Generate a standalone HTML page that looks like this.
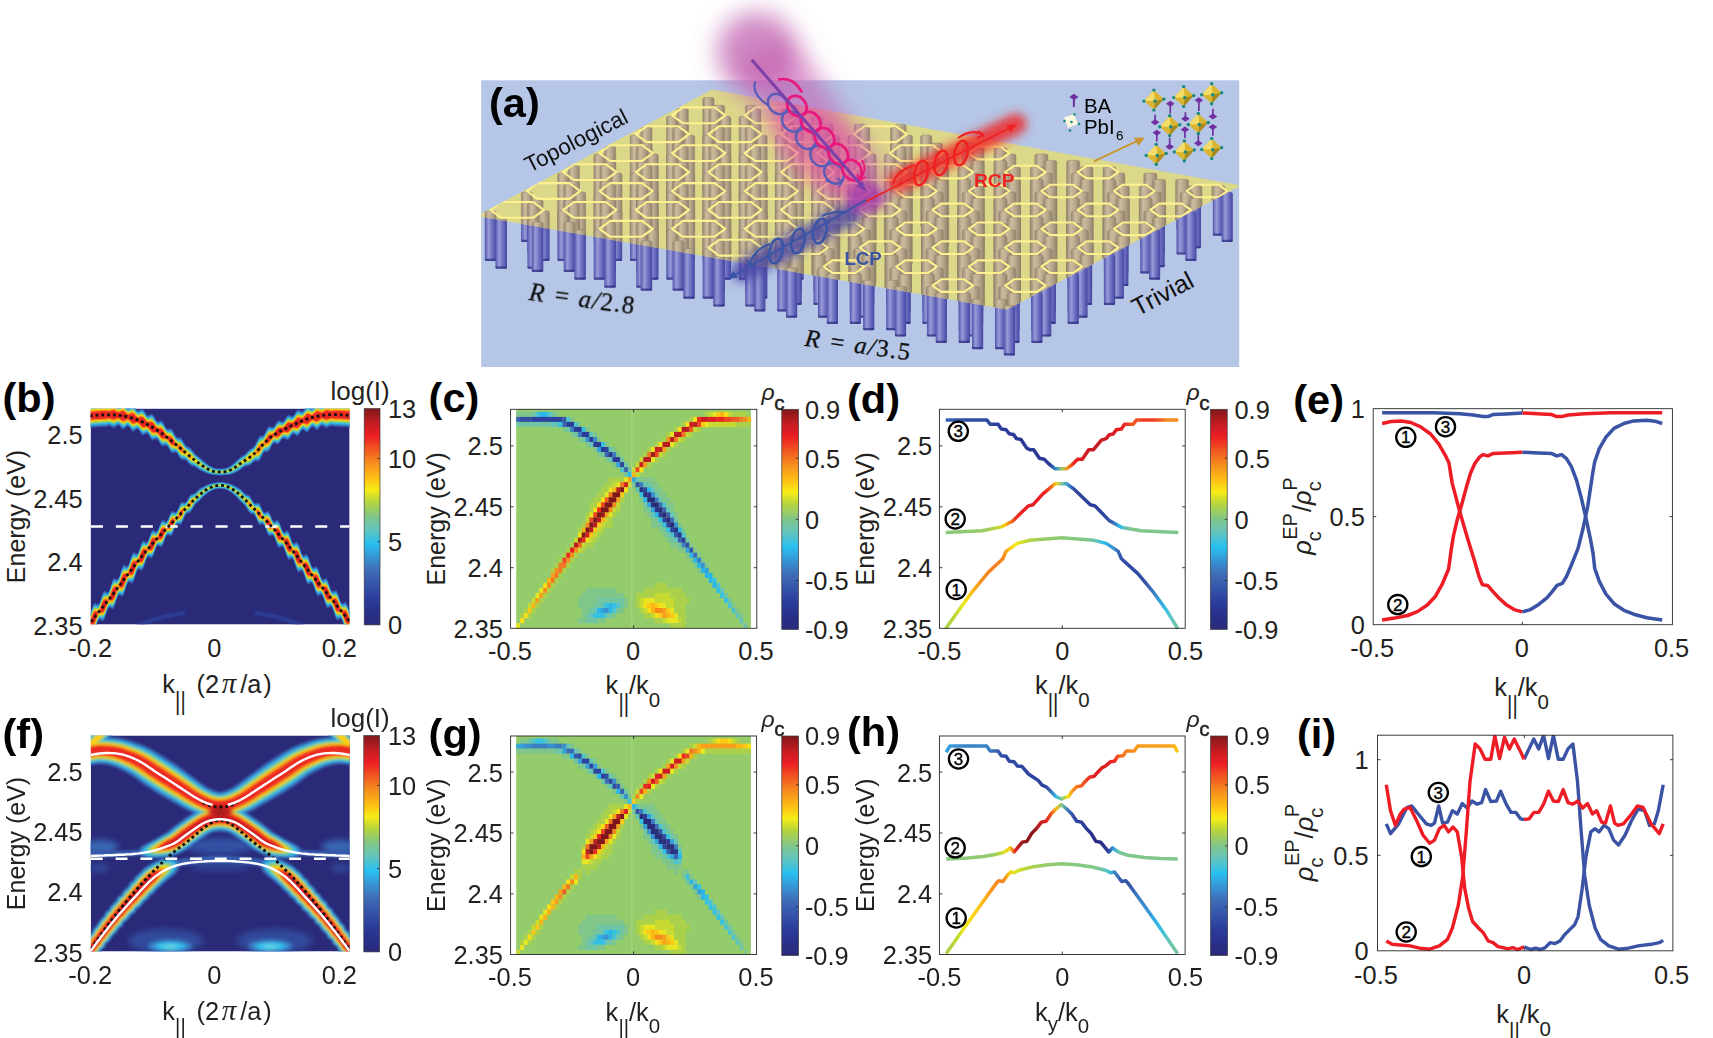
<!DOCTYPE html><html><head><meta charset="utf-8"><title>Figure</title><style>html,body{margin:0;padding:0;background:#fff}svg{display:block}text{font-family:'Liberation Sans', Arial, sans-serif}</style></head><body>
<svg width="1713" height="1038" viewBox="0 0 1713 1038">
<defs>
<linearGradient id="jetg" x1="0" y1="0" x2="0" y2="1"><stop offset="0.000" stop-color="#80181a"/><stop offset="0.060" stop-color="#be1c22"/><stop offset="0.125" stop-color="#ec1e24"/><stop offset="0.180" stop-color="#f05022"/><stop offset="0.250" stop-color="#f68c1e"/><stop offset="0.320" stop-color="#fcbe14"/><stop offset="0.375" stop-color="#f8ec16"/><stop offset="0.430" stop-color="#b6d43c"/><stop offset="0.500" stop-color="#80c68a"/><stop offset="0.560" stop-color="#62c4be"/><stop offset="0.625" stop-color="#28c0f0"/><stop offset="0.670" stop-color="#34a0dc"/><stop offset="0.750" stop-color="#3e6cb6"/><stop offset="0.875" stop-color="#2c3e9c"/><stop offset="0.940" stop-color="#28308a"/><stop offset="1.000" stop-color="#2a2a7a"/></linearGradient>
<filter id="blur05" x="-50%" y="-50%" width="200%" height="200%"><feGaussianBlur stdDeviation="0.45"/></filter>
<filter id="blur07" x="-50%" y="-50%" width="200%" height="200%"><feGaussianBlur stdDeviation="0.75"/></filter>
<filter id="blur1" x="-50%" y="-50%" width="200%" height="200%"><feGaussianBlur stdDeviation="1"/></filter>
<filter id="blur2" x="-50%" y="-50%" width="200%" height="200%"><feGaussianBlur stdDeviation="2"/></filter>
<filter id="blur3" x="-50%" y="-50%" width="200%" height="200%"><feGaussianBlur stdDeviation="3"/></filter>
<filter id="blur5" x="-50%" y="-50%" width="200%" height="200%"><feGaussianBlur stdDeviation="5"/></filter>
<filter id="blur8" x="-50%" y="-50%" width="200%" height="200%"><feGaussianBlur stdDeviation="8"/></filter>
<filter id="blur12" x="-50%" y="-50%" width="200%" height="200%"><feGaussianBlur stdDeviation="12"/></filter>
</defs>
<rect width="1713" height="1038" fill="#fff"/>
<defs>
<linearGradient id="pilg" x1="0" y1="0" x2="1" y2="0"><stop offset="0" stop-color="#5254ac"/><stop offset="0.32" stop-color="#989bd8"/><stop offset="0.62" stop-color="#7073c2"/><stop offset="1" stop-color="#4547a2"/></linearGradient>
<linearGradient id="pilt" x1="0" y1="0" x2="1" y2="0"><stop offset="0" stop-color="#918271"/><stop offset="0.32" stop-color="#cbbba0"/><stop offset="0.62" stop-color="#b6a68e"/><stop offset="1" stop-color="#8b7c6b"/></linearGradient>
<clipPath id="clipa"><rect x="481.2" y="80.3" width="758.0" height="286.7"/></clipPath>
<clipPath id="clipplane"><path d="M477.0 216.0 L712.0 89.5 L1241.0 185.5 L1007.0 309.6Z"/></clipPath>
<clipPath id="belowback"><path d="M472.0 218.7 L712.0 89.5 L1246.0 186.4 L1246.0 400 L472.0 400Z"/></clipPath>
</defs>
<rect x="481.2" y="80.3" width="758.0" height="286.7" fill="#b5c6e6"/>
<g clip-path="url(#clipa)">
<g clip-path="url(#belowback)"><rect x="702.6" y="97.4" width="11.6" height="50.0" rx="2" fill="url(#pilg)"/><rect x="702.6" y="145.2" width="11.6" height="2.2" rx="1" fill="#2e2f84" opacity="0.75"/><rect x="745.2" y="105.3" width="11.6" height="50.0" rx="2" fill="url(#pilg)"/><rect x="745.2" y="153.1" width="11.6" height="2.2" rx="1" fill="#2e2f84" opacity="0.75"/><rect x="713.2" y="105.3" width="11.6" height="50.0" rx="2" fill="url(#pilg)"/><rect x="713.2" y="153.1" width="11.6" height="2.2" rx="1" fill="#2e2f84" opacity="0.75"/><rect x="785.8" y="105.3" width="11.6" height="50.0" rx="2" fill="url(#pilg)"/><rect x="785.8" y="153.1" width="11.6" height="2.2" rx="1" fill="#2e2f84" opacity="0.75"/><rect x="676.9" y="108.4" width="11.6" height="50.0" rx="2" fill="url(#pilg)"/><rect x="676.9" y="156.2" width="11.6" height="2.2" rx="1" fill="#2e2f84" opacity="0.75"/><rect x="708.9" y="108.4" width="11.6" height="50.0" rx="2" fill="url(#pilg)"/><rect x="708.9" y="156.2" width="11.6" height="2.2" rx="1" fill="#2e2f84" opacity="0.75"/><rect x="749.5" y="108.4" width="11.6" height="50.0" rx="2" fill="url(#pilg)"/><rect x="749.5" y="156.2" width="11.6" height="2.2" rx="1" fill="#2e2f84" opacity="0.75"/><rect x="781.5" y="108.4" width="11.6" height="50.0" rx="2" fill="url(#pilg)"/><rect x="781.5" y="156.2" width="11.6" height="2.2" rx="1" fill="#2e2f84" opacity="0.75"/><rect x="666.3" y="116.3" width="11.6" height="50.0" rx="2" fill="url(#pilg)"/><rect x="666.3" y="164.1" width="11.6" height="2.2" rx="1" fill="#2e2f84" opacity="0.75"/><rect x="719.5" y="116.3" width="11.6" height="50.0" rx="2" fill="url(#pilg)"/><rect x="719.5" y="164.1" width="11.6" height="2.2" rx="1" fill="#2e2f84" opacity="0.75"/><rect x="738.9" y="116.3" width="11.6" height="50.0" rx="2" fill="url(#pilg)"/><rect x="738.9" y="164.1" width="11.6" height="2.2" rx="1" fill="#2e2f84" opacity="0.75"/><rect x="792.1" y="116.3" width="11.6" height="50.0" rx="2" fill="url(#pilg)"/><rect x="792.1" y="164.1" width="11.6" height="2.2" rx="1" fill="#2e2f84" opacity="0.75"/><rect x="811.5" y="116.3" width="11.6" height="50.0" rx="2" fill="url(#pilg)"/><rect x="811.5" y="164.1" width="11.6" height="2.2" rx="1" fill="#2e2f84" opacity="0.75"/><rect x="708.9" y="124.2" width="11.6" height="50.0" rx="2" fill="url(#pilg)"/><rect x="708.9" y="172.0" width="11.6" height="2.2" rx="1" fill="#2e2f84" opacity="0.75"/><rect x="676.9" y="124.2" width="11.6" height="50.0" rx="2" fill="url(#pilg)"/><rect x="676.9" y="172.0" width="11.6" height="2.2" rx="1" fill="#2e2f84" opacity="0.75"/><rect x="781.5" y="124.2" width="11.6" height="50.0" rx="2" fill="url(#pilg)"/><rect x="781.5" y="172.0" width="11.6" height="2.2" rx="1" fill="#2e2f84" opacity="0.75"/><rect x="749.5" y="124.2" width="11.6" height="50.0" rx="2" fill="url(#pilg)"/><rect x="749.5" y="172.0" width="11.6" height="2.2" rx="1" fill="#2e2f84" opacity="0.75"/><rect x="854.1" y="124.2" width="11.6" height="50.0" rx="2" fill="url(#pilg)"/><rect x="854.1" y="172.0" width="11.6" height="2.2" rx="1" fill="#2e2f84" opacity="0.75"/><rect x="822.1" y="124.2" width="11.6" height="50.0" rx="2" fill="url(#pilg)"/><rect x="822.1" y="172.0" width="11.6" height="2.2" rx="1" fill="#2e2f84" opacity="0.75"/><rect x="894.7" y="124.2" width="11.6" height="50.0" rx="2" fill="url(#pilg)"/><rect x="894.7" y="172.0" width="11.6" height="2.2" rx="1" fill="#2e2f84" opacity="0.75"/><rect x="640.6" y="127.3" width="11.6" height="50.0" rx="2" fill="url(#pilg)"/><rect x="640.6" y="175.1" width="11.6" height="2.2" rx="1" fill="#2e2f84" opacity="0.75"/><rect x="672.6" y="127.3" width="11.6" height="50.0" rx="2" fill="url(#pilg)"/><rect x="672.6" y="175.1" width="11.6" height="2.2" rx="1" fill="#2e2f84" opacity="0.75"/><rect x="713.2" y="127.3" width="11.6" height="50.0" rx="2" fill="url(#pilg)"/><rect x="713.2" y="175.1" width="11.6" height="2.2" rx="1" fill="#2e2f84" opacity="0.75"/><rect x="745.2" y="127.3" width="11.6" height="50.0" rx="2" fill="url(#pilg)"/><rect x="745.2" y="175.1" width="11.6" height="2.2" rx="1" fill="#2e2f84" opacity="0.75"/><rect x="785.8" y="127.3" width="11.6" height="50.0" rx="2" fill="url(#pilg)"/><rect x="785.8" y="175.1" width="11.6" height="2.2" rx="1" fill="#2e2f84" opacity="0.75"/><rect x="817.8" y="127.3" width="11.6" height="50.0" rx="2" fill="url(#pilg)"/><rect x="817.8" y="175.1" width="11.6" height="2.2" rx="1" fill="#2e2f84" opacity="0.75"/><rect x="858.4" y="127.3" width="11.6" height="50.0" rx="2" fill="url(#pilg)"/><rect x="858.4" y="175.1" width="11.6" height="2.2" rx="1" fill="#2e2f84" opacity="0.75"/><rect x="890.4" y="127.3" width="11.6" height="50.0" rx="2" fill="url(#pilg)"/><rect x="890.4" y="175.1" width="11.6" height="2.2" rx="1" fill="#2e2f84" opacity="0.75"/><rect x="630.0" y="135.2" width="11.6" height="50.0" rx="2" fill="url(#pilg)"/><rect x="630.0" y="183.0" width="11.6" height="2.2" rx="1" fill="#2e2f84" opacity="0.75"/><rect x="683.2" y="135.2" width="11.6" height="50.0" rx="2" fill="url(#pilg)"/><rect x="683.2" y="183.0" width="11.6" height="2.2" rx="1" fill="#2e2f84" opacity="0.75"/><rect x="702.6" y="135.2" width="11.6" height="50.0" rx="2" fill="url(#pilg)"/><rect x="702.6" y="183.0" width="11.6" height="2.2" rx="1" fill="#2e2f84" opacity="0.75"/><rect x="755.8" y="135.2" width="11.6" height="50.0" rx="2" fill="url(#pilg)"/><rect x="755.8" y="183.0" width="11.6" height="2.2" rx="1" fill="#2e2f84" opacity="0.75"/><rect x="775.2" y="135.2" width="11.6" height="50.0" rx="2" fill="url(#pilg)"/><rect x="775.2" y="183.0" width="11.6" height="2.2" rx="1" fill="#2e2f84" opacity="0.75"/><rect x="828.4" y="135.2" width="11.6" height="50.0" rx="2" fill="url(#pilg)"/><rect x="828.4" y="183.0" width="11.6" height="2.2" rx="1" fill="#2e2f84" opacity="0.75"/><rect x="847.8" y="135.2" width="11.6" height="50.0" rx="2" fill="url(#pilg)"/><rect x="847.8" y="183.0" width="11.6" height="2.2" rx="1" fill="#2e2f84" opacity="0.75"/><rect x="901.0" y="135.2" width="11.6" height="50.0" rx="2" fill="url(#pilg)"/><rect x="901.0" y="183.0" width="11.6" height="2.2" rx="1" fill="#2e2f84" opacity="0.75"/><rect x="920.4" y="135.2" width="11.6" height="50.0" rx="2" fill="url(#pilg)"/><rect x="920.4" y="183.0" width="11.6" height="2.2" rx="1" fill="#2e2f84" opacity="0.75"/><rect x="672.6" y="143.1" width="11.6" height="50.0" rx="2" fill="url(#pilg)"/><rect x="672.6" y="190.9" width="11.6" height="2.2" rx="1" fill="#2e2f84" opacity="0.75"/><rect x="640.6" y="143.1" width="11.6" height="50.0" rx="2" fill="url(#pilg)"/><rect x="640.6" y="190.9" width="11.6" height="2.2" rx="1" fill="#2e2f84" opacity="0.75"/><rect x="745.2" y="143.1" width="11.6" height="50.0" rx="2" fill="url(#pilg)"/><rect x="745.2" y="190.9" width="11.6" height="2.2" rx="1" fill="#2e2f84" opacity="0.75"/><rect x="713.2" y="143.1" width="11.6" height="50.0" rx="2" fill="url(#pilg)"/><rect x="713.2" y="190.9" width="11.6" height="2.2" rx="1" fill="#2e2f84" opacity="0.75"/><rect x="817.8" y="143.1" width="11.6" height="50.0" rx="2" fill="url(#pilg)"/><rect x="817.8" y="190.9" width="11.6" height="2.2" rx="1" fill="#2e2f84" opacity="0.75"/><rect x="785.8" y="143.1" width="11.6" height="50.0" rx="2" fill="url(#pilg)"/><rect x="785.8" y="190.9" width="11.6" height="2.2" rx="1" fill="#2e2f84" opacity="0.75"/><rect x="890.4" y="143.1" width="11.6" height="50.0" rx="2" fill="url(#pilg)"/><rect x="890.4" y="190.9" width="11.6" height="2.2" rx="1" fill="#2e2f84" opacity="0.75"/><rect x="858.4" y="143.1" width="11.6" height="50.0" rx="2" fill="url(#pilg)"/><rect x="858.4" y="190.9" width="11.6" height="2.2" rx="1" fill="#2e2f84" opacity="0.75"/><rect x="963.0" y="143.1" width="11.6" height="50.0" rx="2" fill="url(#pilg)"/><rect x="963.0" y="190.9" width="11.6" height="2.2" rx="1" fill="#2e2f84" opacity="0.75"/><rect x="931.0" y="143.1" width="11.6" height="50.0" rx="2" fill="url(#pilg)"/><rect x="931.0" y="190.9" width="11.6" height="2.2" rx="1" fill="#2e2f84" opacity="0.75"/><rect x="604.3" y="146.2" width="11.6" height="50.0" rx="2" fill="url(#pilg)"/><rect x="604.3" y="194.0" width="11.6" height="2.2" rx="1" fill="#2e2f84" opacity="0.75"/><rect x="636.3" y="146.2" width="11.6" height="50.0" rx="2" fill="url(#pilg)"/><rect x="636.3" y="194.0" width="11.6" height="2.2" rx="1" fill="#2e2f84" opacity="0.75"/><rect x="676.9" y="146.2" width="11.6" height="50.0" rx="2" fill="url(#pilg)"/><rect x="676.9" y="194.0" width="11.6" height="2.2" rx="1" fill="#2e2f84" opacity="0.75"/><rect x="708.9" y="146.2" width="11.6" height="50.0" rx="2" fill="url(#pilg)"/><rect x="708.9" y="194.0" width="11.6" height="2.2" rx="1" fill="#2e2f84" opacity="0.75"/><rect x="749.5" y="146.2" width="11.6" height="50.0" rx="2" fill="url(#pilg)"/><rect x="749.5" y="194.0" width="11.6" height="2.2" rx="1" fill="#2e2f84" opacity="0.75"/><rect x="781.5" y="146.2" width="11.6" height="50.0" rx="2" fill="url(#pilg)"/><rect x="781.5" y="194.0" width="11.6" height="2.2" rx="1" fill="#2e2f84" opacity="0.75"/><rect x="822.1" y="146.2" width="11.6" height="50.0" rx="2" fill="url(#pilg)"/><rect x="822.1" y="194.0" width="11.6" height="2.2" rx="1" fill="#2e2f84" opacity="0.75"/><rect x="854.1" y="146.2" width="11.6" height="50.0" rx="2" fill="url(#pilg)"/><rect x="854.1" y="194.0" width="11.6" height="2.2" rx="1" fill="#2e2f84" opacity="0.75"/><rect x="894.7" y="146.2" width="11.6" height="50.0" rx="2" fill="url(#pilg)"/><rect x="894.7" y="194.0" width="11.6" height="2.2" rx="1" fill="#2e2f84" opacity="0.75"/><rect x="926.7" y="146.2" width="11.6" height="50.0" rx="2" fill="url(#pilg)"/><rect x="926.7" y="194.0" width="11.6" height="2.2" rx="1" fill="#2e2f84" opacity="0.75"/><rect x="972.0" y="147.8" width="11.2" height="50.0" rx="2" fill="url(#pilg)"/><rect x="972.0" y="195.6" width="11.2" height="2.2" rx="1" fill="#2e2f84" opacity="0.75"/><rect x="995.0" y="147.8" width="11.2" height="50.0" rx="2" fill="url(#pilg)"/><rect x="995.0" y="195.6" width="11.2" height="2.2" rx="1" fill="#2e2f84" opacity="0.75"/><rect x="593.7" y="154.1" width="11.6" height="50.0" rx="2" fill="url(#pilg)"/><rect x="593.7" y="201.9" width="11.6" height="2.2" rx="1" fill="#2e2f84" opacity="0.75"/><rect x="646.9" y="154.1" width="11.6" height="50.0" rx="2" fill="url(#pilg)"/><rect x="646.9" y="201.9" width="11.6" height="2.2" rx="1" fill="#2e2f84" opacity="0.75"/><rect x="666.3" y="154.1" width="11.6" height="50.0" rx="2" fill="url(#pilg)"/><rect x="666.3" y="201.9" width="11.6" height="2.2" rx="1" fill="#2e2f84" opacity="0.75"/><rect x="719.5" y="154.1" width="11.6" height="50.0" rx="2" fill="url(#pilg)"/><rect x="719.5" y="201.9" width="11.6" height="2.2" rx="1" fill="#2e2f84" opacity="0.75"/><rect x="738.9" y="154.1" width="11.6" height="50.0" rx="2" fill="url(#pilg)"/><rect x="738.9" y="201.9" width="11.6" height="2.2" rx="1" fill="#2e2f84" opacity="0.75"/><rect x="792.1" y="154.1" width="11.6" height="50.0" rx="2" fill="url(#pilg)"/><rect x="792.1" y="201.9" width="11.6" height="2.2" rx="1" fill="#2e2f84" opacity="0.75"/><rect x="811.5" y="154.1" width="11.6" height="50.0" rx="2" fill="url(#pilg)"/><rect x="811.5" y="201.9" width="11.6" height="2.2" rx="1" fill="#2e2f84" opacity="0.75"/><rect x="864.7" y="154.1" width="11.6" height="50.0" rx="2" fill="url(#pilg)"/><rect x="864.7" y="201.9" width="11.6" height="2.2" rx="1" fill="#2e2f84" opacity="0.75"/><rect x="884.1" y="154.1" width="11.6" height="50.0" rx="2" fill="url(#pilg)"/><rect x="884.1" y="201.9" width="11.6" height="2.2" rx="1" fill="#2e2f84" opacity="0.75"/><rect x="937.3" y="154.1" width="11.6" height="50.0" rx="2" fill="url(#pilg)"/><rect x="937.3" y="201.9" width="11.6" height="2.2" rx="1" fill="#2e2f84" opacity="0.75"/><rect x="963.2" y="154.1" width="11.2" height="50.0" rx="2" fill="url(#pilg)"/><rect x="963.2" y="201.9" width="11.2" height="2.2" rx="1" fill="#2e2f84" opacity="0.75"/><rect x="1003.8" y="154.1" width="11.2" height="50.0" rx="2" fill="url(#pilg)"/><rect x="1003.8" y="201.9" width="11.2" height="2.2" rx="1" fill="#2e2f84" opacity="0.75"/><rect x="1035.8" y="154.1" width="11.2" height="50.0" rx="2" fill="url(#pilg)"/><rect x="1035.8" y="201.9" width="11.2" height="2.2" rx="1" fill="#2e2f84" opacity="0.75"/><rect x="995.0" y="160.4" width="11.2" height="50.0" rx="2" fill="url(#pilg)"/><rect x="995.0" y="208.2" width="11.2" height="2.2" rx="1" fill="#2e2f84" opacity="0.75"/><rect x="972.0" y="160.4" width="11.2" height="50.0" rx="2" fill="url(#pilg)"/><rect x="972.0" y="208.2" width="11.2" height="2.2" rx="1" fill="#2e2f84" opacity="0.75"/><rect x="1067.6" y="160.4" width="11.2" height="50.0" rx="2" fill="url(#pilg)"/><rect x="1067.6" y="208.2" width="11.2" height="2.2" rx="1" fill="#2e2f84" opacity="0.75"/><rect x="1044.6" y="160.4" width="11.2" height="50.0" rx="2" fill="url(#pilg)"/><rect x="1044.6" y="208.2" width="11.2" height="2.2" rx="1" fill="#2e2f84" opacity="0.75"/><rect x="636.3" y="162.0" width="11.6" height="50.0" rx="2" fill="url(#pilg)"/><rect x="636.3" y="209.8" width="11.6" height="2.2" rx="1" fill="#2e2f84" opacity="0.75"/><rect x="604.3" y="162.0" width="11.6" height="50.0" rx="2" fill="url(#pilg)"/><rect x="604.3" y="209.8" width="11.6" height="2.2" rx="1" fill="#2e2f84" opacity="0.75"/><rect x="708.9" y="162.0" width="11.6" height="50.0" rx="2" fill="url(#pilg)"/><rect x="708.9" y="209.8" width="11.6" height="2.2" rx="1" fill="#2e2f84" opacity="0.75"/><rect x="676.9" y="162.0" width="11.6" height="50.0" rx="2" fill="url(#pilg)"/><rect x="676.9" y="209.8" width="11.6" height="2.2" rx="1" fill="#2e2f84" opacity="0.75"/><rect x="781.5" y="162.0" width="11.6" height="50.0" rx="2" fill="url(#pilg)"/><rect x="781.5" y="209.8" width="11.6" height="2.2" rx="1" fill="#2e2f84" opacity="0.75"/><rect x="749.5" y="162.0" width="11.6" height="50.0" rx="2" fill="url(#pilg)"/><rect x="749.5" y="209.8" width="11.6" height="2.2" rx="1" fill="#2e2f84" opacity="0.75"/><rect x="854.1" y="162.0" width="11.6" height="50.0" rx="2" fill="url(#pilg)"/><rect x="854.1" y="209.8" width="11.6" height="2.2" rx="1" fill="#2e2f84" opacity="0.75"/><rect x="822.1" y="162.0" width="11.6" height="50.0" rx="2" fill="url(#pilg)"/><rect x="822.1" y="209.8" width="11.6" height="2.2" rx="1" fill="#2e2f84" opacity="0.75"/><rect x="926.7" y="162.0" width="11.6" height="50.0" rx="2" fill="url(#pilg)"/><rect x="926.7" y="209.8" width="11.6" height="2.2" rx="1" fill="#2e2f84" opacity="0.75"/><rect x="894.7" y="162.0" width="11.6" height="50.0" rx="2" fill="url(#pilg)"/><rect x="894.7" y="209.8" width="11.6" height="2.2" rx="1" fill="#2e2f84" opacity="0.75"/><rect x="568.0" y="165.2" width="11.6" height="50.0" rx="2" fill="url(#pilg)"/><rect x="568.0" y="213.0" width="11.6" height="2.2" rx="1" fill="#2e2f84" opacity="0.75"/><rect x="600.0" y="165.2" width="11.6" height="50.0" rx="2" fill="url(#pilg)"/><rect x="600.0" y="213.0" width="11.6" height="2.2" rx="1" fill="#2e2f84" opacity="0.75"/><rect x="640.6" y="165.2" width="11.6" height="50.0" rx="2" fill="url(#pilg)"/><rect x="640.6" y="213.0" width="11.6" height="2.2" rx="1" fill="#2e2f84" opacity="0.75"/><rect x="672.6" y="165.2" width="11.6" height="50.0" rx="2" fill="url(#pilg)"/><rect x="672.6" y="213.0" width="11.6" height="2.2" rx="1" fill="#2e2f84" opacity="0.75"/><rect x="713.2" y="165.2" width="11.6" height="50.0" rx="2" fill="url(#pilg)"/><rect x="713.2" y="213.0" width="11.6" height="2.2" rx="1" fill="#2e2f84" opacity="0.75"/><rect x="745.2" y="165.2" width="11.6" height="50.0" rx="2" fill="url(#pilg)"/><rect x="745.2" y="213.0" width="11.6" height="2.2" rx="1" fill="#2e2f84" opacity="0.75"/><rect x="785.8" y="165.2" width="11.6" height="50.0" rx="2" fill="url(#pilg)"/><rect x="785.8" y="213.0" width="11.6" height="2.2" rx="1" fill="#2e2f84" opacity="0.75"/><rect x="817.8" y="165.2" width="11.6" height="50.0" rx="2" fill="url(#pilg)"/><rect x="817.8" y="213.0" width="11.6" height="2.2" rx="1" fill="#2e2f84" opacity="0.75"/><rect x="858.4" y="165.2" width="11.6" height="50.0" rx="2" fill="url(#pilg)"/><rect x="858.4" y="213.0" width="11.6" height="2.2" rx="1" fill="#2e2f84" opacity="0.75"/><rect x="890.4" y="165.2" width="11.6" height="50.0" rx="2" fill="url(#pilg)"/><rect x="890.4" y="213.0" width="11.6" height="2.2" rx="1" fill="#2e2f84" opacity="0.75"/><rect x="935.7" y="166.8" width="11.2" height="50.0" rx="2" fill="url(#pilg)"/><rect x="935.7" y="214.6" width="11.2" height="2.2" rx="1" fill="#2e2f84" opacity="0.75"/><rect x="958.7" y="166.8" width="11.2" height="50.0" rx="2" fill="url(#pilg)"/><rect x="958.7" y="214.6" width="11.2" height="2.2" rx="1" fill="#2e2f84" opacity="0.75"/><rect x="1008.3" y="166.8" width="11.2" height="50.0" rx="2" fill="url(#pilg)"/><rect x="1008.3" y="214.6" width="11.2" height="2.2" rx="1" fill="#2e2f84" opacity="0.75"/><rect x="1031.3" y="166.8" width="11.2" height="50.0" rx="2" fill="url(#pilg)"/><rect x="1031.3" y="214.6" width="11.2" height="2.2" rx="1" fill="#2e2f84" opacity="0.75"/><rect x="1080.9" y="166.8" width="11.2" height="50.0" rx="2" fill="url(#pilg)"/><rect x="1080.9" y="214.6" width="11.2" height="2.2" rx="1" fill="#2e2f84" opacity="0.75"/><rect x="1103.9" y="166.8" width="11.2" height="50.0" rx="2" fill="url(#pilg)"/><rect x="1103.9" y="214.6" width="11.2" height="2.2" rx="1" fill="#2e2f84" opacity="0.75"/><rect x="557.4" y="173.1" width="11.6" height="50.0" rx="2" fill="url(#pilg)"/><rect x="557.4" y="220.9" width="11.6" height="2.2" rx="1" fill="#2e2f84" opacity="0.75"/><rect x="610.6" y="173.1" width="11.6" height="50.0" rx="2" fill="url(#pilg)"/><rect x="610.6" y="220.9" width="11.6" height="2.2" rx="1" fill="#2e2f84" opacity="0.75"/><rect x="630.0" y="173.1" width="11.6" height="50.0" rx="2" fill="url(#pilg)"/><rect x="630.0" y="220.9" width="11.6" height="2.2" rx="1" fill="#2e2f84" opacity="0.75"/><rect x="683.2" y="173.1" width="11.6" height="50.0" rx="2" fill="url(#pilg)"/><rect x="683.2" y="220.9" width="11.6" height="2.2" rx="1" fill="#2e2f84" opacity="0.75"/><rect x="702.6" y="173.1" width="11.6" height="50.0" rx="2" fill="url(#pilg)"/><rect x="702.6" y="220.9" width="11.6" height="2.2" rx="1" fill="#2e2f84" opacity="0.75"/><rect x="755.8" y="173.1" width="11.6" height="50.0" rx="2" fill="url(#pilg)"/><rect x="755.8" y="220.9" width="11.6" height="2.2" rx="1" fill="#2e2f84" opacity="0.75"/><rect x="775.2" y="173.1" width="11.6" height="50.0" rx="2" fill="url(#pilg)"/><rect x="775.2" y="220.9" width="11.6" height="2.2" rx="1" fill="#2e2f84" opacity="0.75"/><rect x="828.4" y="173.1" width="11.6" height="50.0" rx="2" fill="url(#pilg)"/><rect x="828.4" y="220.9" width="11.6" height="2.2" rx="1" fill="#2e2f84" opacity="0.75"/><rect x="847.8" y="173.1" width="11.6" height="50.0" rx="2" fill="url(#pilg)"/><rect x="847.8" y="220.9" width="11.6" height="2.2" rx="1" fill="#2e2f84" opacity="0.75"/><rect x="901.0" y="173.1" width="11.6" height="50.0" rx="2" fill="url(#pilg)"/><rect x="901.0" y="220.9" width="11.6" height="2.2" rx="1" fill="#2e2f84" opacity="0.75"/><rect x="926.9" y="173.1" width="11.2" height="50.0" rx="2" fill="url(#pilg)"/><rect x="926.9" y="220.9" width="11.2" height="2.2" rx="1" fill="#2e2f84" opacity="0.75"/><rect x="967.5" y="173.1" width="11.2" height="50.0" rx="2" fill="url(#pilg)"/><rect x="967.5" y="220.9" width="11.2" height="2.2" rx="1" fill="#2e2f84" opacity="0.75"/><rect x="999.5" y="173.1" width="11.2" height="50.0" rx="2" fill="url(#pilg)"/><rect x="999.5" y="220.9" width="11.2" height="2.2" rx="1" fill="#2e2f84" opacity="0.75"/><rect x="1040.1" y="173.1" width="11.2" height="50.0" rx="2" fill="url(#pilg)"/><rect x="1040.1" y="220.9" width="11.2" height="2.2" rx="1" fill="#2e2f84" opacity="0.75"/><rect x="1072.1" y="173.1" width="11.2" height="50.0" rx="2" fill="url(#pilg)"/><rect x="1072.1" y="220.9" width="11.2" height="2.2" rx="1" fill="#2e2f84" opacity="0.75"/><rect x="1112.7" y="173.1" width="11.2" height="50.0" rx="2" fill="url(#pilg)"/><rect x="1112.7" y="220.9" width="11.2" height="2.2" rx="1" fill="#2e2f84" opacity="0.75"/><rect x="1144.7" y="173.1" width="11.2" height="50.0" rx="2" fill="url(#pilg)"/><rect x="1144.7" y="220.9" width="11.2" height="2.2" rx="1" fill="#2e2f84" opacity="0.75"/><rect x="958.7" y="179.4" width="11.2" height="50.0" rx="2" fill="url(#pilg)"/><rect x="958.7" y="227.2" width="11.2" height="2.2" rx="1" fill="#2e2f84" opacity="0.75"/><rect x="935.7" y="179.4" width="11.2" height="50.0" rx="2" fill="url(#pilg)"/><rect x="935.7" y="227.2" width="11.2" height="2.2" rx="1" fill="#2e2f84" opacity="0.75"/><rect x="1031.3" y="179.4" width="11.2" height="50.0" rx="2" fill="url(#pilg)"/><rect x="1031.3" y="227.2" width="11.2" height="2.2" rx="1" fill="#2e2f84" opacity="0.75"/><rect x="1008.3" y="179.4" width="11.2" height="50.0" rx="2" fill="url(#pilg)"/><rect x="1008.3" y="227.2" width="11.2" height="2.2" rx="1" fill="#2e2f84" opacity="0.75"/><rect x="1103.9" y="179.4" width="11.2" height="50.0" rx="2" fill="url(#pilg)"/><rect x="1103.9" y="227.2" width="11.2" height="2.2" rx="1" fill="#2e2f84" opacity="0.75"/><rect x="1080.9" y="179.4" width="11.2" height="50.0" rx="2" fill="url(#pilg)"/><rect x="1080.9" y="227.2" width="11.2" height="2.2" rx="1" fill="#2e2f84" opacity="0.75"/><rect x="1176.5" y="179.4" width="11.2" height="50.0" rx="2" fill="url(#pilg)"/><rect x="1176.5" y="227.2" width="11.2" height="2.2" rx="1" fill="#2e2f84" opacity="0.75"/><rect x="1153.5" y="179.4" width="11.2" height="50.0" rx="2" fill="url(#pilg)"/><rect x="1153.5" y="227.2" width="11.2" height="2.2" rx="1" fill="#2e2f84" opacity="0.75"/><rect x="600.0" y="181.0" width="11.6" height="50.0" rx="2" fill="url(#pilg)"/><rect x="600.0" y="228.8" width="11.6" height="2.2" rx="1" fill="#2e2f84" opacity="0.75"/><rect x="568.0" y="181.0" width="11.6" height="50.0" rx="2" fill="url(#pilg)"/><rect x="568.0" y="228.8" width="11.6" height="2.2" rx="1" fill="#2e2f84" opacity="0.75"/><rect x="672.6" y="181.0" width="11.6" height="50.0" rx="2" fill="url(#pilg)"/><rect x="672.6" y="228.8" width="11.6" height="2.2" rx="1" fill="#2e2f84" opacity="0.75"/><rect x="640.6" y="181.0" width="11.6" height="50.0" rx="2" fill="url(#pilg)"/><rect x="640.6" y="228.8" width="11.6" height="2.2" rx="1" fill="#2e2f84" opacity="0.75"/><rect x="745.2" y="181.0" width="11.6" height="50.0" rx="2" fill="url(#pilg)"/><rect x="745.2" y="228.8" width="11.6" height="2.2" rx="1" fill="#2e2f84" opacity="0.75"/><rect x="713.2" y="181.0" width="11.6" height="50.0" rx="2" fill="url(#pilg)"/><rect x="713.2" y="228.8" width="11.6" height="2.2" rx="1" fill="#2e2f84" opacity="0.75"/><rect x="817.8" y="181.0" width="11.6" height="50.0" rx="2" fill="url(#pilg)"/><rect x="817.8" y="228.8" width="11.6" height="2.2" rx="1" fill="#2e2f84" opacity="0.75"/><rect x="785.8" y="181.0" width="11.6" height="50.0" rx="2" fill="url(#pilg)"/><rect x="785.8" y="228.8" width="11.6" height="2.2" rx="1" fill="#2e2f84" opacity="0.75"/><rect x="890.4" y="181.0" width="11.6" height="50.0" rx="2" fill="url(#pilg)"/><rect x="890.4" y="228.8" width="11.6" height="2.2" rx="1" fill="#2e2f84" opacity="0.75"/><rect x="858.4" y="181.0" width="11.6" height="50.0" rx="2" fill="url(#pilg)"/><rect x="858.4" y="228.8" width="11.6" height="2.2" rx="1" fill="#2e2f84" opacity="0.75"/><rect x="563.7" y="184.1" width="11.6" height="50.0" rx="2" fill="url(#pilg)"/><rect x="563.7" y="231.9" width="11.6" height="2.2" rx="1" fill="#2e2f84" opacity="0.75"/><rect x="604.3" y="184.1" width="11.6" height="50.0" rx="2" fill="url(#pilg)"/><rect x="604.3" y="231.9" width="11.6" height="2.2" rx="1" fill="#2e2f84" opacity="0.75"/><rect x="636.3" y="184.1" width="11.6" height="50.0" rx="2" fill="url(#pilg)"/><rect x="636.3" y="231.9" width="11.6" height="2.2" rx="1" fill="#2e2f84" opacity="0.75"/><rect x="676.9" y="184.1" width="11.6" height="50.0" rx="2" fill="url(#pilg)"/><rect x="676.9" y="231.9" width="11.6" height="2.2" rx="1" fill="#2e2f84" opacity="0.75"/><rect x="708.9" y="184.1" width="11.6" height="50.0" rx="2" fill="url(#pilg)"/><rect x="708.9" y="231.9" width="11.6" height="2.2" rx="1" fill="#2e2f84" opacity="0.75"/><rect x="749.5" y="184.1" width="11.6" height="50.0" rx="2" fill="url(#pilg)"/><rect x="749.5" y="231.9" width="11.6" height="2.2" rx="1" fill="#2e2f84" opacity="0.75"/><rect x="781.5" y="184.1" width="11.6" height="50.0" rx="2" fill="url(#pilg)"/><rect x="781.5" y="231.9" width="11.6" height="2.2" rx="1" fill="#2e2f84" opacity="0.75"/><rect x="822.1" y="184.1" width="11.6" height="50.0" rx="2" fill="url(#pilg)"/><rect x="822.1" y="231.9" width="11.6" height="2.2" rx="1" fill="#2e2f84" opacity="0.75"/><rect x="854.1" y="184.1" width="11.6" height="50.0" rx="2" fill="url(#pilg)"/><rect x="854.1" y="231.9" width="11.6" height="2.2" rx="1" fill="#2e2f84" opacity="0.75"/><rect x="899.4" y="185.7" width="11.2" height="50.0" rx="2" fill="url(#pilg)"/><rect x="899.4" y="233.5" width="11.2" height="2.2" rx="1" fill="#2e2f84" opacity="0.75"/><rect x="922.4" y="185.7" width="11.2" height="50.0" rx="2" fill="url(#pilg)"/><rect x="922.4" y="233.5" width="11.2" height="2.2" rx="1" fill="#2e2f84" opacity="0.75"/><rect x="972.0" y="185.7" width="11.2" height="50.0" rx="2" fill="url(#pilg)"/><rect x="972.0" y="233.5" width="11.2" height="2.2" rx="1" fill="#2e2f84" opacity="0.75"/><rect x="995.0" y="185.7" width="11.2" height="50.0" rx="2" fill="url(#pilg)"/><rect x="995.0" y="233.5" width="11.2" height="2.2" rx="1" fill="#2e2f84" opacity="0.75"/><rect x="1044.6" y="185.7" width="11.2" height="50.0" rx="2" fill="url(#pilg)"/><rect x="1044.6" y="233.5" width="11.2" height="2.2" rx="1" fill="#2e2f84" opacity="0.75"/><rect x="1067.6" y="185.7" width="11.2" height="50.0" rx="2" fill="url(#pilg)"/><rect x="1067.6" y="233.5" width="11.2" height="2.2" rx="1" fill="#2e2f84" opacity="0.75"/><rect x="1117.2" y="185.7" width="11.2" height="50.0" rx="2" fill="url(#pilg)"/><rect x="1117.2" y="233.5" width="11.2" height="2.2" rx="1" fill="#2e2f84" opacity="0.75"/><rect x="1140.2" y="185.7" width="11.2" height="50.0" rx="2" fill="url(#pilg)"/><rect x="1140.2" y="233.5" width="11.2" height="2.2" rx="1" fill="#2e2f84" opacity="0.75"/><rect x="1189.8" y="185.7" width="11.2" height="50.0" rx="2" fill="url(#pilg)"/><rect x="1189.8" y="233.5" width="11.2" height="2.2" rx="1" fill="#2e2f84" opacity="0.75"/><rect x="1212.8" y="185.7" width="11.2" height="50.0" rx="2" fill="url(#pilg)"/><rect x="1212.8" y="233.5" width="11.2" height="2.2" rx="1" fill="#2e2f84" opacity="0.75"/><rect x="521.1" y="192.0" width="11.6" height="50.0" rx="2" fill="url(#pilg)"/><rect x="521.1" y="239.8" width="11.6" height="2.2" rx="1" fill="#2e2f84" opacity="0.75"/><rect x="574.3" y="192.0" width="11.6" height="50.0" rx="2" fill="url(#pilg)"/><rect x="574.3" y="239.8" width="11.6" height="2.2" rx="1" fill="#2e2f84" opacity="0.75"/><rect x="593.7" y="192.0" width="11.6" height="50.0" rx="2" fill="url(#pilg)"/><rect x="593.7" y="239.8" width="11.6" height="2.2" rx="1" fill="#2e2f84" opacity="0.75"/><rect x="646.9" y="192.0" width="11.6" height="50.0" rx="2" fill="url(#pilg)"/><rect x="646.9" y="239.8" width="11.6" height="2.2" rx="1" fill="#2e2f84" opacity="0.75"/><rect x="666.3" y="192.0" width="11.6" height="50.0" rx="2" fill="url(#pilg)"/><rect x="666.3" y="239.8" width="11.6" height="2.2" rx="1" fill="#2e2f84" opacity="0.75"/><rect x="719.5" y="192.0" width="11.6" height="50.0" rx="2" fill="url(#pilg)"/><rect x="719.5" y="239.8" width="11.6" height="2.2" rx="1" fill="#2e2f84" opacity="0.75"/><rect x="738.9" y="192.0" width="11.6" height="50.0" rx="2" fill="url(#pilg)"/><rect x="738.9" y="239.8" width="11.6" height="2.2" rx="1" fill="#2e2f84" opacity="0.75"/><rect x="792.1" y="192.0" width="11.6" height="50.0" rx="2" fill="url(#pilg)"/><rect x="792.1" y="239.8" width="11.6" height="2.2" rx="1" fill="#2e2f84" opacity="0.75"/><rect x="811.5" y="192.0" width="11.6" height="50.0" rx="2" fill="url(#pilg)"/><rect x="811.5" y="239.8" width="11.6" height="2.2" rx="1" fill="#2e2f84" opacity="0.75"/><rect x="864.7" y="192.0" width="11.6" height="50.0" rx="2" fill="url(#pilg)"/><rect x="864.7" y="239.8" width="11.6" height="2.2" rx="1" fill="#2e2f84" opacity="0.75"/><rect x="890.6" y="192.0" width="11.2" height="50.0" rx="2" fill="url(#pilg)"/><rect x="890.6" y="239.8" width="11.2" height="2.2" rx="1" fill="#2e2f84" opacity="0.75"/><rect x="931.2" y="192.0" width="11.2" height="50.0" rx="2" fill="url(#pilg)"/><rect x="931.2" y="239.8" width="11.2" height="2.2" rx="1" fill="#2e2f84" opacity="0.75"/><rect x="963.2" y="192.0" width="11.2" height="50.0" rx="2" fill="url(#pilg)"/><rect x="963.2" y="239.8" width="11.2" height="2.2" rx="1" fill="#2e2f84" opacity="0.75"/><rect x="1003.8" y="192.0" width="11.2" height="50.0" rx="2" fill="url(#pilg)"/><rect x="1003.8" y="239.8" width="11.2" height="2.2" rx="1" fill="#2e2f84" opacity="0.75"/><rect x="1035.8" y="192.0" width="11.2" height="50.0" rx="2" fill="url(#pilg)"/><rect x="1035.8" y="239.8" width="11.2" height="2.2" rx="1" fill="#2e2f84" opacity="0.75"/><rect x="1076.4" y="192.0" width="11.2" height="50.0" rx="2" fill="url(#pilg)"/><rect x="1076.4" y="239.8" width="11.2" height="2.2" rx="1" fill="#2e2f84" opacity="0.75"/><rect x="1108.4" y="192.0" width="11.2" height="50.0" rx="2" fill="url(#pilg)"/><rect x="1108.4" y="239.8" width="11.2" height="2.2" rx="1" fill="#2e2f84" opacity="0.75"/><rect x="1149.0" y="192.0" width="11.2" height="50.0" rx="2" fill="url(#pilg)"/><rect x="1149.0" y="239.8" width="11.2" height="2.2" rx="1" fill="#2e2f84" opacity="0.75"/><rect x="1181.0" y="192.0" width="11.2" height="50.0" rx="2" fill="url(#pilg)"/><rect x="1181.0" y="239.8" width="11.2" height="2.2" rx="1" fill="#2e2f84" opacity="0.75"/><rect x="1221.6" y="192.0" width="11.2" height="50.0" rx="2" fill="url(#pilg)"/><rect x="1221.6" y="239.8" width="11.2" height="2.2" rx="1" fill="#2e2f84" opacity="0.75"/><rect x="922.4" y="198.3" width="11.2" height="50.0" rx="2" fill="url(#pilg)"/><rect x="922.4" y="246.1" width="11.2" height="2.2" rx="1" fill="#2e2f84" opacity="0.75"/><rect x="899.4" y="198.3" width="11.2" height="50.0" rx="2" fill="url(#pilg)"/><rect x="899.4" y="246.1" width="11.2" height="2.2" rx="1" fill="#2e2f84" opacity="0.75"/><rect x="995.0" y="198.3" width="11.2" height="50.0" rx="2" fill="url(#pilg)"/><rect x="995.0" y="246.1" width="11.2" height="2.2" rx="1" fill="#2e2f84" opacity="0.75"/><rect x="972.0" y="198.3" width="11.2" height="50.0" rx="2" fill="url(#pilg)"/><rect x="972.0" y="246.1" width="11.2" height="2.2" rx="1" fill="#2e2f84" opacity="0.75"/><rect x="1067.6" y="198.3" width="11.2" height="50.0" rx="2" fill="url(#pilg)"/><rect x="1067.6" y="246.1" width="11.2" height="2.2" rx="1" fill="#2e2f84" opacity="0.75"/><rect x="1044.6" y="198.3" width="11.2" height="50.0" rx="2" fill="url(#pilg)"/><rect x="1044.6" y="246.1" width="11.2" height="2.2" rx="1" fill="#2e2f84" opacity="0.75"/><rect x="1140.2" y="198.3" width="11.2" height="50.0" rx="2" fill="url(#pilg)"/><rect x="1140.2" y="246.1" width="11.2" height="2.2" rx="1" fill="#2e2f84" opacity="0.75"/><rect x="1117.2" y="198.3" width="11.2" height="50.0" rx="2" fill="url(#pilg)"/><rect x="1117.2" y="246.1" width="11.2" height="2.2" rx="1" fill="#2e2f84" opacity="0.75"/><rect x="1189.8" y="198.3" width="11.2" height="50.0" rx="2" fill="url(#pilg)"/><rect x="1189.8" y="246.1" width="11.2" height="2.2" rx="1" fill="#2e2f84" opacity="0.75"/><rect x="563.7" y="199.9" width="11.6" height="50.0" rx="2" fill="url(#pilg)"/><rect x="563.7" y="247.7" width="11.6" height="2.2" rx="1" fill="#2e2f84" opacity="0.75"/><rect x="531.7" y="199.9" width="11.6" height="50.0" rx="2" fill="url(#pilg)"/><rect x="531.7" y="247.7" width="11.6" height="2.2" rx="1" fill="#2e2f84" opacity="0.75"/><rect x="636.3" y="199.9" width="11.6" height="50.0" rx="2" fill="url(#pilg)"/><rect x="636.3" y="247.7" width="11.6" height="2.2" rx="1" fill="#2e2f84" opacity="0.75"/><rect x="604.3" y="199.9" width="11.6" height="50.0" rx="2" fill="url(#pilg)"/><rect x="604.3" y="247.7" width="11.6" height="2.2" rx="1" fill="#2e2f84" opacity="0.75"/><rect x="708.9" y="199.9" width="11.6" height="50.0" rx="2" fill="url(#pilg)"/><rect x="708.9" y="247.7" width="11.6" height="2.2" rx="1" fill="#2e2f84" opacity="0.75"/><rect x="676.9" y="199.9" width="11.6" height="50.0" rx="2" fill="url(#pilg)"/><rect x="676.9" y="247.7" width="11.6" height="2.2" rx="1" fill="#2e2f84" opacity="0.75"/><rect x="781.5" y="199.9" width="11.6" height="50.0" rx="2" fill="url(#pilg)"/><rect x="781.5" y="247.7" width="11.6" height="2.2" rx="1" fill="#2e2f84" opacity="0.75"/><rect x="749.5" y="199.9" width="11.6" height="50.0" rx="2" fill="url(#pilg)"/><rect x="749.5" y="247.7" width="11.6" height="2.2" rx="1" fill="#2e2f84" opacity="0.75"/><rect x="854.1" y="199.9" width="11.6" height="50.0" rx="2" fill="url(#pilg)"/><rect x="854.1" y="247.7" width="11.6" height="2.2" rx="1" fill="#2e2f84" opacity="0.75"/><rect x="822.1" y="199.9" width="11.6" height="50.0" rx="2" fill="url(#pilg)"/><rect x="822.1" y="247.7" width="11.6" height="2.2" rx="1" fill="#2e2f84" opacity="0.75"/><rect x="527.4" y="203.0" width="11.6" height="50.0" rx="2" fill="url(#pilg)"/><rect x="527.4" y="250.8" width="11.6" height="2.2" rx="1" fill="#2e2f84" opacity="0.75"/><rect x="568.0" y="203.0" width="11.6" height="50.0" rx="2" fill="url(#pilg)"/><rect x="568.0" y="250.8" width="11.6" height="2.2" rx="1" fill="#2e2f84" opacity="0.75"/><rect x="600.0" y="203.0" width="11.6" height="50.0" rx="2" fill="url(#pilg)"/><rect x="600.0" y="250.8" width="11.6" height="2.2" rx="1" fill="#2e2f84" opacity="0.75"/><rect x="640.6" y="203.0" width="11.6" height="50.0" rx="2" fill="url(#pilg)"/><rect x="640.6" y="250.8" width="11.6" height="2.2" rx="1" fill="#2e2f84" opacity="0.75"/><rect x="672.6" y="203.0" width="11.6" height="50.0" rx="2" fill="url(#pilg)"/><rect x="672.6" y="250.8" width="11.6" height="2.2" rx="1" fill="#2e2f84" opacity="0.75"/><rect x="713.2" y="203.0" width="11.6" height="50.0" rx="2" fill="url(#pilg)"/><rect x="713.2" y="250.8" width="11.6" height="2.2" rx="1" fill="#2e2f84" opacity="0.75"/><rect x="745.2" y="203.0" width="11.6" height="50.0" rx="2" fill="url(#pilg)"/><rect x="745.2" y="250.8" width="11.6" height="2.2" rx="1" fill="#2e2f84" opacity="0.75"/><rect x="785.8" y="203.0" width="11.6" height="50.0" rx="2" fill="url(#pilg)"/><rect x="785.8" y="250.8" width="11.6" height="2.2" rx="1" fill="#2e2f84" opacity="0.75"/><rect x="817.8" y="203.0" width="11.6" height="50.0" rx="2" fill="url(#pilg)"/><rect x="817.8" y="250.8" width="11.6" height="2.2" rx="1" fill="#2e2f84" opacity="0.75"/><rect x="863.1" y="204.6" width="11.2" height="50.0" rx="2" fill="url(#pilg)"/><rect x="863.1" y="252.4" width="11.2" height="2.2" rx="1" fill="#2e2f84" opacity="0.75"/><rect x="886.1" y="204.6" width="11.2" height="50.0" rx="2" fill="url(#pilg)"/><rect x="886.1" y="252.4" width="11.2" height="2.2" rx="1" fill="#2e2f84" opacity="0.75"/><rect x="935.7" y="204.6" width="11.2" height="50.0" rx="2" fill="url(#pilg)"/><rect x="935.7" y="252.4" width="11.2" height="2.2" rx="1" fill="#2e2f84" opacity="0.75"/><rect x="958.7" y="204.6" width="11.2" height="50.0" rx="2" fill="url(#pilg)"/><rect x="958.7" y="252.4" width="11.2" height="2.2" rx="1" fill="#2e2f84" opacity="0.75"/><rect x="1008.3" y="204.6" width="11.2" height="50.0" rx="2" fill="url(#pilg)"/><rect x="1008.3" y="252.4" width="11.2" height="2.2" rx="1" fill="#2e2f84" opacity="0.75"/><rect x="1031.3" y="204.6" width="11.2" height="50.0" rx="2" fill="url(#pilg)"/><rect x="1031.3" y="252.4" width="11.2" height="2.2" rx="1" fill="#2e2f84" opacity="0.75"/><rect x="1080.9" y="204.6" width="11.2" height="50.0" rx="2" fill="url(#pilg)"/><rect x="1080.9" y="252.4" width="11.2" height="2.2" rx="1" fill="#2e2f84" opacity="0.75"/><rect x="1103.9" y="204.6" width="11.2" height="50.0" rx="2" fill="url(#pilg)"/><rect x="1103.9" y="252.4" width="11.2" height="2.2" rx="1" fill="#2e2f84" opacity="0.75"/><rect x="1153.5" y="204.6" width="11.2" height="50.0" rx="2" fill="url(#pilg)"/><rect x="1153.5" y="252.4" width="11.2" height="2.2" rx="1" fill="#2e2f84" opacity="0.75"/><rect x="1176.5" y="204.6" width="11.2" height="50.0" rx="2" fill="url(#pilg)"/><rect x="1176.5" y="252.4" width="11.2" height="2.2" rx="1" fill="#2e2f84" opacity="0.75"/><rect x="484.8" y="210.9" width="11.6" height="50.0" rx="2" fill="url(#pilg)"/><rect x="484.8" y="258.7" width="11.6" height="2.2" rx="1" fill="#2e2f84" opacity="0.75"/><rect x="538.0" y="210.9" width="11.6" height="50.0" rx="2" fill="url(#pilg)"/><rect x="538.0" y="258.7" width="11.6" height="2.2" rx="1" fill="#2e2f84" opacity="0.75"/><rect x="557.4" y="210.9" width="11.6" height="50.0" rx="2" fill="url(#pilg)"/><rect x="557.4" y="258.7" width="11.6" height="2.2" rx="1" fill="#2e2f84" opacity="0.75"/><rect x="610.6" y="210.9" width="11.6" height="50.0" rx="2" fill="url(#pilg)"/><rect x="610.6" y="258.7" width="11.6" height="2.2" rx="1" fill="#2e2f84" opacity="0.75"/><rect x="630.0" y="210.9" width="11.6" height="50.0" rx="2" fill="url(#pilg)"/><rect x="630.0" y="258.7" width="11.6" height="2.2" rx="1" fill="#2e2f84" opacity="0.75"/><rect x="683.2" y="210.9" width="11.6" height="50.0" rx="2" fill="url(#pilg)"/><rect x="683.2" y="258.7" width="11.6" height="2.2" rx="1" fill="#2e2f84" opacity="0.75"/><rect x="702.6" y="210.9" width="11.6" height="50.0" rx="2" fill="url(#pilg)"/><rect x="702.6" y="258.7" width="11.6" height="2.2" rx="1" fill="#2e2f84" opacity="0.75"/><rect x="755.8" y="210.9" width="11.6" height="50.0" rx="2" fill="url(#pilg)"/><rect x="755.8" y="258.7" width="11.6" height="2.2" rx="1" fill="#2e2f84" opacity="0.75"/><rect x="775.2" y="210.9" width="11.6" height="50.0" rx="2" fill="url(#pilg)"/><rect x="775.2" y="258.7" width="11.6" height="2.2" rx="1" fill="#2e2f84" opacity="0.75"/><rect x="828.4" y="210.9" width="11.6" height="50.0" rx="2" fill="url(#pilg)"/><rect x="828.4" y="258.7" width="11.6" height="2.2" rx="1" fill="#2e2f84" opacity="0.75"/><rect x="854.3" y="210.9" width="11.2" height="50.0" rx="2" fill="url(#pilg)"/><rect x="854.3" y="258.7" width="11.2" height="2.2" rx="1" fill="#2e2f84" opacity="0.75"/><rect x="894.9" y="210.9" width="11.2" height="50.0" rx="2" fill="url(#pilg)"/><rect x="894.9" y="258.7" width="11.2" height="2.2" rx="1" fill="#2e2f84" opacity="0.75"/><rect x="926.9" y="210.9" width="11.2" height="50.0" rx="2" fill="url(#pilg)"/><rect x="926.9" y="258.7" width="11.2" height="2.2" rx="1" fill="#2e2f84" opacity="0.75"/><rect x="967.5" y="210.9" width="11.2" height="50.0" rx="2" fill="url(#pilg)"/><rect x="967.5" y="258.7" width="11.2" height="2.2" rx="1" fill="#2e2f84" opacity="0.75"/><rect x="999.5" y="210.9" width="11.2" height="50.0" rx="2" fill="url(#pilg)"/><rect x="999.5" y="258.7" width="11.2" height="2.2" rx="1" fill="#2e2f84" opacity="0.75"/><rect x="1040.1" y="210.9" width="11.2" height="50.0" rx="2" fill="url(#pilg)"/><rect x="1040.1" y="258.7" width="11.2" height="2.2" rx="1" fill="#2e2f84" opacity="0.75"/><rect x="1072.1" y="210.9" width="11.2" height="50.0" rx="2" fill="url(#pilg)"/><rect x="1072.1" y="258.7" width="11.2" height="2.2" rx="1" fill="#2e2f84" opacity="0.75"/><rect x="1112.7" y="210.9" width="11.2" height="50.0" rx="2" fill="url(#pilg)"/><rect x="1112.7" y="258.7" width="11.2" height="2.2" rx="1" fill="#2e2f84" opacity="0.75"/><rect x="1144.7" y="210.9" width="11.2" height="50.0" rx="2" fill="url(#pilg)"/><rect x="1144.7" y="258.7" width="11.2" height="2.2" rx="1" fill="#2e2f84" opacity="0.75"/><rect x="1185.3" y="210.9" width="11.2" height="50.0" rx="2" fill="url(#pilg)"/><rect x="1185.3" y="258.7" width="11.2" height="2.2" rx="1" fill="#2e2f84" opacity="0.75"/><rect x="886.1" y="217.2" width="11.2" height="50.0" rx="2" fill="url(#pilg)"/><rect x="886.1" y="265.0" width="11.2" height="2.2" rx="1" fill="#2e2f84" opacity="0.75"/><rect x="863.1" y="217.2" width="11.2" height="50.0" rx="2" fill="url(#pilg)"/><rect x="863.1" y="265.0" width="11.2" height="2.2" rx="1" fill="#2e2f84" opacity="0.75"/><rect x="958.7" y="217.2" width="11.2" height="50.0" rx="2" fill="url(#pilg)"/><rect x="958.7" y="265.0" width="11.2" height="2.2" rx="1" fill="#2e2f84" opacity="0.75"/><rect x="935.7" y="217.2" width="11.2" height="50.0" rx="2" fill="url(#pilg)"/><rect x="935.7" y="265.0" width="11.2" height="2.2" rx="1" fill="#2e2f84" opacity="0.75"/><rect x="1031.3" y="217.2" width="11.2" height="50.0" rx="2" fill="url(#pilg)"/><rect x="1031.3" y="265.0" width="11.2" height="2.2" rx="1" fill="#2e2f84" opacity="0.75"/><rect x="1008.3" y="217.2" width="11.2" height="50.0" rx="2" fill="url(#pilg)"/><rect x="1008.3" y="265.0" width="11.2" height="2.2" rx="1" fill="#2e2f84" opacity="0.75"/><rect x="1103.9" y="217.2" width="11.2" height="50.0" rx="2" fill="url(#pilg)"/><rect x="1103.9" y="265.0" width="11.2" height="2.2" rx="1" fill="#2e2f84" opacity="0.75"/><rect x="1080.9" y="217.2" width="11.2" height="50.0" rx="2" fill="url(#pilg)"/><rect x="1080.9" y="265.0" width="11.2" height="2.2" rx="1" fill="#2e2f84" opacity="0.75"/><rect x="1153.5" y="217.2" width="11.2" height="50.0" rx="2" fill="url(#pilg)"/><rect x="1153.5" y="265.0" width="11.2" height="2.2" rx="1" fill="#2e2f84" opacity="0.75"/><rect x="527.4" y="218.8" width="11.6" height="50.0" rx="2" fill="url(#pilg)"/><rect x="527.4" y="266.6" width="11.6" height="2.2" rx="1" fill="#2e2f84" opacity="0.75"/><rect x="495.4" y="218.8" width="11.6" height="50.0" rx="2" fill="url(#pilg)"/><rect x="495.4" y="266.6" width="11.6" height="2.2" rx="1" fill="#2e2f84" opacity="0.75"/><rect x="600.0" y="218.8" width="11.6" height="50.0" rx="2" fill="url(#pilg)"/><rect x="600.0" y="266.6" width="11.6" height="2.2" rx="1" fill="#2e2f84" opacity="0.75"/><rect x="568.0" y="218.8" width="11.6" height="50.0" rx="2" fill="url(#pilg)"/><rect x="568.0" y="266.6" width="11.6" height="2.2" rx="1" fill="#2e2f84" opacity="0.75"/><rect x="672.6" y="218.8" width="11.6" height="50.0" rx="2" fill="url(#pilg)"/><rect x="672.6" y="266.6" width="11.6" height="2.2" rx="1" fill="#2e2f84" opacity="0.75"/><rect x="640.6" y="218.8" width="11.6" height="50.0" rx="2" fill="url(#pilg)"/><rect x="640.6" y="266.6" width="11.6" height="2.2" rx="1" fill="#2e2f84" opacity="0.75"/><rect x="745.2" y="218.8" width="11.6" height="50.0" rx="2" fill="url(#pilg)"/><rect x="745.2" y="266.6" width="11.6" height="2.2" rx="1" fill="#2e2f84" opacity="0.75"/><rect x="713.2" y="218.8" width="11.6" height="50.0" rx="2" fill="url(#pilg)"/><rect x="713.2" y="266.6" width="11.6" height="2.2" rx="1" fill="#2e2f84" opacity="0.75"/><rect x="817.8" y="218.8" width="11.6" height="50.0" rx="2" fill="url(#pilg)"/><rect x="817.8" y="266.6" width="11.6" height="2.2" rx="1" fill="#2e2f84" opacity="0.75"/><rect x="785.8" y="218.8" width="11.6" height="50.0" rx="2" fill="url(#pilg)"/><rect x="785.8" y="266.6" width="11.6" height="2.2" rx="1" fill="#2e2f84" opacity="0.75"/><rect x="531.7" y="221.9" width="11.6" height="50.0" rx="2" fill="url(#pilg)"/><rect x="531.7" y="269.7" width="11.6" height="2.2" rx="1" fill="#2e2f84" opacity="0.75"/><rect x="563.7" y="221.9" width="11.6" height="50.0" rx="2" fill="url(#pilg)"/><rect x="563.7" y="269.7" width="11.6" height="2.2" rx="1" fill="#2e2f84" opacity="0.75"/><rect x="604.3" y="221.9" width="11.6" height="50.0" rx="2" fill="url(#pilg)"/><rect x="604.3" y="269.7" width="11.6" height="2.2" rx="1" fill="#2e2f84" opacity="0.75"/><rect x="636.3" y="221.9" width="11.6" height="50.0" rx="2" fill="url(#pilg)"/><rect x="636.3" y="269.7" width="11.6" height="2.2" rx="1" fill="#2e2f84" opacity="0.75"/><rect x="676.9" y="221.9" width="11.6" height="50.0" rx="2" fill="url(#pilg)"/><rect x="676.9" y="269.7" width="11.6" height="2.2" rx="1" fill="#2e2f84" opacity="0.75"/><rect x="708.9" y="221.9" width="11.6" height="50.0" rx="2" fill="url(#pilg)"/><rect x="708.9" y="269.7" width="11.6" height="2.2" rx="1" fill="#2e2f84" opacity="0.75"/><rect x="749.5" y="221.9" width="11.6" height="50.0" rx="2" fill="url(#pilg)"/><rect x="749.5" y="269.7" width="11.6" height="2.2" rx="1" fill="#2e2f84" opacity="0.75"/><rect x="781.5" y="221.9" width="11.6" height="50.0" rx="2" fill="url(#pilg)"/><rect x="781.5" y="269.7" width="11.6" height="2.2" rx="1" fill="#2e2f84" opacity="0.75"/><rect x="826.8" y="223.5" width="11.2" height="50.0" rx="2" fill="url(#pilg)"/><rect x="826.8" y="271.3" width="11.2" height="2.2" rx="1" fill="#2e2f84" opacity="0.75"/><rect x="849.8" y="223.5" width="11.2" height="50.0" rx="2" fill="url(#pilg)"/><rect x="849.8" y="271.3" width="11.2" height="2.2" rx="1" fill="#2e2f84" opacity="0.75"/><rect x="899.4" y="223.5" width="11.2" height="50.0" rx="2" fill="url(#pilg)"/><rect x="899.4" y="271.3" width="11.2" height="2.2" rx="1" fill="#2e2f84" opacity="0.75"/><rect x="922.4" y="223.5" width="11.2" height="50.0" rx="2" fill="url(#pilg)"/><rect x="922.4" y="271.3" width="11.2" height="2.2" rx="1" fill="#2e2f84" opacity="0.75"/><rect x="972.0" y="223.5" width="11.2" height="50.0" rx="2" fill="url(#pilg)"/><rect x="972.0" y="271.3" width="11.2" height="2.2" rx="1" fill="#2e2f84" opacity="0.75"/><rect x="995.0" y="223.5" width="11.2" height="50.0" rx="2" fill="url(#pilg)"/><rect x="995.0" y="271.3" width="11.2" height="2.2" rx="1" fill="#2e2f84" opacity="0.75"/><rect x="1044.6" y="223.5" width="11.2" height="50.0" rx="2" fill="url(#pilg)"/><rect x="1044.6" y="271.3" width="11.2" height="2.2" rx="1" fill="#2e2f84" opacity="0.75"/><rect x="1067.6" y="223.5" width="11.2" height="50.0" rx="2" fill="url(#pilg)"/><rect x="1067.6" y="271.3" width="11.2" height="2.2" rx="1" fill="#2e2f84" opacity="0.75"/><rect x="1117.2" y="223.5" width="11.2" height="50.0" rx="2" fill="url(#pilg)"/><rect x="1117.2" y="271.3" width="11.2" height="2.2" rx="1" fill="#2e2f84" opacity="0.75"/><rect x="1140.2" y="223.5" width="11.2" height="50.0" rx="2" fill="url(#pilg)"/><rect x="1140.2" y="271.3" width="11.2" height="2.2" rx="1" fill="#2e2f84" opacity="0.75"/><rect x="574.3" y="229.8" width="11.6" height="50.0" rx="2" fill="url(#pilg)"/><rect x="574.3" y="277.6" width="11.6" height="2.2" rx="1" fill="#2e2f84" opacity="0.75"/><rect x="593.7" y="229.8" width="11.6" height="50.0" rx="2" fill="url(#pilg)"/><rect x="593.7" y="277.6" width="11.6" height="2.2" rx="1" fill="#2e2f84" opacity="0.75"/><rect x="646.9" y="229.8" width="11.6" height="50.0" rx="2" fill="url(#pilg)"/><rect x="646.9" y="277.6" width="11.6" height="2.2" rx="1" fill="#2e2f84" opacity="0.75"/><rect x="666.3" y="229.8" width="11.6" height="50.0" rx="2" fill="url(#pilg)"/><rect x="666.3" y="277.6" width="11.6" height="2.2" rx="1" fill="#2e2f84" opacity="0.75"/><rect x="719.5" y="229.8" width="11.6" height="50.0" rx="2" fill="url(#pilg)"/><rect x="719.5" y="277.6" width="11.6" height="2.2" rx="1" fill="#2e2f84" opacity="0.75"/><rect x="738.9" y="229.8" width="11.6" height="50.0" rx="2" fill="url(#pilg)"/><rect x="738.9" y="277.6" width="11.6" height="2.2" rx="1" fill="#2e2f84" opacity="0.75"/><rect x="792.1" y="229.8" width="11.6" height="50.0" rx="2" fill="url(#pilg)"/><rect x="792.1" y="277.6" width="11.6" height="2.2" rx="1" fill="#2e2f84" opacity="0.75"/><rect x="818.0" y="229.8" width="11.2" height="50.0" rx="2" fill="url(#pilg)"/><rect x="818.0" y="277.6" width="11.2" height="2.2" rx="1" fill="#2e2f84" opacity="0.75"/><rect x="858.6" y="229.8" width="11.2" height="50.0" rx="2" fill="url(#pilg)"/><rect x="858.6" y="277.6" width="11.2" height="2.2" rx="1" fill="#2e2f84" opacity="0.75"/><rect x="890.6" y="229.8" width="11.2" height="50.0" rx="2" fill="url(#pilg)"/><rect x="890.6" y="277.6" width="11.2" height="2.2" rx="1" fill="#2e2f84" opacity="0.75"/><rect x="931.2" y="229.8" width="11.2" height="50.0" rx="2" fill="url(#pilg)"/><rect x="931.2" y="277.6" width="11.2" height="2.2" rx="1" fill="#2e2f84" opacity="0.75"/><rect x="963.2" y="229.8" width="11.2" height="50.0" rx="2" fill="url(#pilg)"/><rect x="963.2" y="277.6" width="11.2" height="2.2" rx="1" fill="#2e2f84" opacity="0.75"/><rect x="1003.8" y="229.8" width="11.2" height="50.0" rx="2" fill="url(#pilg)"/><rect x="1003.8" y="277.6" width="11.2" height="2.2" rx="1" fill="#2e2f84" opacity="0.75"/><rect x="1035.8" y="229.8" width="11.2" height="50.0" rx="2" fill="url(#pilg)"/><rect x="1035.8" y="277.6" width="11.2" height="2.2" rx="1" fill="#2e2f84" opacity="0.75"/><rect x="1076.4" y="229.8" width="11.2" height="50.0" rx="2" fill="url(#pilg)"/><rect x="1076.4" y="277.6" width="11.2" height="2.2" rx="1" fill="#2e2f84" opacity="0.75"/><rect x="1108.4" y="229.8" width="11.2" height="50.0" rx="2" fill="url(#pilg)"/><rect x="1108.4" y="277.6" width="11.2" height="2.2" rx="1" fill="#2e2f84" opacity="0.75"/><rect x="1149.0" y="229.8" width="11.2" height="50.0" rx="2" fill="url(#pilg)"/><rect x="1149.0" y="277.6" width="11.2" height="2.2" rx="1" fill="#2e2f84" opacity="0.75"/><rect x="849.8" y="236.1" width="11.2" height="50.0" rx="2" fill="url(#pilg)"/><rect x="849.8" y="283.9" width="11.2" height="2.2" rx="1" fill="#2e2f84" opacity="0.75"/><rect x="826.8" y="236.1" width="11.2" height="50.0" rx="2" fill="url(#pilg)"/><rect x="826.8" y="283.9" width="11.2" height="2.2" rx="1" fill="#2e2f84" opacity="0.75"/><rect x="922.4" y="236.1" width="11.2" height="50.0" rx="2" fill="url(#pilg)"/><rect x="922.4" y="283.9" width="11.2" height="2.2" rx="1" fill="#2e2f84" opacity="0.75"/><rect x="899.4" y="236.1" width="11.2" height="50.0" rx="2" fill="url(#pilg)"/><rect x="899.4" y="283.9" width="11.2" height="2.2" rx="1" fill="#2e2f84" opacity="0.75"/><rect x="995.0" y="236.1" width="11.2" height="50.0" rx="2" fill="url(#pilg)"/><rect x="995.0" y="283.9" width="11.2" height="2.2" rx="1" fill="#2e2f84" opacity="0.75"/><rect x="972.0" y="236.1" width="11.2" height="50.0" rx="2" fill="url(#pilg)"/><rect x="972.0" y="283.9" width="11.2" height="2.2" rx="1" fill="#2e2f84" opacity="0.75"/><rect x="1067.6" y="236.1" width="11.2" height="50.0" rx="2" fill="url(#pilg)"/><rect x="1067.6" y="283.9" width="11.2" height="2.2" rx="1" fill="#2e2f84" opacity="0.75"/><rect x="1044.6" y="236.1" width="11.2" height="50.0" rx="2" fill="url(#pilg)"/><rect x="1044.6" y="283.9" width="11.2" height="2.2" rx="1" fill="#2e2f84" opacity="0.75"/><rect x="1117.2" y="236.1" width="11.2" height="50.0" rx="2" fill="url(#pilg)"/><rect x="1117.2" y="283.9" width="11.2" height="2.2" rx="1" fill="#2e2f84" opacity="0.75"/><rect x="636.3" y="237.7" width="11.6" height="50.0" rx="2" fill="url(#pilg)"/><rect x="636.3" y="285.5" width="11.6" height="2.2" rx="1" fill="#2e2f84" opacity="0.75"/><rect x="604.3" y="237.7" width="11.6" height="50.0" rx="2" fill="url(#pilg)"/><rect x="604.3" y="285.5" width="11.6" height="2.2" rx="1" fill="#2e2f84" opacity="0.75"/><rect x="708.9" y="237.7" width="11.6" height="50.0" rx="2" fill="url(#pilg)"/><rect x="708.9" y="285.5" width="11.6" height="2.2" rx="1" fill="#2e2f84" opacity="0.75"/><rect x="676.9" y="237.7" width="11.6" height="50.0" rx="2" fill="url(#pilg)"/><rect x="676.9" y="285.5" width="11.6" height="2.2" rx="1" fill="#2e2f84" opacity="0.75"/><rect x="781.5" y="237.7" width="11.6" height="50.0" rx="2" fill="url(#pilg)"/><rect x="781.5" y="285.5" width="11.6" height="2.2" rx="1" fill="#2e2f84" opacity="0.75"/><rect x="749.5" y="237.7" width="11.6" height="50.0" rx="2" fill="url(#pilg)"/><rect x="749.5" y="285.5" width="11.6" height="2.2" rx="1" fill="#2e2f84" opacity="0.75"/><rect x="640.6" y="240.8" width="11.6" height="50.0" rx="2" fill="url(#pilg)"/><rect x="640.6" y="288.6" width="11.6" height="2.2" rx="1" fill="#2e2f84" opacity="0.75"/><rect x="672.6" y="240.8" width="11.6" height="50.0" rx="2" fill="url(#pilg)"/><rect x="672.6" y="288.6" width="11.6" height="2.2" rx="1" fill="#2e2f84" opacity="0.75"/><rect x="713.2" y="240.8" width="11.6" height="50.0" rx="2" fill="url(#pilg)"/><rect x="713.2" y="288.6" width="11.6" height="2.2" rx="1" fill="#2e2f84" opacity="0.75"/><rect x="745.2" y="240.8" width="11.6" height="50.0" rx="2" fill="url(#pilg)"/><rect x="745.2" y="288.6" width="11.6" height="2.2" rx="1" fill="#2e2f84" opacity="0.75"/><rect x="790.5" y="242.4" width="11.2" height="50.0" rx="2" fill="url(#pilg)"/><rect x="790.5" y="290.2" width="11.2" height="2.2" rx="1" fill="#2e2f84" opacity="0.75"/><rect x="813.5" y="242.4" width="11.2" height="50.0" rx="2" fill="url(#pilg)"/><rect x="813.5" y="290.2" width="11.2" height="2.2" rx="1" fill="#2e2f84" opacity="0.75"/><rect x="863.1" y="242.4" width="11.2" height="50.0" rx="2" fill="url(#pilg)"/><rect x="863.1" y="290.2" width="11.2" height="2.2" rx="1" fill="#2e2f84" opacity="0.75"/><rect x="886.1" y="242.4" width="11.2" height="50.0" rx="2" fill="url(#pilg)"/><rect x="886.1" y="290.2" width="11.2" height="2.2" rx="1" fill="#2e2f84" opacity="0.75"/><rect x="935.7" y="242.4" width="11.2" height="50.0" rx="2" fill="url(#pilg)"/><rect x="935.7" y="290.2" width="11.2" height="2.2" rx="1" fill="#2e2f84" opacity="0.75"/><rect x="958.7" y="242.4" width="11.2" height="50.0" rx="2" fill="url(#pilg)"/><rect x="958.7" y="290.2" width="11.2" height="2.2" rx="1" fill="#2e2f84" opacity="0.75"/><rect x="1008.3" y="242.4" width="11.2" height="50.0" rx="2" fill="url(#pilg)"/><rect x="1008.3" y="290.2" width="11.2" height="2.2" rx="1" fill="#2e2f84" opacity="0.75"/><rect x="1031.3" y="242.4" width="11.2" height="50.0" rx="2" fill="url(#pilg)"/><rect x="1031.3" y="290.2" width="11.2" height="2.2" rx="1" fill="#2e2f84" opacity="0.75"/><rect x="1080.9" y="242.4" width="11.2" height="50.0" rx="2" fill="url(#pilg)"/><rect x="1080.9" y="290.2" width="11.2" height="2.2" rx="1" fill="#2e2f84" opacity="0.75"/><rect x="1103.9" y="242.4" width="11.2" height="50.0" rx="2" fill="url(#pilg)"/><rect x="1103.9" y="290.2" width="11.2" height="2.2" rx="1" fill="#2e2f84" opacity="0.75"/><rect x="683.2" y="248.7" width="11.6" height="50.0" rx="2" fill="url(#pilg)"/><rect x="683.2" y="296.5" width="11.6" height="2.2" rx="1" fill="#2e2f84" opacity="0.75"/><rect x="702.6" y="248.7" width="11.6" height="50.0" rx="2" fill="url(#pilg)"/><rect x="702.6" y="296.5" width="11.6" height="2.2" rx="1" fill="#2e2f84" opacity="0.75"/><rect x="755.8" y="248.7" width="11.6" height="50.0" rx="2" fill="url(#pilg)"/><rect x="755.8" y="296.5" width="11.6" height="2.2" rx="1" fill="#2e2f84" opacity="0.75"/><rect x="781.7" y="248.7" width="11.2" height="50.0" rx="2" fill="url(#pilg)"/><rect x="781.7" y="296.5" width="11.2" height="2.2" rx="1" fill="#2e2f84" opacity="0.75"/><rect x="822.3" y="248.7" width="11.2" height="50.0" rx="2" fill="url(#pilg)"/><rect x="822.3" y="296.5" width="11.2" height="2.2" rx="1" fill="#2e2f84" opacity="0.75"/><rect x="854.3" y="248.7" width="11.2" height="50.0" rx="2" fill="url(#pilg)"/><rect x="854.3" y="296.5" width="11.2" height="2.2" rx="1" fill="#2e2f84" opacity="0.75"/><rect x="894.9" y="248.7" width="11.2" height="50.0" rx="2" fill="url(#pilg)"/><rect x="894.9" y="296.5" width="11.2" height="2.2" rx="1" fill="#2e2f84" opacity="0.75"/><rect x="926.9" y="248.7" width="11.2" height="50.0" rx="2" fill="url(#pilg)"/><rect x="926.9" y="296.5" width="11.2" height="2.2" rx="1" fill="#2e2f84" opacity="0.75"/><rect x="967.5" y="248.7" width="11.2" height="50.0" rx="2" fill="url(#pilg)"/><rect x="967.5" y="296.5" width="11.2" height="2.2" rx="1" fill="#2e2f84" opacity="0.75"/><rect x="999.5" y="248.7" width="11.2" height="50.0" rx="2" fill="url(#pilg)"/><rect x="999.5" y="296.5" width="11.2" height="2.2" rx="1" fill="#2e2f84" opacity="0.75"/><rect x="1040.1" y="248.7" width="11.2" height="50.0" rx="2" fill="url(#pilg)"/><rect x="1040.1" y="296.5" width="11.2" height="2.2" rx="1" fill="#2e2f84" opacity="0.75"/><rect x="1072.1" y="248.7" width="11.2" height="50.0" rx="2" fill="url(#pilg)"/><rect x="1072.1" y="296.5" width="11.2" height="2.2" rx="1" fill="#2e2f84" opacity="0.75"/><rect x="1112.7" y="248.7" width="11.2" height="50.0" rx="2" fill="url(#pilg)"/><rect x="1112.7" y="296.5" width="11.2" height="2.2" rx="1" fill="#2e2f84" opacity="0.75"/><rect x="813.5" y="255.0" width="11.2" height="50.0" rx="2" fill="url(#pilg)"/><rect x="813.5" y="302.8" width="11.2" height="2.2" rx="1" fill="#2e2f84" opacity="0.75"/><rect x="790.5" y="255.0" width="11.2" height="50.0" rx="2" fill="url(#pilg)"/><rect x="790.5" y="302.8" width="11.2" height="2.2" rx="1" fill="#2e2f84" opacity="0.75"/><rect x="886.1" y="255.0" width="11.2" height="50.0" rx="2" fill="url(#pilg)"/><rect x="886.1" y="302.8" width="11.2" height="2.2" rx="1" fill="#2e2f84" opacity="0.75"/><rect x="863.1" y="255.0" width="11.2" height="50.0" rx="2" fill="url(#pilg)"/><rect x="863.1" y="302.8" width="11.2" height="2.2" rx="1" fill="#2e2f84" opacity="0.75"/><rect x="958.7" y="255.0" width="11.2" height="50.0" rx="2" fill="url(#pilg)"/><rect x="958.7" y="302.8" width="11.2" height="2.2" rx="1" fill="#2e2f84" opacity="0.75"/><rect x="935.7" y="255.0" width="11.2" height="50.0" rx="2" fill="url(#pilg)"/><rect x="935.7" y="302.8" width="11.2" height="2.2" rx="1" fill="#2e2f84" opacity="0.75"/><rect x="1031.3" y="255.0" width="11.2" height="50.0" rx="2" fill="url(#pilg)"/><rect x="1031.3" y="302.8" width="11.2" height="2.2" rx="1" fill="#2e2f84" opacity="0.75"/><rect x="1008.3" y="255.0" width="11.2" height="50.0" rx="2" fill="url(#pilg)"/><rect x="1008.3" y="302.8" width="11.2" height="2.2" rx="1" fill="#2e2f84" opacity="0.75"/><rect x="1103.9" y="255.0" width="11.2" height="50.0" rx="2" fill="url(#pilg)"/><rect x="1103.9" y="302.8" width="11.2" height="2.2" rx="1" fill="#2e2f84" opacity="0.75"/><rect x="1080.9" y="255.0" width="11.2" height="50.0" rx="2" fill="url(#pilg)"/><rect x="1080.9" y="302.8" width="11.2" height="2.2" rx="1" fill="#2e2f84" opacity="0.75"/><rect x="745.2" y="256.6" width="11.6" height="50.0" rx="2" fill="url(#pilg)"/><rect x="745.2" y="304.4" width="11.6" height="2.2" rx="1" fill="#2e2f84" opacity="0.75"/><rect x="713.2" y="256.6" width="11.6" height="50.0" rx="2" fill="url(#pilg)"/><rect x="713.2" y="304.4" width="11.6" height="2.2" rx="1" fill="#2e2f84" opacity="0.75"/><rect x="754.2" y="261.4" width="11.2" height="50.0" rx="2" fill="url(#pilg)"/><rect x="754.2" y="309.2" width="11.2" height="2.2" rx="1" fill="#2e2f84" opacity="0.75"/><rect x="777.2" y="261.4" width="11.2" height="50.0" rx="2" fill="url(#pilg)"/><rect x="777.2" y="309.2" width="11.2" height="2.2" rx="1" fill="#2e2f84" opacity="0.75"/><rect x="826.8" y="261.4" width="11.2" height="50.0" rx="2" fill="url(#pilg)"/><rect x="826.8" y="309.2" width="11.2" height="2.2" rx="1" fill="#2e2f84" opacity="0.75"/><rect x="849.8" y="261.4" width="11.2" height="50.0" rx="2" fill="url(#pilg)"/><rect x="849.8" y="309.2" width="11.2" height="2.2" rx="1" fill="#2e2f84" opacity="0.75"/><rect x="899.4" y="261.4" width="11.2" height="50.0" rx="2" fill="url(#pilg)"/><rect x="899.4" y="309.2" width="11.2" height="2.2" rx="1" fill="#2e2f84" opacity="0.75"/><rect x="922.4" y="261.4" width="11.2" height="50.0" rx="2" fill="url(#pilg)"/><rect x="922.4" y="309.2" width="11.2" height="2.2" rx="1" fill="#2e2f84" opacity="0.75"/><rect x="972.0" y="261.4" width="11.2" height="50.0" rx="2" fill="url(#pilg)"/><rect x="972.0" y="309.2" width="11.2" height="2.2" rx="1" fill="#2e2f84" opacity="0.75"/><rect x="995.0" y="261.4" width="11.2" height="50.0" rx="2" fill="url(#pilg)"/><rect x="995.0" y="309.2" width="11.2" height="2.2" rx="1" fill="#2e2f84" opacity="0.75"/><rect x="1044.6" y="261.4" width="11.2" height="50.0" rx="2" fill="url(#pilg)"/><rect x="1044.6" y="309.2" width="11.2" height="2.2" rx="1" fill="#2e2f84" opacity="0.75"/><rect x="1067.6" y="261.4" width="11.2" height="50.0" rx="2" fill="url(#pilg)"/><rect x="1067.6" y="309.2" width="11.2" height="2.2" rx="1" fill="#2e2f84" opacity="0.75"/><rect x="786.0" y="267.7" width="11.2" height="50.0" rx="2" fill="url(#pilg)"/><rect x="786.0" y="315.5" width="11.2" height="2.2" rx="1" fill="#2e2f84" opacity="0.75"/><rect x="818.0" y="267.7" width="11.2" height="50.0" rx="2" fill="url(#pilg)"/><rect x="818.0" y="315.5" width="11.2" height="2.2" rx="1" fill="#2e2f84" opacity="0.75"/><rect x="858.6" y="267.7" width="11.2" height="50.0" rx="2" fill="url(#pilg)"/><rect x="858.6" y="315.5" width="11.2" height="2.2" rx="1" fill="#2e2f84" opacity="0.75"/><rect x="890.6" y="267.7" width="11.2" height="50.0" rx="2" fill="url(#pilg)"/><rect x="890.6" y="315.5" width="11.2" height="2.2" rx="1" fill="#2e2f84" opacity="0.75"/><rect x="931.2" y="267.7" width="11.2" height="50.0" rx="2" fill="url(#pilg)"/><rect x="931.2" y="315.5" width="11.2" height="2.2" rx="1" fill="#2e2f84" opacity="0.75"/><rect x="963.2" y="267.7" width="11.2" height="50.0" rx="2" fill="url(#pilg)"/><rect x="963.2" y="315.5" width="11.2" height="2.2" rx="1" fill="#2e2f84" opacity="0.75"/><rect x="1003.8" y="267.7" width="11.2" height="50.0" rx="2" fill="url(#pilg)"/><rect x="1003.8" y="315.5" width="11.2" height="2.2" rx="1" fill="#2e2f84" opacity="0.75"/><rect x="1035.8" y="267.7" width="11.2" height="50.0" rx="2" fill="url(#pilg)"/><rect x="1035.8" y="315.5" width="11.2" height="2.2" rx="1" fill="#2e2f84" opacity="0.75"/><rect x="1076.4" y="267.7" width="11.2" height="50.0" rx="2" fill="url(#pilg)"/><rect x="1076.4" y="315.5" width="11.2" height="2.2" rx="1" fill="#2e2f84" opacity="0.75"/><rect x="849.8" y="274.0" width="11.2" height="50.0" rx="2" fill="url(#pilg)"/><rect x="849.8" y="321.8" width="11.2" height="2.2" rx="1" fill="#2e2f84" opacity="0.75"/><rect x="826.8" y="274.0" width="11.2" height="50.0" rx="2" fill="url(#pilg)"/><rect x="826.8" y="321.8" width="11.2" height="2.2" rx="1" fill="#2e2f84" opacity="0.75"/><rect x="922.4" y="274.0" width="11.2" height="50.0" rx="2" fill="url(#pilg)"/><rect x="922.4" y="321.8" width="11.2" height="2.2" rx="1" fill="#2e2f84" opacity="0.75"/><rect x="899.4" y="274.0" width="11.2" height="50.0" rx="2" fill="url(#pilg)"/><rect x="899.4" y="321.8" width="11.2" height="2.2" rx="1" fill="#2e2f84" opacity="0.75"/><rect x="995.0" y="274.0" width="11.2" height="50.0" rx="2" fill="url(#pilg)"/><rect x="995.0" y="321.8" width="11.2" height="2.2" rx="1" fill="#2e2f84" opacity="0.75"/><rect x="972.0" y="274.0" width="11.2" height="50.0" rx="2" fill="url(#pilg)"/><rect x="972.0" y="321.8" width="11.2" height="2.2" rx="1" fill="#2e2f84" opacity="0.75"/><rect x="1067.6" y="274.0" width="11.2" height="50.0" rx="2" fill="url(#pilg)"/><rect x="1067.6" y="321.8" width="11.2" height="2.2" rx="1" fill="#2e2f84" opacity="0.75"/><rect x="1044.6" y="274.0" width="11.2" height="50.0" rx="2" fill="url(#pilg)"/><rect x="1044.6" y="321.8" width="11.2" height="2.2" rx="1" fill="#2e2f84" opacity="0.75"/><rect x="863.1" y="280.3" width="11.2" height="50.0" rx="2" fill="url(#pilg)"/><rect x="863.1" y="328.1" width="11.2" height="2.2" rx="1" fill="#2e2f84" opacity="0.75"/><rect x="886.1" y="280.3" width="11.2" height="50.0" rx="2" fill="url(#pilg)"/><rect x="886.1" y="328.1" width="11.2" height="2.2" rx="1" fill="#2e2f84" opacity="0.75"/><rect x="935.7" y="280.3" width="11.2" height="50.0" rx="2" fill="url(#pilg)"/><rect x="935.7" y="328.1" width="11.2" height="2.2" rx="1" fill="#2e2f84" opacity="0.75"/><rect x="958.7" y="280.3" width="11.2" height="50.0" rx="2" fill="url(#pilg)"/><rect x="958.7" y="328.1" width="11.2" height="2.2" rx="1" fill="#2e2f84" opacity="0.75"/><rect x="1008.3" y="280.3" width="11.2" height="50.0" rx="2" fill="url(#pilg)"/><rect x="1008.3" y="328.1" width="11.2" height="2.2" rx="1" fill="#2e2f84" opacity="0.75"/><rect x="1031.3" y="280.3" width="11.2" height="50.0" rx="2" fill="url(#pilg)"/><rect x="1031.3" y="328.1" width="11.2" height="2.2" rx="1" fill="#2e2f84" opacity="0.75"/><rect x="894.9" y="286.6" width="11.2" height="50.0" rx="2" fill="url(#pilg)"/><rect x="894.9" y="334.4" width="11.2" height="2.2" rx="1" fill="#2e2f84" opacity="0.75"/><rect x="926.9" y="286.6" width="11.2" height="50.0" rx="2" fill="url(#pilg)"/><rect x="926.9" y="334.4" width="11.2" height="2.2" rx="1" fill="#2e2f84" opacity="0.75"/><rect x="967.5" y="286.6" width="11.2" height="50.0" rx="2" fill="url(#pilg)"/><rect x="967.5" y="334.4" width="11.2" height="2.2" rx="1" fill="#2e2f84" opacity="0.75"/><rect x="999.5" y="286.6" width="11.2" height="50.0" rx="2" fill="url(#pilg)"/><rect x="999.5" y="334.4" width="11.2" height="2.2" rx="1" fill="#2e2f84" opacity="0.75"/><rect x="1040.1" y="286.6" width="11.2" height="50.0" rx="2" fill="url(#pilg)"/><rect x="1040.1" y="334.4" width="11.2" height="2.2" rx="1" fill="#2e2f84" opacity="0.75"/><rect x="958.7" y="292.9" width="11.2" height="50.0" rx="2" fill="url(#pilg)"/><rect x="958.7" y="340.7" width="11.2" height="2.2" rx="1" fill="#2e2f84" opacity="0.75"/><rect x="935.7" y="292.9" width="11.2" height="50.0" rx="2" fill="url(#pilg)"/><rect x="935.7" y="340.7" width="11.2" height="2.2" rx="1" fill="#2e2f84" opacity="0.75"/><rect x="1031.3" y="292.9" width="11.2" height="50.0" rx="2" fill="url(#pilg)"/><rect x="1031.3" y="340.7" width="11.2" height="2.2" rx="1" fill="#2e2f84" opacity="0.75"/><rect x="1008.3" y="292.9" width="11.2" height="50.0" rx="2" fill="url(#pilg)"/><rect x="1008.3" y="340.7" width="11.2" height="2.2" rx="1" fill="#2e2f84" opacity="0.75"/><rect x="972.0" y="299.2" width="11.2" height="50.0" rx="2" fill="url(#pilg)"/><rect x="972.0" y="347.0" width="11.2" height="2.2" rx="1" fill="#2e2f84" opacity="0.75"/><rect x="995.0" y="299.2" width="11.2" height="50.0" rx="2" fill="url(#pilg)"/><rect x="995.0" y="347.0" width="11.2" height="2.2" rx="1" fill="#2e2f84" opacity="0.75"/><rect x="1003.8" y="305.5" width="11.2" height="50.0" rx="2" fill="url(#pilg)"/><rect x="1003.8" y="353.3" width="11.2" height="2.2" rx="1" fill="#2e2f84" opacity="0.75"/></g>
<path d="M477.0 216.0 L712.0 89.5 L1241.0 185.5 L1007.0 309.6Z" fill="#dcd88a"/>
<g clip-path="url(#clipplane)" opacity="0.92"><rect x="702.8" y="97.4" width="11.2" height="92.0" rx="2" fill="url(#pilt)" stroke="#8a7a66" stroke-width="0.5"/><rect x="745.4" y="105.3" width="11.2" height="92.0" rx="2" fill="url(#pilt)" stroke="#8a7a66" stroke-width="0.5"/><rect x="713.4" y="105.3" width="11.2" height="92.0" rx="2" fill="url(#pilt)" stroke="#8a7a66" stroke-width="0.5"/><rect x="786.0" y="105.3" width="11.2" height="92.0" rx="2" fill="url(#pilt)" stroke="#8a7a66" stroke-width="0.5"/><rect x="677.1" y="108.4" width="11.2" height="92.0" rx="2" fill="url(#pilt)" stroke="#8a7a66" stroke-width="0.5"/><rect x="709.1" y="108.4" width="11.2" height="92.0" rx="2" fill="url(#pilt)" stroke="#8a7a66" stroke-width="0.5"/><rect x="749.7" y="108.4" width="11.2" height="92.0" rx="2" fill="url(#pilt)" stroke="#8a7a66" stroke-width="0.5"/><rect x="781.7" y="108.4" width="11.2" height="92.0" rx="2" fill="url(#pilt)" stroke="#8a7a66" stroke-width="0.5"/><rect x="666.5" y="116.3" width="11.2" height="92.0" rx="2" fill="url(#pilt)" stroke="#8a7a66" stroke-width="0.5"/><rect x="719.7" y="116.3" width="11.2" height="92.0" rx="2" fill="url(#pilt)" stroke="#8a7a66" stroke-width="0.5"/><rect x="739.1" y="116.3" width="11.2" height="92.0" rx="2" fill="url(#pilt)" stroke="#8a7a66" stroke-width="0.5"/><rect x="792.3" y="116.3" width="11.2" height="92.0" rx="2" fill="url(#pilt)" stroke="#8a7a66" stroke-width="0.5"/><rect x="811.7" y="116.3" width="11.2" height="92.0" rx="2" fill="url(#pilt)" stroke="#8a7a66" stroke-width="0.5"/><rect x="709.1" y="124.2" width="11.2" height="92.0" rx="2" fill="url(#pilt)" stroke="#8a7a66" stroke-width="0.5"/><rect x="677.1" y="124.2" width="11.2" height="92.0" rx="2" fill="url(#pilt)" stroke="#8a7a66" stroke-width="0.5"/><rect x="781.7" y="124.2" width="11.2" height="92.0" rx="2" fill="url(#pilt)" stroke="#8a7a66" stroke-width="0.5"/><rect x="749.7" y="124.2" width="11.2" height="92.0" rx="2" fill="url(#pilt)" stroke="#8a7a66" stroke-width="0.5"/><rect x="854.3" y="124.2" width="11.2" height="92.0" rx="2" fill="url(#pilt)" stroke="#8a7a66" stroke-width="0.5"/><rect x="822.3" y="124.2" width="11.2" height="92.0" rx="2" fill="url(#pilt)" stroke="#8a7a66" stroke-width="0.5"/><rect x="894.9" y="124.2" width="11.2" height="92.0" rx="2" fill="url(#pilt)" stroke="#8a7a66" stroke-width="0.5"/><rect x="640.8" y="127.3" width="11.2" height="92.0" rx="2" fill="url(#pilt)" stroke="#8a7a66" stroke-width="0.5"/><rect x="672.8" y="127.3" width="11.2" height="92.0" rx="2" fill="url(#pilt)" stroke="#8a7a66" stroke-width="0.5"/><rect x="713.4" y="127.3" width="11.2" height="92.0" rx="2" fill="url(#pilt)" stroke="#8a7a66" stroke-width="0.5"/><rect x="745.4" y="127.3" width="11.2" height="92.0" rx="2" fill="url(#pilt)" stroke="#8a7a66" stroke-width="0.5"/><rect x="786.0" y="127.3" width="11.2" height="92.0" rx="2" fill="url(#pilt)" stroke="#8a7a66" stroke-width="0.5"/><rect x="818.0" y="127.3" width="11.2" height="92.0" rx="2" fill="url(#pilt)" stroke="#8a7a66" stroke-width="0.5"/><rect x="858.6" y="127.3" width="11.2" height="92.0" rx="2" fill="url(#pilt)" stroke="#8a7a66" stroke-width="0.5"/><rect x="890.6" y="127.3" width="11.2" height="92.0" rx="2" fill="url(#pilt)" stroke="#8a7a66" stroke-width="0.5"/><rect x="630.2" y="135.2" width="11.2" height="92.0" rx="2" fill="url(#pilt)" stroke="#8a7a66" stroke-width="0.5"/><rect x="683.4" y="135.2" width="11.2" height="92.0" rx="2" fill="url(#pilt)" stroke="#8a7a66" stroke-width="0.5"/><rect x="702.8" y="135.2" width="11.2" height="92.0" rx="2" fill="url(#pilt)" stroke="#8a7a66" stroke-width="0.5"/><rect x="756.0" y="135.2" width="11.2" height="92.0" rx="2" fill="url(#pilt)" stroke="#8a7a66" stroke-width="0.5"/><rect x="775.4" y="135.2" width="11.2" height="92.0" rx="2" fill="url(#pilt)" stroke="#8a7a66" stroke-width="0.5"/><rect x="828.6" y="135.2" width="11.2" height="92.0" rx="2" fill="url(#pilt)" stroke="#8a7a66" stroke-width="0.5"/><rect x="848.0" y="135.2" width="11.2" height="92.0" rx="2" fill="url(#pilt)" stroke="#8a7a66" stroke-width="0.5"/><rect x="901.2" y="135.2" width="11.2" height="92.0" rx="2" fill="url(#pilt)" stroke="#8a7a66" stroke-width="0.5"/><rect x="920.6" y="135.2" width="11.2" height="92.0" rx="2" fill="url(#pilt)" stroke="#8a7a66" stroke-width="0.5"/><rect x="672.8" y="143.1" width="11.2" height="92.0" rx="2" fill="url(#pilt)" stroke="#8a7a66" stroke-width="0.5"/><rect x="640.8" y="143.1" width="11.2" height="92.0" rx="2" fill="url(#pilt)" stroke="#8a7a66" stroke-width="0.5"/><rect x="745.4" y="143.1" width="11.2" height="92.0" rx="2" fill="url(#pilt)" stroke="#8a7a66" stroke-width="0.5"/><rect x="713.4" y="143.1" width="11.2" height="92.0" rx="2" fill="url(#pilt)" stroke="#8a7a66" stroke-width="0.5"/><rect x="818.0" y="143.1" width="11.2" height="92.0" rx="2" fill="url(#pilt)" stroke="#8a7a66" stroke-width="0.5"/><rect x="786.0" y="143.1" width="11.2" height="92.0" rx="2" fill="url(#pilt)" stroke="#8a7a66" stroke-width="0.5"/><rect x="890.6" y="143.1" width="11.2" height="92.0" rx="2" fill="url(#pilt)" stroke="#8a7a66" stroke-width="0.5"/><rect x="858.6" y="143.1" width="11.2" height="92.0" rx="2" fill="url(#pilt)" stroke="#8a7a66" stroke-width="0.5"/><rect x="963.2" y="143.1" width="11.2" height="92.0" rx="2" fill="url(#pilt)" stroke="#8a7a66" stroke-width="0.5"/><rect x="931.2" y="143.1" width="11.2" height="92.0" rx="2" fill="url(#pilt)" stroke="#8a7a66" stroke-width="0.5"/><rect x="604.5" y="146.2" width="11.2" height="92.0" rx="2" fill="url(#pilt)" stroke="#8a7a66" stroke-width="0.5"/><rect x="636.5" y="146.2" width="11.2" height="92.0" rx="2" fill="url(#pilt)" stroke="#8a7a66" stroke-width="0.5"/><rect x="677.1" y="146.2" width="11.2" height="92.0" rx="2" fill="url(#pilt)" stroke="#8a7a66" stroke-width="0.5"/><rect x="709.1" y="146.2" width="11.2" height="92.0" rx="2" fill="url(#pilt)" stroke="#8a7a66" stroke-width="0.5"/><rect x="749.7" y="146.2" width="11.2" height="92.0" rx="2" fill="url(#pilt)" stroke="#8a7a66" stroke-width="0.5"/><rect x="781.7" y="146.2" width="11.2" height="92.0" rx="2" fill="url(#pilt)" stroke="#8a7a66" stroke-width="0.5"/><rect x="822.3" y="146.2" width="11.2" height="92.0" rx="2" fill="url(#pilt)" stroke="#8a7a66" stroke-width="0.5"/><rect x="854.3" y="146.2" width="11.2" height="92.0" rx="2" fill="url(#pilt)" stroke="#8a7a66" stroke-width="0.5"/><rect x="894.9" y="146.2" width="11.2" height="92.0" rx="2" fill="url(#pilt)" stroke="#8a7a66" stroke-width="0.5"/><rect x="926.9" y="146.2" width="11.2" height="92.0" rx="2" fill="url(#pilt)" stroke="#8a7a66" stroke-width="0.5"/><rect x="971.1" y="147.8" width="13.0" height="92.0" rx="2" fill="url(#pilt)" stroke="#8a7a66" stroke-width="0.5"/><rect x="994.1" y="147.8" width="13.0" height="92.0" rx="2" fill="url(#pilt)" stroke="#8a7a66" stroke-width="0.5"/><rect x="593.9" y="154.1" width="11.2" height="92.0" rx="2" fill="url(#pilt)" stroke="#8a7a66" stroke-width="0.5"/><rect x="647.1" y="154.1" width="11.2" height="92.0" rx="2" fill="url(#pilt)" stroke="#8a7a66" stroke-width="0.5"/><rect x="666.5" y="154.1" width="11.2" height="92.0" rx="2" fill="url(#pilt)" stroke="#8a7a66" stroke-width="0.5"/><rect x="719.7" y="154.1" width="11.2" height="92.0" rx="2" fill="url(#pilt)" stroke="#8a7a66" stroke-width="0.5"/><rect x="739.1" y="154.1" width="11.2" height="92.0" rx="2" fill="url(#pilt)" stroke="#8a7a66" stroke-width="0.5"/><rect x="792.3" y="154.1" width="11.2" height="92.0" rx="2" fill="url(#pilt)" stroke="#8a7a66" stroke-width="0.5"/><rect x="811.7" y="154.1" width="11.2" height="92.0" rx="2" fill="url(#pilt)" stroke="#8a7a66" stroke-width="0.5"/><rect x="864.9" y="154.1" width="11.2" height="92.0" rx="2" fill="url(#pilt)" stroke="#8a7a66" stroke-width="0.5"/><rect x="884.3" y="154.1" width="11.2" height="92.0" rx="2" fill="url(#pilt)" stroke="#8a7a66" stroke-width="0.5"/><rect x="937.5" y="154.1" width="11.2" height="92.0" rx="2" fill="url(#pilt)" stroke="#8a7a66" stroke-width="0.5"/><rect x="962.3" y="154.1" width="13.0" height="92.0" rx="2" fill="url(#pilt)" stroke="#8a7a66" stroke-width="0.5"/><rect x="1002.9" y="154.1" width="13.0" height="92.0" rx="2" fill="url(#pilt)" stroke="#8a7a66" stroke-width="0.5"/><rect x="1034.9" y="154.1" width="13.0" height="92.0" rx="2" fill="url(#pilt)" stroke="#8a7a66" stroke-width="0.5"/><rect x="994.1" y="160.4" width="13.0" height="92.0" rx="2" fill="url(#pilt)" stroke="#8a7a66" stroke-width="0.5"/><rect x="971.1" y="160.4" width="13.0" height="92.0" rx="2" fill="url(#pilt)" stroke="#8a7a66" stroke-width="0.5"/><rect x="1066.7" y="160.4" width="13.0" height="92.0" rx="2" fill="url(#pilt)" stroke="#8a7a66" stroke-width="0.5"/><rect x="1043.7" y="160.4" width="13.0" height="92.0" rx="2" fill="url(#pilt)" stroke="#8a7a66" stroke-width="0.5"/><rect x="636.5" y="162.0" width="11.2" height="92.0" rx="2" fill="url(#pilt)" stroke="#8a7a66" stroke-width="0.5"/><rect x="604.5" y="162.0" width="11.2" height="92.0" rx="2" fill="url(#pilt)" stroke="#8a7a66" stroke-width="0.5"/><rect x="709.1" y="162.0" width="11.2" height="92.0" rx="2" fill="url(#pilt)" stroke="#8a7a66" stroke-width="0.5"/><rect x="677.1" y="162.0" width="11.2" height="92.0" rx="2" fill="url(#pilt)" stroke="#8a7a66" stroke-width="0.5"/><rect x="781.7" y="162.0" width="11.2" height="92.0" rx="2" fill="url(#pilt)" stroke="#8a7a66" stroke-width="0.5"/><rect x="749.7" y="162.0" width="11.2" height="92.0" rx="2" fill="url(#pilt)" stroke="#8a7a66" stroke-width="0.5"/><rect x="854.3" y="162.0" width="11.2" height="92.0" rx="2" fill="url(#pilt)" stroke="#8a7a66" stroke-width="0.5"/><rect x="822.3" y="162.0" width="11.2" height="92.0" rx="2" fill="url(#pilt)" stroke="#8a7a66" stroke-width="0.5"/><rect x="926.9" y="162.0" width="11.2" height="92.0" rx="2" fill="url(#pilt)" stroke="#8a7a66" stroke-width="0.5"/><rect x="894.9" y="162.0" width="11.2" height="92.0" rx="2" fill="url(#pilt)" stroke="#8a7a66" stroke-width="0.5"/><rect x="568.2" y="165.2" width="11.2" height="92.0" rx="2" fill="url(#pilt)" stroke="#8a7a66" stroke-width="0.5"/><rect x="600.2" y="165.2" width="11.2" height="92.0" rx="2" fill="url(#pilt)" stroke="#8a7a66" stroke-width="0.5"/><rect x="640.8" y="165.2" width="11.2" height="92.0" rx="2" fill="url(#pilt)" stroke="#8a7a66" stroke-width="0.5"/><rect x="672.8" y="165.2" width="11.2" height="92.0" rx="2" fill="url(#pilt)" stroke="#8a7a66" stroke-width="0.5"/><rect x="713.4" y="165.2" width="11.2" height="92.0" rx="2" fill="url(#pilt)" stroke="#8a7a66" stroke-width="0.5"/><rect x="745.4" y="165.2" width="11.2" height="92.0" rx="2" fill="url(#pilt)" stroke="#8a7a66" stroke-width="0.5"/><rect x="786.0" y="165.2" width="11.2" height="92.0" rx="2" fill="url(#pilt)" stroke="#8a7a66" stroke-width="0.5"/><rect x="818.0" y="165.2" width="11.2" height="92.0" rx="2" fill="url(#pilt)" stroke="#8a7a66" stroke-width="0.5"/><rect x="858.6" y="165.2" width="11.2" height="92.0" rx="2" fill="url(#pilt)" stroke="#8a7a66" stroke-width="0.5"/><rect x="890.6" y="165.2" width="11.2" height="92.0" rx="2" fill="url(#pilt)" stroke="#8a7a66" stroke-width="0.5"/><rect x="934.8" y="166.8" width="13.0" height="92.0" rx="2" fill="url(#pilt)" stroke="#8a7a66" stroke-width="0.5"/><rect x="957.8" y="166.8" width="13.0" height="92.0" rx="2" fill="url(#pilt)" stroke="#8a7a66" stroke-width="0.5"/><rect x="1007.4" y="166.8" width="13.0" height="92.0" rx="2" fill="url(#pilt)" stroke="#8a7a66" stroke-width="0.5"/><rect x="1030.4" y="166.8" width="13.0" height="92.0" rx="2" fill="url(#pilt)" stroke="#8a7a66" stroke-width="0.5"/><rect x="1080.0" y="166.8" width="13.0" height="92.0" rx="2" fill="url(#pilt)" stroke="#8a7a66" stroke-width="0.5"/><rect x="1103.0" y="166.8" width="13.0" height="92.0" rx="2" fill="url(#pilt)" stroke="#8a7a66" stroke-width="0.5"/><rect x="557.6" y="173.1" width="11.2" height="92.0" rx="2" fill="url(#pilt)" stroke="#8a7a66" stroke-width="0.5"/><rect x="610.8" y="173.1" width="11.2" height="92.0" rx="2" fill="url(#pilt)" stroke="#8a7a66" stroke-width="0.5"/><rect x="630.2" y="173.1" width="11.2" height="92.0" rx="2" fill="url(#pilt)" stroke="#8a7a66" stroke-width="0.5"/><rect x="683.4" y="173.1" width="11.2" height="92.0" rx="2" fill="url(#pilt)" stroke="#8a7a66" stroke-width="0.5"/><rect x="702.8" y="173.1" width="11.2" height="92.0" rx="2" fill="url(#pilt)" stroke="#8a7a66" stroke-width="0.5"/><rect x="756.0" y="173.1" width="11.2" height="92.0" rx="2" fill="url(#pilt)" stroke="#8a7a66" stroke-width="0.5"/><rect x="775.4" y="173.1" width="11.2" height="92.0" rx="2" fill="url(#pilt)" stroke="#8a7a66" stroke-width="0.5"/><rect x="828.6" y="173.1" width="11.2" height="92.0" rx="2" fill="url(#pilt)" stroke="#8a7a66" stroke-width="0.5"/><rect x="848.0" y="173.1" width="11.2" height="92.0" rx="2" fill="url(#pilt)" stroke="#8a7a66" stroke-width="0.5"/><rect x="901.2" y="173.1" width="11.2" height="92.0" rx="2" fill="url(#pilt)" stroke="#8a7a66" stroke-width="0.5"/><rect x="926.0" y="173.1" width="13.0" height="92.0" rx="2" fill="url(#pilt)" stroke="#8a7a66" stroke-width="0.5"/><rect x="966.6" y="173.1" width="13.0" height="92.0" rx="2" fill="url(#pilt)" stroke="#8a7a66" stroke-width="0.5"/><rect x="998.6" y="173.1" width="13.0" height="92.0" rx="2" fill="url(#pilt)" stroke="#8a7a66" stroke-width="0.5"/><rect x="1039.2" y="173.1" width="13.0" height="92.0" rx="2" fill="url(#pilt)" stroke="#8a7a66" stroke-width="0.5"/><rect x="1071.2" y="173.1" width="13.0" height="92.0" rx="2" fill="url(#pilt)" stroke="#8a7a66" stroke-width="0.5"/><rect x="1111.8" y="173.1" width="13.0" height="92.0" rx="2" fill="url(#pilt)" stroke="#8a7a66" stroke-width="0.5"/><rect x="1143.8" y="173.1" width="13.0" height="92.0" rx="2" fill="url(#pilt)" stroke="#8a7a66" stroke-width="0.5"/><rect x="957.8" y="179.4" width="13.0" height="92.0" rx="2" fill="url(#pilt)" stroke="#8a7a66" stroke-width="0.5"/><rect x="934.8" y="179.4" width="13.0" height="92.0" rx="2" fill="url(#pilt)" stroke="#8a7a66" stroke-width="0.5"/><rect x="1030.4" y="179.4" width="13.0" height="92.0" rx="2" fill="url(#pilt)" stroke="#8a7a66" stroke-width="0.5"/><rect x="1007.4" y="179.4" width="13.0" height="92.0" rx="2" fill="url(#pilt)" stroke="#8a7a66" stroke-width="0.5"/><rect x="1103.0" y="179.4" width="13.0" height="92.0" rx="2" fill="url(#pilt)" stroke="#8a7a66" stroke-width="0.5"/><rect x="1080.0" y="179.4" width="13.0" height="92.0" rx="2" fill="url(#pilt)" stroke="#8a7a66" stroke-width="0.5"/><rect x="1175.6" y="179.4" width="13.0" height="92.0" rx="2" fill="url(#pilt)" stroke="#8a7a66" stroke-width="0.5"/><rect x="1152.6" y="179.4" width="13.0" height="92.0" rx="2" fill="url(#pilt)" stroke="#8a7a66" stroke-width="0.5"/><rect x="600.2" y="181.0" width="11.2" height="92.0" rx="2" fill="url(#pilt)" stroke="#8a7a66" stroke-width="0.5"/><rect x="568.2" y="181.0" width="11.2" height="92.0" rx="2" fill="url(#pilt)" stroke="#8a7a66" stroke-width="0.5"/><rect x="672.8" y="181.0" width="11.2" height="92.0" rx="2" fill="url(#pilt)" stroke="#8a7a66" stroke-width="0.5"/><rect x="640.8" y="181.0" width="11.2" height="92.0" rx="2" fill="url(#pilt)" stroke="#8a7a66" stroke-width="0.5"/><rect x="745.4" y="181.0" width="11.2" height="92.0" rx="2" fill="url(#pilt)" stroke="#8a7a66" stroke-width="0.5"/><rect x="713.4" y="181.0" width="11.2" height="92.0" rx="2" fill="url(#pilt)" stroke="#8a7a66" stroke-width="0.5"/><rect x="818.0" y="181.0" width="11.2" height="92.0" rx="2" fill="url(#pilt)" stroke="#8a7a66" stroke-width="0.5"/><rect x="786.0" y="181.0" width="11.2" height="92.0" rx="2" fill="url(#pilt)" stroke="#8a7a66" stroke-width="0.5"/><rect x="890.6" y="181.0" width="11.2" height="92.0" rx="2" fill="url(#pilt)" stroke="#8a7a66" stroke-width="0.5"/><rect x="858.6" y="181.0" width="11.2" height="92.0" rx="2" fill="url(#pilt)" stroke="#8a7a66" stroke-width="0.5"/><rect x="563.9" y="184.1" width="11.2" height="92.0" rx="2" fill="url(#pilt)" stroke="#8a7a66" stroke-width="0.5"/><rect x="604.5" y="184.1" width="11.2" height="92.0" rx="2" fill="url(#pilt)" stroke="#8a7a66" stroke-width="0.5"/><rect x="636.5" y="184.1" width="11.2" height="92.0" rx="2" fill="url(#pilt)" stroke="#8a7a66" stroke-width="0.5"/><rect x="677.1" y="184.1" width="11.2" height="92.0" rx="2" fill="url(#pilt)" stroke="#8a7a66" stroke-width="0.5"/><rect x="709.1" y="184.1" width="11.2" height="92.0" rx="2" fill="url(#pilt)" stroke="#8a7a66" stroke-width="0.5"/><rect x="749.7" y="184.1" width="11.2" height="92.0" rx="2" fill="url(#pilt)" stroke="#8a7a66" stroke-width="0.5"/><rect x="781.7" y="184.1" width="11.2" height="92.0" rx="2" fill="url(#pilt)" stroke="#8a7a66" stroke-width="0.5"/><rect x="822.3" y="184.1" width="11.2" height="92.0" rx="2" fill="url(#pilt)" stroke="#8a7a66" stroke-width="0.5"/><rect x="854.3" y="184.1" width="11.2" height="92.0" rx="2" fill="url(#pilt)" stroke="#8a7a66" stroke-width="0.5"/><rect x="898.5" y="185.7" width="13.0" height="92.0" rx="2" fill="url(#pilt)" stroke="#8a7a66" stroke-width="0.5"/><rect x="921.5" y="185.7" width="13.0" height="92.0" rx="2" fill="url(#pilt)" stroke="#8a7a66" stroke-width="0.5"/><rect x="971.1" y="185.7" width="13.0" height="92.0" rx="2" fill="url(#pilt)" stroke="#8a7a66" stroke-width="0.5"/><rect x="994.1" y="185.7" width="13.0" height="92.0" rx="2" fill="url(#pilt)" stroke="#8a7a66" stroke-width="0.5"/><rect x="1043.7" y="185.7" width="13.0" height="92.0" rx="2" fill="url(#pilt)" stroke="#8a7a66" stroke-width="0.5"/><rect x="1066.7" y="185.7" width="13.0" height="92.0" rx="2" fill="url(#pilt)" stroke="#8a7a66" stroke-width="0.5"/><rect x="1116.3" y="185.7" width="13.0" height="92.0" rx="2" fill="url(#pilt)" stroke="#8a7a66" stroke-width="0.5"/><rect x="1139.3" y="185.7" width="13.0" height="92.0" rx="2" fill="url(#pilt)" stroke="#8a7a66" stroke-width="0.5"/><rect x="1188.9" y="185.7" width="13.0" height="92.0" rx="2" fill="url(#pilt)" stroke="#8a7a66" stroke-width="0.5"/><rect x="1211.9" y="185.7" width="13.0" height="92.0" rx="2" fill="url(#pilt)" stroke="#8a7a66" stroke-width="0.5"/><rect x="521.3" y="192.0" width="11.2" height="92.0" rx="2" fill="url(#pilt)" stroke="#8a7a66" stroke-width="0.5"/><rect x="574.5" y="192.0" width="11.2" height="92.0" rx="2" fill="url(#pilt)" stroke="#8a7a66" stroke-width="0.5"/><rect x="593.9" y="192.0" width="11.2" height="92.0" rx="2" fill="url(#pilt)" stroke="#8a7a66" stroke-width="0.5"/><rect x="647.1" y="192.0" width="11.2" height="92.0" rx="2" fill="url(#pilt)" stroke="#8a7a66" stroke-width="0.5"/><rect x="666.5" y="192.0" width="11.2" height="92.0" rx="2" fill="url(#pilt)" stroke="#8a7a66" stroke-width="0.5"/><rect x="719.7" y="192.0" width="11.2" height="92.0" rx="2" fill="url(#pilt)" stroke="#8a7a66" stroke-width="0.5"/><rect x="739.1" y="192.0" width="11.2" height="92.0" rx="2" fill="url(#pilt)" stroke="#8a7a66" stroke-width="0.5"/><rect x="792.3" y="192.0" width="11.2" height="92.0" rx="2" fill="url(#pilt)" stroke="#8a7a66" stroke-width="0.5"/><rect x="811.7" y="192.0" width="11.2" height="92.0" rx="2" fill="url(#pilt)" stroke="#8a7a66" stroke-width="0.5"/><rect x="864.9" y="192.0" width="11.2" height="92.0" rx="2" fill="url(#pilt)" stroke="#8a7a66" stroke-width="0.5"/><rect x="889.7" y="192.0" width="13.0" height="92.0" rx="2" fill="url(#pilt)" stroke="#8a7a66" stroke-width="0.5"/><rect x="930.3" y="192.0" width="13.0" height="92.0" rx="2" fill="url(#pilt)" stroke="#8a7a66" stroke-width="0.5"/><rect x="962.3" y="192.0" width="13.0" height="92.0" rx="2" fill="url(#pilt)" stroke="#8a7a66" stroke-width="0.5"/><rect x="1002.9" y="192.0" width="13.0" height="92.0" rx="2" fill="url(#pilt)" stroke="#8a7a66" stroke-width="0.5"/><rect x="1034.9" y="192.0" width="13.0" height="92.0" rx="2" fill="url(#pilt)" stroke="#8a7a66" stroke-width="0.5"/><rect x="1075.5" y="192.0" width="13.0" height="92.0" rx="2" fill="url(#pilt)" stroke="#8a7a66" stroke-width="0.5"/><rect x="1107.5" y="192.0" width="13.0" height="92.0" rx="2" fill="url(#pilt)" stroke="#8a7a66" stroke-width="0.5"/><rect x="1148.1" y="192.0" width="13.0" height="92.0" rx="2" fill="url(#pilt)" stroke="#8a7a66" stroke-width="0.5"/><rect x="1180.1" y="192.0" width="13.0" height="92.0" rx="2" fill="url(#pilt)" stroke="#8a7a66" stroke-width="0.5"/><rect x="1220.7" y="192.0" width="13.0" height="92.0" rx="2" fill="url(#pilt)" stroke="#8a7a66" stroke-width="0.5"/><rect x="921.5" y="198.3" width="13.0" height="92.0" rx="2" fill="url(#pilt)" stroke="#8a7a66" stroke-width="0.5"/><rect x="898.5" y="198.3" width="13.0" height="92.0" rx="2" fill="url(#pilt)" stroke="#8a7a66" stroke-width="0.5"/><rect x="994.1" y="198.3" width="13.0" height="92.0" rx="2" fill="url(#pilt)" stroke="#8a7a66" stroke-width="0.5"/><rect x="971.1" y="198.3" width="13.0" height="92.0" rx="2" fill="url(#pilt)" stroke="#8a7a66" stroke-width="0.5"/><rect x="1066.7" y="198.3" width="13.0" height="92.0" rx="2" fill="url(#pilt)" stroke="#8a7a66" stroke-width="0.5"/><rect x="1043.7" y="198.3" width="13.0" height="92.0" rx="2" fill="url(#pilt)" stroke="#8a7a66" stroke-width="0.5"/><rect x="1139.3" y="198.3" width="13.0" height="92.0" rx="2" fill="url(#pilt)" stroke="#8a7a66" stroke-width="0.5"/><rect x="1116.3" y="198.3" width="13.0" height="92.0" rx="2" fill="url(#pilt)" stroke="#8a7a66" stroke-width="0.5"/><rect x="1188.9" y="198.3" width="13.0" height="92.0" rx="2" fill="url(#pilt)" stroke="#8a7a66" stroke-width="0.5"/><rect x="563.9" y="199.9" width="11.2" height="92.0" rx="2" fill="url(#pilt)" stroke="#8a7a66" stroke-width="0.5"/><rect x="531.9" y="199.9" width="11.2" height="92.0" rx="2" fill="url(#pilt)" stroke="#8a7a66" stroke-width="0.5"/><rect x="636.5" y="199.9" width="11.2" height="92.0" rx="2" fill="url(#pilt)" stroke="#8a7a66" stroke-width="0.5"/><rect x="604.5" y="199.9" width="11.2" height="92.0" rx="2" fill="url(#pilt)" stroke="#8a7a66" stroke-width="0.5"/><rect x="709.1" y="199.9" width="11.2" height="92.0" rx="2" fill="url(#pilt)" stroke="#8a7a66" stroke-width="0.5"/><rect x="677.1" y="199.9" width="11.2" height="92.0" rx="2" fill="url(#pilt)" stroke="#8a7a66" stroke-width="0.5"/><rect x="781.7" y="199.9" width="11.2" height="92.0" rx="2" fill="url(#pilt)" stroke="#8a7a66" stroke-width="0.5"/><rect x="749.7" y="199.9" width="11.2" height="92.0" rx="2" fill="url(#pilt)" stroke="#8a7a66" stroke-width="0.5"/><rect x="854.3" y="199.9" width="11.2" height="92.0" rx="2" fill="url(#pilt)" stroke="#8a7a66" stroke-width="0.5"/><rect x="822.3" y="199.9" width="11.2" height="92.0" rx="2" fill="url(#pilt)" stroke="#8a7a66" stroke-width="0.5"/><rect x="527.6" y="203.0" width="11.2" height="92.0" rx="2" fill="url(#pilt)" stroke="#8a7a66" stroke-width="0.5"/><rect x="568.2" y="203.0" width="11.2" height="92.0" rx="2" fill="url(#pilt)" stroke="#8a7a66" stroke-width="0.5"/><rect x="600.2" y="203.0" width="11.2" height="92.0" rx="2" fill="url(#pilt)" stroke="#8a7a66" stroke-width="0.5"/><rect x="640.8" y="203.0" width="11.2" height="92.0" rx="2" fill="url(#pilt)" stroke="#8a7a66" stroke-width="0.5"/><rect x="672.8" y="203.0" width="11.2" height="92.0" rx="2" fill="url(#pilt)" stroke="#8a7a66" stroke-width="0.5"/><rect x="713.4" y="203.0" width="11.2" height="92.0" rx="2" fill="url(#pilt)" stroke="#8a7a66" stroke-width="0.5"/><rect x="745.4" y="203.0" width="11.2" height="92.0" rx="2" fill="url(#pilt)" stroke="#8a7a66" stroke-width="0.5"/><rect x="786.0" y="203.0" width="11.2" height="92.0" rx="2" fill="url(#pilt)" stroke="#8a7a66" stroke-width="0.5"/><rect x="818.0" y="203.0" width="11.2" height="92.0" rx="2" fill="url(#pilt)" stroke="#8a7a66" stroke-width="0.5"/><rect x="862.2" y="204.6" width="13.0" height="92.0" rx="2" fill="url(#pilt)" stroke="#8a7a66" stroke-width="0.5"/><rect x="885.2" y="204.6" width="13.0" height="92.0" rx="2" fill="url(#pilt)" stroke="#8a7a66" stroke-width="0.5"/><rect x="934.8" y="204.6" width="13.0" height="92.0" rx="2" fill="url(#pilt)" stroke="#8a7a66" stroke-width="0.5"/><rect x="957.8" y="204.6" width="13.0" height="92.0" rx="2" fill="url(#pilt)" stroke="#8a7a66" stroke-width="0.5"/><rect x="1007.4" y="204.6" width="13.0" height="92.0" rx="2" fill="url(#pilt)" stroke="#8a7a66" stroke-width="0.5"/><rect x="1030.4" y="204.6" width="13.0" height="92.0" rx="2" fill="url(#pilt)" stroke="#8a7a66" stroke-width="0.5"/><rect x="1080.0" y="204.6" width="13.0" height="92.0" rx="2" fill="url(#pilt)" stroke="#8a7a66" stroke-width="0.5"/><rect x="1103.0" y="204.6" width="13.0" height="92.0" rx="2" fill="url(#pilt)" stroke="#8a7a66" stroke-width="0.5"/><rect x="1152.6" y="204.6" width="13.0" height="92.0" rx="2" fill="url(#pilt)" stroke="#8a7a66" stroke-width="0.5"/><rect x="1175.6" y="204.6" width="13.0" height="92.0" rx="2" fill="url(#pilt)" stroke="#8a7a66" stroke-width="0.5"/><rect x="485.0" y="210.9" width="11.2" height="92.0" rx="2" fill="url(#pilt)" stroke="#8a7a66" stroke-width="0.5"/><rect x="538.2" y="210.9" width="11.2" height="92.0" rx="2" fill="url(#pilt)" stroke="#8a7a66" stroke-width="0.5"/><rect x="557.6" y="210.9" width="11.2" height="92.0" rx="2" fill="url(#pilt)" stroke="#8a7a66" stroke-width="0.5"/><rect x="610.8" y="210.9" width="11.2" height="92.0" rx="2" fill="url(#pilt)" stroke="#8a7a66" stroke-width="0.5"/><rect x="630.2" y="210.9" width="11.2" height="92.0" rx="2" fill="url(#pilt)" stroke="#8a7a66" stroke-width="0.5"/><rect x="683.4" y="210.9" width="11.2" height="92.0" rx="2" fill="url(#pilt)" stroke="#8a7a66" stroke-width="0.5"/><rect x="702.8" y="210.9" width="11.2" height="92.0" rx="2" fill="url(#pilt)" stroke="#8a7a66" stroke-width="0.5"/><rect x="756.0" y="210.9" width="11.2" height="92.0" rx="2" fill="url(#pilt)" stroke="#8a7a66" stroke-width="0.5"/><rect x="775.4" y="210.9" width="11.2" height="92.0" rx="2" fill="url(#pilt)" stroke="#8a7a66" stroke-width="0.5"/><rect x="828.6" y="210.9" width="11.2" height="92.0" rx="2" fill="url(#pilt)" stroke="#8a7a66" stroke-width="0.5"/><rect x="853.4" y="210.9" width="13.0" height="92.0" rx="2" fill="url(#pilt)" stroke="#8a7a66" stroke-width="0.5"/><rect x="894.0" y="210.9" width="13.0" height="92.0" rx="2" fill="url(#pilt)" stroke="#8a7a66" stroke-width="0.5"/><rect x="926.0" y="210.9" width="13.0" height="92.0" rx="2" fill="url(#pilt)" stroke="#8a7a66" stroke-width="0.5"/><rect x="966.6" y="210.9" width="13.0" height="92.0" rx="2" fill="url(#pilt)" stroke="#8a7a66" stroke-width="0.5"/><rect x="998.6" y="210.9" width="13.0" height="92.0" rx="2" fill="url(#pilt)" stroke="#8a7a66" stroke-width="0.5"/><rect x="1039.2" y="210.9" width="13.0" height="92.0" rx="2" fill="url(#pilt)" stroke="#8a7a66" stroke-width="0.5"/><rect x="1071.2" y="210.9" width="13.0" height="92.0" rx="2" fill="url(#pilt)" stroke="#8a7a66" stroke-width="0.5"/><rect x="1111.8" y="210.9" width="13.0" height="92.0" rx="2" fill="url(#pilt)" stroke="#8a7a66" stroke-width="0.5"/><rect x="1143.8" y="210.9" width="13.0" height="92.0" rx="2" fill="url(#pilt)" stroke="#8a7a66" stroke-width="0.5"/><rect x="1184.4" y="210.9" width="13.0" height="92.0" rx="2" fill="url(#pilt)" stroke="#8a7a66" stroke-width="0.5"/><rect x="885.2" y="217.2" width="13.0" height="92.0" rx="2" fill="url(#pilt)" stroke="#8a7a66" stroke-width="0.5"/><rect x="862.2" y="217.2" width="13.0" height="92.0" rx="2" fill="url(#pilt)" stroke="#8a7a66" stroke-width="0.5"/><rect x="957.8" y="217.2" width="13.0" height="92.0" rx="2" fill="url(#pilt)" stroke="#8a7a66" stroke-width="0.5"/><rect x="934.8" y="217.2" width="13.0" height="92.0" rx="2" fill="url(#pilt)" stroke="#8a7a66" stroke-width="0.5"/><rect x="1030.4" y="217.2" width="13.0" height="92.0" rx="2" fill="url(#pilt)" stroke="#8a7a66" stroke-width="0.5"/><rect x="1007.4" y="217.2" width="13.0" height="92.0" rx="2" fill="url(#pilt)" stroke="#8a7a66" stroke-width="0.5"/><rect x="1103.0" y="217.2" width="13.0" height="92.0" rx="2" fill="url(#pilt)" stroke="#8a7a66" stroke-width="0.5"/><rect x="1080.0" y="217.2" width="13.0" height="92.0" rx="2" fill="url(#pilt)" stroke="#8a7a66" stroke-width="0.5"/><rect x="1152.6" y="217.2" width="13.0" height="92.0" rx="2" fill="url(#pilt)" stroke="#8a7a66" stroke-width="0.5"/><rect x="527.6" y="218.8" width="11.2" height="92.0" rx="2" fill="url(#pilt)" stroke="#8a7a66" stroke-width="0.5"/><rect x="495.6" y="218.8" width="11.2" height="92.0" rx="2" fill="url(#pilt)" stroke="#8a7a66" stroke-width="0.5"/><rect x="600.2" y="218.8" width="11.2" height="92.0" rx="2" fill="url(#pilt)" stroke="#8a7a66" stroke-width="0.5"/><rect x="568.2" y="218.8" width="11.2" height="92.0" rx="2" fill="url(#pilt)" stroke="#8a7a66" stroke-width="0.5"/><rect x="672.8" y="218.8" width="11.2" height="92.0" rx="2" fill="url(#pilt)" stroke="#8a7a66" stroke-width="0.5"/><rect x="640.8" y="218.8" width="11.2" height="92.0" rx="2" fill="url(#pilt)" stroke="#8a7a66" stroke-width="0.5"/><rect x="745.4" y="218.8" width="11.2" height="92.0" rx="2" fill="url(#pilt)" stroke="#8a7a66" stroke-width="0.5"/><rect x="713.4" y="218.8" width="11.2" height="92.0" rx="2" fill="url(#pilt)" stroke="#8a7a66" stroke-width="0.5"/><rect x="818.0" y="218.8" width="11.2" height="92.0" rx="2" fill="url(#pilt)" stroke="#8a7a66" stroke-width="0.5"/><rect x="786.0" y="218.8" width="11.2" height="92.0" rx="2" fill="url(#pilt)" stroke="#8a7a66" stroke-width="0.5"/><rect x="531.9" y="221.9" width="11.2" height="92.0" rx="2" fill="url(#pilt)" stroke="#8a7a66" stroke-width="0.5"/><rect x="563.9" y="221.9" width="11.2" height="92.0" rx="2" fill="url(#pilt)" stroke="#8a7a66" stroke-width="0.5"/><rect x="604.5" y="221.9" width="11.2" height="92.0" rx="2" fill="url(#pilt)" stroke="#8a7a66" stroke-width="0.5"/><rect x="636.5" y="221.9" width="11.2" height="92.0" rx="2" fill="url(#pilt)" stroke="#8a7a66" stroke-width="0.5"/><rect x="677.1" y="221.9" width="11.2" height="92.0" rx="2" fill="url(#pilt)" stroke="#8a7a66" stroke-width="0.5"/><rect x="709.1" y="221.9" width="11.2" height="92.0" rx="2" fill="url(#pilt)" stroke="#8a7a66" stroke-width="0.5"/><rect x="749.7" y="221.9" width="11.2" height="92.0" rx="2" fill="url(#pilt)" stroke="#8a7a66" stroke-width="0.5"/><rect x="781.7" y="221.9" width="11.2" height="92.0" rx="2" fill="url(#pilt)" stroke="#8a7a66" stroke-width="0.5"/><rect x="825.9" y="223.5" width="13.0" height="92.0" rx="2" fill="url(#pilt)" stroke="#8a7a66" stroke-width="0.5"/><rect x="848.9" y="223.5" width="13.0" height="92.0" rx="2" fill="url(#pilt)" stroke="#8a7a66" stroke-width="0.5"/><rect x="898.5" y="223.5" width="13.0" height="92.0" rx="2" fill="url(#pilt)" stroke="#8a7a66" stroke-width="0.5"/><rect x="921.5" y="223.5" width="13.0" height="92.0" rx="2" fill="url(#pilt)" stroke="#8a7a66" stroke-width="0.5"/><rect x="971.1" y="223.5" width="13.0" height="92.0" rx="2" fill="url(#pilt)" stroke="#8a7a66" stroke-width="0.5"/><rect x="994.1" y="223.5" width="13.0" height="92.0" rx="2" fill="url(#pilt)" stroke="#8a7a66" stroke-width="0.5"/><rect x="1043.7" y="223.5" width="13.0" height="92.0" rx="2" fill="url(#pilt)" stroke="#8a7a66" stroke-width="0.5"/><rect x="1066.7" y="223.5" width="13.0" height="92.0" rx="2" fill="url(#pilt)" stroke="#8a7a66" stroke-width="0.5"/><rect x="1116.3" y="223.5" width="13.0" height="92.0" rx="2" fill="url(#pilt)" stroke="#8a7a66" stroke-width="0.5"/><rect x="1139.3" y="223.5" width="13.0" height="92.0" rx="2" fill="url(#pilt)" stroke="#8a7a66" stroke-width="0.5"/><rect x="574.5" y="229.8" width="11.2" height="92.0" rx="2" fill="url(#pilt)" stroke="#8a7a66" stroke-width="0.5"/><rect x="593.9" y="229.8" width="11.2" height="92.0" rx="2" fill="url(#pilt)" stroke="#8a7a66" stroke-width="0.5"/><rect x="647.1" y="229.8" width="11.2" height="92.0" rx="2" fill="url(#pilt)" stroke="#8a7a66" stroke-width="0.5"/><rect x="666.5" y="229.8" width="11.2" height="92.0" rx="2" fill="url(#pilt)" stroke="#8a7a66" stroke-width="0.5"/><rect x="719.7" y="229.8" width="11.2" height="92.0" rx="2" fill="url(#pilt)" stroke="#8a7a66" stroke-width="0.5"/><rect x="739.1" y="229.8" width="11.2" height="92.0" rx="2" fill="url(#pilt)" stroke="#8a7a66" stroke-width="0.5"/><rect x="792.3" y="229.8" width="11.2" height="92.0" rx="2" fill="url(#pilt)" stroke="#8a7a66" stroke-width="0.5"/><rect x="817.1" y="229.8" width="13.0" height="92.0" rx="2" fill="url(#pilt)" stroke="#8a7a66" stroke-width="0.5"/><rect x="857.7" y="229.8" width="13.0" height="92.0" rx="2" fill="url(#pilt)" stroke="#8a7a66" stroke-width="0.5"/><rect x="889.7" y="229.8" width="13.0" height="92.0" rx="2" fill="url(#pilt)" stroke="#8a7a66" stroke-width="0.5"/><rect x="930.3" y="229.8" width="13.0" height="92.0" rx="2" fill="url(#pilt)" stroke="#8a7a66" stroke-width="0.5"/><rect x="962.3" y="229.8" width="13.0" height="92.0" rx="2" fill="url(#pilt)" stroke="#8a7a66" stroke-width="0.5"/><rect x="1002.9" y="229.8" width="13.0" height="92.0" rx="2" fill="url(#pilt)" stroke="#8a7a66" stroke-width="0.5"/><rect x="1034.9" y="229.8" width="13.0" height="92.0" rx="2" fill="url(#pilt)" stroke="#8a7a66" stroke-width="0.5"/><rect x="1075.5" y="229.8" width="13.0" height="92.0" rx="2" fill="url(#pilt)" stroke="#8a7a66" stroke-width="0.5"/><rect x="1107.5" y="229.8" width="13.0" height="92.0" rx="2" fill="url(#pilt)" stroke="#8a7a66" stroke-width="0.5"/><rect x="1148.1" y="229.8" width="13.0" height="92.0" rx="2" fill="url(#pilt)" stroke="#8a7a66" stroke-width="0.5"/><rect x="848.9" y="236.1" width="13.0" height="92.0" rx="2" fill="url(#pilt)" stroke="#8a7a66" stroke-width="0.5"/><rect x="825.9" y="236.1" width="13.0" height="92.0" rx="2" fill="url(#pilt)" stroke="#8a7a66" stroke-width="0.5"/><rect x="921.5" y="236.1" width="13.0" height="92.0" rx="2" fill="url(#pilt)" stroke="#8a7a66" stroke-width="0.5"/><rect x="898.5" y="236.1" width="13.0" height="92.0" rx="2" fill="url(#pilt)" stroke="#8a7a66" stroke-width="0.5"/><rect x="994.1" y="236.1" width="13.0" height="92.0" rx="2" fill="url(#pilt)" stroke="#8a7a66" stroke-width="0.5"/><rect x="971.1" y="236.1" width="13.0" height="92.0" rx="2" fill="url(#pilt)" stroke="#8a7a66" stroke-width="0.5"/><rect x="1066.7" y="236.1" width="13.0" height="92.0" rx="2" fill="url(#pilt)" stroke="#8a7a66" stroke-width="0.5"/><rect x="1043.7" y="236.1" width="13.0" height="92.0" rx="2" fill="url(#pilt)" stroke="#8a7a66" stroke-width="0.5"/><rect x="1116.3" y="236.1" width="13.0" height="92.0" rx="2" fill="url(#pilt)" stroke="#8a7a66" stroke-width="0.5"/><rect x="636.5" y="237.7" width="11.2" height="92.0" rx="2" fill="url(#pilt)" stroke="#8a7a66" stroke-width="0.5"/><rect x="604.5" y="237.7" width="11.2" height="92.0" rx="2" fill="url(#pilt)" stroke="#8a7a66" stroke-width="0.5"/><rect x="709.1" y="237.7" width="11.2" height="92.0" rx="2" fill="url(#pilt)" stroke="#8a7a66" stroke-width="0.5"/><rect x="677.1" y="237.7" width="11.2" height="92.0" rx="2" fill="url(#pilt)" stroke="#8a7a66" stroke-width="0.5"/><rect x="781.7" y="237.7" width="11.2" height="92.0" rx="2" fill="url(#pilt)" stroke="#8a7a66" stroke-width="0.5"/><rect x="749.7" y="237.7" width="11.2" height="92.0" rx="2" fill="url(#pilt)" stroke="#8a7a66" stroke-width="0.5"/><rect x="640.8" y="240.8" width="11.2" height="92.0" rx="2" fill="url(#pilt)" stroke="#8a7a66" stroke-width="0.5"/><rect x="672.8" y="240.8" width="11.2" height="92.0" rx="2" fill="url(#pilt)" stroke="#8a7a66" stroke-width="0.5"/><rect x="713.4" y="240.8" width="11.2" height="92.0" rx="2" fill="url(#pilt)" stroke="#8a7a66" stroke-width="0.5"/><rect x="745.4" y="240.8" width="11.2" height="92.0" rx="2" fill="url(#pilt)" stroke="#8a7a66" stroke-width="0.5"/><rect x="789.6" y="242.4" width="13.0" height="92.0" rx="2" fill="url(#pilt)" stroke="#8a7a66" stroke-width="0.5"/><rect x="812.6" y="242.4" width="13.0" height="92.0" rx="2" fill="url(#pilt)" stroke="#8a7a66" stroke-width="0.5"/><rect x="862.2" y="242.4" width="13.0" height="92.0" rx="2" fill="url(#pilt)" stroke="#8a7a66" stroke-width="0.5"/><rect x="885.2" y="242.4" width="13.0" height="92.0" rx="2" fill="url(#pilt)" stroke="#8a7a66" stroke-width="0.5"/><rect x="934.8" y="242.4" width="13.0" height="92.0" rx="2" fill="url(#pilt)" stroke="#8a7a66" stroke-width="0.5"/><rect x="957.8" y="242.4" width="13.0" height="92.0" rx="2" fill="url(#pilt)" stroke="#8a7a66" stroke-width="0.5"/><rect x="1007.4" y="242.4" width="13.0" height="92.0" rx="2" fill="url(#pilt)" stroke="#8a7a66" stroke-width="0.5"/><rect x="1030.4" y="242.4" width="13.0" height="92.0" rx="2" fill="url(#pilt)" stroke="#8a7a66" stroke-width="0.5"/><rect x="1080.0" y="242.4" width="13.0" height="92.0" rx="2" fill="url(#pilt)" stroke="#8a7a66" stroke-width="0.5"/><rect x="1103.0" y="242.4" width="13.0" height="92.0" rx="2" fill="url(#pilt)" stroke="#8a7a66" stroke-width="0.5"/><rect x="683.4" y="248.7" width="11.2" height="92.0" rx="2" fill="url(#pilt)" stroke="#8a7a66" stroke-width="0.5"/><rect x="702.8" y="248.7" width="11.2" height="92.0" rx="2" fill="url(#pilt)" stroke="#8a7a66" stroke-width="0.5"/><rect x="756.0" y="248.7" width="11.2" height="92.0" rx="2" fill="url(#pilt)" stroke="#8a7a66" stroke-width="0.5"/><rect x="780.8" y="248.7" width="13.0" height="92.0" rx="2" fill="url(#pilt)" stroke="#8a7a66" stroke-width="0.5"/><rect x="821.4" y="248.7" width="13.0" height="92.0" rx="2" fill="url(#pilt)" stroke="#8a7a66" stroke-width="0.5"/><rect x="853.4" y="248.7" width="13.0" height="92.0" rx="2" fill="url(#pilt)" stroke="#8a7a66" stroke-width="0.5"/><rect x="894.0" y="248.7" width="13.0" height="92.0" rx="2" fill="url(#pilt)" stroke="#8a7a66" stroke-width="0.5"/><rect x="926.0" y="248.7" width="13.0" height="92.0" rx="2" fill="url(#pilt)" stroke="#8a7a66" stroke-width="0.5"/><rect x="966.6" y="248.7" width="13.0" height="92.0" rx="2" fill="url(#pilt)" stroke="#8a7a66" stroke-width="0.5"/><rect x="998.6" y="248.7" width="13.0" height="92.0" rx="2" fill="url(#pilt)" stroke="#8a7a66" stroke-width="0.5"/><rect x="1039.2" y="248.7" width="13.0" height="92.0" rx="2" fill="url(#pilt)" stroke="#8a7a66" stroke-width="0.5"/><rect x="1071.2" y="248.7" width="13.0" height="92.0" rx="2" fill="url(#pilt)" stroke="#8a7a66" stroke-width="0.5"/><rect x="1111.8" y="248.7" width="13.0" height="92.0" rx="2" fill="url(#pilt)" stroke="#8a7a66" stroke-width="0.5"/><rect x="812.6" y="255.0" width="13.0" height="92.0" rx="2" fill="url(#pilt)" stroke="#8a7a66" stroke-width="0.5"/><rect x="789.6" y="255.0" width="13.0" height="92.0" rx="2" fill="url(#pilt)" stroke="#8a7a66" stroke-width="0.5"/><rect x="885.2" y="255.0" width="13.0" height="92.0" rx="2" fill="url(#pilt)" stroke="#8a7a66" stroke-width="0.5"/><rect x="862.2" y="255.0" width="13.0" height="92.0" rx="2" fill="url(#pilt)" stroke="#8a7a66" stroke-width="0.5"/><rect x="957.8" y="255.0" width="13.0" height="92.0" rx="2" fill="url(#pilt)" stroke="#8a7a66" stroke-width="0.5"/><rect x="934.8" y="255.0" width="13.0" height="92.0" rx="2" fill="url(#pilt)" stroke="#8a7a66" stroke-width="0.5"/><rect x="1030.4" y="255.0" width="13.0" height="92.0" rx="2" fill="url(#pilt)" stroke="#8a7a66" stroke-width="0.5"/><rect x="1007.4" y="255.0" width="13.0" height="92.0" rx="2" fill="url(#pilt)" stroke="#8a7a66" stroke-width="0.5"/><rect x="1103.0" y="255.0" width="13.0" height="92.0" rx="2" fill="url(#pilt)" stroke="#8a7a66" stroke-width="0.5"/><rect x="1080.0" y="255.0" width="13.0" height="92.0" rx="2" fill="url(#pilt)" stroke="#8a7a66" stroke-width="0.5"/><rect x="745.4" y="256.6" width="11.2" height="92.0" rx="2" fill="url(#pilt)" stroke="#8a7a66" stroke-width="0.5"/><rect x="713.4" y="256.6" width="11.2" height="92.0" rx="2" fill="url(#pilt)" stroke="#8a7a66" stroke-width="0.5"/><rect x="753.3" y="261.4" width="13.0" height="92.0" rx="2" fill="url(#pilt)" stroke="#8a7a66" stroke-width="0.5"/><rect x="776.3" y="261.4" width="13.0" height="92.0" rx="2" fill="url(#pilt)" stroke="#8a7a66" stroke-width="0.5"/><rect x="825.9" y="261.4" width="13.0" height="92.0" rx="2" fill="url(#pilt)" stroke="#8a7a66" stroke-width="0.5"/><rect x="848.9" y="261.4" width="13.0" height="92.0" rx="2" fill="url(#pilt)" stroke="#8a7a66" stroke-width="0.5"/><rect x="898.5" y="261.4" width="13.0" height="92.0" rx="2" fill="url(#pilt)" stroke="#8a7a66" stroke-width="0.5"/><rect x="921.5" y="261.4" width="13.0" height="92.0" rx="2" fill="url(#pilt)" stroke="#8a7a66" stroke-width="0.5"/><rect x="971.1" y="261.4" width="13.0" height="92.0" rx="2" fill="url(#pilt)" stroke="#8a7a66" stroke-width="0.5"/><rect x="994.1" y="261.4" width="13.0" height="92.0" rx="2" fill="url(#pilt)" stroke="#8a7a66" stroke-width="0.5"/><rect x="1043.7" y="261.4" width="13.0" height="92.0" rx="2" fill="url(#pilt)" stroke="#8a7a66" stroke-width="0.5"/><rect x="1066.7" y="261.4" width="13.0" height="92.0" rx="2" fill="url(#pilt)" stroke="#8a7a66" stroke-width="0.5"/><rect x="785.1" y="267.7" width="13.0" height="92.0" rx="2" fill="url(#pilt)" stroke="#8a7a66" stroke-width="0.5"/><rect x="817.1" y="267.7" width="13.0" height="92.0" rx="2" fill="url(#pilt)" stroke="#8a7a66" stroke-width="0.5"/><rect x="857.7" y="267.7" width="13.0" height="92.0" rx="2" fill="url(#pilt)" stroke="#8a7a66" stroke-width="0.5"/><rect x="889.7" y="267.7" width="13.0" height="92.0" rx="2" fill="url(#pilt)" stroke="#8a7a66" stroke-width="0.5"/><rect x="930.3" y="267.7" width="13.0" height="92.0" rx="2" fill="url(#pilt)" stroke="#8a7a66" stroke-width="0.5"/><rect x="962.3" y="267.7" width="13.0" height="92.0" rx="2" fill="url(#pilt)" stroke="#8a7a66" stroke-width="0.5"/><rect x="1002.9" y="267.7" width="13.0" height="92.0" rx="2" fill="url(#pilt)" stroke="#8a7a66" stroke-width="0.5"/><rect x="1034.9" y="267.7" width="13.0" height="92.0" rx="2" fill="url(#pilt)" stroke="#8a7a66" stroke-width="0.5"/><rect x="1075.5" y="267.7" width="13.0" height="92.0" rx="2" fill="url(#pilt)" stroke="#8a7a66" stroke-width="0.5"/><rect x="848.9" y="274.0" width="13.0" height="92.0" rx="2" fill="url(#pilt)" stroke="#8a7a66" stroke-width="0.5"/><rect x="825.9" y="274.0" width="13.0" height="92.0" rx="2" fill="url(#pilt)" stroke="#8a7a66" stroke-width="0.5"/><rect x="921.5" y="274.0" width="13.0" height="92.0" rx="2" fill="url(#pilt)" stroke="#8a7a66" stroke-width="0.5"/><rect x="898.5" y="274.0" width="13.0" height="92.0" rx="2" fill="url(#pilt)" stroke="#8a7a66" stroke-width="0.5"/><rect x="994.1" y="274.0" width="13.0" height="92.0" rx="2" fill="url(#pilt)" stroke="#8a7a66" stroke-width="0.5"/><rect x="971.1" y="274.0" width="13.0" height="92.0" rx="2" fill="url(#pilt)" stroke="#8a7a66" stroke-width="0.5"/><rect x="1066.7" y="274.0" width="13.0" height="92.0" rx="2" fill="url(#pilt)" stroke="#8a7a66" stroke-width="0.5"/><rect x="1043.7" y="274.0" width="13.0" height="92.0" rx="2" fill="url(#pilt)" stroke="#8a7a66" stroke-width="0.5"/><rect x="862.2" y="280.3" width="13.0" height="92.0" rx="2" fill="url(#pilt)" stroke="#8a7a66" stroke-width="0.5"/><rect x="885.2" y="280.3" width="13.0" height="92.0" rx="2" fill="url(#pilt)" stroke="#8a7a66" stroke-width="0.5"/><rect x="934.8" y="280.3" width="13.0" height="92.0" rx="2" fill="url(#pilt)" stroke="#8a7a66" stroke-width="0.5"/><rect x="957.8" y="280.3" width="13.0" height="92.0" rx="2" fill="url(#pilt)" stroke="#8a7a66" stroke-width="0.5"/><rect x="1007.4" y="280.3" width="13.0" height="92.0" rx="2" fill="url(#pilt)" stroke="#8a7a66" stroke-width="0.5"/><rect x="1030.4" y="280.3" width="13.0" height="92.0" rx="2" fill="url(#pilt)" stroke="#8a7a66" stroke-width="0.5"/><rect x="894.0" y="286.6" width="13.0" height="92.0" rx="2" fill="url(#pilt)" stroke="#8a7a66" stroke-width="0.5"/><rect x="926.0" y="286.6" width="13.0" height="92.0" rx="2" fill="url(#pilt)" stroke="#8a7a66" stroke-width="0.5"/><rect x="966.6" y="286.6" width="13.0" height="92.0" rx="2" fill="url(#pilt)" stroke="#8a7a66" stroke-width="0.5"/><rect x="998.6" y="286.6" width="13.0" height="92.0" rx="2" fill="url(#pilt)" stroke="#8a7a66" stroke-width="0.5"/><rect x="1039.2" y="286.6" width="13.0" height="92.0" rx="2" fill="url(#pilt)" stroke="#8a7a66" stroke-width="0.5"/><rect x="957.8" y="292.9" width="13.0" height="92.0" rx="2" fill="url(#pilt)" stroke="#8a7a66" stroke-width="0.5"/><rect x="934.8" y="292.9" width="13.0" height="92.0" rx="2" fill="url(#pilt)" stroke="#8a7a66" stroke-width="0.5"/><rect x="1030.4" y="292.9" width="13.0" height="92.0" rx="2" fill="url(#pilt)" stroke="#8a7a66" stroke-width="0.5"/><rect x="1007.4" y="292.9" width="13.0" height="92.0" rx="2" fill="url(#pilt)" stroke="#8a7a66" stroke-width="0.5"/><rect x="971.1" y="299.2" width="13.0" height="92.0" rx="2" fill="url(#pilt)" stroke="#8a7a66" stroke-width="0.5"/><rect x="994.1" y="299.2" width="13.0" height="92.0" rx="2" fill="url(#pilt)" stroke="#8a7a66" stroke-width="0.5"/><rect x="1002.9" y="305.5" width="13.0" height="92.0" rx="2" fill="url(#pilt)" stroke="#8a7a66" stroke-width="0.5"/></g>
<path d="M672.1 115.3 L682.7 107.4 L714.7 107.4 L725.3 115.3 L714.7 123.2 L682.7 123.2Z M744.7 115.3 L755.3 107.4 L787.3 107.4 L797.9 115.3 L787.3 123.2 L755.3 123.2Z M635.8 134.2 L646.4 126.3 L678.4 126.3 L689.0 134.2 L678.4 142.1 L646.4 142.1Z M708.4 134.2 L719.0 126.3 L751.0 126.3 L761.6 134.2 L751.0 142.1 L719.0 142.1Z M781.0 134.2 L791.6 126.3 L823.6 126.3 L834.2 134.2 L823.6 142.1 L791.6 142.1Z M853.6 134.2 L864.2 126.3 L896.2 126.3 L906.8 134.2 L896.2 142.1 L864.2 142.1Z M599.5 153.1 L610.1 145.2 L642.1 145.2 L652.7 153.1 L642.1 161.0 L610.1 161.0Z M672.1 153.1 L682.7 145.2 L714.7 145.2 L725.3 153.1 L714.7 161.0 L682.7 161.0Z M744.7 153.1 L755.3 145.2 L787.3 145.2 L797.9 153.1 L787.3 161.0 L755.3 161.0Z M817.3 153.1 L827.9 145.2 L859.9 145.2 L870.5 153.1 L859.9 161.0 L827.9 161.0Z M889.9 153.1 L900.5 145.2 L932.5 145.2 L943.1 153.1 L932.5 161.0 L900.5 161.0Z M968.8 153.1 L977.6 146.8 L1000.6 146.8 L1009.4 153.1 L1000.6 159.4 L977.6 159.4Z M563.2 172.1 L573.8 164.2 L605.8 164.2 L616.4 172.1 L605.8 180.0 L573.8 180.0Z M635.8 172.1 L646.4 164.2 L678.4 164.2 L689.0 172.1 L678.4 180.0 L646.4 180.0Z M708.4 172.1 L719.0 164.2 L751.0 164.2 L761.6 172.1 L751.0 180.0 L719.0 180.0Z M781.0 172.1 L791.6 164.2 L823.6 164.2 L834.2 172.1 L823.6 180.0 L791.6 180.0Z M853.6 172.1 L864.2 164.2 L896.2 164.2 L906.8 172.1 L896.2 180.0 L864.2 180.0Z M932.5 172.1 L941.3 165.8 L964.3 165.8 L973.1 172.1 L964.3 178.4 L941.3 178.4Z M1005.1 172.1 L1013.9 165.8 L1036.9 165.8 L1045.7 172.1 L1036.9 178.4 L1013.9 178.4Z M1077.7 172.1 L1086.5 165.8 L1109.5 165.8 L1118.3 172.1 L1109.5 178.4 L1086.5 178.4Z M526.9 191.0 L537.5 183.1 L569.5 183.1 L580.1 191.0 L569.5 198.9 L537.5 198.9Z M599.5 191.0 L610.1 183.1 L642.1 183.1 L652.7 191.0 L642.1 198.9 L610.1 198.9Z M672.1 191.0 L682.7 183.1 L714.7 183.1 L725.3 191.0 L714.7 198.9 L682.7 198.9Z M744.7 191.0 L755.3 183.1 L787.3 183.1 L797.9 191.0 L787.3 198.9 L755.3 198.9Z M817.3 191.0 L827.9 183.1 L859.9 183.1 L870.5 191.0 L859.9 198.9 L827.9 198.9Z M896.2 191.0 L905.0 184.7 L928.0 184.7 L936.8 191.0 L928.0 197.3 L905.0 197.3Z M968.8 191.0 L977.6 184.7 L1000.6 184.7 L1009.4 191.0 L1000.6 197.3 L977.6 197.3Z M1041.4 191.0 L1050.2 184.7 L1073.2 184.7 L1082.0 191.0 L1073.2 197.3 L1050.2 197.3Z M1114.0 191.0 L1122.8 184.7 L1145.8 184.7 L1154.6 191.0 L1145.8 197.3 L1122.8 197.3Z M1186.6 191.0 L1195.4 184.7 L1218.4 184.7 L1227.2 191.0 L1218.4 197.3 L1195.4 197.3Z M490.6 209.9 L501.2 202.0 L533.2 202.0 L543.8 209.9 L533.2 217.8 L501.2 217.8Z M563.2 209.9 L573.8 202.0 L605.8 202.0 L616.4 209.9 L605.8 217.8 L573.8 217.8Z M635.8 209.9 L646.4 202.0 L678.4 202.0 L689.0 209.9 L678.4 217.8 L646.4 217.8Z M708.4 209.9 L719.0 202.0 L751.0 202.0 L761.6 209.9 L751.0 217.8 L719.0 217.8Z M781.0 209.9 L791.6 202.0 L823.6 202.0 L834.2 209.9 L823.6 217.8 L791.6 217.8Z M859.9 209.9 L868.7 203.6 L891.7 203.6 L900.5 209.9 L891.7 216.2 L868.7 216.2Z M932.5 209.9 L941.3 203.6 L964.3 203.6 L973.1 209.9 L964.3 216.2 L941.3 216.2Z M1005.1 209.9 L1013.9 203.6 L1036.9 203.6 L1045.7 209.9 L1036.9 216.2 L1013.9 216.2Z M1077.7 209.9 L1086.5 203.6 L1109.5 203.6 L1118.3 209.9 L1109.5 216.2 L1086.5 216.2Z M1150.3 209.9 L1159.1 203.6 L1182.1 203.6 L1190.9 209.9 L1182.1 216.2 L1159.1 216.2Z M599.5 228.8 L610.1 220.9 L642.1 220.9 L652.7 228.8 L642.1 236.7 L610.1 236.7Z M672.1 228.8 L682.7 220.9 L714.7 220.9 L725.3 228.8 L714.7 236.7 L682.7 236.7Z M744.7 228.8 L755.3 220.9 L787.3 220.9 L797.9 228.8 L787.3 236.7 L755.3 236.7Z M823.6 228.8 L832.4 222.5 L855.4 222.5 L864.2 228.8 L855.4 235.1 L832.4 235.1Z M896.2 228.8 L905.0 222.5 L928.0 222.5 L936.8 228.8 L928.0 235.1 L905.0 235.1Z M968.8 228.8 L977.6 222.5 L1000.6 222.5 L1009.4 228.8 L1000.6 235.1 L977.6 235.1Z M1041.4 228.8 L1050.2 222.5 L1073.2 222.5 L1082.0 228.8 L1073.2 235.1 L1050.2 235.1Z M1114.0 228.8 L1122.8 222.5 L1145.8 222.5 L1154.6 228.8 L1145.8 235.1 L1122.8 235.1Z M708.4 247.7 L719.0 239.8 L751.0 239.8 L761.6 247.7 L751.0 255.6 L719.0 255.6Z M787.3 247.7 L796.1 241.4 L819.1 241.4 L827.9 247.7 L819.1 254.0 L796.1 254.0Z M859.9 247.7 L868.7 241.4 L891.7 241.4 L900.5 247.7 L891.7 254.0 L868.7 254.0Z M932.5 247.7 L941.3 241.4 L964.3 241.4 L973.1 247.7 L964.3 254.0 L941.3 254.0Z M1005.1 247.7 L1013.9 241.4 L1036.9 241.4 L1045.7 247.7 L1036.9 254.0 L1013.9 254.0Z M1077.7 247.7 L1086.5 241.4 L1109.5 241.4 L1118.3 247.7 L1109.5 254.0 L1086.5 254.0Z M823.6 266.7 L832.4 260.4 L855.4 260.4 L864.2 266.7 L855.4 273.0 L832.4 273.0Z M896.2 266.7 L905.0 260.4 L928.0 260.4 L936.8 266.7 L928.0 273.0 L905.0 273.0Z M968.8 266.7 L977.6 260.4 L1000.6 260.4 L1009.4 266.7 L1000.6 273.0 L977.6 273.0Z M1041.4 266.7 L1050.2 260.4 L1073.2 260.4 L1082.0 266.7 L1073.2 273.0 L1050.2 273.0Z M932.5 285.6 L941.3 279.3 L964.3 279.3 L973.1 285.6 L964.3 291.9 L941.3 291.9Z M1005.1 285.6 L1013.9 279.3 L1036.9 279.3 L1045.7 285.6 L1036.9 291.9 L1013.9 291.9Z" fill="none" stroke="#fdf18f" stroke-width="2.1" stroke-linejoin="round" clip-path="url(#clipplane)"/>
</g>
<g filter="url(#blur12)">
<circle cx="757" cy="52" r="40" fill="#c266b2" opacity="0.78"/>
<path d="M728 74 L790 34 L886 176 Q874 212 846 202 Z" fill="#c65cb0" opacity="0.6"/>
</g>
<g filter="url(#blur8)" clip-path="url(#clipplane)">
<ellipse cx="818" cy="146" rx="34" ry="62" transform="rotate(-40 818 146)" fill="#ee4a9a" opacity="0.42"/>
</g>
<g filter="url(#blur5)">
<path d="M898 182 L1016 124" stroke="#ee2c2c" stroke-width="21" stroke-linecap="round" opacity="0.85" fill="none"/>
<path d="M742 271 L850 214" stroke="#4a44a6" stroke-width="22" stroke-linecap="round" opacity="0.8" fill="none"/>
<ellipse cx="866" cy="198" rx="20" ry="15" fill="#a63aae" opacity="0.8"/>
</g>
<ellipse cx="777.8" cy="104.0" rx="9.0" ry="11.0" transform="rotate(-41 777.8 104.0)" fill="none" stroke="#5a5cb8" stroke-width="2.4"/><ellipse cx="791.8" cy="121.4" rx="9.0" ry="11.0" transform="rotate(-41 791.8 121.4)" fill="none" stroke="#5a5cb8" stroke-width="2.4"/><ellipse cx="805.9" cy="138.8" rx="9.0" ry="11.0" transform="rotate(-41 805.9 138.8)" fill="none" stroke="#5a5cb8" stroke-width="2.4"/><ellipse cx="820.0" cy="156.1" rx="9.0" ry="11.0" transform="rotate(-41 820.0 156.1)" fill="none" stroke="#5a5cb8" stroke-width="2.4"/><ellipse cx="834.0" cy="173.5" rx="9.0" ry="11.0" transform="rotate(-41 834.0 173.5)" fill="none" stroke="#5a5cb8" stroke-width="2.4"/>
<path d="M755.5 81.5 q-5 12 13 24" stroke="#5a5cb8" stroke-width="2.2" fill="none"/>
<ellipse cx="796.9" cy="106.0" rx="9.0" ry="11.0" transform="rotate(-41 796.9 106.0)" fill="none" stroke="#e8187c" stroke-width="2.8"/><ellipse cx="810.7" cy="122.0" rx="9.0" ry="11.0" transform="rotate(-41 810.7 122.0)" fill="none" stroke="#e8187c" stroke-width="2.8"/><ellipse cx="824.5" cy="138.0" rx="9.0" ry="11.0" transform="rotate(-41 824.5 138.0)" fill="none" stroke="#e8187c" stroke-width="2.8"/><ellipse cx="838.2" cy="154.0" rx="9.0" ry="11.0" transform="rotate(-41 838.2 154.0)" fill="none" stroke="#e8187c" stroke-width="2.8"/><ellipse cx="852.0" cy="170.0" rx="9.0" ry="11.0" transform="rotate(-41 852.0 170.0)" fill="none" stroke="#e8187c" stroke-width="2.8"/>
<path d="M778 79.5 q16 -3 24 13" stroke="#e8187c" stroke-width="2.6" fill="none"/>
<path d="M862 160 q6 10 -2 20 l-3 -6 m3 6 l6 -3" stroke="#e8187c" stroke-width="1.8" fill="none"/>
<path d="M826 180 q8 6 16 2 l-5 -4 m5 4 l-3 5" stroke="#5a5cb8" stroke-width="1.8" fill="none"/>
<ellipse cx="921.0" cy="173.0" rx="6.5" ry="12.5" transform="rotate(12 921.0 173.0)" fill="none" stroke="#ee2222" stroke-width="2.6"/><ellipse cx="941.0" cy="163.0" rx="6.5" ry="12.5" transform="rotate(12 941.0 163.0)" fill="none" stroke="#ee2222" stroke-width="2.6"/><ellipse cx="961.0" cy="153.0" rx="6.5" ry="12.5" transform="rotate(12 961.0 153.0)" fill="none" stroke="#ee2222" stroke-width="2.6"/>
<path d="M893 185 q2 -14 22 -20" stroke="#ee2222" stroke-width="2" fill="none"/>
<path d="M958 138 q14 -10 26 -3 l-6 -4 m6 4 l-7 3" stroke="#ee2222" stroke-width="2" fill="none"/>
<ellipse cx="776.0" cy="251.0" rx="6.5" ry="12.5" transform="rotate(12 776.0 251.0)" fill="none" stroke="#3b55a6" stroke-width="2.6"/><ellipse cx="798.0" cy="241.0" rx="6.5" ry="12.5" transform="rotate(12 798.0 241.0)" fill="none" stroke="#3b55a6" stroke-width="2.6"/><ellipse cx="820.0" cy="231.0" rx="6.5" ry="12.5" transform="rotate(12 820.0 231.0)" fill="none" stroke="#3b55a6" stroke-width="2.6"/>
<path d="M822 216 q14 -6 24 -3" stroke="#3b55a6" stroke-width="2" fill="none"/>
<path d="M770 244 q-18 6 -20 22 l-3 -6 m3 6 l6 -3" stroke="#3b55a6" stroke-width="2" fill="none"/>
<path d="M751.7 59.8 L862 186" stroke="#7e40a8" stroke-width="3" fill="none"/>
<path d="M866.5 191 l-10.5 -4.5 l6.5 -5.8z" fill="#7e40a8"/>
<path d="M866 201.5 L1011 127.2" stroke="#ee2222" stroke-width="1.7" fill="none"/>
<path d="M1017 124 l-10.5 1.2 l4 7.4z" fill="#ee2222"/>
<path d="M866 200 L733 276" stroke="#3b55a6" stroke-width="1.7" fill="none"/>
<path d="M727.5 279.2 l10.3 -1.6 l-4.2 -7.2z" fill="#3b55a6"/>
<text x="489" y="116.5" font-size="41.5" text-anchor="start" font-weight="bold" fill="#000">(a)</text>
<text transform="translate(529.4 173.0) rotate(-27)" font-size="22.5" fill="#111">Topological</text>
<text transform="translate(1137.6 316.6) rotate(-27.8)" font-size="25" fill="#111">Trivial</text>
<text transform="translate(528.3 299.8) rotate(7.8)" font-size="24.6" fill="#111" stroke="#111" stroke-width="0.3" style="font-family:'Liberation Serif',serif;letter-spacing:1.5px" font-style="italic">R = a/<tspan font-style="normal">2.8</tspan></text>
<text transform="translate(804.1 345.8) rotate(7.8)" font-size="24.6" fill="#111" stroke="#111" stroke-width="0.3" style="font-family:'Liberation Serif',serif;letter-spacing:1.5px" font-style="italic">R = a/<tspan font-style="normal">3.5</tspan></text>
<text x="974" y="187.4" font-size="19.2" text-anchor="start" font-weight="bold" fill="#ee2222">RCP</text>
<text x="844.5" y="264.6" font-size="18.6" text-anchor="start" font-weight="bold" fill="#3b55a6">LCP</text>
<text x="1084" y="112.9" font-size="20.4" text-anchor="start" font-weight="normal" fill="#000">BA</text>
<text x="1084.0" y="134.0" font-size="20.4" fill="#000">PbI<tspan dy="6.4" dx="1.5" font-size="13.5">6</tspan></text>
<path d="M1073.9 107 V97" stroke="#7030a0" stroke-width="2"/><path d="M1073.9 93.8 l4.6 3.2 l-4.6 3.2 l-4.6 -3.2z" fill="#7030a0"/>
<path d="M1064 117.5 l10 -3.5 l4 10 l-10 4z" fill="#fbf8e0"/>
<circle cx="1064.5" cy="121" r="1.3" fill="#1a8a82"/>
<circle cx="1074.5" cy="114.5" r="1.3" fill="#1a8a82"/>
<circle cx="1079" cy="124" r="1.3" fill="#1a8a82"/>
<circle cx="1070" cy="130.5" r="1.3" fill="#1a8a82"/>
<circle cx="1071.5" cy="122" r="1.3" fill="#1a8a82"/>
<path d="M1093.8 161.4 L1138 140.6" stroke="#c8982e" stroke-width="1.9" fill="none"/><path d="M1144.8 137.4 l-10.8 0.4 l4.4 8.2z" fill="#c8982e"/>
<path d="M1170.3 101.5 V113.5" stroke="#7030a0" stroke-width="1.7"/>
<path d="M1170.3 100.7 l4.3 3 l-4.3 3 l-4.3 -3z" fill="#7030a0"/>
<path d="M1198.9 98.0 V111.0" stroke="#7030a0" stroke-width="1.7"/>
<path d="M1198.9 97.2 l4.3 3 l-4.3 3 l-4.3 -3z" fill="#7030a0"/>
<path d="M1155.1 114.5 V124.5" stroke="#7030a0" stroke-width="1.7"/>
<path d="M1155.1 119.3 l4.3 3 l-4.3 3 l-4.3 -3z" fill="#7030a0"/>
<path d="M1185.4 112.2 V121.0" stroke="#7030a0" stroke-width="1.7"/>
<path d="M1185.4 115.8 l4.3 3 l-4.3 3 l-4.3 -3z" fill="#7030a0"/>
<path d="M1212.9 108.8 V118.6" stroke="#7030a0" stroke-width="1.7"/>
<path d="M1212.9 113.39999999999999 l4.3 3 l-4.3 3 l-4.3 -3z" fill="#7030a0"/>
<path d="M1156.8 130.5 V141.6" stroke="#7030a0" stroke-width="1.7"/>
<path d="M1156.8 129.7 l4.3 3 l-4.3 3 l-4.3 -3z" fill="#7030a0"/>
<path d="M1184.9 127.2 V138.0" stroke="#7030a0" stroke-width="1.7"/>
<path d="M1184.9 126.4 l4.3 3 l-4.3 3 l-4.3 -3z" fill="#7030a0"/>
<path d="M1212.9 124.8 V135.7" stroke="#7030a0" stroke-width="1.7"/>
<path d="M1212.9 124.0 l4.3 3 l-4.3 3 l-4.3 -3z" fill="#7030a0"/>
<path d="M1169.7 138.0 V149.0" stroke="#7030a0" stroke-width="1.7"/>
<path d="M1169.7 143.8 l4.3 3 l-4.3 3 l-4.3 -3z" fill="#7030a0"/>
<path d="M1198.3 134.5 V145.5" stroke="#7030a0" stroke-width="1.7"/>
<path d="M1198.3 140.3 l4.3 3 l-4.3 3 l-4.3 -3z" fill="#7030a0"/>
<path d="M1143.9 101.1 L1153.9 90.1 L1163.9 99.1 L1153.9 110.1Z" fill="#d9b632"/>
<path d="M1143.9 101.1 L1153.9 90.1 L1154.9 101.1Z" fill="#f3dc6a"/>
<path d="M1154.9 101.1 L1163.9 99.1 L1153.9 110.1Z" fill="#a88a22"/>
<circle cx="1143.9" cy="101.1" r="1.7" fill="#17897f"/>
<circle cx="1153.9" cy="90.1" r="1.7" fill="#17897f"/>
<circle cx="1163.9" cy="99.1" r="1.7" fill="#17897f"/>
<circle cx="1153.9" cy="110.1" r="1.7" fill="#17897f"/>
<circle cx="1154.9" cy="101.1" r="1.7" fill="#17897f"/>
<path d="M1173.7 97.6 L1183.7 86.6 L1193.7 95.6 L1183.7 106.6Z" fill="#d9b632"/>
<path d="M1173.7 97.6 L1183.7 86.6 L1184.7 97.6Z" fill="#f3dc6a"/>
<path d="M1184.7 97.6 L1193.7 95.6 L1183.7 106.6Z" fill="#a88a22"/>
<circle cx="1173.7" cy="97.6" r="1.7" fill="#17897f"/>
<circle cx="1183.7" cy="86.6" r="1.7" fill="#17897f"/>
<circle cx="1193.7" cy="95.6" r="1.7" fill="#17897f"/>
<circle cx="1183.7" cy="106.6" r="1.7" fill="#17897f"/>
<circle cx="1184.7" cy="97.6" r="1.7" fill="#17897f"/>
<path d="M1201.7 94.7 L1211.7 83.7 L1221.7 92.7 L1211.7 103.7Z" fill="#d9b632"/>
<path d="M1201.7 94.7 L1211.7 83.7 L1212.7 94.7Z" fill="#f3dc6a"/>
<path d="M1212.7 94.7 L1221.7 92.7 L1211.7 103.7Z" fill="#a88a22"/>
<circle cx="1201.7" cy="94.7" r="1.7" fill="#17897f"/>
<circle cx="1211.7" cy="83.7" r="1.7" fill="#17897f"/>
<circle cx="1221.7" cy="92.7" r="1.7" fill="#17897f"/>
<circle cx="1211.7" cy="103.7" r="1.7" fill="#17897f"/>
<circle cx="1212.7" cy="94.7" r="1.7" fill="#17897f"/>
<path d="M1159.7 126.8 L1169.7 115.8 L1179.7 124.8 L1169.7 135.8Z" fill="#d9b632"/>
<path d="M1159.7 126.8 L1169.7 115.8 L1170.7 126.8Z" fill="#f3dc6a"/>
<path d="M1170.7 126.8 L1179.7 124.8 L1169.7 135.8Z" fill="#a88a22"/>
<circle cx="1159.7" cy="126.8" r="1.7" fill="#17897f"/>
<circle cx="1169.7" cy="115.8" r="1.7" fill="#17897f"/>
<circle cx="1179.7" cy="124.8" r="1.7" fill="#17897f"/>
<circle cx="1169.7" cy="135.8" r="1.7" fill="#17897f"/>
<circle cx="1170.7" cy="126.8" r="1.7" fill="#17897f"/>
<path d="M1188.3 124.5 L1198.3 113.5 L1208.3 122.5 L1198.3 133.5Z" fill="#d9b632"/>
<path d="M1188.3 124.5 L1198.3 113.5 L1199.3 124.5Z" fill="#f3dc6a"/>
<path d="M1199.3 124.5 L1208.3 122.5 L1198.3 133.5Z" fill="#a88a22"/>
<circle cx="1188.3" cy="124.5" r="1.7" fill="#17897f"/>
<circle cx="1198.3" cy="113.5" r="1.7" fill="#17897f"/>
<circle cx="1208.3" cy="122.5" r="1.7" fill="#17897f"/>
<circle cx="1198.3" cy="133.5" r="1.7" fill="#17897f"/>
<circle cx="1199.3" cy="124.5" r="1.7" fill="#17897f"/>
<path d="M1146.2 155.4 L1156.2 144.4 L1166.2 153.4 L1156.2 164.4Z" fill="#d9b632"/>
<path d="M1146.2 155.4 L1156.2 144.4 L1157.2 155.4Z" fill="#f3dc6a"/>
<path d="M1157.2 155.4 L1166.2 153.4 L1156.2 164.4Z" fill="#a88a22"/>
<circle cx="1146.2" cy="155.4" r="1.7" fill="#17897f"/>
<circle cx="1156.2" cy="144.4" r="1.7" fill="#17897f"/>
<circle cx="1166.2" cy="153.4" r="1.7" fill="#17897f"/>
<circle cx="1156.2" cy="164.4" r="1.7" fill="#17897f"/>
<circle cx="1157.2" cy="155.4" r="1.7" fill="#17897f"/>
<path d="M1174.3 151.9 L1184.3 140.9 L1194.3 149.9 L1184.3 160.9Z" fill="#d9b632"/>
<path d="M1174.3 151.9 L1184.3 140.9 L1185.3 151.9Z" fill="#f3dc6a"/>
<path d="M1185.3 151.9 L1194.3 149.9 L1184.3 160.9Z" fill="#a88a22"/>
<circle cx="1174.3" cy="151.9" r="1.7" fill="#17897f"/>
<circle cx="1184.3" cy="140.9" r="1.7" fill="#17897f"/>
<circle cx="1194.3" cy="149.9" r="1.7" fill="#17897f"/>
<circle cx="1184.3" cy="160.9" r="1.7" fill="#17897f"/>
<circle cx="1185.3" cy="151.9" r="1.7" fill="#17897f"/>
<path d="M1201.7 149.6 L1211.7 138.6 L1221.7 147.6 L1211.7 158.6Z" fill="#d9b632"/>
<path d="M1201.7 149.6 L1211.7 138.6 L1212.7 149.6Z" fill="#f3dc6a"/>
<path d="M1212.7 149.6 L1221.7 147.6 L1211.7 158.6Z" fill="#a88a22"/>
<circle cx="1201.7" cy="149.6" r="1.7" fill="#17897f"/>
<circle cx="1211.7" cy="138.6" r="1.7" fill="#17897f"/>
<circle cx="1221.7" cy="147.6" r="1.7" fill="#17897f"/>
<circle cx="1211.7" cy="158.6" r="1.7" fill="#17897f"/>
<circle cx="1212.7" cy="149.6" r="1.7" fill="#17897f"/>
<clipPath id="clipb"><rect x="90.6" y="408.6" width="259.0" height="215.89999999999998"/></clipPath>
<g clip-path="url(#clipb)">
<rect x="90.6" y="408.6" width="259.0" height="215.89999999999998" fill="#2a2a78"/>
<g filter="url(#blur1)" opacity="0.8"><path d="M138 626 Q160 616 184 613" stroke="#2d44a2" stroke-width="4" fill="none" stroke-linecap="round"/><path d="M302 626 Q280 616 256 613" stroke="#2d44a2" stroke-width="4" fill="none" stroke-linecap="round"/></g>
<g filter="url(#blur07)"><path d="M84 404.2l1.3-.1 1.3-.1 1.3-.1 1.3-.1 1.3-.1 1.3-.1 1.3-.1 1.3-.1 1.3-.1 1.3 0 1.3-.1 1.3-.1 1.3-.1 1.3-.1 1.3-.2 1.3-.1 1.3 .2 1.3 .4 1.3 .2 1.3-.2 1.3-.6 1.3-.7 1.3-.1 1.3 .7 1.3 1.3 1.3 1 1.3 .1 1.3-.9 1.3-1.2 1.3-.6 1.3 .9 1.3 1.9 1.3 1.8 1.3 .7 1.4-.6 1.3-1.3 1.3-.9 1.3 .5 1.3 1.7 1.3 2.1 1.3 1.5 1.3 .1 1.3-.9 1.3-1 1.3 0 1.3 1.4 1.3 2.2 1.3 2.1 1.3 .9 1.3-.3 1.3-.9 1.3-.4 1.3 1 1.3 2.1 1.3 2.5 1.3 1.7 1.3 .4 1.3-.5 1.3-.6 1.3 .6 1.3 1.8 1.3 2.6 1.3 2.3 1.3 1.2 1.3 0 1.3-.4 1.3 .1 1.3 1.5 1.3 2.4 1.3 2.6 1.3 1.8 1.3 .7 1.3-.1 1.3 0 1.3 1.1 1.3 2.1 1.3 2.4 1.3 1.9 1.3 1.2 1.3 .6 1.3 .6 1.3 .9 1.3 1.5 1.3 1.8 1.3 1.6 1.3 1.3 1.3 1 1.3 1 1.3 1 1.3 1.2 1.3 1.3 1.3 1.1 1.3 1 1.3 1.1 1.3 .9 1.3 1 1.3 .8 1.3 .8 1.3 .7 1.3 .6 1.3 .3 1.3 .2 1.3 .1 1.3 .1 1.4 0 1.3-.1 1.3-.1 1.3-.1 1.3-.2 1.3-.6 1.3-.6 1.3-.7 1.3-.9 1.3-1 1.3-1.1 1.3-1.2 1.3-1.2 1.3-1.2 1.3-1.3 1.3-1.2 1.3-.9 1.3-.7 1.3-.7 1.3-.9 1.3-1.3 1.3-1.5 1.3-1.4 1.3-1.1 1.3-.7 1.3-.9 1.3-1.4 1.3-2.3 1.3-2.9 1.3-2.7 1.3-1.7 1.3-.4 1.3 0 1.3-.7 1.3-1.9 1.3-2.7 1.3-2.6 1.3-1.4 1.3-.1 1.3 .7 1.3 .3 1.3-.8 1.3-1.8 1.3-2.2 1.3-1.7 1.3-.5 1.3 .6 1.3 .7 1.3-.1 1.3-1.3 1.3-2.2 1.3-2.1 1.3-1.1 1.3 .2 1.3 .9 1.3 .4 1.3-.7 1.3-1.9 1.3-2.3 1.3-1.6 1.3-.2 1.3 .8 1.3 1 1.3 0 1.3-1.3 1.3-2.1 1.3-1.9 1.3-.7 1.3 .6 1.3 1.3 1.4 .7 1.3-.5 1.3-1.7 1.3-2 1.3-1.1 1.3 .3 1.3 1.2 1.3 .9 1.3 .1 1.3-1 1.3-1.3 1.3-.9 1.3 0 1.3 .6 1.3 .6 1.3 .2 1.3-.2 1.3-.4 1.3-.2 1.3 0 1.3 .2 1.3 .1 1.3 0 1.3 .1 1.3 0 1.3 .1 1.3 .1 1.3 .1 1.3 .1 1.3 0 1.3 .1 1.3 .1 1.3 .1 1.3 .1 1.3 .1 0 24 -1.3-.1 -1.3 0 -1.3-.1 -1.3-.1 -1.3-.1 -1.3-.1 -1.3-.1 -1.3-.1 -1.3-.1 -1.3-.1 -1.3 0 -1.3-.1 -1.3 0 -1.3-.1 -1.3 .1 -1.3 0 -1.3-.2 -1.3-.4 -1.3-.2 -1.3 .4 -1.3 .7 -1.3 .8 -1.3 .2 -1.3-.7 -1.3-1 -1.3-.6 -1.3 .3 -1.3 1.4 -1.3 1.7 -1.3 .8 -1.3-.5 -1.3-1.5 -1.3-1 -1.3 .1 -1.4 1.5 -1.3 2.1 -1.3 1.5 -1.3 .2 -1.3-.9 -1.3-1.2 -1.3-.2 -1.3 1 -1.3 2.1 -1.3 2 -1.3 1 -1.3-.4 -1.3-1.1 -1.3-.6 -1.3 .5 -1.3 1.7 -1.3 2.2 -1.3 1.5 -1.3 .1 -1.3-.8 -1.3-.9 -1.3 0 -1.3 1.2 -1.3 2 -1.3 1.9 -1.3 .9 -1.3-.2 -1.3-.7 -1.3-.2 -1.3 1 -1.3 2.2 -1.3 2.7 -1.3 2.1 -1.3 .9 -1.3 0 -1.3-.1 -1.3 .9 -1.3 2.1 -1.3 2.9 -1.3 2.4 -1.3 1.1 -1.3 0 -1.3-.2 -1.3 .2 -1.3 1 -1.3 1.3 -1.3 1.2 -1.3 .8 -1.3 .3 -1.3 .1 -1.3 .3 -1.3 .6 -1.3 1 -1.3 1.1 -1.3 1 -1.3 .7 -1.3 .7 -1.3 .8 -1.3 .7 -1.3 .6 -1.3 .5 -1.3 .3 -1.3 .3 -1.3 .2 -1.3 .1 -1.3 0 -1.3 .1 -1.3 .1 -1.3 .1 -1.3 .1 -1.4 0 -1.3-.1 -1.3-.1 -1.3-.1 -1.3-.2 -1.3 0 -1.3-.2 -1.3-.2 -1.3-.4 -1.3-.4 -1.3-.5 -1.3-.5 -1.3-.7 -1.3-.6 -1.3-.5 -1.3-.7 -1.3-.8 -1.3-1 -1.3-.9 -1.3-.7 -1.3-.4 -1.3-.3 -1.3-.6 -1.3-1.2 -1.3-1.6 -1.3-1.6 -1.3-1 -1.3-.3 -1.3 .2 -1.3-.1 -1.3-1.2 -1.3-2.1 -1.3-2.3 -1.3-1.5 -1.3-.4 -1.3 .5 -1.3 .4 -1.3-.7 -1.3-1.9 -1.3-2.5 -1.3-2 -1.3-.8 -1.3 .4 -1.3 .6 -1.3 0 -1.3-1.3 -1.3-2.3 -1.3-2.3 -1.3-1.3 -1.3 0 -1.3 .8 -1.3 .5 -1.3-.6 -1.3-1.9 -1.3-2.4 -1.3-1.7 -1.3-.5 -1.3 .7 -1.3 1 -1.3 .2 -1.3-1.2 -1.3-2.2 -1.3-2 -1.3-.8 -1.3 .4 -1.3 1.2 -1.3 .9 -1.3-.4 -1.3-1.6 -1.3-2 -1.4-1.3 -1.3 .1 -1.3 1.2 -1.3 1.4 -1.3 .4 -1.3-1 -1.3-1.6 -1.3-1.2 -1.3-.1 -1.3 .7 -1.3 1.1 -1.3 .6 -1.3-.3 -1.3-.7 -1.3-.7 -1.3-.2 -1.3 .3 -1.3 .4 -1.3 .2 -1.3 0 -1.3 0 -1.3 0 -1.3 .1 -1.3 .1 -1.3 .1 -1.3 .1 -1.3 .1 -1.3 .1 -1.3 .1 -1.3 .1 -1.3 .1 -1.3 .1 -1.3 .1 -1.3 0 -1.3 .1zM84 615.4l1.3-1 1.3 .9 1.3 .9 1.3-.6 1.3-2.8 1.3-4.2 1.3-3.8 1.3-2 1.3 .2 1.3 1 1.3 .2 1.3-1.8 1.3-3.6 1.3-4.2 1.3-3 1.3-.8 1.3 .8 1.3 .7 1.3-.9 1.3-3.1 1.3-4.3 1.3-4 1.3-2 1.3 .2 1.3 1 1.3-.1 1.3-2.2 1.3-4 1.3-4.5 1.3-3 1.3-.7 1.3 .9 1.3 .7 1.3-1.1 1.4-3.3 1.3-4.4 1.3-3.8 1.3-1.6 1.3 .5 1.3 1 1.3-.1 1.3-2.2 1.3-3.9 1.3-4.1 1.3-2.5 1.3-.3 1.3 1 1.3 .7 1.3-1.2 1.3-3 1.3-4 1.3-3.2 1.3-1.1 1.3 .7 1.3 1 1.3-.2 1.3-2 1.3-3.5 1.3-3.6 1.3-2 1.3-.1 1.3 1.1 1.3 .6 1.3-1.1 1.3-2.9 1.3-3.5 1.3-2.7 1.3-.8 1.3 .6 1.3 .9 1.3-.4 1.3-2.1 1.3-3.2 1.3-3.1 1.3-1.6 1.3 0 1.3 .6 1.3-.1 1.3-1.4 1.3-2.3 1.3-2.5 1.3-1.7 1.3-.7 1.3-.3 1.3-.4 1.3-.9 1.3-1.3 1.3-1.4 1.3-1.1 1.3-.7 1.3-.6 1.3-.8 1.3-.7 1.3-.6 1.3-.6 1.3-.4 1.3-.5 1.3-.3 1.3-.3 1.3-.2 1.3-.2 1.3-.2 1.3-.2 1.3 0 1.4 0 1.3 0 1.3 .1 1.3 .2 1.3 .3 1.3 .2 1.3 .3 1.3 .4 1.3 .4 1.3 .5 1.3 .6 1.3 .7 1.3 .8 1.3 .7 1.3 .7 1.3 .8 1.3 1.1 1.3 1.5 1.3 1.4 1.3 1.1 1.3 .5 1.3 .3 1.3 .7 1.3 1.6 1.3 2.3 1.3 2.4 1.3 1.5 1.3 .2 1.3-.6 1.3-.3 1.3 1.3 1.3 2.9 1.3 3.1 1.3 2.2 1.3 .6 1.3-.7 1.3-.9 1.3 .5 1.3 2.4 1.3 3.5 1.3 3 1.3 1.4 1.3-.4 1.3-1.2 1.3-.2 1.3 1.8 1.3 3.5 1.3 3.7 1.3 2.5 1.3 .5 1.3-1 1.3-.8 1.3 .9 1.3 3.1 1.3 4.2 1.3 3.4 1.3 1.6 1.3-.4 1.3-1.1 1.3 .1 1.3 2.3 1.3 4.1 1.3 4.1 1.3 2.5 1.3 .5 1.3-.9 1.3-.6 1.3 1.3 1.3 3.4 1.3 4.3 1.4 3.4 1.3 1.3 1.3-.4 1.3-1 1.3 .3 1.3 2.5 1.3 4 1.3 4 1.3 2.2 1.3 .3 1.3-1 1.3-.5 1.3 1.4 1.3 3.5 1.3 4.3 1.3 3.1 1.3 1.2 1.3-.6 1.3-1 1.3 .4 1.3 2.7 1.3 4.2 1.3 3.8 1.3 2.1 1.3 .1 1.3-1 1.3-.4 1.3 1.7 1.3 3.7 1.3 4.2 1.3 3.1 1.3 1 1.3-.8 1.3-.9 1.3 .7 0 29.6 -1.3-2.6 -1.3-4.2 -1.3-3.9 -1.3-2.3 -1.3-.2 -1.3 1 -1.3 .4 -1.3-1.5 -1.3-3.6 -1.3-4.3 -1.3-3.1 -1.3-1.1 -1.3 .6 -1.3 .9 -1.3-.5 -1.3-2.8 -1.3-4.2 -1.3-3.8 -1.3-2 -1.3 0 -1.3 1 -1.3 .3 -1.3-1.8 -1.3-3.7 -1.3-4.1 -1.3-3 -1.3-.8 -1.3 .7 -1.3 .9 -1.3-.7 -1.3-2.9 -1.3-4.2 -1.3-3.7 -1.3-1.8 -1.4 .1 -1.3 1.1 -1.3 .2 -1.3-2 -1.3-3.9 -1.3-4.2 -1.3-2.8 -1.3-.7 -1.3 .8 -1.3 .8 -1.3-1 -1.3-3.2 -1.3-4.3 -1.3-3.6 -1.3-1.7 -1.3 .2 -1.3 1 -1.3-.1 -1.3-2.2 -1.3-3.9 -1.3-4 -1.3-2.5 -1.3-.6 -1.3 .9 -1.3 .6 -1.3-1.2 -1.3-3.1 -1.3-3.9 -1.3-3.2 -1.3-1.4 -1.3 .2 -1.3 .8 -1.3-.4 -1.3-2.2 -1.3-3.5 -1.3-3.4 -1.3-2.1 -1.3-.4 -1.3 .5 -1.3 .2 -1.3-1.3 -1.3-2.9 -1.3-3.2 -1.3-2.3 -1.3-1.1 -1.3-.3 -1.3-.2 -1.3-1 -1.3-2 -1.3-2.3 -1.3-2 -1.3-1.6 -1.3-1 -1.3-1.1 -1.3-1.2 -1.3-1.6 -1.3-1.5 -1.3-1.3 -1.3-1.2 -1.3-1.2 -1.3-1 -1.3-1 -1.3-.9 -1.3-.8 -1.3-.7 -1.3-.6 -1.3-.3 -1.3-.3 -1.3-.2 -1.3-.1 -1.4 .1 -1.3 .1 -1.3 .2 -1.3 .2 -1.3 .4 -1.3 .6 -1.3 .6 -1.3 .7 -1.3 .9 -1.3 .9 -1.3 .9 -1.3 1.1 -1.3 1.1 -1.3 1.3 -1.3 1.5 -1.3 1.4 -1.3 1.1 -1.3 1 -1.3 1.1 -1.3 1.6 -1.3 2.2 -1.3 2.4 -1.3 1.9 -1.3 1 -1.3 .2 -1.3 .4 -1.3 1.4 -1.3 2.6 -1.3 3.4 -1.3 2.8 -1.3 1 -1.3-.3 -1.3-.5 -1.3 .7 -1.3 2.4 -1.3 3.6 -1.3 3.4 -1.3 1.8 -1.3 .1 -1.3-.8 -1.3-.1 -1.3 1.6 -1.3 3.3 -1.3 3.8 -1.3 2.7 -1.3 .7 -1.3-.8 -1.3-.7 -1.3 .7 -1.3 2.7 -1.3 3.9 -1.3 3.5 -1.3 1.8 -1.3-.2 -1.3-1 -1.3 0 -1.3 2 -1.3 3.7 -1.3 4.2 -1.3 2.9 -1.3 .7 -1.3-.8 -1.3-.6 -1.3 1.1 -1.3 3.2 -1.3 4.4 -1.3 3.8 -1.3 1.8 -1.3-.3 -1.3-1 -1.4 .2 -1.3 2.4 -1.3 4.2 -1.3 4.4 -1.3 2.8 -1.3 .5 -1.3-1 -1.3-.5 -1.3 1.3 -1.3 3.4 -1.3 4.4 -1.3 3.6 -1.3 1.5 -1.3-.7 -1.3-1 -1.3 .3 -1.3 2.3 -1.3 4 -1.3 4 -1.3 2.4 -1.3 .2 -1.3-1 -1.3-.4 -1.3 1.4 -1.3 3.4 -1.3 4.3 -1.3 3.4 -1.3 1.3 -1.3-.6 -1.3-.9 -1.3 .6 -1.3 2.8 -1.3 4.4 -1.3 4.4 -1.3 2.5z" fill="#385dae"/>
<path d="M84 405.6l1.3-.1 1.3-.1 1.3 0 1.3-.1 1.3-.1 1.3-.1 1.3-.1 1.3-.1 1.3-.1 1.3-.1 1.3-.1 1.3-.1 1.3-.1 1.3 0 1.3-.2 1.3-.1 1.3 .1 1.3 .4 1.3 .2 1.3-.2 1.3-.6 1.3-.6 1.3-.1 1.3 .7 1.3 1.1 1.3 1 1.3 .1 1.3-.8 1.3-1.1 1.3-.5 1.3 .8 1.3 1.7 1.3 1.7 1.3 .7 1.4-.6 1.3-1.1 1.3-.8 1.3 .5 1.3 1.6 1.3 2 1.3 1.3 1.3 .2 1.3-.8 1.3-.8 1.3 0 1.3 1.3 1.3 2.1 1.3 2 1.3 .9 1.3-.2 1.3-.8 1.3-.3 1.3 .9 1.3 2.1 1.3 2.3 1.3 1.6 1.3 .5 1.3-.4 1.3-.4 1.3 .5 1.3 1.8 1.3 2.5 1.3 2.2 1.3 1.1 1.3 .1 1.3-.2 1.3 .2 1.3 1.4 1.3 2.3 1.3 2.5 1.3 1.7 1.3 .7 1.3 0 1.3 .2 1.3 1.1 1.3 2 1.3 2.2 1.3 1.9 1.3 1.2 1.3 .7 1.3 .6 1.3 .9 1.3 1.5 1.3 1.7 1.3 1.6 1.3 1.2 1.3 1.1 1.3 .9 1.3 1.1 1.3 1.2 1.3 1.2 1.3 1 1.3 1.1 1.3 .9 1.3 1 1.3 .9 1.3 .8 1.3 .7 1.3 .6 1.3 .6 1.3 .3 1.3 .2 1.3 .1 1.3 0 1.4 0 1.3 0 1.3-.1 1.3-.1 1.3-.2 1.3-.5 1.3-.6 1.3-.7 1.3-.8 1.3-1 1.3-1 1.3-1.1 1.3-1.2 1.3-1.2 1.3-1.2 1.3-1.2 1.3-1 1.3-.7 1.3-.7 1.3-1 1.3-1.2 1.3-1.5 1.3-1.3 1.3-1 1.3-.8 1.3-.8 1.3-1.4 1.3-2.2 1.3-2.8 1.3-2.6 1.3-1.6 1.3-.6 1.3-.1 1.3-.8 1.3-1.8 1.3-2.6 1.3-2.5 1.3-1.4 1.3-.2 1.3 .5 1.3 .2 1.3-.8 1.3-1.7 1.3-2.1 1.3-1.6 1.3-.5 1.3 .4 1.3 .6 1.3-.2 1.3-1.2 1.3-2 1.3-2 1.3-1.1 1.3 .2 1.3 .7 1.3 .3 1.3-.7 1.3-1.7 1.3-2.2 1.3-1.5 1.3-.3 1.3 .8 1.3 .8 1.3 0 1.3-1.3 1.3-2 1.3-1.7 1.3-.7 1.3 .6 1.3 1.1 1.4 .6 1.3-.5 1.3-1.6 1.3-1.8 1.3-1.1 1.3 .3 1.3 1.1 1.3 .8 1.3 0 1.3-.9 1.3-1.2 1.3-.8 1.3 0 1.3 .5 1.3 .6 1.3 .2 1.3-.2 1.3-.4 1.3-.2 1.3 .1 1.3 .1 1.3 .1 1.3 0 1.3 .1 1.3 0 1.3 .1 1.3 .1 1.3 .1 1.3 .1 1.3 .1 1.3 .1 1.3 0 1.3 .1 1.3 .1 1.3 .1 0 21.2 -1.3-.1 -1.3-.1 -1.3-.1 -1.3 0 -1.3-.1 -1.3-.1 -1.3-.1 -1.3-.1 -1.3-.1 -1.3-.1 -1.3 0 -1.3-.1 -1.3-.1 -1.3 0 -1.3 .1 -1.3 0 -1.3-.2 -1.3-.4 -1.3-.1 -1.3 .3 -1.3 .7 -1.3 .7 -1.3 .2 -1.3-.6 -1.3-1 -1.3-.5 -1.3 .4 -1.3 1.2 -1.3 1.6 -1.3 .8 -1.3-.5 -1.3-1.3 -1.3-.9 -1.3 .2 -1.4 1.3 -1.3 2 -1.3 1.4 -1.3 .2 -1.3-.8 -1.3-1 -1.3-.2 -1.3 1 -1.3 2 -1.3 1.9 -1.3 .9 -1.3-.3 -1.3-.9 -1.3-.6 -1.3 .6 -1.3 1.6 -1.3 2 -1.3 1.4 -1.3 .3 -1.3-.8 -1.3-.7 -1.3 0 -1.3 1.1 -1.3 1.9 -1.3 1.8 -1.3 .9 -1.3-.1 -1.3-.6 -1.3-.1 -1.3 1 -1.3 2.1 -1.3 2.5 -1.3 2 -1.3 .9 -1.3 .1 -1.3 0 -1.3 .9 -1.3 2.1 -1.3 2.7 -1.3 2.3 -1.3 1.1 -1.3 .2 -1.3-.1 -1.3 .4 -1.3 .9 -1.3 1.4 -1.3 1.2 -1.3 .7 -1.3 .4 -1.3 .2 -1.3 .3 -1.3 .7 -1.3 .9 -1.3 1.1 -1.3 .9 -1.3 .8 -1.3 .7 -1.3 .8 -1.3 .7 -1.3 .7 -1.3 .5 -1.3 .4 -1.3 .4 -1.3 .2 -1.3 .1 -1.3 .1 -1.3 .1 -1.3 .2 -1.3 0 -1.3 .1 -1.4 0 -1.3-.1 -1.3-.1 -1.3-.1 -1.3-.2 -1.3-.1 -1.3-.2 -1.3-.3 -1.3-.4 -1.3-.4 -1.3-.6 -1.3-.6 -1.3-.6 -1.3-.7 -1.3-.6 -1.3-.6 -1.3-.8 -1.3-1 -1.3-1 -1.3-.7 -1.3-.5 -1.3-.3 -1.3-.7 -1.3-1.1 -1.3-1.6 -1.3-1.5 -1.3-1 -1.3-.3 -1.3 0 -1.3-.2 -1.3-1.1 -1.3-2.1 -1.3-2.1 -1.3-1.5 -1.3-.4 -1.3 .3 -1.3 .2 -1.3-.7 -1.3-1.8 -1.3-2.3 -1.3-1.9 -1.3-.8 -1.3 .2 -1.3 .5 -1.3-.1 -1.3-1.2 -1.3-2.2 -1.3-2.2 -1.3-1.3 -1.3-.1 -1.3 .7 -1.3 .4 -1.3-.6 -1.3-1.8 -1.3-2.2 -1.3-1.7 -1.3-.4 -1.3 .5 -1.3 .9 -1.3 .1 -1.3-1.2 -1.3-2 -1.3-1.8 -1.3-.9 -1.3 .4 -1.3 1 -1.3 .8 -1.3-.4 -1.3-1.5 -1.3-1.9 -1.4-1.2 -1.3 .1 -1.3 1.1 -1.3 1.2 -1.3 .4 -1.3-.9 -1.3-1.5 -1.3-1.1 -1.3-.2 -1.3 .7 -1.3 .9 -1.3 .6 -1.3-.3 -1.3-.6 -1.3-.7 -1.3-.1 -1.3 .2 -1.3 .4 -1.3 .2 -1.3 0 -1.3-.1 -1.3 .1 -1.3 .1 -1.3 .1 -1.3 .1 -1.3 .1 -1.3 .1 -1.3 .1 -1.3 .1 -1.3 .1 -1.3 .1 -1.3 .1 -1.3 0 -1.3 .1 -1.3 .1zM84 617.2l1.3-1.1 1.3 .6 1.3 .7 1.3-.7 1.3-2.7 1.3-3.9 1.3-3.7 1.3-2 1.3 0 1.3 .9 1.3 0 1.3-1.7 1.3-3.5 1.3-4 1.3-2.9 1.3-.9 1.3 .6 1.3 .6 1.3-1 1.3-2.9 1.3-4.2 1.3-3.8 1.3-1.9 1.3 0 1.3 .8 1.3-.2 1.3-2.2 1.3-3.8 1.3-4.3 1.3-2.9 1.3-.8 1.3 .7 1.3 .5 1.3-1.2 1.4-3.1 1.3-4.2 1.3-3.6 1.3-1.6 1.3 .3 1.3 .8 1.3-.3 1.3-2.1 1.3-3.7 1.3-3.9 1.3-2.5 1.3-.4 1.3 .9 1.3 .4 1.3-1.2 1.3-2.9 1.3-3.8 1.3-3 1.3-1.2 1.3 .5 1.3 .8 1.3-.2 1.3-2 1.3-3.4 1.3-3.3 1.3-2 1.3-.2 1.3 .9 1.3 .4 1.3-1.1 1.3-2.7 1.3-3.3 1.3-2.6 1.3-.9 1.3 .5 1.3 .6 1.3-.4 1.3-2 1.3-3.1 1.3-2.9 1.3-1.7 1.3 0 1.3 .4 1.3-.2 1.3-1.4 1.3-2.3 1.3-2.3 1.3-1.7 1.3-.8 1.3-.3 1.3-.5 1.3-.9 1.3-1.3 1.3-1.4 1.3-1.1 1.3-.8 1.3-.6 1.3-.8 1.3-.7 1.3-.7 1.3-.6 1.3-.5 1.3-.4 1.3-.4 1.3-.3 1.3-.2 1.3-.3 1.3-.2 1.3-.2 1.3 0 1.4-.1 1.3 .1 1.3 .1 1.3 .2 1.3 .3 1.3 .2 1.3 .4 1.3 .4 1.3 .5 1.3 .5 1.3 .7 1.3 .7 1.3 .8 1.3 .8 1.3 .7 1.3 .8 1.3 1.1 1.3 1.5 1.3 1.4 1.3 1.1 1.3 .6 1.3 .4 1.3 .7 1.3 1.5 1.3 2.3 1.3 2.2 1.3 1.5 1.3 .4 1.3-.5 1.3-.1 1.3 1.3 1.3 2.7 1.3 3 1.3 2.1 1.3 .6 1.3-.5 1.3-.7 1.3 .6 1.3 2.3 1.3 3.3 1.3 2.8 1.3 1.4 1.3-.2 1.3-.9 1.3-.2 1.3 1.8 1.3 3.3 1.3 3.6 1.3 2.4 1.3 .5 1.3-.7 1.3-.6 1.3 .9 1.3 3 1.3 4 1.3 3.3 1.3 1.5 1.3-.2 1.3-.8 1.3 .1 1.3 2.3 1.3 3.9 1.3 3.9 1.3 2.4 1.3 .6 1.3-.7 1.3-.4 1.3 1.3 1.3 3.3 1.3 4.1 1.4 3.2 1.3 1.4 1.3-.3 1.3-.8 1.3 .4 1.3 2.4 1.3 3.9 1.3 3.7 1.3 2.3 1.3 .3 1.3-.8 1.3-.3 1.3 1.4 1.3 3.4 1.3 4 1.3 3 1.3 1.2 1.3-.4 1.3-.8 1.3 .6 1.3 2.6 1.3 3.9 1.3 3.7 1.3 2.1 1.3 .2 1.3-.8 1.3-.3 1.3 1.7 1.3 3.6 1.3 4 1.3 2.9 1.3 1 1.3-.5 1.3-.7 1.3 .8 0 26.2 -1.3-2.5 -1.3-3.9 -1.3-3.8 -1.3-2.2 -1.3-.3 -1.3 .7 -1.3 .3 -1.3-1.5 -1.3-3.5 -1.3-4 -1.3-3.1 -1.3-1.1 -1.3 .4 -1.3 .8 -1.3-.6 -1.3-2.7 -1.3-4 -1.3-3.6 -1.3-2 -1.3-.2 -1.3 .8 -1.3 .2 -1.3-1.8 -1.3-3.5 -1.3-3.9 -1.3-2.9 -1.3-.9 -1.3 .5 -1.3 .7 -1.3-.7 -1.3-2.9 -1.3-4 -1.3-3.4 -1.3-1.9 -1.4 0 -1.3 .9 -1.3 0 -1.3-1.9 -1.3-3.7 -1.3-4 -1.3-2.7 -1.3-.8 -1.3 .6 -1.3 .6 -1.3-1.1 -1.3-3 -1.3-4.1 -1.3-3.5 -1.3-1.7 -1.3 .1 -1.3 .8 -1.3-.2 -1.3-2.1 -1.3-3.8 -1.3-3.8 -1.3-2.4 -1.3-.6 -1.3 .6 -1.3 .4 -1.3-1.1 -1.3-3 -1.3-3.8 -1.3-3 -1.3-1.4 -1.3 .1 -1.3 .6 -1.3-.4 -1.3-2.1 -1.3-3.4 -1.3-3.2 -1.3-2 -1.3-.6 -1.3 .4 -1.3 .1 -1.3-1.3 -1.3-2.8 -1.3-3 -1.3-2.3 -1.3-1.1 -1.3-.3 -1.3-.4 -1.3-1 -1.3-1.9 -1.3-2.3 -1.3-2 -1.3-1.4 -1.3-1.1 -1.3-1.1 -1.3-1.3 -1.3-1.5 -1.3-1.5 -1.3-1.2 -1.3-1.2 -1.3-1.1 -1.3-1 -1.3-.9 -1.3-.9 -1.3-.7 -1.3-.7 -1.3-.6 -1.3-.3 -1.3-.3 -1.3-.2 -1.3 0 -1.4 0 -1.3 .1 -1.3 .2 -1.3 .2 -1.3 .4 -1.3 .5 -1.3 .6 -1.3 .7 -1.3 .8 -1.3 .9 -1.3 .9 -1.3 1.1 -1.3 1 -1.3 1.3 -1.3 1.4 -1.3 1.4 -1.3 1.1 -1.3 1 -1.3 1.1 -1.3 1.6 -1.3 2.1 -1.3 2.3 -1.3 1.8 -1.3 1.1 -1.3 .3 -1.3 .5 -1.3 1.4 -1.3 2.5 -1.3 3.2 -1.3 2.7 -1.3 1.1 -1.3-.2 -1.3-.3 -1.3 .8 -1.3 2.2 -1.3 3.4 -1.3 3.2 -1.3 1.9 -1.3 .1 -1.3-.6 -1.3 .1 -1.3 1.5 -1.3 3.2 -1.3 3.6 -1.3 2.6 -1.3 .7 -1.3-.6 -1.3-.5 -1.3 .8 -1.3 2.5 -1.3 3.7 -1.3 3.4 -1.3 1.8 -1.3-.1 -1.3-.8 -1.3 .2 -1.3 1.9 -1.3 3.5 -1.3 4 -1.3 2.8 -1.3 .7 -1.3-.6 -1.3-.4 -1.3 1.1 -1.3 3.1 -1.3 4.2 -1.3 3.7 -1.3 1.7 -1.3-.1 -1.3-.8 -1.4 .4 -1.3 2.3 -1.3 3.9 -1.3 4.3 -1.3 2.7 -1.3 .6 -1.3-.8 -1.3-.3 -1.3 1.3 -1.3 3.3 -1.3 4.2 -1.3 3.5 -1.3 1.4 -1.3-.4 -1.3-.8 -1.3 .4 -1.3 2.3 -1.3 3.7 -1.3 3.9 -1.3 2.3 -1.3 .3 -1.3-.8 -1.3-.3 -1.3 1.5 -1.3 3.2 -1.3 4.1 -1.3 3.2 -1.3 1.3 -1.3-.4 -1.3-.6 -1.3 .7 -1.3 2.6 -1.3 4.2 -1.3 4.2 -1.3 2.4z" fill="#3986c9"/>
<path d="M84 406.8l1.3-.1 1.3-.1 1.3-.1 1.3-.1 1.3-.1 1.3-.1 1.3-.1 1.3-.1 1.3-.1 1.3-.1 1.3-.1 1.3 0 1.3-.1 1.3-.1 1.3-.2 1.3-.1 1.3 .2 1.3 .3 1.3 .2 1.3-.2 1.3-.5 1.3-.6 1.3-.1 1.3 .7 1.3 1 1.3 .9 1.3 .1 1.3-.7 1.3-1 1.3-.5 1.3 .8 1.3 1.6 1.3 1.6 1.3 .6 1.4-.4 1.3-1.1 1.3-.6 1.3 .4 1.3 1.5 1.3 1.9 1.3 1.3 1.3 .2 1.3-.7 1.3-.8 1.3 .1 1.3 1.3 1.3 2 1.3 1.8 1.3 .9 1.3-.1 1.3-.7 1.3-.2 1.3 .9 1.3 2 1.3 2.2 1.3 1.5 1.3 .5 1.3-.3 1.3-.2 1.3 .5 1.3 1.8 1.3 2.3 1.3 2.1 1.3 1.2 1.3 .2 1.3-.2 1.3 .3 1.3 1.4 1.3 2.2 1.3 2.3 1.3 1.7 1.3 .8 1.3 .1 1.3 .2 1.3 1.1 1.3 2 1.3 2.1 1.3 1.8 1.3 1.2 1.3 .7 1.3 .7 1.3 1 1.3 1.4 1.3 1.6 1.3 1.6 1.3 1.2 1.3 1 1.3 1 1.3 1.1 1.3 1.1 1.3 1.2 1.3 1.1 1.3 1 1.3 .9 1.3 .9 1.3 .8 1.3 .8 1.3 .7 1.3 .6 1.3 .6 1.3 .2 1.3 .2 1.3 .1 1.3 .1 1.4 0 1.3-.1 1.3-.1 1.3-.1 1.3-.2 1.3-.5 1.3-.5 1.3-.6 1.3-.8 1.3-.9 1.3-1 1.3-1.1 1.3-1.1 1.3-1.2 1.3-1.2 1.3-1.2 1.3-1 1.3-.7 1.3-.8 1.3-.9 1.3-1.3 1.3-1.3 1.3-1.3 1.3-1.1 1.3-.7 1.3-.9 1.3-1.4 1.3-2.1 1.3-2.6 1.3-2.5 1.3-1.6 1.3-.7 1.3-.2 1.3-.8 1.3-1.8 1.3-2.6 1.3-2.3 1.3-1.5 1.3-.2 1.3 .3 1.3 .1 1.3-.8 1.3-1.6 1.3-2.1 1.3-1.5 1.3-.6 1.3 .4 1.3 .5 1.3-.2 1.3-1.2 1.3-1.9 1.3-1.9 1.3-1 1.3 .1 1.3 .6 1.3 .3 1.3-.7 1.3-1.7 1.3-2.1 1.3-1.4 1.3-.3 1.3 .7 1.3 .7 1.3-.1 1.3-1.2 1.3-1.8 1.3-1.7 1.3-.7 1.3 .5 1.3 1 1.4 .6 1.3-.5 1.3-1.5 1.3-1.7 1.3-1 1.3 .2 1.3 1 1.3 .8 1.3 0 1.3-.9 1.3-1.1 1.3-.8 1.3 0 1.3 .5 1.3 .5 1.3 .2 1.3-.2 1.3-.3 1.3-.2 1.3 0 1.3 .2 1.3 0 1.3 .1 1.3 0 1.3 .1 1.3 .1 1.3 .1 1.3 0 1.3 .1 1.3 .1 1.3 .1 1.3 .1 1.3 .1 1.3 .1 1.3 .1 0 18.8 -1.3 0 -1.3-.1 -1.3-.1 -1.3-.1 -1.3-.1 -1.3-.1 -1.3-.1 -1.3-.1 -1.3 0 -1.3-.1 -1.3-.1 -1.3-.1 -1.3 0 -1.3 0 -1.3 0 -1.3 0 -1.3-.2 -1.3-.3 -1.3-.1 -1.3 .3 -1.3 .6 -1.3 .7 -1.3 .1 -1.3-.5 -1.3-.9 -1.3-.4 -1.3 .3 -1.3 1.2 -1.3 1.4 -1.3 .8 -1.3-.4 -1.3-1.2 -1.3-.8 -1.3 .2 -1.4 1.3 -1.3 1.8 -1.3 1.4 -1.3 .2 -1.3-.7 -1.3-.9 -1.3-.2 -1.3 1.1 -1.3 1.8 -1.3 1.8 -1.3 .9 -1.3-.3 -1.3-.8 -1.3-.4 -1.3 .5 -1.3 1.6 -1.3 1.9 -1.3 1.4 -1.3 .2 -1.3-.6 -1.3-.6 -1.3 .1 -1.3 1 -1.3 1.8 -1.3 1.7 -1.3 .9 -1.3-.1 -1.3-.4 -1.3-.1 -1.3 1 -1.3 2 -1.3 2.4 -1.3 1.9 -1.3 .9 -1.3 .1 -1.3 .1 -1.3 1 -1.3 2 -1.3 2.6 -1.3 2.2 -1.3 1.2 -1.3 .2 -1.3 .1 -1.3 .4 -1.3 1 -1.3 1.3 -1.3 1.2 -1.3 .8 -1.3 .4 -1.3 .2 -1.3 .4 -1.3 .7 -1.3 .9 -1.3 1 -1.3 .9 -1.3 .8 -1.3 .7 -1.3 .8 -1.3 .8 -1.3 .7 -1.3 .6 -1.3 .5 -1.3 .3 -1.3 .3 -1.3 .2 -1.3 .1 -1.3 .1 -1.3 .1 -1.3 .1 -1.3 .1 -1.4 0 -1.3-.1 -1.3-.1 -1.3-.1 -1.3-.2 -1.3-.2 -1.3-.2 -1.3-.3 -1.3-.4 -1.3-.5 -1.3-.6 -1.3-.6 -1.3-.7 -1.3-.7 -1.3-.6 -1.3-.7 -1.3-.8 -1.3-1 -1.3-.9 -1.3-.8 -1.3-.5 -1.3-.4 -1.3-.7 -1.3-1.1 -1.3-1.5 -1.3-1.5 -1.3-1 -1.3-.4 -1.3-.1 -1.3-.3 -1.3-1.1 -1.3-1.9 -1.3-2.1 -1.3-1.4 -1.3-.5 -1.3 .2 -1.3 .1 -1.3-.7 -1.3-1.7 -1.3-2.2 -1.3-1.8 -1.3-.9 -1.3 .2 -1.3 .4 -1.3-.2 -1.3-1.2 -1.3-2.1 -1.3-2.1 -1.3-1.2 -1.3-.1 -1.3 .5 -1.3 .3 -1.3-.6 -1.3-1.7 -1.3-2.2 -1.3-1.5 -1.3-.5 -1.3 .5 -1.3 .7 -1.3 0 -1.3-1.1 -1.3-1.9 -1.3-1.7 -1.3-.8 -1.3 .3 -1.3 .9 -1.3 .6 -1.3-.3 -1.3-1.5 -1.3-1.7 -1.4-1.1 -1.3 0 -1.3 1 -1.3 1.1 -1.3 .3 -1.3-.8 -1.3-1.4 -1.3-1.1 -1.3-.1 -1.3 .6 -1.3 .9 -1.3 .5 -1.3-.3 -1.3-.6 -1.3-.6 -1.3-.2 -1.3 .3 -1.3 .3 -1.3 .2 -1.3 0 -1.3 0 -1.3 .1 -1.3 0 -1.3 .1 -1.3 .1 -1.3 .1 -1.3 .1 -1.3 .1 -1.3 .1 -1.3 .1 -1.3 .1 -1.3 .1 -1.3 .1 -1.3 .1 -1.3 0zM84 618.6l1.3-1.2 1.3 .5 1.3 .6 1.3-.8 1.3-2.6 1.3-3.8 1.3-3.6 1.3-2 1.3 0 1.3 .7 1.3-.1 1.3-1.8 1.3-3.3 1.3-3.9 1.3-2.8 1.3-.9 1.3 .5 1.3 .4 1.3-1.1 1.3-2.8 1.3-4 1.3-3.6 1.3-2 1.3 0 1.3 .6 1.3-.4 1.3-2.1 1.3-3.7 1.3-4.1 1.3-2.8 1.3-.8 1.3 .5 1.3 .3 1.3-1.2 1.4-3 1.3-4.1 1.3-3.5 1.3-1.6 1.3 .2 1.3 .6 1.3-.3 1.3-2.1 1.3-3.6 1.3-3.8 1.3-2.4 1.3-.4 1.3 .6 1.3 .3 1.3-1.2 1.3-2.8 1.3-3.6 1.3-3 1.3-1.2 1.3 .4 1.3 .7 1.3-.4 1.3-1.9 1.3-3.2 1.3-3.3 1.3-1.9 1.3-.2 1.3 .7 1.3 .3 1.3-1.1 1.3-2.6 1.3-3.2 1.3-2.5 1.3-1 1.3 .4 1.3 .5 1.3-.5 1.3-1.9 1.3-2.9 1.3-2.9 1.3-1.6 1.3-.2 1.3 .4 1.3-.4 1.3-1.3 1.3-2.2 1.3-2.3 1.3-1.7 1.3-.8 1.3-.4 1.3-.5 1.3-1 1.3-1.3 1.3-1.3 1.3-1.1 1.3-.8 1.3-.7 1.3-.8 1.3-.8 1.3-.7 1.3-.6 1.3-.5 1.3-.5 1.3-.4 1.3-.4 1.3-.2 1.3-.3 1.3-.2 1.3-.2 1.3 0 1.4 0 1.3 0 1.3 .1 1.3 .2 1.3 .3 1.3 .3 1.3 .4 1.3 .4 1.3 .5 1.3 .6 1.3 .7 1.3 .7 1.3 .8 1.3 .9 1.3 .7 1.3 .9 1.3 1.1 1.3 1.4 1.3 1.5 1.3 1.1 1.3 .6 1.3 .4 1.3 .8 1.3 1.5 1.3 2.2 1.3 2.2 1.3 1.4 1.3 .4 1.3-.3 1.3 0 1.3 1.3 1.3 2.6 1.3 2.9 1.3 2 1.3 .7 1.3-.4 1.3-.6 1.3 .7 1.3 2.2 1.3 3.2 1.3 2.7 1.3 1.4 1.3-.1 1.3-.8 1.3 0 1.3 1.7 1.3 3.2 1.3 3.4 1.3 2.3 1.3 .7 1.3-.6 1.3-.5 1.3 1 1.3 2.9 1.3 3.8 1.3 3.2 1.3 1.5 1.3 0 1.3-.7 1.3 .3 1.3 2.2 1.3 3.7 1.3 3.8 1.3 2.4 1.3 .6 1.3-.5 1.3-.3 1.3 1.3 1.3 3.2 1.3 3.9 1.4 3.1 1.3 1.4 1.3-.1 1.3-.6 1.3 .4 1.3 2.4 1.3 3.7 1.3 3.6 1.3 2.2 1.3 .4 1.3-.6 1.3-.2 1.3 1.4 1.3 3.3 1.3 3.8 1.3 3 1.3 1.2 1.3-.3 1.3-.6 1.3 .6 1.3 2.5 1.3 3.8 1.3 3.5 1.3 2.1 1.3 .3 1.3-.6 1.3-.1 1.3 1.6 1.3 3.4 1.3 3.9 1.3 2.8 1.3 1.1 1.3-.4 1.3-.5 1.3 .8 0 23.6 -1.3-2.5 -1.3-3.8 -1.3-3.6 -1.3-2.1 -1.3-.5 -1.3 .6 -1.3 .2 -1.3-1.5 -1.3-3.4 -1.3-3.9 -1.3-2.9 -1.3-1.2 -1.3 .3 -1.3 .6 -1.3-.7 -1.3-2.6 -1.3-3.8 -1.3-3.5 -1.3-2 -1.3-.2 -1.3 .6 -1.3 .1 -1.3-1.7 -1.3-3.5 -1.3-3.8 -1.3-2.7 -1.3-1 -1.3 .4 -1.3 .6 -1.3-.9 -1.3-2.7 -1.3-3.8 -1.3-3.4 -1.3-1.8 -1.4-.1 -1.3 .6 -1.3 0 -1.3-1.9 -1.3-3.6 -1.3-3.8 -1.3-2.7 -1.3-.8 -1.3 .4 -1.3 .5 -1.3-1.1 -1.3-3 -1.3-3.9 -1.3-3.3 -1.3-1.7 -1.3-.1 -1.3 .7 -1.3-.3 -1.3-2.1 -1.3-3.6 -1.3-3.6 -1.3-2.4 -1.3-.7 -1.3 .5 -1.3 .3 -1.3-1.1 -1.3-2.9 -1.3-3.7 -1.3-2.9 -1.3-1.3 -1.3 0 -1.3 .4 -1.3-.5 -1.3-2.1 -1.3-3.2 -1.3-3.1 -1.3-1.9 -1.3-.6 -1.3 .2 -1.3 0 -1.3-1.3 -1.3-2.7 -1.3-2.9 -1.3-2.2 -1.3-1.1 -1.3-.4 -1.3-.5 -1.3-1 -1.3-1.9 -1.3-2.2 -1.3-1.9 -1.3-1.5 -1.3-1.1 -1.3-1.1 -1.3-1.2 -1.3-1.5 -1.3-1.5 -1.3-1.2 -1.3-1.2 -1.3-1 -1.3-1 -1.3-.9 -1.3-.8 -1.3-.7 -1.3-.7 -1.3-.5 -1.3-.4 -1.3-.2 -1.3-.2 -1.3-.1 -1.4 .1 -1.3 .1 -1.3 .1 -1.3 .3 -1.3 .3 -1.3 .6 -1.3 .5 -1.3 .7 -1.3 .8 -1.3 .8 -1.3 .9 -1.3 1 -1.3 1.1 -1.3 1.1 -1.3 1.5 -1.3 1.3 -1.3 1.2 -1.3 1 -1.3 1.1 -1.3 1.5 -1.3 2.1 -1.3 2.2 -1.3 1.8 -1.3 1.1 -1.3 .4 -1.3 .5 -1.3 1.4 -1.3 2.5 -1.3 3.1 -1.3 2.6 -1.3 1.1 -1.3-.1 -1.3-.2 -1.3 .8 -1.3 2.2 -1.3 3.3 -1.3 3.1 -1.3 1.8 -1.3 .2 -1.3-.4 -1.3 .1 -1.3 1.6 -1.3 3 -1.3 3.4 -1.3 2.6 -1.3 .8 -1.3-.5 -1.3-.4 -1.3 .8 -1.3 2.5 -1.3 3.5 -1.3 3.3 -1.3 1.7 -1.3 0 -1.3-.6 -1.3 .3 -1.3 1.8 -1.3 3.5 -1.3 3.8 -1.3 2.7 -1.3 .8 -1.3-.5 -1.3-.3 -1.3 1.2 -1.3 2.9 -1.3 4.1 -1.3 3.5 -1.3 1.8 -1.3-.1 -1.3-.5 -1.4 .4 -1.3 2.3 -1.3 3.8 -1.3 4 -1.3 2.7 -1.3 .7 -1.3-.6 -1.3-.2 -1.3 1.3 -1.3 3.2 -1.3 4 -1.3 3.4 -1.3 1.5 -1.3-.3 -1.3-.7 -1.3 .5 -1.3 2.3 -1.3 3.6 -1.3 3.7 -1.3 2.3 -1.3 .4 -1.3-.7 -1.3-.1 -1.3 1.4 -1.3 3.2 -1.3 3.9 -1.3 3.1 -1.3 1.3 -1.3-.2 -1.3-.5 -1.3 .7 -1.3 2.6 -1.3 4 -1.3 4 -1.3 2.4z" fill="#29bcee"/>
<path d="M84 407.9l1.3-.1 1.3-.1 1.3-.1 1.3-.1 1.3-.1 1.3-.1 1.3-.1 1.3-.1 1.3-.1 1.3 0 1.3-.1 1.3-.1 1.3-.1 1.3-.1 1.3-.1 1.3-.1 1.3 .1 1.3 .3 1.3 .2 1.3-.2 1.3-.5 1.3-.5 1.3-.1 1.3 .6 1.3 1 1.3 .8 1.3 .1 1.3-.6 1.3-.9 1.3-.4 1.3 .7 1.3 1.5 1.3 1.4 1.3 .6 1.4-.3 1.3-1 1.3-.6 1.3 .5 1.3 1.4 1.3 1.8 1.3 1.2 1.3 .2 1.3-.5 1.3-.7 1.3 .1 1.3 1.2 1.3 1.9 1.3 1.8 1.3 .8 1.3 0 1.3-.6 1.3-.1 1.3 .9 1.3 1.9 1.3 2 1.3 1.5 1.3 .6 1.3-.2 1.3-.2 1.3 .6 1.3 1.7 1.3 2.3 1.3 1.9 1.3 1.2 1.3 .3 1.3-.1 1.3 .4 1.3 1.3 1.3 2.2 1.3 2.2 1.3 1.7 1.3 .7 1.3 .2 1.3 .4 1.3 1.1 1.3 1.8 1.3 2.1 1.3 1.8 1.3 1.2 1.3 .7 1.3 .7 1.3 1 1.3 1.4 1.3 1.6 1.3 1.5 1.3 1.3 1.3 1 1.3 .9 1.3 1.1 1.3 1.2 1.3 1.2 1.3 1 1.3 .9 1.3 .9 1.3 .9 1.3 .8 1.3 .7 1.3 .7 1.3 .5 1.3 .5 1.3 .3 1.3 .2 1.3 .1 1.3 0 1.4 0 1.3 0 1.3-.1 1.3-.1 1.3-.2 1.3-.5 1.3-.4 1.3-.6 1.3-.8 1.3-.8 1.3-1 1.3-1 1.3-1.1 1.3-1.1 1.3-1.2 1.3-1.2 1.3-1 1.3-.8 1.3-.8 1.3-1 1.3-1.2 1.3-1.3 1.3-1.3 1.3-1 1.3-.8 1.3-.8 1.3-1.4 1.3-2 1.3-2.5 1.3-2.4 1.3-1.6 1.3-.7 1.3-.4 1.3-.9 1.3-1.8 1.3-2.4 1.3-2.3 1.3-1.4 1.3-.4 1.3 .2 1.3 0 1.3-.8 1.3-1.6 1.3-1.9 1.3-1.5 1.3-.6 1.3 .3 1.3 .4 1.3-.3 1.3-1.1 1.3-1.8 1.3-1.8 1.3-1 1.3 0 1.3 .6 1.3 .2 1.3-.7 1.3-1.6 1.3-1.9 1.3-1.4 1.3-.3 1.3 .5 1.3 .7 1.3-.2 1.3-1.1 1.3-1.7 1.3-1.6 1.3-.7 1.3 .5 1.3 .9 1.4 .5 1.3-.5 1.3-1.4 1.3-1.7 1.3-.9 1.3 .2 1.3 .9 1.3 .7 1.3 0 1.3-.8 1.3-1 1.3-.8 1.3 0 1.3 .4 1.3 .5 1.3 .2 1.3-.2 1.3-.3 1.3-.2 1.3 .1 1.3 .1 1.3 0 1.3 .1 1.3 .1 1.3 0 1.3 .1 1.3 .1 1.3 .1 1.3 .1 1.3 0 1.3 .1 1.3 .1 1.3 .1 1.3 .1 1.3 .1 0 16.6 -1.3-.1 -1.3 0 -1.3-.1 -1.3-.1 -1.3-.1 -1.3-.1 -1.3-.1 -1.3-.1 -1.3-.1 -1.3 0 -1.3-.1 -1.3-.1 -1.3 0 -1.3-.1 -1.3 .1 -1.3 0 -1.3-.2 -1.3-.3 -1.3-.1 -1.3 .2 -1.3 .7 -1.3 .6 -1.3 .1 -1.3-.5 -1.3-.7 -1.3-.5 -1.3 .4 -1.3 1.1 -1.3 1.3 -1.3 .8 -1.3-.4 -1.3-1 -1.3-.8 -1.3 .2 -1.4 1.3 -1.3 1.7 -1.3 1.3 -1.3 .2 -1.3-.6 -1.3-.8 -1.3-.1 -1.3 1 -1.3 1.7 -1.3 1.7 -1.3 .9 -1.3-.2 -1.3-.7 -1.3-.3 -1.3 .5 -1.3 1.5 -1.3 1.8 -1.3 1.3 -1.3 .3 -1.3-.5 -1.3-.5 -1.3 .1 -1.3 1.1 -1.3 1.6 -1.3 1.7 -1.3 .8 -1.3 0 -1.3-.4 -1.3 0 -1.3 1 -1.3 1.9 -1.3 2.2 -1.3 1.9 -1.3 .9 -1.3 .2 -1.3 .2 -1.3 .9 -1.3 2 -1.3 2.4 -1.3 2.2 -1.3 1.2 -1.3 .3 -1.3 .2 -1.3 .5 -1.3 1 -1.3 1.3 -1.3 1.2 -1.3 .8 -1.3 .4 -1.3 .3 -1.3 .4 -1.3 .7 -1.3 .9 -1.3 .9 -1.3 .9 -1.3 .8 -1.3 .7 -1.3 .9 -1.3 .8 -1.3 .7 -1.3 .7 -1.3 .5 -1.3 .4 -1.3 .3 -1.3 .3 -1.3 .1 -1.3 .2 -1.3 .1 -1.3 .1 -1.3 0 -1.4 0 -1.3 0 -1.3-.1 -1.3-.2 -1.3-.2 -1.3-.2 -1.3-.3 -1.3-.3 -1.3-.5 -1.3-.5 -1.3-.7 -1.3-.6 -1.3-.7 -1.3-.8 -1.3-.6 -1.3-.7 -1.3-.8 -1.3-.9 -1.3-1 -1.3-.7 -1.3-.6 -1.3-.4 -1.3-.7 -1.3-1.2 -1.3-1.4 -1.3-1.5 -1.3-1 -1.3-.4 -1.3-.1 -1.3-.4 -1.3-1.1 -1.3-1.9 -1.3-2 -1.3-1.4 -1.3-.5 -1.3 .1 -1.3 .1 -1.3-.8 -1.3-1.6 -1.3-2.1 -1.3-1.8 -1.3-.8 -1.3 0 -1.3 .4 -1.3-.2 -1.3-1.3 -1.3-1.9 -1.3-2 -1.3-1.2 -1.3-.2 -1.3 .4 -1.3 .3 -1.3-.7 -1.3-1.6 -1.3-2 -1.3-1.6 -1.3-.5 -1.3 .4 -1.3 .7 -1.3 0 -1.3-1.1 -1.3-1.8 -1.3-1.7 -1.3-.8 -1.3 .3 -1.3 .8 -1.3 .6 -1.3-.4 -1.3-1.4 -1.3-1.6 -1.4-1.1 -1.3 0 -1.3 .9 -1.3 1.1 -1.3 .2 -1.3-.8 -1.3-1.3 -1.3-1 -1.3-.2 -1.3 .6 -1.3 .8 -1.3 .5 -1.3-.3 -1.3-.5 -1.3-.6 -1.3-.1 -1.3 .2 -1.3 .3 -1.3 .2 -1.3 0 -1.3 0 -1.3 0 -1.3 .1 -1.3 .1 -1.3 .1 -1.3 .1 -1.3 .1 -1.3 .1 -1.3 .1 -1.3 .1 -1.3 .1 -1.3 .1 -1.3 .1 -1.3 0 -1.3 .1zM84 619.9l1.3-1.2 1.3 .4 1.3 .4 1.3-.9 1.3-2.5 1.3-3.7 1.3-3.5 1.3-1.9 1.3-.2 1.3 .6 1.3-.2 1.3-1.7 1.3-3.2 1.3-3.8 1.3-2.7 1.3-1 1.3 .4 1.3 .2 1.3-1 1.3-2.8 1.3-3.8 1.3-3.5 1.3-2 1.3-.1 1.3 .4 1.3-.4 1.3-2 1.3-3.6 1.3-4 1.3-2.8 1.3-.8 1.3 .4 1.3 .1 1.3-1.2 1.4-3 1.3-3.9 1.3-3.3 1.3-1.7 1.3 .1 1.3 .5 1.3-.5 1.3-2.1 1.3-3.4 1.3-3.6 1.3-2.4 1.3-.5 1.3 .5 1.3 .2 1.3-1.3 1.3-2.7 1.3-3.5 1.3-2.9 1.3-1.2 1.3 .3 1.3 .5 1.3-.4 1.3-1.9 1.3-3.1 1.3-3.1 1.3-1.9 1.3-.3 1.3 .6 1.3 .2 1.3-1.2 1.3-2.5 1.3-3.1 1.3-2.4 1.3-.9 1.3 .3 1.3 .3 1.3-.5 1.3-1.9 1.3-2.8 1.3-2.8 1.3-1.6 1.3-.2 1.3 .2 1.3-.4 1.3-1.3 1.3-2.2 1.3-2.2 1.3-1.6 1.3-.9 1.3-.4 1.3-.6 1.3-1 1.3-1.3 1.3-1.3 1.3-1.1 1.3-.8 1.3-.7 1.3-.8 1.3-.9 1.3-.7 1.3-.7 1.3-.5 1.3-.6 1.3-.4 1.3-.4 1.3-.2 1.3-.3 1.3-.2 1.3-.2 1.3-.1 1.4 0 1.3 .1 1.3 .1 1.3 .2 1.3 .3 1.3 .3 1.3 .4 1.3 .5 1.3 .5 1.3 .7 1.3 .7 1.3 .8 1.3 .8 1.3 .9 1.3 .8 1.3 .8 1.3 1.2 1.3 1.4 1.3 1.4 1.3 1.1 1.3 .7 1.3 .4 1.3 .8 1.3 1.5 1.3 2.1 1.3 2.1 1.3 1.5 1.3 .5 1.3-.3 1.3 0 1.3 1.4 1.3 2.5 1.3 2.8 1.3 2 1.3 .7 1.3-.3 1.3-.4 1.3 .6 1.3 2.2 1.3 3 1.3 2.7 1.3 1.4 1.3 0 1.3-.7 1.3 .1 1.3 1.7 1.3 3.1 1.3 3.3 1.3 2.2 1.3 .8 1.3-.5 1.3-.4 1.3 1.1 1.3 2.8 1.3 3.7 1.3 3 1.3 1.6 1.3 0 1.3-.5 1.3 .4 1.3 2.2 1.3 3.6 1.3 3.6 1.3 2.3 1.3 .7 1.3-.4 1.3-.2 1.3 1.4 1.3 3.1 1.3 3.8 1.4 3 1.3 1.4 1.3 0 1.3-.5 1.3 .5 1.3 2.3 1.3 3.6 1.3 3.5 1.3 2.1 1.3 .5 1.3-.4 1.3-.2 1.3 1.5 1.3 3.2 1.3 3.7 1.3 2.8 1.3 1.2 1.3-.1 1.3-.5 1.3 .7 1.3 2.5 1.3 3.6 1.3 3.4 1.3 2 1.3 .4 1.3-.5 1.3 0 1.3 1.7 1.3 3.3 1.3 3.7 1.3 2.8 1.3 1.1 1.3-.2 1.3-.5 1.3 .9 0 21 -1.3-2.4 -1.3-3.7 -1.3-3.4 -1.3-2.2 -1.3-.5 -1.3 .5 -1.3 .1 -1.3-1.6 -1.3-3.3 -1.3-3.7 -1.3-2.8 -1.3-1.2 -1.3 .1 -1.3 .5 -1.3-.7 -1.3-2.6 -1.3-3.7 -1.3-3.3 -1.3-2 -1.3-.3 -1.3 .5 -1.3-.1 -1.3-1.7 -1.3-3.3 -1.3-3.7 -1.3-2.6 -1.3-1 -1.3 .2 -1.3 .4 -1.3-.8 -1.3-2.7 -1.3-3.7 -1.3-3.3 -1.3-1.7 -1.4-.3 -1.3 .6 -1.3-.2 -1.3-1.9 -1.3-3.4 -1.3-3.7 -1.3-2.6 -1.3-.9 -1.3 .3 -1.3 .3 -1.3-1.1 -1.3-2.9 -1.3-3.8 -1.3-3.2 -1.3-1.7 -1.3-.1 -1.3 .5 -1.3-.3 -1.3-2.1 -1.3-3.5 -1.3-3.5 -1.3-2.3 -1.3-.7 -1.3 .3 -1.3 .2 -1.3-1.2 -1.3-2.8 -1.3-3.4 -1.3-2.9 -1.3-1.3 -1.3-.1 -1.3 .3 -1.3-.6 -1.3-2 -1.3-3.1 -1.3-3 -1.3-1.9 -1.3-.6 -1.3 .1 -1.3-.1 -1.3-1.3 -1.3-2.6 -1.3-2.8 -1.3-2.2 -1.3-1.1 -1.3-.5 -1.3-.5 -1.3-1.1 -1.3-1.8 -1.3-2.1 -1.3-1.9 -1.3-1.5 -1.3-1.1 -1.3-1.1 -1.3-1.3 -1.3-1.4 -1.3-1.5 -1.3-1.2 -1.3-1.1 -1.3-1 -1.3-1 -1.3-.8 -1.3-.8 -1.3-.7 -1.3-.6 -1.3-.5 -1.3-.3 -1.3-.3 -1.3-.1 -1.3-.1 -1.4 0 -1.3 .1 -1.3 .2 -1.3 .2 -1.3 .4 -1.3 .4 -1.3 .6 -1.3 .6 -1.3 .8 -1.3 .8 -1.3 .8 -1.3 1 -1.3 1 -1.3 1.2 -1.3 1.4 -1.3 1.3 -1.3 1.2 -1.3 1 -1.3 1.1 -1.3 1.5 -1.3 2 -1.3 2.2 -1.3 1.8 -1.3 1.1 -1.3 .5 -1.3 .6 -1.3 1.3 -1.3 2.4 -1.3 3 -1.3 2.5 -1.3 1.2 -1.3 0 -1.3-.1 -1.3 .9 -1.3 2.1 -1.3 3.1 -1.3 3.1 -1.3 1.7 -1.3 .3 -1.3-.3 -1.3 .2 -1.3 1.6 -1.3 2.9 -1.3 3.3 -1.3 2.5 -1.3 .8 -1.3-.3 -1.3-.3 -1.3 .9 -1.3 2.3 -1.3 3.5 -1.3 3.1 -1.3 1.7 -1.3 .1 -1.3-.5 -1.3 .3 -1.3 1.9 -1.3 3.3 -1.3 3.7 -1.3 2.6 -1.3 .9 -1.3-.4 -1.3-.2 -1.3 1.2 -1.3 2.9 -1.3 3.9 -1.3 3.4 -1.3 1.8 -1.3 0 -1.3-.4 -1.4 .5 -1.3 2.3 -1.3 3.6 -1.3 3.9 -1.3 2.7 -1.3 .7 -1.3-.5 -1.3 0 -1.3 1.4 -1.3 3 -1.3 3.9 -1.3 3.3 -1.3 1.5 -1.3-.2 -1.3-.5 -1.3 .6 -1.3 2.2 -1.3 3.5 -1.3 3.6 -1.3 2.2 -1.3 .5 -1.3-.5 -1.3-.1 -1.3 1.5 -1.3 3 -1.3 3.8 -1.3 3.1 -1.3 1.3 -1.3-.2 -1.3-.3 -1.3 .8 -1.3 2.5 -1.3 3.8 -1.3 3.9 -1.3 2.4z" fill="#6cc5ad"/>
<path d="M84 409l1.3 0 1.3-.1 1.3-.1 1.3-.1 1.3-.1 1.3-.1 1.3-.1 1.3-.1 1.3-.1 1.3-.1 1.3-.1 1.3-.1 1.3 0 1.3-.1 1.3-.2 1.3-.1 1.3 .1 1.3 .3 1.3 .2 1.3-.2 1.3-.4 1.3-.5 1.3-.1 1.3 .6 1.3 .9 1.3 .8 1.3 .1 1.3-.6 1.3-.9 1.3-.3 1.3 .7 1.3 1.4 1.3 1.3 1.3 .6 1.4-.3 1.3-.8 1.3-.6 1.3 .5 1.3 1.3 1.3 1.7 1.3 1.1 1.3 .3 1.3-.5 1.3-.5 1.3 .1 1.3 1.2 1.3 1.8 1.3 1.6 1.3 .9 1.3 0 1.3-.4 1.3-.1 1.3 .9 1.3 1.8 1.3 1.9 1.3 1.5 1.3 .5 1.3 0 1.3-.1 1.3 .6 1.3 1.7 1.3 2.1 1.3 1.9 1.3 1.2 1.3 .3 1.3 0 1.3 .5 1.3 1.3 1.3 2.1 1.3 2.1 1.3 1.7 1.3 .8 1.3 .3 1.3 .4 1.3 1.1 1.3 1.8 1.3 2 1.3 1.7 1.3 1.2 1.3 .8 1.3 .7 1.3 1.1 1.3 1.3 1.3 1.6 1.3 1.5 1.3 1.2 1.3 1.1 1.3 1 1.3 1 1.3 1.2 1.3 1.3 1.3 .9 1.3 .9 1.3 .9 1.3 .8 1.3 .8 1.3 .6 1.3 .6 1.3 .5 1.3 .5 1.3 .2 1.3 .2 1.3 .1 1.3 0 1.4 0 1.3 0 1.3-.1 1.3-.1 1.3-.2 1.3-.4 1.3-.4 1.3-.5 1.3-.7 1.3-.8 1.3-.9 1.3-1 1.3-1 1.3-1 1.3-1.3 1.3-1.3 1.3-1 1.3-.9 1.3-.8 1.3-1 1.3-1.2 1.3-1.3 1.3-1.2 1.3-1 1.3-.8 1.3-.9 1.3-1.3 1.3-1.9 1.3-2.4 1.3-2.4 1.3-1.6 1.3-.8 1.3-.4 1.3-1 1.3-1.7 1.3-2.4 1.3-2.3 1.3-1.4 1.3-.4 1.3 .1 1.3-.1 1.3-.9 1.3-1.5 1.3-1.9 1.3-1.4 1.3-.6 1.3 .2 1.3 .3 1.3-.3 1.3-1.1 1.3-1.7 1.3-1.7 1.3-1 1.3 0 1.3 .5 1.3 .1 1.3-.7 1.3-1.5 1.3-1.8 1.3-1.3 1.3-.3 1.3 .4 1.3 .6 1.3-.2 1.3-1.1 1.3-1.6 1.3-1.5 1.3-.7 1.3 .4 1.3 .8 1.4 .4 1.3-.4 1.3-1.3 1.3-1.6 1.3-.9 1.3 .2 1.3 .8 1.3 .6 1.3 0 1.3-.7 1.3-1 1.3-.7 1.3 0 1.3 .4 1.3 .4 1.3 .2 1.3-.2 1.3-.3 1.3-.1 1.3 0 1.3 .1 1.3 .1 1.3 0 1.3 .1 1.3 .1 1.3 0 1.3 .1 1.3 .1 1.3 .1 1.3 .1 1.3 .1 1.3 .1 1.3 .1 1.3 0 1.3 .1 0 14.4 -1.3-.1 -1.3-.1 -1.3-.1 -1.3-.1 -1.3-.1 -1.3-.1 -1.3 0 -1.3-.1 -1.3-.1 -1.3-.1 -1.3-.1 -1.3 0 -1.3-.1 -1.3 0 -1.3 0 -1.3 0 -1.3-.1 -1.3-.3 -1.3-.1 -1.3 .2 -1.3 .6 -1.3 .6 -1.3 .1 -1.3-.4 -1.3-.7 -1.3-.4 -1.3 .3 -1.3 1.1 -1.3 1.2 -1.3 .7 -1.3-.3 -1.3-.9 -1.3-.7 -1.3 .3 -1.4 1.1 -1.3 1.6 -1.3 1.2 -1.3 .3 -1.3-.6 -1.3-.6 -1.3-.1 -1.3 1 -1.3 1.6 -1.3 1.7 -1.3 .8 -1.3-.1 -1.3-.6 -1.3-.3 -1.3 .6 -1.3 1.4 -1.3 1.7 -1.3 1.3 -1.3 .3 -1.3-.4 -1.3-.5 -1.3 .2 -1.3 1 -1.3 1.6 -1.3 1.6 -1.3 .8 -1.3 0 -1.3-.3 -1.3 .1 -1.3 1 -1.3 1.7 -1.3 2.2 -1.3 1.7 -1.3 .9 -1.3 .3 -1.3 .2 -1.3 1 -1.3 1.9 -1.3 2.4 -1.3 2.1 -1.3 1.2 -1.3 .4 -1.3 .2 -1.3 .6 -1.3 1.1 -1.3 1.3 -1.3 1.1 -1.3 .8 -1.3 .5 -1.3 .3 -1.3 .4 -1.3 .7 -1.3 .8 -1.3 .9 -1.3 .9 -1.3 .7 -1.3 .7 -1.3 .9 -1.3 .9 -1.3 .8 -1.3 .7 -1.3 .5 -1.3 .5 -1.3 .4 -1.3 .3 -1.3 .1 -1.3 .2 -1.3 .2 -1.3 0 -1.3 .1 -1.4 0 -1.3-.1 -1.3-.1 -1.3-.1 -1.3-.3 -1.3-.2 -1.3-.3 -1.3-.5 -1.3-.5 -1.3-.6 -1.3-.6 -1.3-.7 -1.3-.8 -1.3-.8 -1.3-.5 -1.3-.7 -1.3-.8 -1.3-.9 -1.3-.9 -1.3-.8 -1.3-.6 -1.3-.5 -1.3-.7 -1.3-1.1 -1.3-1.4 -1.3-1.4 -1.3-1 -1.3-.5 -1.3-.2 -1.3-.4 -1.3-1.1 -1.3-1.8 -1.3-1.9 -1.3-1.4 -1.3-.5 -1.3 0 -1.3 0 -1.3-.8 -1.3-1.6 -1.3-2 -1.3-1.7 -1.3-.8 -1.3 0 -1.3 .2 -1.3-.2 -1.3-1.2 -1.3-1.9 -1.3-1.9 -1.3-1.1 -1.3-.3 -1.3 .3 -1.3 .2 -1.3-.7 -1.3-1.6 -1.3-1.9 -1.3-1.4 -1.3-.5 -1.3 .3 -1.3 .5 -1.3 0 -1.3-1.1 -1.3-1.7 -1.3-1.6 -1.3-.7 -1.3 .1 -1.3 .8 -1.3 .5 -1.3-.4 -1.3-1.3 -1.3-1.5 -1.4-1 -1.3-.1 -1.3 .8 -1.3 1 -1.3 .2 -1.3-.8 -1.3-1.2 -1.3-.9 -1.3-.2 -1.3 .5 -1.3 .7 -1.3 .5 -1.3-.2 -1.3-.6 -1.3-.5 -1.3-.1 -1.3 .2 -1.3 .3 -1.3 .1 -1.3 0 -1.3 0 -1.3 .1 -1.3 .1 -1.3 .1 -1.3 0 -1.3 .1 -1.3 .1 -1.3 .1 -1.3 .1 -1.3 .1 -1.3 .1 -1.3 .1 -1.3 .1 -1.3 .1 -1.3 .1zM84 621.3l1.3-1.2 1.3 .2 1.3 .3 1.3-1 1.3-2.5 1.3-3.5 1.3-3.4 1.3-1.9 1.3-.2 1.3 .4 1.3-.3 1.3-1.7 1.3-3.1 1.3-3.6 1.3-2.7 1.3-1 1.3 .2 1.3 .2 1.3-1.1 1.3-2.7 1.3-3.7 1.3-3.4 1.3-1.9 1.3-.3 1.3 .4 1.3-.5 1.3-2.1 1.3-3.4 1.3-3.9 1.3-2.7 1.3-.9 1.3 .2 1.3 .1 1.3-1.3 1.4-2.9 1.3-3.7 1.3-3.3 1.3-1.7 1.3 0 1.3 .4 1.3-.6 1.3-2 1.3-3.4 1.3-3.5 1.3-2.3 1.3-.6 1.3 .4 1.3 .1 1.3-1.3 1.3-2.7 1.3-3.3 1.3-2.9 1.3-1.2 1.3 .2 1.3 .4 1.3-.5 1.3-1.9 1.3-2.9 1.3-3.1 1.3-1.8 1.3-.4 1.3 .6 1.3 .1 1.3-1.2 1.3-2.4 1.3-3 1.3-2.4 1.3-1 1.3 .2 1.3 .3 1.3-.6 1.3-1.8 1.3-2.8 1.3-2.6 1.3-1.6 1.3-.3 1.3 .2 1.3-.4 1.3-1.4 1.3-2.1 1.3-2.2 1.3-1.6 1.3-.9 1.3-.5 1.3-.5 1.3-1 1.3-1.3 1.3-1.4 1.3-1.1 1.3-.8 1.3-.6 1.3-.9 1.3-.8 1.3-.8 1.3-.7 1.3-.6 1.3-.6 1.3-.5 1.3-.4 1.3-.3 1.3-.3 1.3-.2 1.3-.2 1.3-.1 1.4 0 1.3 .1 1.3 .1 1.3 .3 1.3 .3 1.3 .3 1.3 .4 1.3 .5 1.3 .6 1.3 .7 1.3 .8 1.3 .8 1.3 .9 1.3 1 1.3 .7 1.3 .8 1.3 1.2 1.3 1.4 1.3 1.4 1.3 1.1 1.3 .6 1.3 .5 1.3 .8 1.3 1.5 1.3 2.1 1.3 2.1 1.3 1.4 1.3 .5 1.3-.2 1.3 .1 1.3 1.3 1.3 2.4 1.3 2.7 1.3 2 1.3 .8 1.3-.3 1.3-.3 1.3 .7 1.3 2.1 1.3 3 1.3 2.6 1.3 1.4 1.3 0 1.3-.5 1.3 .1 1.3 1.7 1.3 3 1.3 3.2 1.3 2.2 1.3 .7 1.3-.3 1.3-.2 1.3 1 1.3 2.8 1.3 3.6 1.3 2.9 1.3 1.6 1.3 .1 1.3-.4 1.3 .5 1.3 2.1 1.3 3.5 1.3 3.5 1.3 2.3 1.3 .8 1.3-.3 1.3-.1 1.3 1.4 1.3 3 1.3 3.7 1.4 2.9 1.3 1.4 1.3 .1 1.3-.4 1.3 .6 1.3 2.2 1.3 3.5 1.3 3.4 1.3 2.1 1.3 .6 1.3-.4 1.3 0 1.3 1.5 1.3 3 1.3 3.6 1.3 2.8 1.3 1.2 1.3 0 1.3-.4 1.3 .7 1.3 2.5 1.3 3.5 1.3 3.3 1.3 2 1.3 .5 1.3-.4 1.3 .1 1.3 1.7 1.3 3.2 1.3 3.6 1.3 2.7 1.3 1.1 1.3-.1 1.3-.3 1.3 .9 0 18.4 -1.3-2.3 -1.3-3.6 -1.3-3.4 -1.3-2.1 -1.3-.6 -1.3 .4 -1.3 0 -1.3-1.6 -1.3-3.1 -1.3-3.7 -1.3-2.7 -1.3-1.2 -1.3 0 -1.3 .4 -1.3-.8 -1.3-2.5 -1.3-3.6 -1.3-3.2 -1.3-2 -1.3-.4 -1.3 .4 -1.3-.1 -1.3-1.7 -1.3-3.3 -1.3-3.5 -1.3-2.6 -1.3-1.1 -1.3 .2 -1.3 .3 -1.3-.9 -1.3-2.6 -1.3-3.6 -1.3-3.2 -1.3-1.7 -1.4-.4 -1.3 .5 -1.3-.3 -1.3-1.9 -1.3-3.3 -1.3-3.6 -1.3-2.5 -1.3-1 -1.3 .2 -1.3 .2 -1.3-1.1 -1.3-2.8 -1.3-3.7 -1.3-3.1 -1.3-1.7 -1.3-.2 -1.3 .4 -1.3-.4 -1.3-2 -1.3-3.4 -1.3-3.4 -1.3-2.2 -1.3-.8 -1.3 .2 -1.3 .1 -1.3-1.2 -1.3-2.7 -1.3-3.4 -1.3-2.7 -1.3-1.4 -1.3-.2 -1.3 .2 -1.3-.5 -1.3-2 -1.3-3 -1.3-2.9 -1.3-1.9 -1.3-.7 -1.3 .1 -1.3-.2 -1.3-1.3 -1.3-2.6 -1.3-2.7 -1.3-2.2 -1.3-1.1 -1.3-.5 -1.3-.5 -1.3-1.2 -1.3-1.8 -1.3-2.1 -1.3-1.9 -1.3-1.5 -1.3-1.1 -1.3-1.1 -1.3-1.3 -1.3-1.5 -1.3-1.5 -1.3-1.1 -1.3-1.1 -1.3-.9 -1.3-.9 -1.3-.8 -1.3-.8 -1.3-.6 -1.3-.6 -1.3-.4 -1.3-.4 -1.3-.2 -1.3-.2 -1.3 0 -1.4 0 -1.3 .1 -1.3 .1 -1.3 .3 -1.3 .3 -1.3 .5 -1.3 .5 -1.3 .6 -1.3 .6 -1.3 .8 -1.3 .8 -1.3 1 -1.3 .9 -1.3 1.1 -1.3 1.5 -1.3 1.3 -1.3 1.2 -1.3 1 -1.3 1.1 -1.3 1.6 -1.3 2 -1.3 2.1 -1.3 1.8 -1.3 1.1 -1.3 .5 -1.3 .6 -1.3 1.4 -1.3 2.4 -1.3 2.9 -1.3 2.5 -1.3 1.1 -1.3 .1 -1.3 0 -1.3 .9 -1.3 2.1 -1.3 3.1 -1.3 2.9 -1.3 1.8 -1.3 .3 -1.3-.2 -1.3 .3 -1.3 1.5 -1.3 2.8 -1.3 3.3 -1.3 2.4 -1.3 .9 -1.3-.3 -1.3-.2 -1.3 .9 -1.3 2.4 -1.3 3.3 -1.3 3 -1.3 1.7 -1.3 .2 -1.3-.4 -1.3 .4 -1.3 1.8 -1.3 3.2 -1.3 3.6 -1.3 2.5 -1.3 .9 -1.3-.3 -1.3 0 -1.3 1.2 -1.3 2.8 -1.3 3.8 -1.3 3.3 -1.3 1.8 -1.3 .1 -1.3-.3 -1.4 .6 -1.3 2.2 -1.3 3.5 -1.3 3.8 -1.3 2.6 -1.3 .8 -1.3-.3 -1.3 0 -1.3 1.4 -1.3 3 -1.3 3.8 -1.3 3.2 -1.3 1.5 -1.3-.1 -1.3-.4 -1.3 .7 -1.3 2.2 -1.3 3.4 -1.3 3.4 -1.3 2.2 -1.3 .6 -1.3-.4 -1.3 0 -1.3 1.5 -1.3 2.9 -1.3 3.7 -1.3 3 -1.3 1.3 -1.3-.1 -1.3-.2 -1.3 .9 -1.3 2.4 -1.3 3.7 -1.3 3.8 -1.3 2.3z" fill="#aed247"/>
<path d="M84 410.1l1.3 0 1.3-.1 1.3-.1 1.3-.1 1.3-.1 1.3-.1 1.3-.1 1.3-.1 1.3-.1 1.3-.1 1.3-.1 1.3-.1 1.3 0 1.3-.1 1.3-.2 1.3-.1 1.3 .1 1.3 .3 1.3 .1 1.3-.1 1.3-.4 1.3-.4 1.3-.1 1.3 .5 1.3 .9 1.3 .7 1.3 .1 1.3-.5 1.3-.8 1.3-.4 1.3 .7 1.3 1.4 1.3 1.2 1.3 .6 1.4-.3 1.3-.8 1.3-.4 1.3 .4 1.3 1.3 1.3 1.6 1.3 1.1 1.3 .3 1.3-.4 1.3-.5 1.3 .1 1.3 1.2 1.3 1.7 1.3 1.6 1.3 .8 1.3 .1 1.3-.4 1.3 0 1.3 .9 1.3 1.7 1.3 1.9 1.3 1.4 1.3 .6 1.3 0 1.3 0 1.3 .7 1.3 1.6 1.3 2.1 1.3 1.8 1.3 1.2 1.3 .4 1.3 .1 1.3 .4 1.3 1.4 1.3 2 1.3 2.1 1.3 1.6 1.3 .9 1.3 .3 1.3 .5 1.3 1.1 1.3 1.8 1.3 2 1.3 1.7 1.3 1.2 1.3 .8 1.3 .8 1.3 1 1.3 1.4 1.3 1.6 1.3 1.6 1.3 1.3 1.3 1.1 1.3 1.1 1.3 1.3 1.3 1.5 0 0 -1.3-.4 -1.3-.5 -1.3-.9 -1.3-.8 -1.3-.7 -1.3-.5 -1.3-.4 -1.3-.7 -1.3-1.1 -1.3-1.4 -1.3-1.4 -1.3-1 -1.3-.5 -1.3-.2 -1.3-.4 -1.3-1.1 -1.3-1.7 -1.3-1.9 -1.3-1.3 -1.3-.6 -1.3 0 -1.3-.1 -1.3-.7 -1.3-1.6 -1.3-1.9 -1.3-1.6 -1.3-.9 -1.3-.1 -1.3 .2 -1.3-.3 -1.3-1.1 -1.3-1.9 -1.3-1.7 -1.3-1.2 -1.3-.3 -1.3 .3 -1.3 .1 -1.3-.7 -1.3-1.5 -1.3-1.9 -1.3-1.3 -1.3-.6 -1.3 .3 -1.3 .4 -1.3-.1 -1.3-1 -1.3-1.6 -1.3-1.5 -1.3-.8 -1.3 .1 -1.3 .7 -1.3 .4 -1.3-.4 -1.3-1.2 -1.3-1.4 -1.4-1 -1.3 0 -1.3 .7 -1.3 .8 -1.3 .2 -1.3-.7 -1.3-1.2 -1.3-.8 -1.3-.2 -1.3 .5 -1.3 .6 -1.3 .4 -1.3-.2 -1.3-.5 -1.3-.5 -1.3-.1 -1.3 .2 -1.3 .3 -1.3 .1 -1.3 0 -1.3 0 -1.3 .1 -1.3 .1 -1.3 0 -1.3 .1 -1.3 .1 -1.3 .1 -1.3 .1 -1.3 .1 -1.3 .1 -1.3 .1 -1.3 .1 -1.3 .1 -1.3 .1 -1.3 .1zM238.9 464.6l1.3-1.4 1.3-1.4 1.3-1 1.3-.9 1.3-1.1 1.3-1.2 1.3-1.4 1.3-1.2 1.3-1 1.3-.8 1.3-.9 1.3-1.3 1.3-1.9 1.3-2.3 1.3-2.3 1.3-1.6 1.3-.8 1.3-.6 1.3-1 1.3-1.8 1.3-2.3 1.3-2.2 1.3-1.5 1.3-.5 1.3 0 1.3-.2 1.3-.8 1.3-1.5 1.3-1.9 1.3-1.4 1.3-.6 1.3 .2 1.3 .2 1.3-.3 1.3-1.1 1.3-1.6 1.3-1.7 1.3-.9 1.3 0 1.3 .4 1.3 0 1.3-.6 1.3-1.5 1.3-1.7 1.3-1.3 1.3-.3 1.3 .4 1.3 .4 1.3-.1 1.3-1.1 1.3-1.6 1.3-1.4 1.3-.6 1.3 .3 1.3 .7 1.4 .4 1.3-.5 1.3-1.2 1.3-1.5 1.3-.8 1.3 .2 1.3 .7 1.3 .6 1.3-.1 1.3-.6 1.3-1 1.3-.6 1.3-.1 1.3 .4 1.3 .4 1.3 .2 1.3-.2 1.3-.3 1.3-.1 1.3 0 1.3 .1 1.3 .1 1.3 0 1.3 .1 1.3 .1 1.3 .1 1.3 0 1.3 .1 1.3 .1 1.3 .1 1.3 .1 1.3 .1 1.3 .1 1.3 .1 1.3 0 0 12.2 -1.3-.1 -1.3-.1 -1.3-.1 -1.3-.1 -1.3-.1 -1.3-.1 -1.3 0 -1.3-.1 -1.3-.1 -1.3-.1 -1.3-.1 -1.3 0 -1.3-.1 -1.3 0 -1.3 0 -1.3 0 -1.3-.1 -1.3-.3 -1.3-.1 -1.3 .2 -1.3 .6 -1.3 .5 -1.3 .2 -1.3-.4 -1.3-.7 -1.3-.3 -1.3 .3 -1.3 1 -1.3 1.2 -1.3 .7 -1.3-.3 -1.3-.9 -1.3-.5 -1.3 .2 -1.4 1.1 -1.3 1.5 -1.3 1.2 -1.3 .3 -1.3-.5 -1.3-.6 -1.3 0 -1.3 .9 -1.3 1.6 -1.3 1.5 -1.3 .9 -1.3-.1 -1.3-.5 -1.3-.2 -1.3 .6 -1.3 1.3 -1.3 1.7 -1.3 1.2 -1.3 .4 -1.3-.4 -1.3-.3 -1.3 .2 -1.3 .9 -1.3 1.6 -1.3 1.4 -1.3 .9 -1.3 0 -1.3-.2 -1.3 .1 -1.3 .9 -1.3 1.7 -1.3 2 -1.3 1.7 -1.3 .9 -1.3 .3 -1.3 .3 -1.3 .9 -1.3 1.8 -1.3 2.4 -1.3 2 -1.3 1.2 -1.3 .5 -1.3 .3 -1.3 .6 -1.3 1.1 -1.3 1.3 -1.3 1.2 -1.3 .8 -1.3 .4 -1.3 .3 -1.3 .3 -1.3 .6 -1.3 .7 -1.3 .8 -1.3 .5 -1.3 .5zM84 622.6l1.3-1.3 1.3 .2 1.3 .2 1.3-1 1.3-2.5 1.3-3.5 1.3-3.3 1.3-1.9 1.3-.3 1.3 .3 1.3-.3 1.3-1.7 1.3-3.1 1.3-3.5 1.3-2.6 1.3-1 1.3 .1 1.3 .1 1.3-1.1 1.3-2.6 1.3-3.6 1.3-3.4 1.3-1.9 1.3-.3 1.3 .3 1.3-.5 1.3-2.1 1.3-3.4 1.3-3.8 1.3-2.7 1.3-.9 1.3 .2 1.3 0 1.3-1.3 1.4-2.8 1.3-3.7 1.3-3.3 1.3-1.6 1.3-.2 1.3 .4 1.3-.6 1.3-2.1 1.3-3.3 1.3-3.4 1.3-2.3 1.3-.7 1.3 .4 1.3 0 1.3-1.3 1.3-2.6 1.3-3.3 1.3-2.8 1.3-1.3 1.3 .1 1.3 .4 1.3-.5 1.3-1.9 1.3-2.9 1.3-3 1.3-1.8 1.3-.4 1.3 .5 1.3 .1 1.3-1.2 1.3-2.4 1.3-2.9 1.3-2.4 1.3-.9 1.3 .1 1.3 .3 1.3-.5 1.3-1.9 1.3-2.8 1.3-2.6 1.3-1.6 1.3-.3 1.3 .2 1.3-.2 1.3-1.3 1.3-2.3 1.3-2.2 1.3-1.6 1.3-.9 1.3-.4 1.3-.2 1.3-.4 0 0 -1.3 2.1 -1.3 2.3 -1.3 2.2 -1.3 1.8 -1.3 1.1 -1.3 .4 -1.3 .5 -1.3 1.4 -1.3 2.6 -1.3 3 -1.3 2.4 -1.3 1.2 -1.3 .1 -1.3 0 -1.3 .8 -1.3 2.2 -1.3 3.1 -1.3 2.9 -1.3 1.7 -1.3 .4 -1.3-.2 -1.3 .3 -1.3 1.6 -1.3 2.8 -1.3 3.2 -1.3 2.3 -1.3 1 -1.3-.2 -1.3-.2 -1.3 1 -1.3 2.3 -1.3 3.2 -1.3 3 -1.3 1.7 -1.3 .2 -1.3-.3 -1.3 .4 -1.3 1.8 -1.3 3.1 -1.3 3.5 -1.3 2.5 -1.3 .9 -1.3-.2 -1.3 0 -1.3 1.3 -1.3 2.7 -1.3 3.7 -1.3 3.3 -1.3 1.7 -1.3 .2 -1.3-.2 -1.4 .6 -1.3 2.2 -1.3 3.5 -1.3 3.7 -1.3 2.6 -1.3 .8 -1.3-.3 -1.3 .1 -1.3 1.4 -1.3 3 -1.3 3.7 -1.3 3.1 -1.3 1.5 -1.3 0 -1.3-.2 -1.3 .6 -1.3 2.2 -1.3 3.3 -1.3 3.4 -1.3 2.2 -1.3 .6 -1.3-.3 -1.3 .1 -1.3 1.5 -1.3 2.9 -1.3 3.5 -1.3 3 -1.3 1.3 -1.3 0 -1.3-.2 -1.3 .9 -1.3 2.4 -1.3 3.7 -1.3 3.6 -1.3 2.3zM195.9 498.1l1.3-1.6 1.3-1.6 1.3-1.1 1.3-.3 0 0 -1.3 1.8 -1.3 1.2 -1.3 .8 -1.3 .8zM238.9 493.9l1.3 .5 1.3 1 1.3 1.6 1.3 1.8 0 0 -1.3-.8 -1.3-.9 -1.3-1.3 -1.3-1.9zM244.1 498.8l1.3 .6 1.3 .3 1.3 .3 1.3 .8 1.3 1.5 1.3 2.1 1.3 2.2 1.3 1.5 1.3 .2 1.3-.2 1.3 .1 1.3 1.3 1.3 2.4 1.3 2.7 1.3 2.1 1.3 .7 1.3-.3 1.3-.3 1.3 .7 1.3 2.1 1.3 3 1.3 2.5 1.3 1.4 1.3 .1 1.3-.5 1.3 .2 1.3 1.6 1.3 3 1.3 3.1 1.3 2.2 1.3 .8 1.3-.3 1.3-.2 1.3 1.1 1.3 2.7 1.3 3.5 1.3 3 1.3 1.5 1.3 .2 1.3-.3 1.3 .5 1.3 2.1 1.3 3.4 1.3 3.5 1.3 2.3 1.3 .8 1.3-.3 1.3 0 1.3 1.4 1.3 3 1.3 3.5 1.4 2.9 1.3 1.4 1.3 .1 1.3-.3 1.3 .7 1.3 2.2 1.3 3.4 1.3 3.3 1.3 2.1 1.3 .6 1.3-.3 1.3 .1 1.3 1.5 1.3 3 1.3 3.5 1.3 2.7 1.3 1.3 1.3 0 1.3-.3 1.3 .8 1.3 2.4 1.3 3.4 1.3 3.3 1.3 2 1.3 .5 1.3-.3 1.3 .1 1.3 1.7 1.3 3.1 1.3 3.6 1.3 2.6 1.3 1.2 1.3-.1 1.3-.2 1.3 .9 0 16 -1.3-2.3 -1.3-3.5 -1.3-3.3 -1.3-2.1 -1.3-.6 -1.3 .3 -1.3-.1 -1.3-1.6 -1.3-3.1 -1.3-3.5 -1.3-2.7 -1.3-1.3 -1.3 0 -1.3 .3 -1.3-.8 -1.3-2.5 -1.3-3.5 -1.3-3.2 -1.3-1.9 -1.3-.5 -1.3 .3 -1.3-.1 -1.3-1.7 -1.3-3.2 -1.3-3.5 -1.3-2.5 -1.3-1.1 -1.3 .1 -1.3 .2 -1.3-.9 -1.3-2.6 -1.3-3.5 -1.3-3.1 -1.3-1.8 -1.4-.3 -1.3 .3 -1.3-.3 -1.3-1.9 -1.3-3.2 -1.3-3.6 -1.3-2.5 -1.3-.9 -1.3 .1 -1.3 .1 -1.3-1.1 -1.3-2.8 -1.3-3.6 -1.3-3 -1.3-1.7 -1.3-.3 -1.3 .4 -1.3-.5 -1.3-2 -1.3-3.3 -1.3-3.3 -1.3-2.2 -1.3-.8 -1.3 .1 -1.3 .1 -1.3-1.2 -1.3-2.7 -1.3-3.3 -1.3-2.8 -1.3-1.4 -1.3-.1 -1.3 .1 -1.3-.6 -1.3-1.9 -1.3-3 -1.3-2.9 -1.3-2 -1.3-.6 -1.3 .1 -1.3-.2 -1.3-1.3 -1.3-2.6 -1.3-2.8 -1.3-2.3 -1.3-1.2 -1.3-.3 -1.3-.5 -1.3-1.1 -1.3-1.9 -1.3-2.2 -1.3-2.3 -1.3-2z" fill="#fbcf15"/>
<path d="M84 411.3l1.3-.1 1.3-.1 1.3-.1 1.3-.1 1.3-.1 1.3-.1 1.3-.1 1.3-.1 1.3-.1 1.3-.1 1.3-.1 1.3 0 1.3-.1 1.3-.1 1.3-.1 1.3-.1 1.3 .1 1.3 .2 1.3 .1 1.3-.1 1.3-.4 1.3-.4 1.3 0 1.3 .5 1.3 .8 1.3 .6 1.3 .2 1.3-.6 1.3-.7 1.3-.3 1.3 .6 1.3 1.3 1.3 1.2 1.3 .6 1.4-.3 1.3-.7 1.3-.4 1.3 .4 1.3 1.3 1.3 1.5 1.3 1.1 1.3 .3 1.3-.4 1.3-.4 1.3 .2 1.3 1.1 1.3 1.7 1.3 1.5 1.3 .8 1.3 .1 1.3-.3 1.3 0 1.3 .9 1.3 1.7 1.3 1.8 1.3 1.4 1.3 .6 1.3 .1 1.3 0 1.3 .7 1.3 1.6 1.3 2.1 1.3 1.8 1.3 1.2 1.3 .4 1.3 .1 1.3 .6 1.3 1.3 1.3 2 1.3 2.2 1.3 1.7 1.3 .8 1.3 .3 1.3 .5 1.3 1.2 1.3 1.8 1.3 2.2 1.3 2.6 0 0 -1.3 .3 -1.3 0 -1.3-.4 -1.3-1 -1.3-1.8 -1.3-1.8 -1.3-1.4 -1.3-.4 -1.3 0 -1.3-.1 -1.3-.8 -1.3-1.5 -1.3-1.9 -1.3-1.6 -1.3-.8 -1.3-.1 -1.3 .2 -1.3-.3 -1.3-1.1 -1.3-1.8 -1.3-1.7 -1.3-1.2 -1.3-.3 -1.3 .2 -1.3 .1 -1.3-.7 -1.3-1.5 -1.3-1.8 -1.3-1.3 -1.3-.6 -1.3 .2 -1.3 .4 -1.3-.1 -1.3-1 -1.3-1.6 -1.3-1.4 -1.3-.8 -1.3 .1 -1.3 .6 -1.3 .4 -1.3-.4 -1.3-1.2 -1.3-1.4 -1.4-.9 -1.3-.1 -1.3 .7 -1.3 .8 -1.3 .1 -1.3-.7 -1.3-1.1 -1.3-.8 -1.3-.2 -1.3 .5 -1.3 .6 -1.3 .3 -1.3-.2 -1.3-.5 -1.3-.4 -1.3-.1 -1.3 .2 -1.3 .2 -1.3 .2 -1.3 0 -1.3 0 -1.3 .1 -1.3 0 -1.3 .1 -1.3 .1 -1.3 .1 -1.3 .1 -1.3 .1 -1.3 .1 -1.3 .1 -1.3 .1 -1.3 .1 -1.3 .1 -1.3 .1 -1.3 0zM186.8 453.7l1.3 .5 1.3 .5 1.3 1.1 1.3 2.1 0 0 -1.3 .1 -1.3-1.1 -1.3-1.6 -1.3-1.6zM248 458.6l1.3-1.9 1.3-1 1.3-.5 1.3-.5 0 0 -1.3 1.8 -1.3 1.4 -1.3 .8 -1.3-.1zM254.5 453.6l1.3-2.7 1.3-2.6 1.3-2.3 1.3-1.6 1.3-.8 1.3-.6 1.3-1 1.3-1.8 1.3-2.4 1.3-2.3 1.3-1.5 1.3-.6 1.3 0 1.3-.3 1.3-.9 1.3-1.5 1.3-1.8 1.3-1.4 1.3-.6 1.3 0 1.3 .2 1.3-.3 1.3-1.1 1.3-1.5 1.3-1.6 1.3-.9 1.3-.1 1.3 .4 1.3 0 1.3-.6 1.3-1.5 1.3-1.6 1.3-1.3 1.3-.3 1.3 .4 1.3 .4 1.3-.2 1.3-1 1.3-1.6 1.3-1.4 1.3-.6 1.3 .3 1.3 .7 1.4 .3 1.3-.4 1.3-1.2 1.3-1.4 1.3-.8 1.3 .1 1.3 .7 1.3 .5 1.3 0 1.3-.7 1.3-.8 1.3-.6 1.3-.1 1.3 .3 1.3 .4 1.3 .2 1.3-.2 1.3-.2 1.3-.2 1.3 0 1.3 .2 1.3 0 1.3 .1 1.3 0 1.3 .1 1.3 .1 1.3 .1 1.3 0 1.3 .1 1.3 .1 1.3 .1 1.3 .1 1.3 .1 1.3 .1 1.3 .1 0 9.8 -1.3 0 -1.3-.1 -1.3-.1 -1.3-.1 -1.3-.1 -1.3-.1 -1.3-.1 -1.3-.1 -1.3-.1 -1.3 0 -1.3-.1 -1.3-.1 -1.3 0 -1.3-.1 -1.3 .1 -1.3 0 -1.3-.2 -1.3-.2 -1.3-.1 -1.3 .2 -1.3 .5 -1.3 .5 -1.3 .2 -1.3-.4 -1.3-.6 -1.3-.3 -1.3 .4 -1.3 .9 -1.3 1.2 -1.3 .6 -1.3-.2 -1.3-.8 -1.3-.6 -1.3 .3 -1.4 1 -1.3 1.5 -1.3 1.1 -1.3 .3 -1.3-.4 -1.3-.5 -1.3 0 -1.3 .9 -1.3 1.5 -1.3 1.5 -1.3 .9 -1.3-.1 -1.3-.4 -1.3-.2 -1.3 .6 -1.3 1.3 -1.3 1.6 -1.3 1.3 -1.3 .3 -1.3-.3 -1.3-.3 -1.3 .3 -1.3 .9 -1.3 1.5 -1.3 1.4 -1.3 .8 -1.3 .1 -1.3-.3 -1.3 .1 -1.3 .9 -1.3 1.6 -1.3 2 -1.3 1.6 -1.3 .9 -1.3 .2 -1.3 .2 -1.3 .9 -1.3 1.8 -1.3 2.3 -1.3 2.1 -1.3 1.2 -1.3 .4 -1.3 .1 -1.3-.1zM84 623.8l1.3-1.2 1.3 .1 1.3 .2 1.3-.9 1.3-2.6 1.3-3.5 1.3-3.3 1.3-1.9 1.3-.3 1.3 .3 1.3-.2 1.3-1.8 1.3-3.1 1.3-3.5 1.3-2.6 1.3-1.1 1.3 .2 1.3 .1 1.3-1 1.3-2.7 1.3-3.6 1.3-3.4 1.3-1.9 1.3-.3 1.3 .3 1.3-.4 1.3-2.1 1.3-3.5 1.3-3.7 1.3-2.7 1.3-1 1.3 .2 1.3 .1 1.3-1.3 1.4-2.9 1.3-3.7 1.3-3.3 1.3-1.6 1.3-.2 1.3 .4 1.3-.5 1.3-2.1 1.3-3.4 1.3-3.4 1.3-2.3 1.3-.7 1.3 .3 1.3 .1 1.3-1.3 1.3-2.7 1.3-3.3 1.3-2.8 1.3-1.3 1.3 .1 1.3 .4 1.3-.5 1.3-1.9 1.3-2.9 1.3-3 1.3-1.8 1.3-.3 1.3 .5 1.3 .3 1.3-1 1.3-2.8 1.3-3 1.3-2.3 1.3-1 1.3 .3 1.3 .8 1.3-.6 0 0 -1.3 2.2 -1.3 3.5 -1.3 3 -1.3 1.8 -1.3 .4 -1.3-.3 -1.3 0 -1.3 1.7 -1.3 3 -1.3 3.2 -1.3 2.4 -1.3 .9 -1.3-.1 -1.3-.2 -1.3 .9 -1.3 2.4 -1.3 3.2 -1.3 3 -1.3 1.6 -1.3 .3 -1.3-.4 -1.3 .4 -1.3 1.8 -1.3 3.2 -1.3 3.4 -1.3 2.6 -1.3 .9 -1.3-.2 -1.3-.1 -1.3 1.2 -1.3 2.8 -1.3 3.7 -1.3 3.2 -1.3 1.8 -1.3 .2 -1.3-.3 -1.4 .6 -1.3 2.2 -1.3 3.6 -1.3 3.7 -1.3 2.5 -1.3 .8 -1.3-.2 -1.3 0 -1.3 1.4 -1.3 3.1 -1.3 3.7 -1.3 3.1 -1.3 1.5 -1.3 0 -1.3-.2 -1.3 .5 -1.3 2.3 -1.3 3.4 -1.3 3.4 -1.3 2.2 -1.3 .5 -1.3-.3 -1.3 .1 -1.3 1.4 -1.3 3 -1.3 3.6 -1.3 2.9 -1.3 1.3 -1.3 0 -1.3-.2 -1.3 .8 -1.3 2.5 -1.3 3.7 -1.3 3.6 -1.3 2.3zM177.7 516.9l1.3-3.6 1.3-2.7 1.3-1.6 1.3-.2 1.3 1.3 0 0 -1.3 4 -1.3 2.6 -1.3 1.1 -1.3 .1 -1.3-1zM188.1 505.9l1.3-2.6 1.3-1.8 1.3-.5 1.3-.4 0 0 -1.3 2.2 -1.3 2.1 -1.3 1 -1.3 0zM246.7 501.4l1.3 .7 1.3 .2 1.3 1.6 1.3 2.7 0 0 -1.3 .1 -1.3-1.1 -1.3-2.4 -1.3-1.8zM255.8 510.5l1.3-1.1 1.3 0 1.3 1.3 1.3 2.5 1.3 3.5 1.3 1.6 0 0 -1.3-1 -1.3 .9 -1.3-.1 -1.3-1.4 -1.3-2.6 -1.3-3.6zM263.6 518.3l1.3 1.2 1.3-1.2 1.3-.3 1.3 .7 1.3 2.1 1.3 3 1.3 2.8 1.3 1.4 1.3-.2 1.3-.5 1.3 .1 1.3 1.7 1.3 2.9 1.3 3.2 1.3 2.2 1.3 .7 1.3-.3 1.3-.1 1.3 1.1 1.3 2.7 1.3 3.5 1.3 3 1.3 1.6 1.3 .1 1.3-.3 1.3 .5 1.3 2.1 1.3 3.4 1.3 3.5 1.3 2.4 1.3 .7 1.3-.3 1.3 0 1.3 1.4 1.3 2.9 1.3 3.6 1.4 3 1.3 1.4 1.3 0 1.3-.3 1.3 .6 1.3 2.3 1.3 3.4 1.3 3.3 1.3 2.2 1.3 .5 1.3-.3 1.3 .1 1.3 1.4 1.3 3 1.3 3.5 1.3 2.9 1.3 1.2 1.3-.1 1.3-.2 1.3 .7 1.3 2.4 1.3 3.5 1.3 3.3 1.3 2 1.3 .4 1.3-.3 1.3 .2 1.3 1.7 1.3 3.1 1.3 3.5 1.3 2.8 1.3 1.1 1.3-.1 1.3-.2 1.3 .9 0 13.6 -1.3-2.3 -1.3-3.5 -1.3-3.3 -1.3-2.2 -1.3-.5 -1.3 .3 -1.3-.1 -1.3-1.6 -1.3-3 -1.3-3.6 -1.3-2.8 -1.3-1.2 -1.3 .1 -1.3 .2 -1.3-.8 -1.3-2.5 -1.3-3.4 -1.3-3.3 -1.3-2 -1.3-.3 -1.3 .3 -1.3-.2 -1.3-1.7 -1.3-3.1 -1.3-3.5 -1.3-2.7 -1.3-1 -1.3 .2 -1.3 .2 -1.3-1 -1.3-2.6 -1.3-3.4 -1.3-3.2 -1.3-1.8 -1.4-.3 -1.3 .3 -1.3-.3 -1.3-1.9 -1.3-3.2 -1.3-3.5 -1.3-2.6 -1.3-.9 -1.3 .1 -1.3 .2 -1.3-1.2 -1.3-2.8 -1.3-3.5 -1.3-3.2 -1.3-1.6 -1.3-.2 -1.3 .3 -1.3-.5 -1.3-2 -1.3-3.2 -1.3-3.3 -1.3-2.3 -1.3-.8 -1.3 .2 -1.3 0 -1.3-1.2 -1.3-2.7 -1.3-3.3 -1.3-3 -1.3-1.5 -1.3 .1 -1.3 .3 -1.3-.6 -1.3-2 -1.3-3.1 -1.3-3.8 -1.3-1.5z" fill="#f5831f"/>
<path d="M84 412.5l1.3-.1 1.3 0 1.3-.1 1.3-.1 1.3-.1 1.3-.1 1.3-.1 1.3-.1 1.3-.1 1.3-.1 1.3-.1 1.3-.1 1.3-.1 1.3 0 1.3-.2 1.3-.1 1.3 .1 1.3 .3 1.3 .1 1.3-.1 1.3-.4 1.3-.4 1.3-.1 1.3 .5 1.3 .8 1.3 .7 1.3 .1 1.3-.5 1.3-.8 1.3-.3 1.3 .6 1.3 1.3 1.3 1.3 1.3 .5 1.4-.3 1.3-.7 1.3-.4 1.3 .4 1.3 1.3 1.3 1.5 1.3 1.1 1.3 .3 1.3-.4 1.3-.4 1.3 .2 1.3 1.1 1.3 1.6 1.3 1.6 1.3 .8 1.3 .1 1.3-.3 1.3 0 1.3 .9 1.3 1.6 1.3 1.9 1.3 1.4 1.3 .6 1.3 .1 1.3 0 1.3 .7 1.3 1.7 1.3 2.1 1.3 2.1 1.3 1.3 1.3 .2 1.3 .1 1.3 .5 1.3 1.4 1.3 2.2 1.3 2.8 0 0 -1.3 .6 -1.3 .1 -1.3-.7 -1.3-1.5 -1.3-2 -1.3-1.8 -1.3-.6 -1.3 .1 -1.3 .2 -1.3-.3 -1.3-1.1 -1.3-1.7 -1.3-1.8 -1.3-1 -1.3-.4 -1.3 .2 -1.3 .1 -1.3-.7 -1.3-1.5 -1.3-1.8 -1.3-1.4 -1.3-.5 -1.3 .2 -1.3 .4 -1.3-.1 -1.3-1 -1.3-1.6 -1.3-1.4 -1.3-.8 -1.3 .1 -1.3 .6 -1.3 .4 -1.3-.4 -1.3-1.2 -1.3-1.4 -1.4-.9 -1.3-.1 -1.3 .7 -1.3 .8 -1.3 .1 -1.3-.7 -1.3-1.1 -1.3-.8 -1.3-.2 -1.3 .4 -1.3 .6 -1.3 .4 -1.3-.2 -1.3-.5 -1.3-.4 -1.3-.2 -1.3 .2 -1.3 .3 -1.3 .1 -1.3 .1 -1.3-.1 -1.3 .1 -1.3 .1 -1.3 .1 -1.3 .1 -1.3 0 -1.3 .1 -1.3 .1 -1.3 .1 -1.3 .1 -1.3 .1 -1.3 .1 -1.3 .1 -1.3 .1 -1.3 .1zM179 447l1.3-.2 1.3 1.3 1.3 2.2 0 0 -1.3 .1 -1.3-.9 -1.3-2.5zM257.1 451l1.3-2.6 1.3-1.8 1.3 .2 0 0 -1.3 2.9 -1.3 1 -1.3 .3zM264.9 442.6l1.3-2.9 1.3-2.6 1.3-1.6 1.3-.6 1.3 0 1.3-.1 1.3-1 1.3-1.8 1.3-1.9 1.3-1.5 1.3-.6 1.3 .1 1.3 .1 1.3-.3 1.3-1 1.3-1.6 1.3-1.6 1.3-.9 1.3-.1 1.3 .4 1.3 .1 1.3-.7 1.3-1.4 1.3-1.7 1.3-1.2 1.3-.3 1.3 .3 1.3 .5 1.3-.2 1.3-1 1.3-1.6 1.3-1.4 1.3-.6 1.3 .3 1.3 .7 1.4 .4 1.3-.5 1.3-1.2 1.3-1.4 1.3-.8 1.3 .2 1.3 .6 1.3 .6 1.3-.1 1.3-.6 1.3-.9 1.3-.6 1.3 0 1.3 .3 1.3 .4 1.3 .1 1.3-.1 1.3-.3 1.3-.1 1.3 0 1.3 .1 1.3 .1 1.3 0 1.3 .1 1.3 .1 1.3 0 1.3 .1 1.3 .1 1.3 .1 1.3 .1 1.3 .1 1.3 .1 1.3 .1 1.3 0 1.3 .1 0 7.4 -1.3-.1 -1.3-.1 -1.3-.1 -1.3-.1 -1.3-.1 -1.3 0 -1.3-.1 -1.3-.1 -1.3-.1 -1.3-.1 -1.3-.1 -1.3 0 -1.3-.1 -1.3 0 -1.3 0 -1.3 0 -1.3-.1 -1.3-.3 -1.3-.1 -1.3 .3 -1.3 .5 -1.3 .5 -1.3 .1 -1.3-.3 -1.3-.6 -1.3-.3 -1.3 .3 -1.3 1 -1.3 1.1 -1.3 .7 -1.3-.3 -1.3-.7 -1.3-.6 -1.3 .2 -1.4 1.1 -1.3 1.5 -1.3 1.1 -1.3 .3 -1.3-.4 -1.3-.6 -1.3 .1 -1.3 .9 -1.3 1.5 -1.3 1.5 -1.3 .9 -1.3-.1 -1.3-.4 -1.3-.2 -1.3 .6 -1.3 1.4 -1.3 1.6 -1.3 1.2 -1.3 .4 -1.3-.3 -1.3-.3 -1.3 .2 -1.3 1 -1.3 1.5 -1.3 1.4 -1.3 .7 -1.3 .1 -1.3-.4 -1.3-.1 -1.3 .8 -1.3 1.8 -1.3 2 -1.3 1.5 -1.3 .8 -1.3-.1 -1.3-.2zM84 625.2l1.3-1.3 1.3 .2 1.3 .9 1.3-1 0 0 -1.3 2.5 -1.3 4.4 -1.3 3.7 -1.3 2.2zM89.2 624l1.3-2.7 1.3-4.1 1.3-3.3 1.3-1.9 1.3-.4 1.3 .6 1.3 .4 0 0 -1.3 3.6 -1.3 3.8 -1.3 2.9 -1.3 1.4 -1.3-.1 -1.3-.8 -1.3 .6zM99.6 611l1.3-4 1.3-3.7 1.3-2.6 1.3-1 1.3 .2 1.3 1.2 1.3-1.4 0 0 -1.3 2 -1.3 4.3 -1.3 3.5 -1.3 2.2 -1.3 .6 -1.3-.5 -1.3-.8zM108.7 599.7l1.3-3 1.3-4 1.3-3.4 1.3-1.9 1.3-.2 1.3 .5 1.3 .1 0 0 -1.3 3.6 -1.3 4.1 -1.3 3.1 -1.3 1.5 -1.3 0 -1.3-.7 -1.3 .3zM119.1 586.1l1.3-4.5 1.3-3.9 1.3-2.7 1.3-.9 1.3 .3 1.3 1.2 0 0 -1.3 4.7 -1.3 3.8 -1.3 2.6 -1.3 .8 -1.3-.4 -1.3-1zM128.2 573.8l1.4-3.3 1.3-4.1 1.3-3.3 1.3-1.6 1.3-.1 1.3 .6 1.3-.1 0 0 -1.3 3.3 -1.3 4 -1.3 3.3 -1.3 1.7 -1.3 .2 -1.3-.7 -1.4 .1zM138.7 560.3l1.3-4.5 1.3-3.6 1.3-2.3 1.3-.7 1.3 .5 1.3 1 0 0 -1.3 4.1 -1.3 3.6 -1.3 2.5 -1.3 .9 -1.3-.3 -1.3-1.2zM147.8 549.1l1.3-3.2 1.3-3.6 1.3-2.8 1.3-1.3 1.3 .1 1.3 .8 1.3-.2 0 0 -1.3 2.6 -1.3 3.6 -1.3 3 -1.3 1.7 -1.3 .1 -1.3-.6 -1.3-.2zM158.2 537.5l1.3-4 1.3-3.1 1.3-1.8 1.3-.3 1.3 .9 1.3 0 0 0 -1.3 2.8 -1.3 3.6 -1.3 2.4 -1.3 .9 -1.3-.2 -1.3-1.2zM168.6 526.5l1.3-4 1.3-2.4 1.3-.9 1.3 .7 1.3-.2 0 0 -1.3 2.5 -1.3 3.4 -1.3 1.9 -1.3 .3 -1.3-1.3zM179 515.6l1.3-3.4 1.3-1.7 1.3 .9 0 0 -1.3 3.7 -1.3 1.1 -1.3-.6zM257.1 511.8l1.3-.8 1.3 1.3 1.3 3.4 0 0 -1.3 .8 -1.3-1.3 -1.3-3.4zM264.9 519.7l1.3 1.1 1.3-1.5 1.3 .7 1.3 2.2 1.3 4 1.3 1.6 0 0 -1.3-1.1 -1.3 1.2 -1.3-.5 -1.3-2.1 -1.3-4.2 -1.3-1.4zM274 529.2l1.3 .6 1.3-1.2 1.3 .1 1.3 1.6 1.3 3 1.3 3.8 1.3 2.2 0 0 -1.3-.8 -1.3 .8 -1.3 .1 -1.3-1.2 -1.3-2.8 -1.3-4 -1.3-2.2zM283.1 539.3l1.3 .7 1.3-.9 1.3-.2 1.3 1.1 1.3 2.8 1.3 3.6 1.3 3.8 0 0 -1.3 .5 -1.3 .5 -1.3-.4 -1.3-2 -1.3-3.3 -1.3-3.9 -1.3-2.3zM293.5 551.8l1.3-.7 1.3-.5 1.3 .5 1.3 2.2 1.3 3.4 1.3 4.3 1.3 2.3 0 0 -1.3-1 -1.3 .9 -1.3 .2 -1.3-1.2 -1.3-2.7 -1.3-3.8 -1.3-3.9zM302.6 563.3l1.3 .5 1.3-.8 1.3 0 1.3 1.3 1.3 3 1.3 3.8 1.4 3.6 0 0 -1.4 .3 -1.3 .6 -1.3-.3 -1.3-1.9 -1.3-3.3 -1.3-4.1 -1.3-2.7zM313.1 576.3l1.3-.9 1.3-.4 1.3 .6 1.3 2.2 1.3 3.5 1.3 4.6 0 0 -1.3 1.3 -1.3 .3 -1.3-.9 -1.3-2.6 -1.3-3.6 -1.3-4.1zM322.2 587.4l1.3 .3 1.3-.7 1.3 0 1.3 1.5 1.3 3 1.3 3.8 1.3 3.3 0 0 -1.3 .1 -1.3 .6 -1.3-.1 -1.3-1.8 -1.3-3.1 -1.3-3.9 -1.3-3zM332.6 600.2l1.3-1.1 1.3-.4 1.3 .8 1.3 2.4 1.3 3.6 1.3 4.3 0 0 -1.3 1.2 -1.3 .4 -1.3-.9 -1.3-2.4 -1.3-3.6 -1.3-4.3zM341.7 611.5l1.3-.1 1.3-.6 1.3 .1 1.3 1.7 1.3 3.2 1.3 3.9 1.3 3.1 0 0 -1.3-.2 -1.3 .7 -1.3-.1 -1.3-1.5 -1.3-3.1 -1.3-3.9 -1.3-3.2zM352.1 624.4l1.3-1.3 1.3-.3 1.3 .9 0 11.2 -1.3-2.4 -1.3-3.5 -1.3-4.6z" fill="#ed2c23"/>
<path d="M120.4 415.5l1.3-.4 1.3-.9 1.3 .9 1.3 1.3 0 0 -1.3 .8 -1.3 .4 -1.3-1.4 -1.3-.7zM130.9 417.6l1.3-1.2 1.3 .4 1.3 2.1 0 0 -1.3 1.1 -1.3-.4 -1.3-2zM140 420.9l1.3-.5 1.3-.1 1.3 1.5 1.3 1.5 0 0 -1.3 .2 -1.3 .3 -1.3-1.3 -1.3-1.6zM150.4 426.1l1.3-.9 1.3 .9 1.3 2.3 0 0 -1.3 .7 -1.3-.6 -1.3-2.4zM285.7 428.6l1.3-1.9 1.3-1 1.3 1 0 0 -1.3 2.3 -1.3 .2 -1.3-.6zM294.8 424.2l1.3-.9 1.3-2.1 1.3-.1 1.3 .7 0 0 -1.3 1.8 -1.3 1.1 -1.3-.9 -1.3 .4zM305.2 419.7l1.3-2 1.3-.7 1.3 1.3 0 0 -1.3 2.2 -1.3 .2 -1.3-1zM314.4 416.9l1.3-1 1.3-1.4 1.3 .6 1.3 .7 0 0 -1.3 1.2 -1.3 1 -1.3-.7 -1.3-.4zM84 628.2l1.3-1 1.3 .3 0 0 -1.3 3.8 -1.3 2.5zM91.8 620.7l1.3-3.8 1.3-2.1 1.3 1 0 0 -1.3 4.2 -1.3 1.2 -1.3-.5zM100.9 609.4l1.3-2.3 1.3-3.6 1.3-.6 1.3 .1 0 0 -1.3 3.3 -1.3 2.6 -1.3-.4 -1.3 .9zM111.3 596.4l1.3-4 1.3-2 1.3 .9 0 0 -1.3 4.3 -1.3 1.5 -1.3-.7zM120.4 584.4l1.3-3 1.3-3.4 1.3-.5 1.3-.2 0 0 -1.3 3.3 -1.3 3.1 -1.3 .1 -1.3 .6zM130.9 570.4l1.3-4.2 1.3-1.7 1.3 .8 0 0 -1.3 4.1 -1.3 1.8 -1.3-.8zM140 558.6l1.3-3.1 1.3-2.8 1.3 0 1.3-.5 0 0 -1.3 2.7 -1.3 3.2 -1.3 .4 -1.3 .1zM150.4 546.1l1.3-3.8 1.3-1.3 1.3 .7 0 0 -1.3 3.6 -1.3 1.7 -1.3-.9zM159.5 536.1l1.3-2 1.3-2.4 1.3 .3 0 0 -1.3 3 -1.3 .3 -1.3 .8zM276.6 532l1.3-.1 1.3 1.8 1.3 2.6 0 0 -1.3-.3 -1.3-1.1 -1.3-2.9zM285.7 542.3l1.3-.4 1.3 .9 1.3 4.2 0 0 -1.3 1 -1.3-2.2 -1.3-3.5zM296.1 555.1l1.3-1.1 1.3 2.4 1.3 3.6 0 0 -1.3 .2 -1.3-.8 -1.3-4.3zM305.2 566.5l1.3-.5 1.3 1.2 1.3 4.2 0 0 -1.3 1 -1.3-2 -1.3-3.9zM314.4 577.9l1.3 .7 1.3-.2 1.3 2.6 1.3 3.3 0 0 -1.3 0 -1.3-.6 -1.3-3.4 -1.3-2.4zM324.8 590.6l1.3-.7 1.3 1.5 1.3 4 0 0 -1.3 .9 -1.3-1.8 -1.3-3.9zM333.9 601.8l1.3 .3 1.3 .2 1.3 2.9 1.3 3 0 0 -1.3-.2 -1.3-.3 -1.3-3 -1.3-2.9zM344.3 614.7l1.3-.8 1.3 1.7 1.3 3.9 0 0 -1.3 .8 -1.3-1.6 -1.3-4zM353.4 626l1.3 .1 1.3 .5 0 5.4 -1.3-2.7 -1.3-3.3z" fill="#c51c22"/></g>
<path d="M90.89999999999999 526.5 H349.6" stroke="#fff" stroke-width="2.6" stroke-dasharray="12.1 12.82" fill="none"/>
<path d="M84 416.2 L87.9 416 L91.8 415.7 L95.7 415.4 L99.6 415.1 L103.5 414.9 L107.4 414.8 L111.3 414.8 L115.2 415 L119.1 415.3 L123 415.9 L126.9 416.6 L130.9 417.6 L134.8 418.9 L138.7 420.3 L142.6 422 L146.5 424 L150.4 426.1 L154.3 428.4 L158.2 431 L162.1 433.7 L166 436.6 L169.9 439.6 L173.8 442.7 L177.7 445.9 L181.6 449.2 L185.5 452.6 L189.4 455.8 L193.3 459 L197.2 462 L201.1 464.8 L205 467.4 L208.9 469.6 L212.8 471.1 L216.7 471.9 L220.7 472 L224.6 471.8 L228.5 470.9 L232.4 469.2 L236.3 466.6 L240.2 463.6 L244.1 461 L248 458.6 L251.9 455.8 L255.8 452.3 L259.7 448.2 L263.6 443.9 L267.5 440 L271.4 436.7 L275.3 434.1 L279.2 431.8 L283.1 429.9 L287 428 L290.9 426 L294.8 424.2 L298.7 422.4 L302.6 420.7 L306.5 419.2 L310.4 417.9 L314.4 416.9 L318.3 416 L322.2 415.4 L326.1 415 L330 414.7 L333.9 414.7 L337.8 414.7 L341.7 414.9 L345.6 415.1 L349.5 415.4 L353.4 415.6" stroke="#111" stroke-width="2.8" stroke-dasharray="2.8 3" fill="none"/>
<path d="M84 631 L87.9 625.7 L91.8 620.7 L95.7 615.8 L99.6 611 L103.5 606.2 L107.4 601.4 L111.3 596.4 L115.2 591.3 L119.1 586.1 L123 580.8 L126.9 575.6 L130.9 570.4 L134.8 565.3 L138.7 560.3 L142.6 555.4 L146.5 550.7 L150.4 546.1 L154.3 541.7 L158.2 537.5 L162.1 533.3 L166 529.2 L169.9 525.1 L173.8 521.1 L177.7 516.9 L181.6 512.8 L185.5 508.7 L189.4 504.6 L193.3 500.6 L197.2 496.9 L201.1 493.5 L205 490.5 L208.9 488.2 L212.8 486.6 L216.7 485.7 L220.7 485.4 L224.6 485.8 L228.5 487.1 L232.4 489.1 L236.3 491.8 L240.2 495.1 L244.1 498.8 L248 502.7 L251.9 506.6 L255.8 510.5 L259.7 514.4 L263.6 518.3 L267.5 522.3 L271.4 526.4 L275.3 530.6 L279.2 534.9 L283.1 539.3 L287 543.9 L290.9 548.6 L294.8 553.4 L298.7 558.3 L302.6 563.3 L306.5 568.2 L310.4 573.1 L314.4 577.9 L318.3 582.7 L322.2 587.4 L326.1 592.2 L330 597 L333.9 601.8 L337.8 606.6 L341.7 611.5 L345.6 616.3 L349.5 621.2 L353.4 626" stroke="#111" stroke-width="2.8" stroke-dasharray="2.8 3" fill="none"/>
</g>
<text x="82.6" y="634.5" font-size="25.4" text-anchor="end" font-weight="normal" fill="#231f20">2.35</text>
<text x="82.6" y="571.1" font-size="25.4" text-anchor="end" font-weight="normal" fill="#231f20">2.4</text>
<text x="82.6" y="507.7" font-size="25.4" text-anchor="end" font-weight="normal" fill="#231f20">2.45</text>
<text x="82.6" y="444.3" font-size="25.4" text-anchor="end" font-weight="normal" fill="#231f20">2.5</text>
<text x="90.2" y="656.9" font-size="25.4" text-anchor="middle" font-weight="normal" fill="#231f20">-0.2</text>
<text x="214.4" y="656.9" font-size="25.4" text-anchor="middle" font-weight="normal" fill="#231f20">0</text>
<text x="339.3" y="656.9" font-size="25.4" text-anchor="middle" font-weight="normal" fill="#231f20">0.2</text>
<text x="162.3" y="692.5" font-size="25.4" fill="#231f20">k<tspan dx="21.6">(2</tspan><tspan dx="2.6" font-family="'Liberation Serif', serif" font-style="italic" font-size="29">π</tspan><tspan dx="4.0">/a</tspan><tspan dx="1.8">)</tspan></text>
<text transform="translate(175.1 710.1) scale(1 1.24)" font-size="20.5" fill="#231f20">||</text>
<text transform="translate(24.7 516.5) rotate(-90)" font-size="25.0" text-anchor="middle" fill="#231f20">Energy (eV)</text>
<rect x="364.2" y="408.6" width="15.8" height="216.3" fill="url(#jetg)"/>
<rect x="364.2" y="408.6" width="15.8" height="216.3" fill="none" stroke="#3a3a3a" stroke-width="0.7"/>
<text x="388" y="634.2" font-size="25.4" text-anchor="start" font-weight="normal" fill="#231f20">0</text>
<path d="M380 541.7 h-2.6" stroke="#262626" stroke-width="0.8"/>
<text x="388" y="551" font-size="25.4" text-anchor="start" font-weight="normal" fill="#231f20">5</text>
<path d="M380 458.5 h-2.6" stroke="#262626" stroke-width="0.8"/>
<text x="388" y="467.8" font-size="25.4" text-anchor="start" font-weight="normal" fill="#231f20">10</text>
<text x="388" y="417.9" font-size="25.4" text-anchor="start" font-weight="normal" fill="#231f20">13</text>
<text x="330.5" y="400.4" font-size="26.0" text-anchor="start" font-weight="normal" fill="#231f20">log(I)</text>
<text x="2.5" y="412.4" font-size="41.5" text-anchor="start" font-weight="bold" fill="#000">(b)</text>
<rect x="516.2" y="409.3" width="234.7" height="218.7" fill="#95cc6b"/>
<g filter="url(#blur05)">
<rect x="516.2" y="411.8" width="15.6" height="5.2" fill="#80c68a"/>
<rect x="531.6" y="411.8" width="4.0" height="5.2" fill="#72c5a2"/>
<rect x="535.5" y="411.8" width="4.0" height="5.2" fill="#4dc3d0"/>
<rect x="539.3" y="411.8" width="7.9" height="5.2" fill="#2cb6ea"/>
<rect x="547.0" y="411.8" width="4.0" height="5.2" fill="#4dc3d0"/>
<rect x="550.9" y="411.8" width="4.0" height="5.2" fill="#72c5a2"/>
<rect x="554.7" y="411.8" width="4.0" height="5.2" fill="#80c68a"/>
<rect x="704.8" y="411.8" width="4.0" height="5.2" fill="#abd14c"/>
<rect x="708.6" y="411.8" width="4.0" height="5.2" fill="#c6da33"/>
<rect x="712.5" y="411.8" width="4.0" height="5.2" fill="#e7e620"/>
<rect x="716.3" y="411.8" width="4.0" height="5.2" fill="#fbc914"/>
<rect x="720.2" y="411.8" width="4.0" height="5.2" fill="#fbb416"/>
<rect x="724.0" y="411.8" width="4.0" height="5.2" fill="#f9e015"/>
<rect x="727.8" y="411.8" width="4.0" height="5.2" fill="#c6da33"/>
<rect x="731.7" y="411.8" width="15.5" height="5.2" fill="#abd14c"/>
<rect x="516.2" y="416.9" width="4.0" height="5.2" fill="#3a62b0"/>
<rect x="520.1" y="416.9" width="11.7" height="5.2" fill="#324da5"/>
<rect x="531.6" y="416.9" width="31.0" height="5.2" fill="#2e439f"/>
<rect x="562.4" y="416.9" width="4.0" height="5.2" fill="#3658aa"/>
<rect x="566.3" y="416.9" width="4.0" height="5.2" fill="#4dc3d0"/>
<rect x="570.1" y="416.9" width="4.0" height="5.2" fill="#80c68a"/>
<rect x="689.4" y="416.9" width="4.0" height="5.2" fill="#abd14c"/>
<rect x="693.3" y="416.9" width="4.0" height="5.2" fill="#f9e015"/>
<rect x="697.1" y="416.9" width="4.0" height="5.2" fill="#ed2b23"/>
<rect x="701.0" y="416.9" width="7.8" height="5.2" fill="#cf1d23"/>
<rect x="708.6" y="416.9" width="7.8" height="5.2" fill="#e21e24"/>
<rect x="716.3" y="416.9" width="7.8" height="5.2" fill="#ed2b23"/>
<rect x="724.0" y="416.9" width="7.8" height="5.2" fill="#ef4422"/>
<rect x="731.7" y="416.9" width="7.8" height="5.2" fill="#f15c21"/>
<rect x="739.4" y="416.9" width="4.0" height="5.2" fill="#f47420"/>
<rect x="743.2" y="416.9" width="4.0" height="5.2" fill="#f68c1e"/>
<rect x="747.1" y="416.9" width="4.0" height="5.2" fill="#fbb416"/>
<rect x="516.2" y="421.9" width="34.8" height="5.2" fill="#72c5a2"/>
<rect x="550.9" y="421.9" width="7.9" height="5.2" fill="#64c4ba"/>
<rect x="558.6" y="421.9" width="4.0" height="5.2" fill="#34c1e5"/>
<rect x="562.4" y="421.9" width="4.0" height="5.2" fill="#3a62b0"/>
<rect x="566.3" y="421.9" width="7.9" height="5.2" fill="#2b3b98"/>
<rect x="574.0" y="421.9" width="4.0" height="5.2" fill="#4dc3d0"/>
<rect x="577.9" y="421.9" width="4.0" height="5.2" fill="#80c68a"/>
<rect x="681.7" y="421.9" width="4.0" height="5.2" fill="#abd14c"/>
<rect x="685.6" y="421.9" width="4.0" height="5.2" fill="#f9e015"/>
<rect x="689.4" y="421.9" width="4.0" height="5.2" fill="#cf1d23"/>
<rect x="693.3" y="421.9" width="4.0" height="5.2" fill="#b91c21"/>
<rect x="697.1" y="421.9" width="4.0" height="5.2" fill="#ef4422"/>
<rect x="701.0" y="421.9" width="4.0" height="5.2" fill="#fbc914"/>
<rect x="704.8" y="421.9" width="4.0" height="5.2" fill="#e7e620"/>
<rect x="708.6" y="421.9" width="27.0" height="5.2" fill="#c6da33"/>
<rect x="735.5" y="421.9" width="15.5" height="5.2" fill="#abd14c"/>
<rect x="562.4" y="426.9" width="4.0" height="5.2" fill="#80c68a"/>
<rect x="566.3" y="426.9" width="4.0" height="5.2" fill="#72c5a2"/>
<rect x="570.1" y="426.9" width="4.0" height="5.2" fill="#3b7ec3"/>
<rect x="574.0" y="426.9" width="7.9" height="5.2" fill="#2b3b98"/>
<rect x="581.7" y="426.9" width="4.0" height="5.2" fill="#34c1e5"/>
<rect x="585.6" y="426.9" width="4.0" height="5.2" fill="#80c68a"/>
<rect x="674.1" y="426.9" width="4.0" height="5.2" fill="#abd14c"/>
<rect x="677.9" y="426.9" width="4.0" height="5.2" fill="#f9e015"/>
<rect x="681.7" y="426.9" width="7.8" height="5.2" fill="#b91c21"/>
<rect x="689.4" y="426.9" width="4.0" height="5.2" fill="#f15c21"/>
<rect x="693.3" y="426.9" width="4.0" height="5.2" fill="#c6da33"/>
<rect x="697.1" y="426.9" width="4.0" height="5.2" fill="#abd14c"/>
<rect x="570.1" y="431.9" width="4.0" height="5.2" fill="#80c68a"/>
<rect x="574.0" y="431.9" width="4.0" height="5.2" fill="#72c5a2"/>
<rect x="577.9" y="431.9" width="4.0" height="5.2" fill="#3b7ec3"/>
<rect x="581.7" y="431.9" width="7.9" height="5.2" fill="#2b3b98"/>
<rect x="589.4" y="431.9" width="4.0" height="5.2" fill="#64c4ba"/>
<rect x="593.3" y="431.9" width="4.0" height="5.2" fill="#80c68a"/>
<rect x="666.4" y="431.9" width="4.0" height="5.2" fill="#abd14c"/>
<rect x="670.2" y="431.9" width="4.0" height="5.2" fill="#e7e620"/>
<rect x="674.1" y="431.9" width="7.8" height="5.2" fill="#b91c21"/>
<rect x="681.7" y="431.9" width="4.0" height="5.2" fill="#f47420"/>
<rect x="685.6" y="431.9" width="4.0" height="5.2" fill="#c6da33"/>
<rect x="689.4" y="431.9" width="4.0" height="5.2" fill="#abd14c"/>
<rect x="577.9" y="437.0" width="4.0" height="5.2" fill="#80c68a"/>
<rect x="581.7" y="437.0" width="4.0" height="5.2" fill="#72c5a2"/>
<rect x="585.6" y="437.0" width="4.0" height="5.2" fill="#3790d0"/>
<rect x="589.4" y="437.0" width="4.0" height="5.2" fill="#2b3b98"/>
<rect x="593.3" y="437.0" width="4.0" height="5.2" fill="#3790d0"/>
<rect x="597.1" y="437.0" width="4.0" height="5.2" fill="#80c68a"/>
<rect x="662.5" y="437.0" width="4.0" height="5.2" fill="#abd14c"/>
<rect x="666.4" y="437.0" width="4.0" height="5.2" fill="#f68c1e"/>
<rect x="670.2" y="437.0" width="4.0" height="5.2" fill="#b91c21"/>
<rect x="674.1" y="437.0" width="4.0" height="5.2" fill="#f47420"/>
<rect x="677.9" y="437.0" width="4.0" height="5.2" fill="#c6da33"/>
<rect x="681.7" y="437.0" width="4.0" height="5.2" fill="#abd14c"/>
<rect x="585.6" y="442.0" width="4.0" height="5.2" fill="#80c68a"/>
<rect x="589.4" y="442.0" width="4.0" height="5.2" fill="#64c4ba"/>
<rect x="593.3" y="442.0" width="7.9" height="5.2" fill="#2b3b98"/>
<rect x="601.0" y="442.0" width="4.0" height="5.2" fill="#34c1e5"/>
<rect x="604.8" y="442.0" width="4.0" height="5.2" fill="#80c68a"/>
<rect x="654.9" y="442.0" width="4.0" height="5.2" fill="#abd14c"/>
<rect x="658.7" y="442.0" width="4.0" height="5.2" fill="#f9e015"/>
<rect x="662.5" y="442.0" width="7.8" height="5.2" fill="#b91c21"/>
<rect x="670.2" y="442.0" width="4.0" height="5.2" fill="#e7e620"/>
<rect x="674.1" y="442.0" width="4.0" height="5.2" fill="#abd14c"/>
<rect x="593.3" y="447.0" width="4.0" height="5.2" fill="#80c68a"/>
<rect x="597.1" y="447.0" width="4.0" height="5.2" fill="#33a2dd"/>
<rect x="601.0" y="447.0" width="4.0" height="5.2" fill="#2b3b98"/>
<rect x="604.8" y="447.0" width="4.0" height="5.2" fill="#2e439f"/>
<rect x="608.7" y="447.0" width="4.0" height="5.2" fill="#64c4ba"/>
<rect x="612.5" y="447.0" width="4.0" height="5.2" fill="#80c68a"/>
<rect x="647.2" y="447.0" width="4.0" height="5.2" fill="#abd14c"/>
<rect x="651.0" y="447.0" width="4.0" height="5.2" fill="#e7e620"/>
<rect x="654.9" y="447.0" width="4.0" height="5.2" fill="#cf1d23"/>
<rect x="658.7" y="447.0" width="4.0" height="5.2" fill="#b91c21"/>
<rect x="662.5" y="447.0" width="4.0" height="5.2" fill="#f8a01a"/>
<rect x="666.4" y="447.0" width="4.0" height="5.2" fill="#abd14c"/>
<rect x="597.1" y="452.1" width="4.0" height="5.2" fill="#80c68a"/>
<rect x="601.0" y="452.1" width="4.0" height="5.2" fill="#72c5a2"/>
<rect x="604.8" y="452.1" width="4.0" height="5.2" fill="#3a62b0"/>
<rect x="608.7" y="452.1" width="4.0" height="5.2" fill="#293590"/>
<rect x="612.5" y="452.1" width="4.0" height="5.2" fill="#3b7ec3"/>
<rect x="616.4" y="452.1" width="4.0" height="5.2" fill="#80c68a"/>
<rect x="643.3" y="452.1" width="4.0" height="5.2" fill="#abd14c"/>
<rect x="647.2" y="452.1" width="4.0" height="5.2" fill="#f47420"/>
<rect x="651.0" y="452.1" width="4.0" height="5.2" fill="#9d1a1e"/>
<rect x="654.9" y="452.1" width="4.0" height="5.2" fill="#ef4422"/>
<rect x="658.7" y="452.1" width="4.0" height="5.2" fill="#c6da33"/>
<rect x="662.5" y="452.1" width="4.0" height="5.2" fill="#abd14c"/>
<rect x="604.8" y="457.1" width="4.0" height="5.2" fill="#80c68a"/>
<rect x="608.7" y="457.1" width="4.0" height="5.2" fill="#64c4ba"/>
<rect x="612.5" y="457.1" width="7.9" height="5.2" fill="#2b3b98"/>
<rect x="620.2" y="457.1" width="4.0" height="5.2" fill="#72c5a2"/>
<rect x="639.5" y="457.1" width="4.0" height="5.2" fill="#c6da33"/>
<rect x="643.3" y="457.1" width="7.8" height="5.2" fill="#b91c21"/>
<rect x="651.0" y="457.1" width="4.0" height="5.2" fill="#e7e620"/>
<rect x="654.9" y="457.1" width="4.0" height="5.2" fill="#abd14c"/>
<rect x="612.5" y="462.1" width="4.0" height="5.2" fill="#80c68a"/>
<rect x="616.4" y="462.1" width="4.0" height="5.2" fill="#33a2dd"/>
<rect x="620.2" y="462.1" width="4.0" height="5.2" fill="#2e439f"/>
<rect x="624.1" y="462.1" width="4.0" height="5.2" fill="#72c5a2"/>
<rect x="635.6" y="462.1" width="4.0" height="5.2" fill="#c6da33"/>
<rect x="639.5" y="462.1" width="4.0" height="5.2" fill="#cf1d23"/>
<rect x="643.3" y="462.1" width="4.0" height="5.2" fill="#f8a01a"/>
<rect x="647.2" y="462.1" width="4.0" height="5.2" fill="#abd14c"/>
<rect x="620.2" y="467.2" width="4.0" height="5.2" fill="#4dc3d0"/>
<rect x="624.1" y="467.2" width="4.0" height="5.2" fill="#3a62b0"/>
<rect x="627.9" y="467.2" width="4.0" height="5.2" fill="#72c5a2"/>
<rect x="631.8" y="467.2" width="4.0" height="5.2" fill="#c6da33"/>
<rect x="635.6" y="467.2" width="4.0" height="5.2" fill="#ef4422"/>
<rect x="639.5" y="467.2" width="4.0" height="5.2" fill="#f9e015"/>
<rect x="624.1" y="472.2" width="4.0" height="5.2" fill="#72c5a2"/>
<rect x="627.9" y="472.2" width="4.0" height="5.2" fill="#2cb6ea"/>
<rect x="631.8" y="472.2" width="4.0" height="5.2" fill="#fbb416"/>
<rect x="635.6" y="472.2" width="4.0" height="5.2" fill="#c6da33"/>
<rect x="608.7" y="477.2" width="15.6" height="5.2" fill="#abd14c"/>
<rect x="624.1" y="477.2" width="4.0" height="5.2" fill="#e7e620"/>
<rect x="627.9" y="477.2" width="4.0" height="5.2" fill="#f8a01a"/>
<rect x="631.8" y="477.2" width="4.0" height="5.2" fill="#33a2dd"/>
<rect x="635.6" y="477.2" width="4.0" height="5.2" fill="#64c4ba"/>
<rect x="639.5" y="477.2" width="15.5" height="5.2" fill="#80c68a"/>
<rect x="604.8" y="482.2" width="7.9" height="5.2" fill="#abd14c"/>
<rect x="612.5" y="482.2" width="4.0" height="5.2" fill="#c6da33"/>
<rect x="616.4" y="482.2" width="4.0" height="5.2" fill="#e7e620"/>
<rect x="620.2" y="482.2" width="4.0" height="5.2" fill="#f47420"/>
<rect x="624.1" y="482.2" width="4.0" height="5.2" fill="#cf1d23"/>
<rect x="627.9" y="482.2" width="4.0" height="5.2" fill="#c6da33"/>
<rect x="631.8" y="482.2" width="4.0" height="5.2" fill="#72c5a2"/>
<rect x="635.6" y="482.2" width="4.0" height="5.2" fill="#324da5"/>
<rect x="639.5" y="482.2" width="4.0" height="5.2" fill="#3b7ec3"/>
<rect x="643.3" y="482.2" width="4.0" height="5.2" fill="#64c4ba"/>
<rect x="647.2" y="482.2" width="4.0" height="5.2" fill="#72c5a2"/>
<rect x="651.0" y="482.2" width="7.8" height="5.2" fill="#80c68a"/>
<rect x="601.0" y="487.3" width="7.9" height="5.2" fill="#abd14c"/>
<rect x="608.7" y="487.3" width="4.0" height="5.2" fill="#e7e620"/>
<rect x="612.5" y="487.3" width="4.0" height="5.2" fill="#fbb416"/>
<rect x="616.4" y="487.3" width="4.0" height="5.2" fill="#b91c21"/>
<rect x="620.2" y="487.3" width="4.0" height="5.2" fill="#80181a"/>
<rect x="624.1" y="487.3" width="4.0" height="5.2" fill="#f9e015"/>
<rect x="635.6" y="487.3" width="4.0" height="5.2" fill="#64c4ba"/>
<rect x="639.5" y="487.3" width="4.0" height="5.2" fill="#283089"/>
<rect x="643.3" y="487.3" width="4.0" height="5.2" fill="#2e439f"/>
<rect x="647.2" y="487.3" width="4.0" height="5.2" fill="#2cb6ea"/>
<rect x="651.0" y="487.3" width="4.0" height="5.2" fill="#64c4ba"/>
<rect x="654.9" y="487.3" width="7.8" height="5.2" fill="#80c68a"/>
<rect x="597.1" y="492.3" width="7.9" height="5.2" fill="#abd14c"/>
<rect x="604.8" y="492.3" width="4.0" height="5.2" fill="#e7e620"/>
<rect x="608.7" y="492.3" width="4.0" height="5.2" fill="#f47420"/>
<rect x="612.5" y="492.3" width="7.9" height="5.2" fill="#80181a"/>
<rect x="620.2" y="492.3" width="4.0" height="5.2" fill="#fbc914"/>
<rect x="639.5" y="492.3" width="4.0" height="5.2" fill="#34c1e5"/>
<rect x="643.3" y="492.3" width="4.0" height="5.2" fill="#292d81"/>
<rect x="647.2" y="492.3" width="4.0" height="5.2" fill="#283089"/>
<rect x="651.0" y="492.3" width="4.0" height="5.2" fill="#3790d0"/>
<rect x="654.9" y="492.3" width="4.0" height="5.2" fill="#64c4ba"/>
<rect x="658.7" y="492.3" width="7.8" height="5.2" fill="#80c68a"/>
<rect x="593.3" y="497.3" width="7.9" height="5.2" fill="#abd14c"/>
<rect x="601.0" y="497.3" width="4.0" height="5.2" fill="#f9e015"/>
<rect x="604.8" y="497.3" width="4.0" height="5.2" fill="#f15c21"/>
<rect x="608.7" y="497.3" width="7.9" height="5.2" fill="#80181a"/>
<rect x="616.4" y="497.3" width="4.0" height="5.2" fill="#f8a01a"/>
<rect x="620.2" y="497.3" width="4.0" height="5.2" fill="#abd14c"/>
<rect x="639.5" y="497.3" width="4.0" height="5.2" fill="#80c68a"/>
<rect x="643.3" y="497.3" width="4.0" height="5.2" fill="#2cb6ea"/>
<rect x="647.2" y="497.3" width="7.8" height="5.2" fill="#2a2a7a"/>
<rect x="654.9" y="497.3" width="4.0" height="5.2" fill="#3b7ec3"/>
<rect x="658.7" y="497.3" width="4.0" height="5.2" fill="#64c4ba"/>
<rect x="662.5" y="497.3" width="7.8" height="5.2" fill="#80c68a"/>
<rect x="589.4" y="502.4" width="7.9" height="5.2" fill="#abd14c"/>
<rect x="597.1" y="502.4" width="4.0" height="5.2" fill="#f9e015"/>
<rect x="601.0" y="502.4" width="4.0" height="5.2" fill="#ef4422"/>
<rect x="604.8" y="502.4" width="7.9" height="5.2" fill="#80181a"/>
<rect x="612.5" y="502.4" width="4.0" height="5.2" fill="#f68c1e"/>
<rect x="616.4" y="502.4" width="4.0" height="5.2" fill="#c6da33"/>
<rect x="643.3" y="502.4" width="4.0" height="5.2" fill="#72c5a2"/>
<rect x="647.2" y="502.4" width="4.0" height="5.2" fill="#33a2dd"/>
<rect x="651.0" y="502.4" width="4.0" height="5.2" fill="#292d81"/>
<rect x="654.9" y="502.4" width="4.0" height="5.2" fill="#2a2a7a"/>
<rect x="658.7" y="502.4" width="4.0" height="5.2" fill="#3e6cb6"/>
<rect x="662.5" y="502.4" width="4.0" height="5.2" fill="#4dc3d0"/>
<rect x="666.4" y="502.4" width="7.8" height="5.2" fill="#80c68a"/>
<rect x="589.4" y="507.4" width="4.0" height="5.2" fill="#abd14c"/>
<rect x="593.3" y="507.4" width="4.0" height="5.2" fill="#f9e015"/>
<rect x="597.1" y="507.4" width="4.0" height="5.2" fill="#ed2b23"/>
<rect x="601.0" y="507.4" width="7.9" height="5.2" fill="#80181a"/>
<rect x="608.7" y="507.4" width="4.0" height="5.2" fill="#f68c1e"/>
<rect x="612.5" y="507.4" width="4.0" height="5.2" fill="#c6da33"/>
<rect x="616.4" y="507.4" width="4.0" height="5.2" fill="#abd14c"/>
<rect x="643.3" y="507.4" width="4.0" height="5.2" fill="#80c68a"/>
<rect x="647.2" y="507.4" width="4.0" height="5.2" fill="#72c5a2"/>
<rect x="651.0" y="507.4" width="4.0" height="5.2" fill="#33a2dd"/>
<rect x="654.9" y="507.4" width="4.0" height="5.2" fill="#283089"/>
<rect x="658.7" y="507.4" width="4.0" height="5.2" fill="#2a2a7a"/>
<rect x="662.5" y="507.4" width="4.0" height="5.2" fill="#3a62b0"/>
<rect x="666.4" y="507.4" width="4.0" height="5.2" fill="#64c4ba"/>
<rect x="670.2" y="507.4" width="4.0" height="5.2" fill="#80c68a"/>
<rect x="585.6" y="512.4" width="4.0" height="5.2" fill="#abd14c"/>
<rect x="589.4" y="512.4" width="4.0" height="5.2" fill="#e7e620"/>
<rect x="593.3" y="512.4" width="4.0" height="5.2" fill="#ef4422"/>
<rect x="597.1" y="512.4" width="4.0" height="5.2" fill="#80181a"/>
<rect x="601.0" y="512.4" width="4.0" height="5.2" fill="#9d1a1e"/>
<rect x="604.8" y="512.4" width="4.0" height="5.2" fill="#f8a01a"/>
<rect x="608.7" y="512.4" width="4.0" height="5.2" fill="#e7e620"/>
<rect x="612.5" y="512.4" width="4.0" height="5.2" fill="#abd14c"/>
<rect x="647.2" y="512.4" width="4.0" height="5.2" fill="#80c68a"/>
<rect x="651.0" y="512.4" width="4.0" height="5.2" fill="#64c4ba"/>
<rect x="654.9" y="512.4" width="4.0" height="5.2" fill="#2cb6ea"/>
<rect x="658.7" y="512.4" width="4.0" height="5.2" fill="#2b3b98"/>
<rect x="662.5" y="512.4" width="4.0" height="5.2" fill="#2a2a7a"/>
<rect x="666.4" y="512.4" width="4.0" height="5.2" fill="#3a62b0"/>
<rect x="670.2" y="512.4" width="4.0" height="5.2" fill="#64c4ba"/>
<rect x="674.1" y="512.4" width="4.0" height="5.2" fill="#80c68a"/>
<rect x="585.6" y="517.5" width="4.0" height="5.2" fill="#c6da33"/>
<rect x="589.4" y="517.5" width="4.0" height="5.2" fill="#ef4422"/>
<rect x="593.3" y="517.5" width="4.0" height="5.2" fill="#80181a"/>
<rect x="597.1" y="517.5" width="4.0" height="5.2" fill="#b91c21"/>
<rect x="601.0" y="517.5" width="4.0" height="5.2" fill="#fbb416"/>
<rect x="604.8" y="517.5" width="4.0" height="5.2" fill="#c6da33"/>
<rect x="608.7" y="517.5" width="4.0" height="5.2" fill="#abd14c"/>
<rect x="651.0" y="517.5" width="4.0" height="5.2" fill="#80c68a"/>
<rect x="654.9" y="517.5" width="4.0" height="5.2" fill="#72c5a2"/>
<rect x="658.7" y="517.5" width="4.0" height="5.2" fill="#34c1e5"/>
<rect x="662.5" y="517.5" width="4.0" height="5.2" fill="#2e439f"/>
<rect x="666.4" y="517.5" width="4.0" height="5.2" fill="#2a2a7a"/>
<rect x="670.2" y="517.5" width="4.0" height="5.2" fill="#3e6cb6"/>
<rect x="674.1" y="517.5" width="4.0" height="5.2" fill="#72c5a2"/>
<rect x="581.7" y="522.5" width="4.0" height="5.2" fill="#abd14c"/>
<rect x="585.6" y="522.5" width="4.0" height="5.2" fill="#f68c1e"/>
<rect x="589.4" y="522.5" width="4.0" height="5.2" fill="#80181a"/>
<rect x="593.3" y="522.5" width="4.0" height="5.2" fill="#b91c21"/>
<rect x="597.1" y="522.5" width="4.0" height="5.2" fill="#fbc914"/>
<rect x="601.0" y="522.5" width="4.0" height="5.2" fill="#c6da33"/>
<rect x="604.8" y="522.5" width="7.9" height="5.2" fill="#abd14c"/>
<rect x="651.0" y="522.5" width="7.8" height="5.2" fill="#80c68a"/>
<rect x="658.7" y="522.5" width="4.0" height="5.2" fill="#72c5a2"/>
<rect x="662.5" y="522.5" width="4.0" height="5.2" fill="#34c1e5"/>
<rect x="666.4" y="522.5" width="4.0" height="5.2" fill="#2e439f"/>
<rect x="670.2" y="522.5" width="4.0" height="5.2" fill="#2a2a7a"/>
<rect x="674.1" y="522.5" width="4.0" height="5.2" fill="#3790d0"/>
<rect x="677.9" y="522.5" width="4.0" height="5.2" fill="#80c68a"/>
<rect x="577.9" y="527.5" width="4.0" height="5.2" fill="#abd14c"/>
<rect x="581.7" y="527.5" width="4.0" height="5.2" fill="#fbb416"/>
<rect x="585.6" y="527.5" width="4.0" height="5.2" fill="#80181a"/>
<rect x="589.4" y="527.5" width="4.0" height="5.2" fill="#b91c21"/>
<rect x="593.3" y="527.5" width="4.0" height="5.2" fill="#fbc914"/>
<rect x="597.1" y="527.5" width="4.0" height="5.2" fill="#c6da33"/>
<rect x="601.0" y="527.5" width="4.0" height="5.2" fill="#abd14c"/>
<rect x="658.7" y="527.5" width="4.0" height="5.2" fill="#80c68a"/>
<rect x="662.5" y="527.5" width="4.0" height="5.2" fill="#72c5a2"/>
<rect x="666.4" y="527.5" width="4.0" height="5.2" fill="#34c1e5"/>
<rect x="670.2" y="527.5" width="4.0" height="5.2" fill="#2e439f"/>
<rect x="674.1" y="527.5" width="4.0" height="5.2" fill="#283089"/>
<rect x="677.9" y="527.5" width="4.0" height="5.2" fill="#2cb6ea"/>
<rect x="681.7" y="527.5" width="4.0" height="5.2" fill="#80c68a"/>
<rect x="577.9" y="532.5" width="4.0" height="5.2" fill="#f9e015"/>
<rect x="581.7" y="532.5" width="4.0" height="5.2" fill="#80181a"/>
<rect x="585.6" y="532.5" width="4.0" height="5.2" fill="#e21e24"/>
<rect x="589.4" y="532.5" width="4.0" height="5.2" fill="#fbc914"/>
<rect x="593.3" y="532.5" width="4.0" height="5.2" fill="#c6da33"/>
<rect x="597.1" y="532.5" width="4.0" height="5.2" fill="#abd14c"/>
<rect x="662.5" y="532.5" width="4.0" height="5.2" fill="#80c68a"/>
<rect x="666.4" y="532.5" width="4.0" height="5.2" fill="#72c5a2"/>
<rect x="670.2" y="532.5" width="4.0" height="5.2" fill="#4dc3d0"/>
<rect x="674.1" y="532.5" width="4.0" height="5.2" fill="#3658aa"/>
<rect x="677.9" y="532.5" width="4.0" height="5.2" fill="#293590"/>
<rect x="681.7" y="532.5" width="4.0" height="5.2" fill="#4dc3d0"/>
<rect x="574.0" y="537.6" width="4.0" height="5.2" fill="#c6da33"/>
<rect x="577.9" y="537.6" width="4.0" height="5.2" fill="#9d1a1e"/>
<rect x="581.7" y="537.6" width="4.0" height="5.2" fill="#ed2b23"/>
<rect x="585.6" y="537.6" width="4.0" height="5.2" fill="#f9e015"/>
<rect x="589.4" y="537.6" width="4.0" height="5.2" fill="#c6da33"/>
<rect x="593.3" y="537.6" width="4.0" height="5.2" fill="#abd14c"/>
<rect x="666.4" y="537.6" width="4.0" height="5.2" fill="#80c68a"/>
<rect x="670.2" y="537.6" width="4.0" height="5.2" fill="#72c5a2"/>
<rect x="674.1" y="537.6" width="4.0" height="5.2" fill="#64c4ba"/>
<rect x="677.9" y="537.6" width="4.0" height="5.2" fill="#3a62b0"/>
<rect x="681.7" y="537.6" width="4.0" height="5.2" fill="#2b3b98"/>
<rect x="685.6" y="537.6" width="4.0" height="5.2" fill="#72c5a2"/>
<rect x="570.1" y="542.6" width="4.0" height="5.2" fill="#abd14c"/>
<rect x="574.0" y="542.6" width="4.0" height="5.2" fill="#b91c21"/>
<rect x="577.9" y="542.6" width="4.0" height="5.2" fill="#f15c21"/>
<rect x="581.7" y="542.6" width="4.0" height="5.2" fill="#c6da33"/>
<rect x="585.6" y="542.6" width="7.9" height="5.2" fill="#abd14c"/>
<rect x="670.2" y="542.6" width="7.8" height="5.2" fill="#80c68a"/>
<rect x="677.9" y="542.6" width="4.0" height="5.2" fill="#72c5a2"/>
<rect x="681.7" y="542.6" width="4.0" height="5.2" fill="#3b7ec3"/>
<rect x="685.6" y="542.6" width="4.0" height="5.2" fill="#324da5"/>
<rect x="689.4" y="542.6" width="4.0" height="5.2" fill="#80c68a"/>
<rect x="566.3" y="547.6" width="4.0" height="5.2" fill="#abd14c"/>
<rect x="570.1" y="547.6" width="4.0" height="5.2" fill="#e21e24"/>
<rect x="574.0" y="547.6" width="4.0" height="5.2" fill="#f68c1e"/>
<rect x="577.9" y="547.6" width="4.0" height="5.2" fill="#c6da33"/>
<rect x="581.7" y="547.6" width="4.0" height="5.2" fill="#abd14c"/>
<rect x="677.9" y="547.6" width="7.8" height="5.2" fill="#80c68a"/>
<rect x="685.6" y="547.6" width="4.0" height="5.2" fill="#33a2dd"/>
<rect x="689.4" y="547.6" width="4.0" height="5.2" fill="#3658aa"/>
<rect x="693.3" y="547.6" width="4.0" height="5.2" fill="#80c68a"/>
<rect x="562.4" y="552.7" width="4.0" height="5.2" fill="#abd14c"/>
<rect x="566.3" y="552.7" width="4.0" height="5.2" fill="#ed2b23"/>
<rect x="570.1" y="552.7" width="4.0" height="5.2" fill="#f68c1e"/>
<rect x="574.0" y="552.7" width="4.0" height="5.2" fill="#abd14c"/>
<rect x="685.6" y="552.7" width="4.0" height="5.2" fill="#80c68a"/>
<rect x="689.4" y="552.7" width="4.0" height="5.2" fill="#2cb6ea"/>
<rect x="693.3" y="552.7" width="4.0" height="5.2" fill="#3e6cb6"/>
<rect x="697.1" y="552.7" width="4.0" height="5.2" fill="#80c68a"/>
<rect x="558.6" y="557.7" width="4.0" height="5.2" fill="#abd14c"/>
<rect x="562.4" y="557.7" width="4.0" height="5.2" fill="#ef4422"/>
<rect x="566.3" y="557.7" width="4.0" height="5.2" fill="#f68c1e"/>
<rect x="570.1" y="557.7" width="4.0" height="5.2" fill="#abd14c"/>
<rect x="689.4" y="557.7" width="4.0" height="5.2" fill="#80c68a"/>
<rect x="693.3" y="557.7" width="4.0" height="5.2" fill="#2cb6ea"/>
<rect x="697.1" y="557.7" width="4.0" height="5.2" fill="#3b7ec3"/>
<rect x="701.0" y="557.7" width="4.0" height="5.2" fill="#80c68a"/>
<rect x="554.7" y="562.7" width="4.0" height="5.2" fill="#abd14c"/>
<rect x="558.6" y="562.7" width="7.9" height="5.2" fill="#f47420"/>
<rect x="566.3" y="562.7" width="4.0" height="5.2" fill="#abd14c"/>
<rect x="693.3" y="562.7" width="4.0" height="5.2" fill="#80c68a"/>
<rect x="697.1" y="562.7" width="4.0" height="5.2" fill="#2cb6ea"/>
<rect x="701.0" y="562.7" width="4.0" height="5.2" fill="#3790d0"/>
<rect x="704.8" y="562.7" width="4.0" height="5.2" fill="#80c68a"/>
<rect x="550.9" y="567.8" width="4.0" height="5.2" fill="#abd14c"/>
<rect x="554.7" y="567.8" width="4.0" height="5.2" fill="#f68c1e"/>
<rect x="558.6" y="567.8" width="4.0" height="5.2" fill="#f47420"/>
<rect x="562.4" y="567.8" width="4.0" height="5.2" fill="#abd14c"/>
<rect x="697.1" y="567.8" width="4.0" height="5.2" fill="#80c68a"/>
<rect x="701.0" y="567.8" width="4.0" height="5.2" fill="#2cb6ea"/>
<rect x="704.8" y="567.8" width="4.0" height="5.2" fill="#33a2dd"/>
<rect x="550.9" y="572.8" width="4.0" height="5.2" fill="#f8a01a"/>
<rect x="554.7" y="572.8" width="4.0" height="5.2" fill="#f47420"/>
<rect x="558.6" y="572.8" width="4.0" height="5.2" fill="#abd14c"/>
<rect x="704.8" y="572.8" width="7.8" height="5.2" fill="#2cb6ea"/>
<rect x="547.0" y="577.8" width="4.0" height="5.2" fill="#fbb416"/>
<rect x="550.9" y="577.8" width="4.0" height="5.2" fill="#f47420"/>
<rect x="554.7" y="577.8" width="4.0" height="5.2" fill="#abd14c"/>
<rect x="708.6" y="577.8" width="4.0" height="5.2" fill="#2cb6ea"/>
<rect x="712.5" y="577.8" width="4.0" height="5.2" fill="#34c1e5"/>
<rect x="543.2" y="582.9" width="4.0" height="5.2" fill="#f9e015"/>
<rect x="547.0" y="582.9" width="4.0" height="5.2" fill="#f68c1e"/>
<rect x="550.9" y="582.9" width="4.0" height="5.2" fill="#abd14c"/>
<rect x="654.9" y="582.9" width="11.7" height="5.2" fill="#abd14c"/>
<rect x="712.5" y="582.9" width="4.0" height="5.2" fill="#2cb6ea"/>
<rect x="716.3" y="582.9" width="4.0" height="5.2" fill="#4dc3d0"/>
<rect x="539.3" y="587.9" width="4.0" height="5.2" fill="#e7e620"/>
<rect x="543.2" y="587.9" width="4.0" height="5.2" fill="#f68c1e"/>
<rect x="547.0" y="587.9" width="4.0" height="5.2" fill="#abd14c"/>
<rect x="585.6" y="587.9" width="31.0" height="5.2" fill="#80c68a"/>
<rect x="643.3" y="587.9" width="38.6" height="5.2" fill="#abd14c"/>
<rect x="716.3" y="587.9" width="4.0" height="5.2" fill="#34c1e5"/>
<rect x="720.2" y="587.9" width="4.0" height="5.2" fill="#64c4ba"/>
<rect x="535.5" y="592.9" width="4.0" height="5.2" fill="#e7e620"/>
<rect x="539.3" y="592.9" width="4.0" height="5.2" fill="#f8a01a"/>
<rect x="543.2" y="592.9" width="4.0" height="5.2" fill="#abd14c"/>
<rect x="581.7" y="592.9" width="42.5" height="5.2" fill="#80c68a"/>
<rect x="635.6" y="592.9" width="19.4" height="5.2" fill="#abd14c"/>
<rect x="654.9" y="592.9" width="15.5" height="5.2" fill="#c6da33"/>
<rect x="670.2" y="592.9" width="15.5" height="5.2" fill="#abd14c"/>
<rect x="720.2" y="592.9" width="4.0" height="5.2" fill="#34c1e5"/>
<rect x="724.0" y="592.9" width="4.0" height="5.2" fill="#72c5a2"/>
<rect x="531.6" y="597.9" width="4.0" height="5.2" fill="#c6da33"/>
<rect x="535.5" y="597.9" width="4.0" height="5.2" fill="#f8a01a"/>
<rect x="539.3" y="597.9" width="4.0" height="5.2" fill="#abd14c"/>
<rect x="577.9" y="597.9" width="19.4" height="5.2" fill="#80c68a"/>
<rect x="597.1" y="597.9" width="27.1" height="5.2" fill="#72c5a2"/>
<rect x="624.1" y="597.9" width="4.0" height="5.2" fill="#80c68a"/>
<rect x="635.6" y="597.9" width="4.0" height="5.2" fill="#abd14c"/>
<rect x="639.5" y="597.9" width="4.0" height="5.2" fill="#c6da33"/>
<rect x="643.3" y="597.9" width="11.7" height="5.2" fill="#e7e620"/>
<rect x="654.9" y="597.9" width="19.4" height="5.2" fill="#c6da33"/>
<rect x="674.1" y="597.9" width="15.5" height="5.2" fill="#abd14c"/>
<rect x="724.0" y="597.9" width="4.0" height="5.2" fill="#34c1e5"/>
<rect x="727.8" y="597.9" width="4.0" height="5.2" fill="#72c5a2"/>
<rect x="527.8" y="603.0" width="4.0" height="5.2" fill="#c6da33"/>
<rect x="531.6" y="603.0" width="4.0" height="5.2" fill="#fbb416"/>
<rect x="535.5" y="603.0" width="4.0" height="5.2" fill="#abd14c"/>
<rect x="577.9" y="603.0" width="15.6" height="5.2" fill="#80c68a"/>
<rect x="593.3" y="603.0" width="7.9" height="5.2" fill="#72c5a2"/>
<rect x="601.0" y="603.0" width="4.0" height="5.2" fill="#64c4ba"/>
<rect x="604.8" y="603.0" width="4.0" height="5.2" fill="#34c1e5"/>
<rect x="608.7" y="603.0" width="4.0" height="5.2" fill="#2cb6ea"/>
<rect x="612.5" y="603.0" width="4.0" height="5.2" fill="#34c1e5"/>
<rect x="616.4" y="603.0" width="4.0" height="5.2" fill="#4dc3d0"/>
<rect x="620.2" y="603.0" width="4.0" height="5.2" fill="#72c5a2"/>
<rect x="624.1" y="603.0" width="4.0" height="5.2" fill="#80c68a"/>
<rect x="635.6" y="603.0" width="4.0" height="5.2" fill="#abd14c"/>
<rect x="639.5" y="603.0" width="4.0" height="5.2" fill="#c6da33"/>
<rect x="643.3" y="603.0" width="4.0" height="5.2" fill="#f9e015"/>
<rect x="647.2" y="603.0" width="4.0" height="5.2" fill="#fbc914"/>
<rect x="651.0" y="603.0" width="4.0" height="5.2" fill="#fbb416"/>
<rect x="654.9" y="603.0" width="4.0" height="5.2" fill="#fbc914"/>
<rect x="658.7" y="603.0" width="4.0" height="5.2" fill="#f9e015"/>
<rect x="662.5" y="603.0" width="4.0" height="5.2" fill="#e7e620"/>
<rect x="666.4" y="603.0" width="7.8" height="5.2" fill="#c6da33"/>
<rect x="674.1" y="603.0" width="11.7" height="5.2" fill="#abd14c"/>
<rect x="727.8" y="603.0" width="4.0" height="5.2" fill="#4dc3d0"/>
<rect x="731.7" y="603.0" width="4.0" height="5.2" fill="#80c68a"/>
<rect x="523.9" y="608.0" width="4.0" height="5.2" fill="#abd14c"/>
<rect x="527.8" y="608.0" width="4.0" height="5.2" fill="#fbc914"/>
<rect x="531.6" y="608.0" width="4.0" height="5.2" fill="#abd14c"/>
<rect x="581.7" y="608.0" width="7.9" height="5.2" fill="#80c68a"/>
<rect x="589.4" y="608.0" width="4.0" height="5.2" fill="#72c5a2"/>
<rect x="593.3" y="608.0" width="4.0" height="5.2" fill="#64c4ba"/>
<rect x="597.1" y="608.0" width="4.0" height="5.2" fill="#2cb6ea"/>
<rect x="601.0" y="608.0" width="4.0" height="5.2" fill="#33a2dd"/>
<rect x="604.8" y="608.0" width="4.0" height="5.2" fill="#3790d0"/>
<rect x="608.7" y="608.0" width="4.0" height="5.2" fill="#2cb6ea"/>
<rect x="612.5" y="608.0" width="4.0" height="5.2" fill="#4dc3d0"/>
<rect x="616.4" y="608.0" width="4.0" height="5.2" fill="#72c5a2"/>
<rect x="620.2" y="608.0" width="4.0" height="5.2" fill="#80c68a"/>
<rect x="639.5" y="608.0" width="4.0" height="5.2" fill="#abd14c"/>
<rect x="643.3" y="608.0" width="4.0" height="5.2" fill="#c6da33"/>
<rect x="647.2" y="608.0" width="4.0" height="5.2" fill="#f9e015"/>
<rect x="651.0" y="608.0" width="4.0" height="5.2" fill="#fbb416"/>
<rect x="654.9" y="608.0" width="7.8" height="5.2" fill="#f68c1e"/>
<rect x="662.5" y="608.0" width="4.0" height="5.2" fill="#f8a01a"/>
<rect x="666.4" y="608.0" width="4.0" height="5.2" fill="#fbc914"/>
<rect x="670.2" y="608.0" width="4.0" height="5.2" fill="#e7e620"/>
<rect x="674.1" y="608.0" width="11.7" height="5.2" fill="#abd14c"/>
<rect x="731.7" y="608.0" width="4.0" height="5.2" fill="#4dc3d0"/>
<rect x="735.5" y="608.0" width="4.0" height="5.2" fill="#80c68a"/>
<rect x="520.1" y="613.0" width="4.0" height="5.2" fill="#abd14c"/>
<rect x="523.9" y="613.0" width="4.0" height="5.2" fill="#f9e015"/>
<rect x="527.8" y="613.0" width="4.0" height="5.2" fill="#abd14c"/>
<rect x="581.7" y="613.0" width="4.0" height="5.2" fill="#80c68a"/>
<rect x="585.6" y="613.0" width="4.0" height="5.2" fill="#72c5a2"/>
<rect x="589.4" y="613.0" width="4.0" height="5.2" fill="#64c4ba"/>
<rect x="593.3" y="613.0" width="11.7" height="5.2" fill="#34c1e5"/>
<rect x="604.8" y="613.0" width="4.0" height="5.2" fill="#64c4ba"/>
<rect x="608.7" y="613.0" width="4.0" height="5.2" fill="#72c5a2"/>
<rect x="612.5" y="613.0" width="4.0" height="5.2" fill="#80c68a"/>
<rect x="643.3" y="613.0" width="7.8" height="5.2" fill="#abd14c"/>
<rect x="651.0" y="613.0" width="4.0" height="5.2" fill="#c6da33"/>
<rect x="654.9" y="613.0" width="4.0" height="5.2" fill="#f9e015"/>
<rect x="658.7" y="613.0" width="4.0" height="5.2" fill="#fbc914"/>
<rect x="662.5" y="613.0" width="4.0" height="5.2" fill="#f8a01a"/>
<rect x="666.4" y="613.0" width="4.0" height="5.2" fill="#fbb416"/>
<rect x="670.2" y="613.0" width="4.0" height="5.2" fill="#fbc914"/>
<rect x="674.1" y="613.0" width="4.0" height="5.2" fill="#e7e620"/>
<rect x="677.9" y="613.0" width="7.8" height="5.2" fill="#abd14c"/>
<rect x="735.5" y="613.0" width="4.0" height="5.2" fill="#64c4ba"/>
<rect x="739.4" y="613.0" width="4.0" height="5.2" fill="#80c68a"/>
<rect x="520.1" y="618.1" width="4.0" height="5.2" fill="#f9e015"/>
<rect x="577.9" y="618.1" width="7.9" height="5.2" fill="#80c68a"/>
<rect x="585.6" y="618.1" width="11.7" height="5.2" fill="#72c5a2"/>
<rect x="597.1" y="618.1" width="7.9" height="5.2" fill="#80c68a"/>
<rect x="654.9" y="618.1" width="7.8" height="5.2" fill="#abd14c"/>
<rect x="662.5" y="618.1" width="4.0" height="5.2" fill="#c6da33"/>
<rect x="666.4" y="618.1" width="11.7" height="5.2" fill="#e7e620"/>
<rect x="677.9" y="618.1" width="4.0" height="5.2" fill="#c6da33"/>
<rect x="681.7" y="618.1" width="4.0" height="5.2" fill="#abd14c"/>
<rect x="739.4" y="618.1" width="4.0" height="5.2" fill="#64c4ba"/>
<rect x="516.2" y="623.1" width="4.0" height="5.1" fill="#e7e620"/>
<rect x="670.2" y="623.1" width="15.5" height="5.1" fill="#abd14c"/>
<rect x="743.2" y="623.1" width="4.0" height="5.1" fill="#72c5a2"/>
</g>
<path d="M631.8 409.3 V628" stroke="#c4dca0" stroke-width="0.7" opacity="0.8"/>
<rect x="510.6" y="409.3" width="246.2" height="219" fill="none" stroke="#262626" stroke-width="0.9"/>
<path d="M633.6 628.3 v-3.0 M633.6 409.3 v3.0 M510.6 567.7 h3.0 M756.8 567.7 h-3.0 M510.6 506.8 h3.0 M756.8 506.8 h-3.0 M510.6 445.9 h3.0 M756.8 445.9 h-3.0 " stroke="#262626" stroke-width="0.9" fill="none"/>
<text x="502.9" y="638" font-size="25.4" text-anchor="end" font-weight="normal" fill="#231f20">2.35</text>
<text x="502.9" y="577.1" font-size="25.4" text-anchor="end" font-weight="normal" fill="#231f20">2.4</text>
<text x="502.9" y="516.2" font-size="25.4" text-anchor="end" font-weight="normal" fill="#231f20">2.45</text>
<text x="502.9" y="455.3" font-size="25.4" text-anchor="end" font-weight="normal" fill="#231f20">2.5</text>
<text x="510" y="659.9" font-size="25.4" text-anchor="middle" font-weight="normal" fill="#231f20">-0.5</text>
<text x="633" y="659.9" font-size="25.4" text-anchor="middle" font-weight="normal" fill="#231f20">0</text>
<text x="756" y="659.9" font-size="25.4" text-anchor="middle" font-weight="normal" fill="#231f20">0.5</text>
<text x="605.6" y="694.4" font-size="25.4" fill="#231f20">k<tspan dx="10.7">/k</tspan><tspan dy="12.6" font-size="20.5">0</tspan></text>
<text transform="translate(618.4 712) scale(1 1.24)" font-size="20.5" fill="#231f20">||</text>
<text transform="translate(444.7 518.8) rotate(-90)" font-size="25.0" text-anchor="middle" fill="#231f20">Energy (eV)</text>
<rect x="781.8" y="409.3" width="16.6" height="220.1" fill="url(#jetg)"/>
<rect x="781.8" y="409.3" width="16.6" height="220.1" fill="none" stroke="#3a3a3a" stroke-width="0.7"/>
<text x="804.9" y="418.6" font-size="25.4" text-anchor="start" font-weight="normal" fill="#231f20">0.9</text>
<path d="M798.4 458.2 h-2.6" stroke="#262626" stroke-width="0.8"/>
<text x="804.9" y="467.5" font-size="25.4" text-anchor="start" font-weight="normal" fill="#231f20">0.5</text>
<path d="M798.4 519.4 h-2.6" stroke="#262626" stroke-width="0.8"/>
<text x="804.9" y="528.6" font-size="25.4" text-anchor="start" font-weight="normal" fill="#231f20">0</text>
<path d="M798.4 580.5 h-2.6" stroke="#262626" stroke-width="0.8"/>
<text x="804.9" y="589.8" font-size="25.4" text-anchor="start" font-weight="normal" fill="#231f20">-0.5</text>
<text x="804.9" y="638.7" font-size="25.4" text-anchor="start" font-weight="normal" fill="#231f20">-0.9</text>
<text x="761.5" y="400.3" font-size="23" fill="#231f20"><tspan font-style="italic">ρ</tspan><tspan dy="9.2" dx="-0.5" font-size="20.5" stroke="#231f20" stroke-width="0.5">c</tspan></text>
<text x="428.6" y="411.8" font-size="41.5" text-anchor="start" font-weight="bold" fill="#000">(c)</text>
<linearGradient id="lg1" gradientUnits="userSpaceOnUse" x1="945.7" y1="0" x2="1177.7" y2="0"><stop offset="0.000" stop-color="#abd14c"/><stop offset="0.025" stop-color="#b5d43d"/><stop offset="0.050" stop-color="#c5d933"/><stop offset="0.075" stop-color="#ece81d"/><stop offset="0.100" stop-color="#fbcd15"/><stop offset="0.125" stop-color="#faae17"/><stop offset="0.150" stop-color="#f7911d"/><stop offset="0.175" stop-color="#f5851e"/><stop offset="0.200" stop-color="#f5831f"/><stop offset="0.225" stop-color="#f5801f"/><stop offset="0.250" stop-color="#f68a1e"/><stop offset="0.275" stop-color="#fbc614"/><stop offset="0.300" stop-color="#f8e716"/><stop offset="0.325" stop-color="#d7e029"/><stop offset="0.350" stop-color="#bbd639"/><stop offset="0.375" stop-color="#aed248"/><stop offset="0.400" stop-color="#a2cf59"/><stop offset="0.425" stop-color="#99cc66"/><stop offset="0.450" stop-color="#95cc6b"/><stop offset="0.475" stop-color="#92cb70"/><stop offset="0.500" stop-color="#8fca75"/><stop offset="0.525" stop-color="#8bc97a"/><stop offset="0.550" stop-color="#88c87e"/><stop offset="0.575" stop-color="#85c783"/><stop offset="0.600" stop-color="#81c688"/><stop offset="0.625" stop-color="#76c59c"/><stop offset="0.650" stop-color="#65c4b9"/><stop offset="0.675" stop-color="#31c1e8"/><stop offset="0.700" stop-color="#31a8e1"/><stop offset="0.725" stop-color="#388acc"/><stop offset="0.750" stop-color="#395fae"/><stop offset="0.775" stop-color="#3049a2"/><stop offset="0.800" stop-color="#314ba3"/><stop offset="0.825" stop-color="#314ca4"/><stop offset="0.850" stop-color="#324da4"/><stop offset="0.875" stop-color="#3a62b0"/><stop offset="0.900" stop-color="#3a83c7"/><stop offset="0.925" stop-color="#33a3de"/><stop offset="0.950" stop-color="#3ac1e1"/><stop offset="0.975" stop-color="#61c4bf"/><stop offset="1.000" stop-color="#72c5a2"/></linearGradient><path d="M945.7 628.6 L972.7 591.1 L988.6 572.0 L1002.9 558.7 L1006.1 551.4 L1017.2 543.4 L1029.9 540.3 L1061.7 537.7 L1093.5 540.3 L1106.2 543.4 L1118.2 551.4 L1121.4 558.7 L1137.9 573.6 L1153.8 592.7 L1166.5 610.2 L1177.7 628.6" stroke="url(#lg1)" stroke-width="3.5" fill="none" stroke-linejoin="round" stroke-linecap="butt"/>
<linearGradient id="lg2" gradientUnits="userSpaceOnUse" x1="945.7" y1="0" x2="1178.3" y2="0"><stop offset="0.000" stop-color="#89c87e"/><stop offset="0.025" stop-color="#8bc97a"/><stop offset="0.050" stop-color="#8eca76"/><stop offset="0.075" stop-color="#90ca73"/><stop offset="0.100" stop-color="#93cb6f"/><stop offset="0.125" stop-color="#95cb6b"/><stop offset="0.150" stop-color="#98cc68"/><stop offset="0.175" stop-color="#9dcd61"/><stop offset="0.200" stop-color="#aed247"/><stop offset="0.225" stop-color="#c6da33"/><stop offset="0.250" stop-color="#fad015"/><stop offset="0.275" stop-color="#f5851e"/><stop offset="0.300" stop-color="#ee3623"/><stop offset="0.325" stop-color="#ed2724"/><stop offset="0.350" stop-color="#e81e24"/><stop offset="0.375" stop-color="#e51e24"/><stop offset="0.400" stop-color="#ea1e24"/><stop offset="0.425" stop-color="#ec2224"/><stop offset="0.450" stop-color="#f15821"/><stop offset="0.475" stop-color="#fbcf15"/><stop offset="0.500" stop-color="#75c59d"/><stop offset="0.525" stop-color="#3694d3"/><stop offset="0.550" stop-color="#334fa5"/><stop offset="0.575" stop-color="#2f45a0"/><stop offset="0.600" stop-color="#2d409d"/><stop offset="0.625" stop-color="#2b3c9a"/><stop offset="0.650" stop-color="#2c3d9b"/><stop offset="0.675" stop-color="#2e439f"/><stop offset="0.700" stop-color="#324ea5"/><stop offset="0.725" stop-color="#3c79bf"/><stop offset="0.750" stop-color="#29c0ef"/><stop offset="0.775" stop-color="#6ec5aa"/><stop offset="0.800" stop-color="#80c68a"/><stop offset="0.825" stop-color="#80c68a"/><stop offset="0.850" stop-color="#80c68a"/><stop offset="0.875" stop-color="#80c68a"/><stop offset="0.900" stop-color="#80c68a"/><stop offset="0.925" stop-color="#80c68a"/><stop offset="0.950" stop-color="#80c68a"/><stop offset="0.975" stop-color="#80c68a"/><stop offset="1.000" stop-color="#80c68a"/></linearGradient><path d="M945.7 532.6 L982.2 530.7 L1001.3 526.9 L1012.4 521.2 L1028.3 505.9 L1033.1 504.7 L1042.6 494.2 L1055.3 483.7 L1066.4 483.7 L1074.4 489.4 L1090.3 504.7 L1095.0 505.9 L1109.3 520.6 L1122.1 527.6 L1141.1 530.7 L1178.3 532.6" stroke="url(#lg2)" stroke-width="3.5" fill="none" stroke-linejoin="round" stroke-linecap="butt"/>
<linearGradient id="lg3" gradientUnits="userSpaceOnUse" x1="945.7" y1="0" x2="1178.3" y2="0"><stop offset="0.000" stop-color="#3a62b0"/><stop offset="0.025" stop-color="#385cad"/><stop offset="0.050" stop-color="#3556aa"/><stop offset="0.075" stop-color="#3351a6"/><stop offset="0.100" stop-color="#324da4"/><stop offset="0.125" stop-color="#314ca4"/><stop offset="0.150" stop-color="#314ba3"/><stop offset="0.175" stop-color="#314aa3"/><stop offset="0.200" stop-color="#2f46a0"/><stop offset="0.225" stop-color="#2d409d"/><stop offset="0.250" stop-color="#2b3b99"/><stop offset="0.275" stop-color="#2b3b98"/><stop offset="0.300" stop-color="#2b3a97"/><stop offset="0.325" stop-color="#2b3a97"/><stop offset="0.350" stop-color="#2b3a97"/><stop offset="0.375" stop-color="#2b3996"/><stop offset="0.400" stop-color="#2b3996"/><stop offset="0.425" stop-color="#2b3995"/><stop offset="0.450" stop-color="#2c3f9d"/><stop offset="0.475" stop-color="#388dce"/><stop offset="0.500" stop-color="#a1cf5a"/><stop offset="0.525" stop-color="#f68e1e"/><stop offset="0.550" stop-color="#ed2824"/><stop offset="0.575" stop-color="#e01d23"/><stop offset="0.600" stop-color="#d41d23"/><stop offset="0.625" stop-color="#c81c22"/><stop offset="0.650" stop-color="#c61c22"/><stop offset="0.675" stop-color="#cc1d23"/><stop offset="0.700" stop-color="#d21d23"/><stop offset="0.725" stop-color="#dc1d23"/><stop offset="0.750" stop-color="#e81e24"/><stop offset="0.775" stop-color="#ed2c23"/><stop offset="0.800" stop-color="#f15c21"/><stop offset="0.825" stop-color="#f05222"/><stop offset="0.850" stop-color="#ee3c23"/><stop offset="0.875" stop-color="#ef3f23"/><stop offset="0.900" stop-color="#ef4323"/><stop offset="0.925" stop-color="#f26121"/><stop offset="0.950" stop-color="#f68c1e"/><stop offset="0.975" stop-color="#f68c1e"/><stop offset="1.000" stop-color="#f68c1e"/></linearGradient><path d="M945.7 420.1 L987.0 420.1 L990.2 424.3 L998.1 424.3 L1001.3 429.0 L1006.1 429.7 L1009.2 433.8 L1013.4 434.4 L1016.5 438.6 L1021.0 439.5 L1026.7 448.1 L1029.9 449.7 L1033.7 449.7 L1039.4 458.3 L1044.2 459.2 L1049.0 464.0 L1055.3 468.8 L1066.4 468.8 L1072.8 464.0 L1077.6 459.2 L1082.3 459.2 L1088.7 449.7 L1093.5 449.7 L1101.4 440.2 L1106.2 438.6 L1109.3 434.7 L1113.2 434.1 L1116.3 429.7 L1121.4 429.0 L1124.6 424.3 L1133.2 424.3 L1136.4 420.1 L1178.3 420.1" stroke="url(#lg3)" stroke-width="3.5" fill="none" stroke-linejoin="round" stroke-linecap="butt"/>
<rect x="939.4" y="409.3" width="245.8" height="219" fill="none" stroke="#262626" stroke-width="0.9"/>
<path d="M1062.3 628.3 v-3.0 M1062.3 409.3 v3.0 M939.4 567.7 h3.0 M1185.2 567.7 h-3.0 M939.4 506.8 h3.0 M1185.2 506.8 h-3.0 M939.4 445.9 h3.0 M1185.2 445.9 h-3.0 " stroke="#262626" stroke-width="0.9" fill="none"/>
<text x="932.2" y="638" font-size="25.4" text-anchor="end" font-weight="normal" fill="#231f20">2.35</text>
<text x="932.2" y="577.1" font-size="25.4" text-anchor="end" font-weight="normal" fill="#231f20">2.4</text>
<text x="932.2" y="516.2" font-size="25.4" text-anchor="end" font-weight="normal" fill="#231f20">2.45</text>
<text x="932.2" y="455.3" font-size="25.4" text-anchor="end" font-weight="normal" fill="#231f20">2.5</text>
<text x="939.4" y="659.9" font-size="25.4" text-anchor="middle" font-weight="normal" fill="#231f20">-0.5</text>
<text x="1062.4" y="659.9" font-size="25.4" text-anchor="middle" font-weight="normal" fill="#231f20">0</text>
<text x="1185.4" y="659.9" font-size="25.4" text-anchor="middle" font-weight="normal" fill="#231f20">0.5</text>
<text x="1035" y="694.4" font-size="25.4" fill="#231f20">k<tspan dx="10.7">/k</tspan><tspan dy="12.6" font-size="20.5">0</tspan></text>
<text transform="translate(1047.8 712) scale(1 1.24)" font-size="20.5" fill="#231f20">||</text>
<text transform="translate(873.6 518.8) rotate(-90)" font-size="25.0" text-anchor="middle" fill="#231f20">Energy (eV)</text>
<rect x="1210.4" y="409.3" width="16.8" height="220.1" fill="url(#jetg)"/>
<rect x="1210.4" y="409.3" width="16.8" height="220.1" fill="none" stroke="#3a3a3a" stroke-width="0.7"/>
<text x="1234.5" y="418.6" font-size="25.4" text-anchor="start" font-weight="normal" fill="#231f20">0.9</text>
<path d="M1227.2 458.2 h-2.6" stroke="#262626" stroke-width="0.8"/>
<text x="1234.5" y="467.5" font-size="25.4" text-anchor="start" font-weight="normal" fill="#231f20">0.5</text>
<path d="M1227.2 519.4 h-2.6" stroke="#262626" stroke-width="0.8"/>
<text x="1234.5" y="528.6" font-size="25.4" text-anchor="start" font-weight="normal" fill="#231f20">0</text>
<path d="M1227.2 580.5 h-2.6" stroke="#262626" stroke-width="0.8"/>
<text x="1234.5" y="589.8" font-size="25.4" text-anchor="start" font-weight="normal" fill="#231f20">-0.5</text>
<text x="1234.5" y="638.7" font-size="25.4" text-anchor="start" font-weight="normal" fill="#231f20">-0.9</text>
<text x="1186.5" y="400.3" font-size="23" fill="#231f20"><tspan font-style="italic">ρ</tspan><tspan dy="9.2" dx="-0.5" font-size="20.5" stroke="#231f20" stroke-width="0.5">c</tspan></text>
<text x="847" y="412.5" font-size="41.5" text-anchor="start" font-weight="bold" fill="#000">(d)</text>
<circle cx="958.3" cy="431.3" r="9.6" fill="#fff" stroke="#000" stroke-width="2.3"/><text x="958.3" y="437.3" font-size="17" text-anchor="middle" fill="#000" stroke="#000" stroke-width="0.35">3</text>
<circle cx="955.2" cy="519" r="9.6" fill="#fff" stroke="#000" stroke-width="2.3"/><text x="955.2" y="525" font-size="17" text-anchor="middle" fill="#000" stroke="#000" stroke-width="0.35">2</text>
<circle cx="956.2" cy="589.5" r="9.6" fill="#fff" stroke="#000" stroke-width="2.3"/><text x="956.2" y="595.5" font-size="17" text-anchor="middle" fill="#000" stroke="#000" stroke-width="0.35">1</text>
<path d="M1382.1 620.1 L1394.5 618.1 L1407.6 615.5 L1417.4 611.6 L1427.3 605.0 L1435.5 596.2 L1442.0 584.7 L1448.6 569.0 L1450.9 551.9 L1453.5 535.6 L1457.4 519.2 L1461.7 504.4 L1466.6 486.4 L1470.5 473.3 L1474.8 463.5 L1479.7 456.9 L1483.0 454.6 L1487.9 455.9 L1492.8 453.6 L1505.9 453.0 L1522.3 452.3" stroke="#ee1c25" stroke-width="3.5" fill="none" stroke-linejoin="round"/>
<path d="M1382.1 423.5 L1391.2 421.5 L1401.1 420.9 L1410.9 422.5 L1420.7 426.8 L1430.6 434.0 L1438.7 443.8 L1445.3 455.3 L1448.9 462.8 L1452.2 483.1 L1456.1 497.9 L1460.0 512.6 L1465.0 529.7 L1469.9 546.0 L1474.8 561.8 L1479.0 576.5 L1482.3 584.7 L1487.6 585.4 L1492.8 591.3 L1499.4 598.5 L1505.9 604.4 L1514.1 609.6 L1522.3 611.9" stroke="#ee1c25" stroke-width="3.5" fill="none" stroke-linejoin="round"/>
<path d="M1522.3 611.9 L1530.5 609.6 L1538.7 604.4 L1546.9 597.8 L1552.4 591.3 L1557.0 585.4 L1562.3 583.4 L1566.5 576.5 L1571.4 565.0 L1578.0 548.7 L1582.9 529.0 L1587.8 506.1 L1592.7 473.3 L1594.7 461.8 L1599.3 448.7 L1605.8 437.3 L1614.0 428.4 L1623.9 423.5 L1633.7 420.9 L1646.8 420.2 L1655.0 421.2 L1662.2 423.5" stroke="#3a53a4" stroke-width="3.5" fill="none" stroke-linejoin="round"/>
<path d="M1522.3 452.3 L1538.7 453.0 L1551.8 453.6 L1556.7 455.9 L1561.6 454.6 L1566.5 458.6 L1571.4 466.7 L1576.4 479.8 L1581.3 497.9 L1586.2 519.2 L1590.4 538.8 L1593.1 553.6 L1594.7 568.3 L1599.3 581.4 L1605.8 593.9 L1614.0 603.7 L1623.9 610.3 L1633.7 614.2 L1646.8 617.8 L1662.2 620.1" stroke="#3a53a4" stroke-width="3.5" fill="none" stroke-linejoin="round"/>
<path d="M1382.1 412.7 L1433.8 412.7 L1460.0 413.7 L1473.1 415.0 L1483.0 416.6 L1487.9 416.6 L1492.8 414.6 L1505.9 414.0 L1522.3 413.0" stroke="#3a53a4" stroke-width="3.5" fill="none" stroke-linejoin="round"/>
<path d="M1522.3 413.0 L1542.0 414.0 L1551.8 414.6 L1556.7 416.6 L1561.6 416.6 L1568.2 415.0 L1584.5 413.7 L1610.8 412.7 L1662.2 412.7" stroke="#ee1c25" stroke-width="3.5" fill="none" stroke-linejoin="round"/>
<rect x="1373.2" y="408.7" width="299.2" height="216" fill="none" stroke="#262626" stroke-width="0.9"/>
<path d="M1522.3 624.7 v-3.0 M1522.3 408.7 v3.0 M1373.2 516.6 h3.0 M1672.4 516.6 h-3.0 " stroke="#262626" stroke-width="0.9" fill="none"/>
<text x="1364.8" y="634.1" font-size="25.4" text-anchor="end" font-weight="normal" fill="#231f20">0</text>
<text x="1364.8" y="526" font-size="25.4" text-anchor="end" font-weight="normal" fill="#231f20">0.5</text>
<text x="1364.8" y="418.1" font-size="25.4" text-anchor="end" font-weight="normal" fill="#231f20">1</text>
<text x="1372.2" y="657.4" font-size="25.4" text-anchor="middle" font-weight="normal" fill="#231f20">-0.5</text>
<text x="1521.8" y="657.4" font-size="25.4" text-anchor="middle" font-weight="normal" fill="#231f20">0</text>
<text x="1671.6" y="657.4" font-size="25.4" text-anchor="middle" font-weight="normal" fill="#231f20">0.5</text>
<text x="1494.3" y="696" font-size="25.4" fill="#231f20">k<tspan dx="10.7">/k</tspan><tspan dy="12.6" font-size="20.5">0</tspan></text>
<text transform="translate(1507.1 713.6) scale(1 1.24)" font-size="20.5" fill="#231f20">||</text>
<circle cx="1405.8" cy="437.3" r="9.6" fill="#fff" stroke="#000" stroke-width="2.3"/><text x="1405.8" y="443.3" font-size="17" text-anchor="middle" fill="#000" stroke="#000" stroke-width="0.35">1</text>
<circle cx="1445.5" cy="426.7" r="9.6" fill="#fff" stroke="#000" stroke-width="2.3"/><text x="1445.5" y="432.7" font-size="17" text-anchor="middle" fill="#000" stroke="#000" stroke-width="0.35">3</text>
<circle cx="1397.8" cy="604.6" r="9.6" fill="#fff" stroke="#000" stroke-width="2.3"/><text x="1397.8" y="610.6" font-size="17" text-anchor="middle" fill="#000" stroke="#000" stroke-width="0.35">2</text>
<text transform="translate(1311 516.2) rotate(-90)" font-size="25.5" text-anchor="middle" fill="#231f20"><tspan font-style="italic">ρ</tspan><tspan dy="10" dx="-1" font-size="20">c</tspan><tspan dy="-23.6" dx="-8.5" font-size="20">EP</tspan><tspan dy="13.6" dx="1">/</tspan><tspan font-style="italic">ρ</tspan><tspan dy="10" dx="-1" font-size="20">c</tspan><tspan dy="-23.6" dx="-9.5" font-size="20">P</tspan></text>
<text x="1293.3" y="413.6" font-size="41.5" text-anchor="start" font-weight="bold" fill="#000">(e)</text>
<clipPath id="clipf"><rect x="90.8" y="735.5" width="259.0" height="216.0"/></clipPath>
<g clip-path="url(#clipf)">
<rect x="90.8" y="735.5" width="259.0" height="216.0" fill="#2a2a78"/>
<g filter="url(#blur3)">
<ellipse cx="101" cy="847" rx="17" ry="7" fill="#3f7fc8" opacity="0.75"/>
<ellipse cx="339" cy="847" rx="17" ry="7" fill="#3f7fc8" opacity="0.75"/>
<ellipse cx="166" cy="941" rx="38" ry="12" fill="#3560b4" opacity="0.6"/>
<ellipse cx="274.5" cy="941" rx="38" ry="12" fill="#3560b4" opacity="0.6"/>
<ellipse cx="220" cy="846" rx="34" ry="8" fill="#3560b4" opacity="0.75"/>
<ellipse cx="99" cy="868" rx="10" ry="4" fill="#3560b4" opacity="0.6"/>
<ellipse cx="341" cy="868" rx="10" ry="4" fill="#3560b4" opacity="0.6"/>
<ellipse cx="220" cy="866" rx="30" ry="5" fill="#3258ae" opacity="0.6"/>
</g>
<g filter="url(#blur2)">
<ellipse cx="170" cy="946" rx="22" ry="6" fill="#3a8ad0"/>
<ellipse cx="170" cy="946.5" rx="15" ry="4.2" fill="#36c6f2"/>
<ellipse cx="170" cy="947" rx="7" ry="2.2" fill="#6ad4d8"/>
<ellipse cx="270.5" cy="946" rx="22" ry="6" fill="#3a8ad0"/>
<ellipse cx="270.5" cy="946.5" rx="15" ry="4.2" fill="#36c6f2"/>
<ellipse cx="270.5" cy="947" rx="7" ry="2.2" fill="#6ad4d8"/>
</g>
<g filter="url(#blur1)"><path d="M84.9 765.8l3.5-.2 3.7-.4 3.4-.5 2.7-.4 1.8-.1 2 .2 2.3 .2 2.5 .4 2.5 .6 2.4 .6 2.3 .7 2.2 .9 2.1 .9 2.7 1.4 3 1.4 2.6 1.4 2.4 1.3 2.2 1.5 2.3 1.5 2.5 1.8 2.6 2 3 2.2 3.1 2.3 3.2 2.1 3.1 2 3 2 3.1 1.8 3.1 1.9 3.2 1.9 3.2 1.8 3.2 1.7 3.1 1.8 3.1 1.7 3.1 1.8 3.4 1.9 3.5 2 3.7 1.9 3.8 1.8 3.7 1.5 3.8 1.5 3.9 1.2 4.1 1.1 4.4 .8 4.5 .4 4.4 0 4.5-.4 4.4-.8 4.1-1.1 3.9-1.2 3.8-1.5 3.7-1.5 3.8-1.8 3.7-1.9 3.5-2 3.4-1.9 3.1-1.8 3.1-1.7 3.1-1.8 3.2-1.7 3.2-1.8 3.2-1.9 3.1-1.9 3.1-1.8 3-2 3.1-2 3.2-2.1 3.1-2.3 3-2.2 2.6-2 2.5-1.8 2.3-1.5 2.2-1.5 2.4-1.3 2.6-1.4 3-1.4 2.7-1.4 2.1-.9 2.2-.9 2.3-.7 2.4-.6 2.5-.6 2.5-.4 2.3-.2 2-.2 1.8 .1 2.7 .4 3.4 .5 3.7 .4 3.5 .2 1.8-26.8 -2.6-.2 -2.4-.4 -2.8-.5 -3.4-.7 -4.3-.6 -4.1-.1 -3.8 0 -3.6 .2 -3.6 .3 -3.7 .5 -3.9 .6 -3.9 .9 -4 1.1 -3.5 1.2 -3.1 1 -3.4 1.1 -3.8 1.5 -3.9 1.6 -3.8 1.9 -3.7 2.1 -3.4 2 -3.2 2 -3 1.8 -2.9 1.9 -3.1 1.9 -3 2 -3.1 2 -3 2.1 -2.9 2.2 -2.9 2.1 -3 2.2 -3 2.2 -3 2.3 -2.9 2.3 -2.8 2.1 -2.6 1.9 -2.4 1.7 -2.3 1.5 -2.4 1.3 -2.4 1.2 -2.2 .9 -2 .7 -1.7 .4 -1.7 .3 -1.6 0 -1.7-.3 -1.7-.4 -2-.7 -2.2-.9 -2.4-1.2 -2.4-1.3 -2.3-1.5 -2.4-1.7 -2.6-1.9 -2.8-2.1 -2.9-2.3 -3-2.3 -3-2.2 -3-2.2 -2.9-2.1 -2.9-2.2 -3-2.1 -3.1-2 -3-2 -3.1-1.9 -2.9-1.9 -3-1.8 -3.2-2 -3.4-2 -3.7-2.1 -3.8-1.9 -3.9-1.6 -3.8-1.5 -3.4-1.1 -3.1-1 -3.5-1.2 -4-1.1 -3.9-.9 -3.9-.6 -3.7-.5 -3.6-.3 -3.6-.2 -3.8 0 -4.1 .1 -4.3 .6 -3.4 .7 -2.8 .5 -2.4 .4 -2.6 .2zM84.1 858.1l3-.1 3.1-.1 3.1-.1 3-.1 3.1-.1 3.1-.1 3-.1 3.1-.1 3-.1 3.1-.1 3.1-.2 3-.1 3.1-.1 3.1-.2 3.1-.2 3.1-.2 3.1-.3 3.1-.4 3.6 2.2 3.4 .9 3.4 .2 3.4-.1 3.5-.1 3.6-.3 3.5-.4 3.5-.6 3.4-.6 3.5-.8 3.9-1.3 4.4-1.9 4.1-2.3 3.5-2.5 3-2.3 2.8-2.1 2.8-2 3-2 3.1-2.1 2.7-1.8 2.2-1.4 1.7-.8 1.7-.6 2-.4 2.1-.4 2-.2 1.8 0 2 .2 2.1 .4 2 .4 1.7 .6 1.7 .8 2.2 1.4 2.7 1.8 3.1 2.1 3 2 2.8 2 2.8 2.1 3 2.3 3.5 2.5 4.1 2.3 4.4 1.9 3.9 1.3 3.5 .8 3.4 .6 3.5 .6 3.5 .4 3.6 .3 3.5 .1 3.4 .1 3.4-.2 3.4-.9 3.6-2.2 3.1 .4 3.1 .3 3.1 .2 3.1 .2 3.1 .2 3.1 .1 3 .1 3.1 .2 3.1 .1 3 .1 3.1 .1 3 .1 3.1 .1 3.1 .1 3 .1 3.1 .1 3.1 .1 3 .1 .2-6 -3.1-.1 -3-.1 -3.1-.1 -3-.1 -3.1-.1 -3-.1 -3.1-.1 -3.1-.1 -3-.1 -3.1-.2 -3-.1 -3.1-.1 -3-.2 -3-.1 -3.1-.2 -3-.3 -3-.3 -3-.3 -2.6-3.1 -2.6-1.8 -2.8-1.3 -2.6-1.3 -2.7-1.4 -2.6-1.4 -2.5-1.5 -2.7-1.6 -2.7-1.6 -2.6-1.5 -2.2-1.2 -1.7-1.4 -2-1.8 -2.7-2.1 -3.1-2.4 -3.3-2.5 -3.2-2.3 -3.2-2.1 -3.1-2.1 -3.4-2.3 -3.9-2.4 -4.4-2 -4.4-1.5 -4.1-1 -4-.7 -4.2-.3 -4.2 0 -4.2 .3 -4 .7 -4.1 1 -4.4 1.5 -4.4 2 -3.9 2.4 -3.4 2.3 -3.1 2.1 -3.2 2.1 -3.2 2.3 -3.3 2.5 -3.1 2.4 -2.7 2.1 -2 1.8 -1.7 1.4 -2.2 1.2 -2.6 1.5 -2.7 1.6 -2.7 1.6 -2.5 1.5 -2.6 1.4 -2.7 1.4 -2.6 1.3 -2.8 1.3 -2.6 1.8 -2.6 3.1 -3 .3 -3 .3 -3 .3 -3.1 .2 -3 .1 -3 .2 -3.1 .1 -3 .1 -3.1 .2 -3 .1 -3.1 .1 -3.1 .1 -3 .1 -3.1 .1 -3 .1 -3.1 .1 -3 .1 -3.1 .1zM91.8 964.3l2.7-3.2 2-3.8 3.3-2.8 1.5-4.1 3.6-2.6 1.5-4 3.5-2.5 2-3.6 2.7-2.9 2.8-2.8 1.8-3.6 3.6-2 1.5-3.8 3.3-2 2.2-2.9 2.2-3 3.4-1.7 1.5-3.7 3.5-1.9 2.4-2.8 2.1-3.2 3.5-1.8 1.6-3.4 3.1-2 2.4-2.4 1.8-2.7 2.6-1.5 1.8-2.2 1.8-1.8 1.9-1.5 1.9-1.6 2-1.5 1.9-1.5 1.9-1.5 1.8-1.6 1.8-1.7 1.7-2.2 1.4-3.7 2.4-.6 2.4-.4 2.4-.4 2.4-.4 2.4-.3 2.4-.2 2.5-.2 2.5-.3 2.4-.2 2.5-.1 2.5-.2 2.4-.1 2.5-.1 2.4 0 2.5-.1 2.5 0 2.4 0 2.5 0 2.5 .1 2.4 0 2.5 .1 2.4 .1 2.5 .2 2.5 .1 2.4 .2 2.5 .3 2.5 .2 2.4 .2 2.4 .3 2.4 .4 2.4 .4 2.4 .4 2.4 .6 1.4 3.7 1.7 2.2 1.8 1.7 1.8 1.6 1.9 1.5 1.9 1.5 2 1.5 1.9 1.5 1.8 1.7 1.8 1.9 2.3 1.5 1.8 2.4 2.3 2.2 2.8 2 1.7 3.3 3.4 1.8 2.1 3.1 2.4 2.9 3.5 1.9 1.5 3.7 3.5 1.8 2.2 2.8 2.1 3 3.5 1.9 1.4 3.7 3.4 2 2 3.3 2.6 3 3 2.6 1.7 3.8 3.7 2.3 1.4 4 3.6 2.5 1.8 3.9 2.9 3 2.4 3.6 2.3 3.5 3.1 3 14.8-11.2 -1.9-3.7 -2.7-3.2 -2.6-3.2 -2.1-3.8 -3.2-2.9 -1.4-4.2 -3.5-2.6 -1.4-4.2 -3.3-2.7 -1.9-3.7 -2.5-3.3 -3-2.8 -1.5-4 -3.6-2.1 -1.5-3.9 -2.9-2.6 -2.8-2.6 -1.5-3.7 -3.5-1.7 -1.5-3.7 -2.6-2.6 -2.9-2.5 -1.6-3.6 -3.3-2.1 -2.1-3.3 -2.8-2.8 -3.1-2.3 -2.8-2.7 -3.2-2 -3.1-1.8 -3.1-1.7 -3.1-1.3 -3-1.2 -3.1-.9 -3.2-.6 -3.2-.2 -3.3 .7 -3.6 2.2 -2.6-.6 -2.6-.5 -2.6-.5 -2.6-.3 -2.6-.3 -2.5-.3 -2.5-.2 -2.6-.3 -2.5-.2 -2.5-.1 -2.6-.2 -2.5-.1 -2.6-.1 -2.5-.1 -2.5 0 -2.5 0 -2.6 0 -2.5 0 -2.5 0 -2.5 .1 -2.6 .1 -2.5 .1 -2.6 .2 -2.5 .1 -2.5 .2 -2.6 .3 -2.5 .2 -2.5 .3 -2.6 .3 -2.6 .3 -2.6 .5 -2.6 .5 -2.6 .6 -3.6-2.2 -3.3-.7 -3.2 .2 -3.2 .6 -3.1 .9 -3 1.2 -3.1 1.3 -3.1 1.6 -3.1 1.9 -3.1 2.1 -3.3 2.2 -2.4 3.1 -3.1 2.4 -2.6 2.8 -2 3.4 -3.3 2 -1.5 3.8 -2.9 2.3 -2.6 2.7 -1.5 3.5 -3.5 1.9 -1.5 3.7 -2.9 2.6 -2.8 2.8 -1.6 3.8 -3.6 2.3 -1.4 4.1 -3.2 2.7 -2.1 3.5 -2.3 3.5 -3 3 -1.6 4.1 -3.4 2.7 -1.4 4.2 -3.5 2.7 -1.7 4 -3 2.9 -2.3 3.5zM92.5 753.7l1.9-1.9 1.9-1.8 1.9-1.8 1.9-1.8 1.9-1.8 1.9-1.9 1.9-1.8 2-1.8 1.9-1.8 1.9-1.8 1.9-1.8 -10.8-11.4 -1.9 1.9 -1.9 1.8 -1.9 1.8 -1.9 1.8 -1.9 1.8 -1.9 1.9 -1.9 1.8 -2 1.8 -1.9 1.8 -1.9 1.8 -1.9 1.8zM326.7 733.7l1.9 1.8 1.9 1.8 1.9 1.8 2 1.8 1.9 1.8 1.9 1.9 1.9 1.8 1.9 1.8 1.9 1.8 1.9 1.8 1.9 1.9 10.8-11.4 -1.9-1.8 -1.9-1.8 -1.9-1.8 -2-1.8 -1.9-1.8 -1.9-1.9 -1.9-1.8 -1.9-1.8 -1.9-1.8 -1.9-1.8 -1.9-1.9z" fill="#385dae"/>
<path d="M84.8 764.3l3.4-.2 3.7-.5 3.3-.5 2.7-.3 2-.2 2.1 .2 2.5 .2 2.5 .4 2.6 .5 2.5 .6 2.3 .7 2.3 .9 2.3 1 2.7 1.3 3 1.4 2.7 1.4 2.4 1.3 2.3 1.5 2.4 1.6 2.5 1.8 2.7 2 3 2.2 3.1 2.2 3.2 2.1 3.1 2 3 2 3.1 1.8 3.1 1.9 3.2 1.9 3.1 1.8 3.2 1.8 3.1 1.8 3.1 1.7 3.2 1.9 3.3 1.9 3.5 2 3.6 1.9 3.7 1.7 3.6 1.6 3.7 1.4 3.8 1.2 4 1.1 4.2 .7 4.3 .4 4.4 0 4.3-.4 4.2-.7 4-1.1 3.8-1.2 3.7-1.4 3.6-1.6 3.7-1.7 3.6-1.9 3.5-2 3.3-1.9 3.2-1.9 3.1-1.7 3.1-1.8 3.2-1.8 3.1-1.8 3.2-1.9 3.1-1.9 3.1-1.8 3-2 3.1-2 3.2-2.1 3.1-2.2 3-2.2 2.7-2 2.5-1.8 2.4-1.6 2.3-1.5 2.4-1.3 2.7-1.4 3-1.4 2.7-1.3 2.3-1 2.3-.9 2.3-.7 2.5-.6 2.6-.5 2.5-.4 2.5-.2 2.1-.2 2 .2 2.7 .3 3.3 .5 3.7 .5 3.4 .2 1.6-23.8 -2.7-.2 -2.5-.3 -2.8-.6 -3.3-.7 -4.1-.5 -4.1-.1 -3.6 .1 -3.6 .2 -3.6 .3 -3.6 .4 -3.8 .7 -3.8 .8 -3.9 1.2 -3.4 1.2 -3.1 1 -3.4 1.1 -3.7 1.5 -3.8 1.6 -3.7 1.9 -3.6 2 -3.4 2 -3.2 2 -3 1.9 -2.9 1.9 -3.1 1.9 -3 2 -3.1 2 -3 2.1 -2.9 2.1 -3 2.1 -2.9 2.2 -3 2.2 -3.1 2.2 -2.9 2.3 -2.8 2.1 -2.6 2 -2.5 1.6 -2.5 1.5 -2.4 1.4 -2.5 1.1 -2.3 1 -2.1 .7 -1.9 .5 -1.8 .2 -1.8 0 -1.8-.2 -1.9-.5 -2.1-.7 -2.3-1 -2.5-1.1 -2.4-1.4 -2.5-1.5 -2.5-1.6 -2.6-2 -2.8-2.1 -2.9-2.3 -3.1-2.2 -3-2.2 -2.9-2.2 -3-2.1 -2.9-2.1 -3-2.1 -3.1-2 -3-2 -3.1-1.9 -2.9-1.9 -3-1.9 -3.2-2 -3.4-2 -3.6-2 -3.7-1.9 -3.8-1.6 -3.7-1.5 -3.4-1.1 -3.1-1 -3.4-1.2 -3.9-1.2 -3.8-.8 -3.8-.7 -3.6-.4 -3.6-.3 -3.6-.2 -3.6-.1 -4.1 .1 -4.1 .5 -3.3 .7 -2.8 .6 -2.5 .3 -2.7 .2zM139.1 852.4l3.5 2.8 3.5 1.6 3.4 .4 3.4 0 3.5 0 3.5-.3 3.5-.4 3.4-.5 3.4-.6 3.5-.9 3.8-1.2 4.2-2 4-2.3 3.4-2.4 3-2.3 2.9-2.1 2.9-2 3-2.1 3-2.1 2.8-1.8 2.2-1.4 1.9-.9 1.9-.6 2.1-.5 2.2-.4 2.1-.2 2 0 2.1 .2 2.2 .4 2.1 .5 1.9 .6 1.9 .9 2.2 1.4 2.8 1.8 3 2.1 3 2.1 2.9 2 2.9 2.1 3 2.3 3.4 2.4 4 2.3 4.2 2 3.8 1.2 3.5 .9 3.4 .6 3.4 .5 3.5 .4 3.5 .3 3.5 0 3.4 0 3.4-.4 3.5-1.6 3.5-2.8 0 0 -2.5-3.7 -2.6-2.5 -2.8-1.5 -2.7-1.4 -2.6-1.5 -2.6-1.4 -2.7-1.5 -2.6-1.6 -2.7-1.6 -2.7-1.5 -2.3-1.3 -1.9-1.3 -2.1-1.8 -2.7-2.2 -3.1-2.4 -3.3-2.4 -3.2-2.3 -3.1-2.1 -3.1-2.2 -3.4-2.2 -3.8-2.3 -4.2-2 -4.3-1.5 -4-.9 -3.9-.7 -4-.3 -4.2 0 -4 .3 -3.9 .7 -4 .9 -4.3 1.5 -4.2 2 -3.8 2.3 -3.4 2.2 -3.1 2.2 -3.1 2.1 -3.2 2.3 -3.3 2.4 -3.1 2.4 -2.7 2.2 -2.1 1.8 -1.9 1.3 -2.3 1.3 -2.7 1.5 -2.7 1.6 -2.6 1.6 -2.7 1.5 -2.6 1.4 -2.6 1.5 -2.7 1.4 -2.8 1.5 -2.6 2.5 -2.5 3.7zM90.9 963.7l2.7-3.2 2-3.8 3.3-2.9 1.6-4 3.5-2.7 1.6-3.9 3.3-2.6 2.1-3.5 2.7-3 2.8-2.8 1.9-3.6 3.4-2.1 1.6-3.7 3.2-2.1 2.3-2.9 2.2-3 3.3-1.8 1.6-3.6 3.4-2 2.4-2.8 2.1-3.1 3.4-1.9 1.8-3.4 2.9-2.1 2.5-2.4 1.9-2.7 2.6-1.6 1.8-2.2 1.8-1.8 2-1.6 1.9-1.7 2-1.6 1.9-1.6 2-1.6 1.8-1.7 1.8-2.1 1.5-3.1 1.4-4.3 0 0 -3.6-2.9 -3.5-1.5 -3.2-.1 -3.1 .5 -3.1 .7 -3.1 1.1 -3 1.2 -3.1 1.5 -3 1.9 -3.1 2 -3.2 2.2 -2.4 3 -3.1 2.4 -2.6 2.8 -2 3.3 -3.3 2.1 -1.5 3.6 -2.9 2.4 -2.6 2.7 -1.6 3.5 -3.4 1.9 -1.7 3.6 -2.8 2.6 -2.7 2.8 -1.8 3.8 -3.4 2.3 -1.5 4 -3.1 2.7 -2.2 3.5 -2.3 3.5 -3 3 -1.6 4 -3.4 2.8 -1.5 4.1 -3.4 2.8 -1.7 3.9 -3 3 -2.3 3.4zM261.3 863.2l1.4 4.3 1.5 3.1 1.8 2.1 1.8 1.7 2 1.6 1.9 1.6 2 1.6 1.9 1.6 1.9 1.8 1.8 1.9 2.3 1.6 1.9 2.4 2.3 2.3 2.8 2 1.8 3.2 3.2 2 2.2 3 2.4 2.9 3.4 1.9 1.6 3.6 3.4 1.9 2.3 2.9 2.1 3 3.3 1.9 1.6 3.6 3.3 2.2 2.1 3.3 2.5 3 3 2.7 1.8 3.6 3.5 2.5 1.6 3.9 3.4 2.6 1.9 3.8 2.9 3.1 2.4 3.5 2.3 3.6 3 2.9 13.2-9.8 -2-3.7 -2.7-3.2 -2.6-3.3 -2.1-3.7 -3.1-3 -1.6-4.1 -3.4-2.7 -1.5-4.1 -3.2-2.7 -2-3.7 -2.4-3.2 -2.9-2.9 -1.7-3.8 -3.5-2.3 -1.6-3.8 -2.9-2.6 -2.7-2.6 -1.6-3.5 -3.4-1.9 -1.6-3.5 -2.6-2.7 -2.8-2.5 -1.7-3.5 -3.2-2.2 -2.2-3.2 -2.7-2.7 -3.1-2.4 -2.8-2.6 -3.1-2 -3.1-1.7 -3.1-1.6 -3-1.2 -3.1-1.1 -3.1-.7 -3.1-.5 -3.2 .1 -3.5 1.5 -3.6 2.9zM91.7 752.8l1.9-1.8 1.9-1.8 1.9-1.8 1.9-1.8 2-1.8 1.9-1.9 1.9-1.8 1.9-1.8 1.9-1.8 1.9-1.8 1.9-1.9 -9.2-9.6 -1.9 1.8 -1.9 1.8 -1.9 1.8 -1.9 1.8 -2 1.8 -1.9 1.9 -1.9 1.8 -1.9 1.8 -1.9 1.8 -1.9 1.8 -1.9 1.9zM327.5 732.8l1.9 1.9 1.9 1.8 1.9 1.8 1.9 1.8 1.9 1.8 1.9 1.9 2 1.8 1.9 1.8 1.9 1.8 1.9 1.8 1.9 1.8 9.2-9.6 -1.9-1.9 -1.9-1.8 -1.9-1.8 -1.9-1.8 -1.9-1.8 -1.9-1.9 -2-1.8 -1.9-1.8 -1.9-1.8 -1.9-1.8 -1.9-1.8z" fill="#3986c9"/>
<path d="M84.7 763l3.4-.2 3.6-.4 3.3-.5 2.8-.4 2.1-.2 2.1 .1 2.6 .3 2.6 .4 2.6 .5 2.5 .6 2.5 .7 2.3 .9 2.4 .9 2.7 1.4 3 1.4 2.7 1.3 2.5 1.3 2.5 1.5 2.4 1.6 2.6 1.8 2.7 2.1 3 2.1 3.1 2.2 3.2 2.1 3.1 2 3 2 3.1 1.9 3.1 1.9 3.1 1.9 3.2 1.8 3.2 1.8 3.1 1.8 3 1.8 3.2 1.8 3.3 2 3.4 1.9 3.6 1.9 3.6 1.8 3.6 1.5 3.6 1.4 3.7 1.2 3.9 1.1 4.1 .7 4.2 .4 4.2 0 4.2-.4 4.1-.7 3.9-1.1 3.7-1.2 3.6-1.4 3.6-1.5 3.6-1.8 3.6-1.9 3.4-1.9 3.3-2 3.2-1.8 3-1.8 3.1-1.8 3.2-1.8 3.2-1.8 3.1-1.9 3.1-1.9 3.1-1.9 3-2 3.1-2 3.2-2.1 3.1-2.2 3-2.1 2.7-2.1 2.6-1.8 2.4-1.6 2.5-1.5 2.5-1.3 2.7-1.3 3-1.4 2.7-1.4 2.4-.9 2.3-.9 2.5-.7 2.5-.6 2.6-.5 2.6-.4 2.6-.3 2.1-.1 2.1 .2 2.8 .4 3.3 .5 3.6 .4 3.4 .2 1.4-21.2 -2.7-.2 -2.5-.4 -2.9-.5 -3.3-.7 -4-.5 -4-.1 -3.5 .1 -3.6 .2 -3.5 .3 -3.5 .5 -3.7 .6 -3.8 .9 -3.7 1.1 -3.4 1.2 -3.1 1.1 -3.4 1.1 -3.7 1.4 -3.6 1.7 -3.7 1.8 -3.6 2 -3.3 2.1 -3.2 2 -3 1.9 -2.9 1.8 -3.1 2 -3 1.9 -3.1 2.1 -3 2.1 -3 2.1 -2.9 2.1 -3 2.1 -3 2.2 -3 2.2 -3 2.2 -2.8 2.2 -2.7 1.9 -2.5 1.7 -2.5 1.5 -2.6 1.3 -2.5 1.2 -2.4 1 -2.2 .7 -2 .5 -1.9 .2 -2 0 -1.9-.2 -2-.5 -2.2-.7 -2.4-1 -2.5-1.2 -2.6-1.3 -2.5-1.5 -2.5-1.7 -2.7-1.9 -2.8-2.2 -3-2.2 -3-2.2 -3-2.2 -3-2.1 -2.9-2.1 -3-2.1 -3-2.1 -3.1-2.1 -3-1.9 -3.1-2 -2.9-1.8 -3-1.9 -3.2-2 -3.3-2.1 -3.6-2 -3.7-1.8 -3.6-1.7 -3.7-1.4 -3.4-1.1 -3.1-1.1 -3.4-1.2 -3.7-1.1 -3.8-.9 -3.7-.6 -3.5-.5 -3.5-.3 -3.6-.2 -3.5-.1 -4 .1 -4 .5 -3.3 .7 -2.9 .5 -2.5 .4 -2.7 .2zM142.1 852l3.7 3.1 3.4 .7 3.4 .2 3.5 .1 3.4-.3 3.5-.4 3.5-.5 3.3-.6 3.4-.8 3.8-1.3 4.1-1.9 3.9-2.2 3.4-2.5 3-2.3 2.9-2.1 2.9-2 3-2.1 3-2.1 2.8-1.9 2.4-1.4 2-.9 2-.7 2.2-.5 2.3-.4 2.2-.2 2 0 2.2 .2 2.3 .4 2.2 .5 2 .7 2 .9 2.4 1.4 2.8 1.9 3 2.1 3 2.1 2.9 2 2.9 2.1 3 2.3 3.4 2.5 3.9 2.2 4.1 1.9 3.8 1.3 3.4 .8 3.3 .6 3.5 .5 3.5 .4 3.4 .3 3.5-.1 3.4-.2 3.4-.7 3.7-3.1 0 0 -2.4-4.1 -2.7-1.9 -2.7-1.5 -2.7-1.6 -2.7-1.5 -2.6-1.5 -2.7-1.6 -2.7-1.6 -2.7-1.5 -2.4-1.2 -2-1.4 -2.2-1.9 -2.7-2.2 -3.2-2.4 -3.2-2.4 -3.2-2.2 -3.1-2.1 -3.1-2.2 -3.3-2.2 -3.8-2.2 -4.1-2 -4.1-1.4 -3.9-.9 -3.8-.7 -4-.3 -4 0 -4 .3 -3.8 .7 -3.9 .9 -4.1 1.4 -4.1 2 -3.8 2.2 -3.3 2.2 -3.1 2.2 -3.1 2.1 -3.2 2.2 -3.2 2.4 -3.2 2.4 -2.7 2.2 -2.2 1.9 -2 1.4 -2.4 1.2 -2.7 1.5 -2.7 1.6 -2.7 1.6 -2.6 1.5 -2.7 1.5 -2.7 1.6 -2.7 1.5 -2.7 1.9 -2.4 4.1zM90.2 963.1l2.7-3.2 2-3.7 3.2-2.9 1.7-4 3.4-2.7 1.7-3.9 3.3-2.7 2.1-3.5 2.6-3 2.8-2.9 2-3.4 3.3-2.3 1.7-3.6 3.2-2.2 2.2-2.9 2.2-2.9 3.3-2 1.7-3.4 3.2-2.1 2.5-2.8 2.2-3.1 3.3-2 1.8-3.3 2.9-2.2 2.4-2.4 2-2.6 2.6-1.8 1.8-2.1 1.9-2 2-1.7 2-1.7 2-1.7 1.9-1.7 1.9-1.7 1.9-2 1.6-2.5 1.2-4.6 0 0 -3.8-2.9 -3.3-.6 -3.2 .2 -3.1 .6 -3 .9 -3.1 1.2 -3 1.4 -3 1.8 -3.1 2 -3.1 2.1 -2.5 3 -3 2.4 -2.5 2.8 -2.1 3.2 -3.2 2.2 -1.7 3.5 -2.8 2.5 -2.6 2.6 -1.7 3.4 -3.3 2 -1.7 3.5 -2.8 2.7 -2.7 2.8 -1.8 3.7 -3.4 2.4 -1.6 3.9 -3.1 2.7 -2.2 3.5 -2.3 3.4 -2.9 3.1 -1.8 3.9 -3.2 2.8 -1.6 4.1 -3.3 2.8 -1.9 3.9 -2.9 3 -2.3 3.5zM263.8 863.9l1.2 4.6 1.6 2.5 1.9 2 1.9 1.7 1.9 1.7 2 1.7 2 1.7 1.9 1.8 1.9 2 2.2 1.7 2 2.4 2.3 2.3 2.8 2.1 1.8 3.1 3.2 2.1 2.2 2.9 2.4 2.9 3.3 2.1 1.7 3.5 3.3 2 2.3 2.8 2.2 3 3.2 2 1.7 3.5 3.2 2.3 2.1 3.3 2.6 3 2.9 2.7 1.9 3.6 3.4 2.6 1.7 3.8 3.3 2.7 1.9 3.8 2.9 3.1 2.4 3.5 2.3 3.5 3 3 11.8-8.8 -2-3.7 -2.7-3.2 -2.6-3.3 -2.1-3.7 -3.1-3 -1.6-4 -3.3-2.8 -1.6-4 -3.2-2.8 -2-3.6 -2.5-3.2 -2.9-2.9 -1.7-3.8 -3.4-2.3 -1.7-3.7 -2.8-2.6 -2.7-2.6 -1.7-3.5 -3.3-1.9 -1.7-3.5 -2.6-2.6 -2.8-2.6 -1.8-3.4 -3.1-2.3 -2.3-3.1 -2.6-2.7 -3.1-2.4 -2.7-2.5 -3.1-1.9 -3.1-1.7 -3-1.5 -3.1-1.2 -3-.9 -3.1-.6 -3.2-.2 -3.3 .6 -3.8 2.9zM91.1 752.2l1.9-1.9 1.9-1.8 1.9-1.8 1.9-1.8 1.9-1.8 1.9-1.9 1.9-1.8 1.9-1.8 1.9-1.8 2-1.8 1.9-1.8 -8-8.4 -1.9 1.9 -1.9 1.8 -1.9 1.8 -1.9 1.8 -1.9 1.8 -1.9 1.9 -1.9 1.8 -1.9 1.8 -1.9 1.8 -2 1.8 -1.9 1.8zM328.1 732.2l1.9 1.8 2 1.8 1.9 1.8 1.9 1.8 1.9 1.8 1.9 1.9 1.9 1.8 1.9 1.8 1.9 1.8 1.9 1.8 1.9 1.9 8-8.4 -1.9-1.8 -2-1.8 -1.9-1.8 -1.9-1.8 -1.9-1.8 -1.9-1.9 -1.9-1.8 -1.9-1.8 -1.9-1.8 -1.9-1.8 -1.9-1.9z" fill="#29bcee"/>
<path d="M84.6 761.8l3.4-.2 3.5-.5 3.3-.4 2.8-.5 2.2-.1 2.3 .1 2.6 .2 2.6 .4 2.7 .5 2.6 .6 2.5 .7 2.4 .8 2.5 1 2.7 1.3 3.1 1.4 2.7 1.4 2.6 1.3 2.5 1.5 2.5 1.6 2.6 1.8 2.8 2.1 3 2.1 3.1 2.2 3.1 2.1 3.1 2 3.1 1.9 3 1.9 3.1 1.9 3.2 1.9 3.1 1.9 3.2 1.8 3.1 1.8 3.1 1.8 3.1 1.9 3.2 2 3.5 1.9 3.5 1.9 3.5 1.7 3.5 1.6 3.6 1.3 3.6 1.3 3.9 1 3.9 .7 4.1 .4 4 0 4.1-.4 3.9-.7 3.9-1 3.6-1.3 3.6-1.3 3.5-1.6 3.5-1.7 3.5-1.9 3.5-1.9 3.2-2 3.1-1.9 3.1-1.8 3.1-1.8 3.2-1.8 3.1-1.9 3.2-1.9 3.1-1.9 3-1.9 3.1-1.9 3.1-2 3.1-2.1 3.1-2.2 3-2.1 2.8-2.1 2.6-1.8 2.5-1.6 2.5-1.5 2.6-1.3 2.7-1.4 3.1-1.4 2.7-1.3 2.5-1 2.4-.8 2.5-.7 2.6-.6 2.7-.5 2.6-.4 2.6-.2 2.3-.1 2.2 .1 2.8 .5 3.3 .4 3.5 .5 3.4 .2 1.2-18.8 -2.7-.2 -2.6-.4 -2.9-.5 -3.3-.6 -3.9-.5 -3.8-.1 -3.6 .1 -3.4 .2 -3.5 .3 -3.5 .5 -3.6 .6 -3.7 .9 -3.7 1.1 -3.3 1.2 -3.1 1.1 -3.3 1.2 -3.6 1.4 -3.6 1.6 -3.6 1.8 -3.5 2 -3.3 2.1 -3.2 2 -3 1.9 -3 1.9 -3 1.9 -3.1 2 -3 2 -3 2.1 -3 2.1 -3 2.1 -2.9 2.1 -3.1 2.1 -3 2.2 -3 2.3 -2.8 2.1 -2.8 1.9 -2.5 1.7 -2.6 1.5 -2.6 1.4 -2.6 1.2 -2.5 1 -2.2 .7 -2.2 .5 -2.1 .3 -2 0 -2.1-.3 -2.2-.5 -2.2-.7 -2.5-1 -2.6-1.2 -2.6-1.4 -2.6-1.5 -2.5-1.7 -2.8-1.9 -2.8-2.1 -3-2.3 -3-2.2 -3.1-2.1 -2.9-2.1 -3-2.1 -3-2.1 -3-2.1 -3-2 -3.1-2 -3-1.9 -3-1.9 -3-1.9 -3.2-2 -3.3-2.1 -3.5-2 -3.6-1.8 -3.6-1.6 -3.6-1.4 -3.3-1.2 -3.1-1.1 -3.3-1.2 -3.7-1.1 -3.7-.9 -3.6-.6 -3.5-.5 -3.5-.3 -3.4-.2 -3.6-.1 -3.8 .1 -3.9 .5 -3.3 .6 -2.9 .5 -2.6 .4 -2.7 .2zM145.2 851.5l3.7 2.8 3.4 .5 3.5 .1 3.4-.2 3.5-.3 3.4-.5 3.4-.6 3.3-.8 3.7-1.3 4-1.8 3.8-2.3 3.4-2.4 3-2.3 2.9-2.1 2.9-2.1 3-2.1 3-2.1 2.9-1.9 2.4-1.4 2.1-1 2.1-.8 2.3-.5 2.4-.4 2.3-.2 2.2 0 2.3 .2 2.4 .4 2.3 .5 2.1 .8 2.1 1 2.4 1.4 2.9 1.9 3 2.1 3 2.1 2.9 2.1 2.9 2.1 3 2.3 3.4 2.4 3.8 2.3 4 1.8 3.7 1.3 3.3 .8 3.4 .6 3.4 .5 3.5 .3 3.4 .2 3.5-.1 3.4-.5 3.7-2.8 0 0 -2.4-3.9 -2.6-1.8 -2.7-1.7 -2.7-1.6 -2.6-1.5 -2.7-1.6 -2.8-1.7 -2.7-1.5 -2.5-1.2 -2.1-1.4 -2.3-1.9 -2.8-2.2 -3.1-2.4 -3.2-2.4 -3.2-2.2 -3.1-2.2 -3.1-2.1 -3.3-2.2 -3.6-2.2 -4-1.9 -4-1.3 -3.9-1 -3.7-.6 -3.8-.3 -4 0 -3.8 .3 -3.7 .6 -3.9 1 -4 1.3 -4 1.9 -3.6 2.2 -3.3 2.2 -3.1 2.1 -3.1 2.2 -3.2 2.2 -3.2 2.4 -3.1 2.4 -2.8 2.2 -2.3 1.9 -2.1 1.4 -2.5 1.2 -2.7 1.5 -2.8 1.7 -2.7 1.6 -2.6 1.5 -2.7 1.6 -2.7 1.7 -2.6 1.8 -2.4 3.9zM89.5 962.6l2.7-3.2 2.1-3.7 3.1-3 1.8-3.9 3.3-2.8 1.8-3.8 3.1-2.7 2.2-3.5 2.6-3 2.8-2.9 2-3.5 3.3-2.3 1.7-3.6 3.1-2.3 2.3-2.9 2.2-2.9 3.2-2 1.8-3.4 3.2-2.1 2.4-2.8 2.2-3.1 3.3-2.1 1.8-3.2 2.9-2.2 2.4-2.5 2.1-2.6 2.5-1.8 1.9-2.2 2-2 2-1.8 1.9-1.8 2-1.8 1.9-1.8 1.9-2 1.7-2.4 1.2-4.3 0 0 -3.8-2.3 -3.3-.3 -3.1 .4 -3.1 .8 -3 1.1 -3 1.4 -3 1.7 -3.1 1.9 -3.1 2 -2.4 2.9 -3 2.4 -2.5 2.8 -2.2 3.2 -3.1 2.2 -1.7 3.5 -2.8 2.5 -2.6 2.7 -1.8 3.3 -3.2 2 -1.8 3.5 -2.8 2.7 -2.7 2.8 -1.9 3.5 -3.2 2.5 -1.7 3.8 -3 2.8 -2.3 3.5 -2.3 3.4 -2.9 3 -1.8 3.9 -3.2 2.9 -1.7 4 -3.2 2.9 -1.9 3.8 -2.9 3.1 -2.3 3.4zM266.3 864.7l1.2 4.3 1.7 2.4 1.9 2 1.9 1.8 2 1.8 2 1.8 1.9 1.9 1.9 2 2.2 1.8 2 2.4 2.4 2.3 2.7 2.2 2 3.1 3.1 2.1 2.2 2.9 2.4 2.9 3.2 2.1 1.8 3.4 3.2 2.1 2.3 2.8 2.3 3 3.1 2.1 1.7 3.5 3.2 2.3 2.2 3.3 2.5 3 2.9 2.8 1.9 3.6 3.3 2.6 1.8 3.8 3.2 2.7 2 3.7 2.9 3.2 2.4 3.5 2.3 3.5 2.9 3 10.6-7.8 -2.1-3.7 -2.7-3.2 -2.5-3.3 -2.2-3.6 -3-3.1 -1.8-3.9 -3.2-2.9 -1.7-3.9 -3.1-2.9 -2.1-3.5 -2.4-3.2 -2.9-2.9 -1.8-3.7 -3.2-2.4 -1.9-3.6 -2.8-2.6 -2.6-2.7 -1.8-3.4 -3.2-2 -1.8-3.4 -2.6-2.6 -2.8-2.6 -1.8-3.4 -3.1-2.3 -2.2-3 -2.7-2.7 -3-2.4 -2.7-2.5 -3.1-1.8 -3.1-1.6 -3-1.4 -3-1.1 -3.1-.8 -3.1-.4 -3.3 .3 -3.8 2.3zM90.4 751.5l1.9-1.9 1.9-1.8 1.9-1.8 1.9-1.8 1.9-1.8 1.9-1.9 2-1.8 1.9-1.8 1.9-1.8 1.9-1.8 1.9-1.8 -6.6-7 -1.9 1.9 -1.9 1.8 -1.9 1.8 -1.9 1.8 -1.9 1.8 -1.9 1.9 -2 1.8 -1.9 1.8 -1.9 1.8 -1.9 1.8 -1.9 1.8zM328.8 731.5l1.9 1.8 1.9 1.8 1.9 1.8 1.9 1.8 2 1.8 1.9 1.9 1.9 1.8 1.9 1.8 1.9 1.8 1.9 1.8 1.9 1.9 6.6-7 -1.9-1.8 -1.9-1.8 -1.9-1.8 -1.9-1.8 -2-1.8 -1.9-1.9 -1.9-1.8 -1.9-1.8 -1.9-1.8 -1.9-1.8 -1.9-1.9z" fill="#6cc5ad"/>
<path d="M84.6 760.6l3.3-.3 3.4-.4 3.3-.5 2.8-.4 2.3-.2 2.4 .1 2.7 .2 2.7 .4 2.7 .5 2.7 .5 2.5 .8 2.5 .8 2.6 1 2.8 1.3 3 1.4 2.8 1.3 2.6 1.4 2.6 1.4 2.6 1.7 2.7 1.8 2.8 2 3 2.2 3.1 2.2 3.1 2 3.1 2 3.1 2 3 1.9 3.1 1.9 3.1 1.9 3.2 1.9 3.1 1.8 3.1 1.9 3.1 1.8 3.1 1.9 3.2 2 3.4 1.9 3.5 1.9 3.4 1.7 3.5 1.5 3.5 1.4 3.6 1.2 3.7 1 3.8 .7 3.9 .4 4 0 3.9-.4 3.8-.7 3.7-1 3.6-1.2 3.5-1.4 3.5-1.5 3.4-1.7 3.5-1.9 3.4-1.9 3.2-2 3.1-1.9 3.1-1.8 3.1-1.9 3.1-1.8 3.2-1.9 3.1-1.9 3.1-1.9 3-1.9 3.1-2 3.1-2 3.1-2 3.1-2.2 3-2.2 2.8-2 2.7-1.8 2.6-1.7 2.6-1.4 2.6-1.4 2.8-1.3 3-1.4 2.8-1.3 2.6-1 2.5-.8 2.5-.8 2.7-.5 2.7-.5 2.7-.4 2.7-.2 2.4-.1 2.3 .2 2.8 .4 3.3 .5 3.4 .4 3.3 .3 1.2-16.4 -2.8-.2 -2.7-.3 -2.9-.6 -3.3-.6 -3.7-.5 -3.8 0 -3.5 .1 -3.4 .2 -3.4 .3 -3.4 .5 -3.6 .7 -3.6 .8 -3.6 1.2 -3.3 1.2 -3.1 1 -3.3 1.2 -3.5 1.4 -3.5 1.6 -3.5 1.9 -3.5 2 -3.3 2 -3.1 2 -3 1.9 -3 1.9 -3 2 -3.1 2 -3 2 -3.1 2.1 -3 2 -2.9 2.1 -3 2.1 -3 2.1 -3.1 2.2 -3 2.2 -2.9 2.1 -2.7 1.9 -2.7 1.7 -2.6 1.6 -2.7 1.3 -2.6 1.2 -2.5 1 -2.4 .8 -2.3 .5 -2.2 .3 -2.2 0 -2.2-.3 -2.3-.5 -2.4-.8 -2.5-1 -2.6-1.2 -2.7-1.3 -2.6-1.6 -2.7-1.7 -2.7-1.9 -2.9-2.1 -3-2.2 -3.1-2.2 -3-2.1 -3-2.1 -2.9-2.1 -3-2 -3.1-2.1 -3-2 -3.1-2 -3-2 -3-1.9 -3-1.9 -3.1-2 -3.3-2 -3.5-2 -3.5-1.9 -3.5-1.6 -3.5-1.4 -3.3-1.2 -3.1-1 -3.3-1.2 -3.6-1.2 -3.6-.8 -3.6-.7 -3.4-.5 -3.4-.3 -3.4-.2 -3.5-.1 -3.8 0 -3.7 .5 -3.3 .6 -2.9 .6 -2.7 .3 -2.8 .2zM148.2 850.9l3.8 2.3 3.4 .4 3.5 0 3.4-.3 3.4-.4 3.4-.6 3.3-.8 3.7-1.3 3.8-1.8 3.7-2.3 3.4-2.3 3-2.4 2.9-2.1 2.9-2.1 3-2.1 3.1-2 2.8-2 2.5-1.5 2.3-1 2.2-.8 2.4-.6 2.5-.4 2.4-.2 2.2 0 2.4 .2 2.5 .4 2.4 .6 2.2 .8 2.3 1 2.5 1.5 2.8 2 3.1 2 3 2.1 2.9 2.1 2.9 2.1 3 2.4 3.4 2.3 3.7 2.3 3.8 1.8 3.7 1.3 3.3 .8 3.4 .6 3.4 .4 3.4 .3 3.5 0 3.4-.4 3.8-2.3 0 0 -2.4-3.6 -2.7-1.9 -2.6-1.7 -2.7-1.6 -2.7-1.7 -2.8-1.7 -2.7-1.5 -2.5-1.2 -2.3-1.5 -2.4-1.8 -2.8-2.3 -3.1-2.4 -3.2-2.3 -3.2-2.3 -3.1-2.1 -3-2.1 -3.3-2.2 -3.6-2.2 -3.9-1.8 -3.9-1.3 -3.7-.9 -3.6-.6 -3.8-.3 -3.8 0 -3.8 .3 -3.6 .6 -3.7 .9 -3.9 1.3 -3.9 1.8 -3.6 2.2 -3.3 2.2 -3 2.1 -3.1 2.1 -3.2 2.3 -3.2 2.3 -3.1 2.4 -2.8 2.3 -2.4 1.8 -2.3 1.5 -2.5 1.2 -2.7 1.5 -2.8 1.7 -2.7 1.7 -2.7 1.6 -2.6 1.7 -2.7 1.9 -2.4 3.6zM88.8 962.1l2.7-3.2 2.1-3.7 3-3 1.9-3.9 3.2-2.8 1.9-3.8 3.1-2.8 2.2-3.5 2.6-3 2.7-2.9 2.1-3.4 3.2-2.5 1.8-3.4 3-2.4 2.3-2.9 2.3-2.9 3.1-2.1 1.9-3.3 3.1-2.2 2.5-2.8 2.2-3.1 3.1-2.1 2-3.2 2.8-2.3 2.4-2.5 2.1-2.6 2.6-1.8 1.9-2.3 2-2 2-1.9 1.9-2 2-1.9 1.9-2.1 1.7-2.5 1.3-3.6 0 0 -3.6-1.5 -3.3-.1 -3.1 .5 -3.1 1 -3 1.2 -3 1.6 -3.1 1.8 -3 2.1 -2.5 2.8 -2.9 2.4 -2.5 2.8 -2.2 3.1 -3 2.3 -1.9 3.4 -2.8 2.5 -2.5 2.7 -1.9 3.2 -3.1 2.2 -1.9 3.3 -2.7 2.7 -2.7 2.8 -2 3.5 -3.1 2.6 -1.9 3.7 -2.9 2.8 -2.3 3.4 -2.3 3.4 -2.8 3.1 -1.9 3.8 -3.1 2.9 -1.8 4 -3.2 2.9 -1.9 3.8 -2.9 3.1 -2.3 3.4zM268.8 865.7l1.3 3.6 1.7 2.5 1.9 2.1 2 1.9 1.9 1.9 2 2 1.9 2.1 2.2 1.9 2.1 2.4 2.4 2.3 2.7 2.2 2 3.1 3 2.2 2.3 2.9 2.4 2.9 3.1 2.2 1.9 3.3 3.1 2.2 2.4 2.8 2.2 2.9 3.1 2.2 1.8 3.4 3.1 2.4 2.2 3.3 2.6 3 2.8 2.8 2 3.6 3.2 2.7 1.8 3.7 3.2 2.8 2.1 3.7 2.7 3.2 2.5 3.5 2.3 3.5 2.9 3.1 9.2-7 -2.1-3.5 -2.7-3.3 -2.5-3.3 -2.2-3.6 -3-3.1 -1.8-3.9 -3.2-2.9 -1.7-3.8 -3-2.9 -2.2-3.5 -2.5-3.2 -2.8-2.9 -1.9-3.6 -3.1-2.5 -1.9-3.5 -2.8-2.7 -2.6-2.6 -1.9-3.3 -3.1-2.1 -1.9-3.3 -2.6-2.7 -2.7-2.6 -2-3.3 -3-2.3 -2.2-3.1 -2.7-2.6 -2.9-2.4 -2.7-2.4 -3.1-1.7 -3.1-1.6 -3-1.2 -3.1-1 -3.1-.5 -3.3 .1 -3.6 1.5zM89.7 750.7l1.9-1.8 1.9-1.9 1.9-1.8 1.9-1.8 1.9-1.8 1.9-1.8 1.9-1.8 1.9-1.9 1.9-1.8 1.9-1.8 2-1.8 -5.2-5.4 -1.9 1.8 -1.9 1.9 -1.9 1.8 -1.9 1.8 -1.9 1.8 -1.9 1.8 -1.9 1.8 -1.9 1.9 -1.9 1.8 -1.9 1.8 -2 1.8zM329.5 730.7l2 1.8 1.9 1.8 1.9 1.8 1.9 1.9 1.9 1.8 1.9 1.8 1.9 1.8 1.9 1.8 1.9 1.8 1.9 1.9 1.9 1.8 5.2-5.4 -2-1.8 -1.9-1.8 -1.9-1.8 -1.9-1.9 -1.9-1.8 -1.9-1.8 -1.9-1.8 -1.9-1.8 -1.9-1.8 -1.9-1.9 -1.9-1.8z" fill="#aed247"/>
<path d="M84.5 759.4l3.3-.2 3.4-.5 3.2-.5 2.8-.4 2.5-.2 2.4 .1 2.8 .2 2.7 .3 2.8 .5 2.7 .6 2.7 .7 2.5 .8 2.6 1.1 2.9 1.3 3 1.3 2.9 1.3 2.6 1.4 2.7 1.5 2.7 1.6 2.7 1.9 2.8 2 3 2.1 3.1 2.2 3.1 2 3.1 2 3.1 2 3 1.9 3.1 1.9 3.2 1.9 3.1 1.9 3.1 1.9 3.1 1.8 3.1 1.9 3.1 1.9 3.2 2 3.3 2 3.4 1.8 3.4 1.7 3.4 1.5 3.4 1.4 3.5 1.2 3.7 1 3.7 .6 3.8 .4 3.8 0 3.8-.4 3.7-.6 3.7-1 3.5-1.2 3.4-1.4 3.4-1.5 3.4-1.7 3.4-1.8 3.3-2 3.2-2 3.1-1.9 3.1-1.9 3.1-1.8 3.1-1.9 3.1-1.9 3.2-1.9 3.1-1.9 3-1.9 3.1-2 3.1-2 3.1-2 3.1-2.2 3-2.1 2.8-2 2.7-1.9 2.7-1.6 2.7-1.5 2.6-1.4 2.9-1.3 3-1.3 2.9-1.3 2.6-1.1 2.5-.8 2.7-.7 2.7-.6 2.8-.5 2.7-.3 2.8-.2 2.4-.1 2.5 .2 2.8 .4 3.2 .5 3.4 .5 3.3 .2 1-14 -2.9-.2 -2.7-.3 -2.9-.6 -3.2-.6 -3.7-.5 -3.7 0 -3.4 .1 -3.3 .2 -3.4 .4 -3.4 .5 -3.4 .6 -3.6 .9 -3.5 1.1 -3.2 1.2 -3.1 1.1 -3.3 1.2 -3.4 1.4 -3.5 1.6 -3.5 1.8 -3.4 2 -3.2 2.1 -3.1 2 -3 1.9 -3.1 1.9 -3 2 -3.1 2 -3 2 -3 2 -3 2.1 -3 2 -3 2.1 -3 2.1 -3.1 2.2 -3 2.1 -2.9 2.1 -2.8 2 -2.7 1.7 -2.7 1.5 -2.7 1.4 -2.7 1.2 -2.6 1.1 -2.5 .7 -2.4 .6 -2.3 .2 -2.4 0 -2.3-.2 -2.4-.6 -2.5-.7 -2.6-1.1 -2.7-1.2 -2.7-1.4 -2.7-1.5 -2.7-1.7 -2.8-2 -2.9-2.1 -3-2.1 -3.1-2.2 -3-2.1 -3-2.1 -3-2 -3-2.1 -3-2 -3-2 -3.1-2 -3-2 -3.1-1.9 -3-1.9 -3.1-2 -3.2-2.1 -3.4-2 -3.5-1.8 -3.5-1.6 -3.4-1.4 -3.3-1.2 -3.1-1.1 -3.2-1.2 -3.5-1.1 -3.6-.9 -3.4-.6 -3.4-.5 -3.4-.4 -3.3-.2 -3.4-.1 -3.7 0 -3.7 .5 -3.2 .6 -2.9 .6 -2.7 .3 -2.9 .2zM151.3 850.3l3.7 1.8 3.5 .2 3.5-.1 3.4-.4 3.3-.5 3.4-.8 3.5-1.2 3.8-1.8 3.6-2.3 3.3-2.3 3-2.4 2.9-2.1 3-2.1 3-2.1 3-2.1 2.9-1.9 2.6-1.6 2.4-1.1 2.3-.8 2.5-.6 2.5-.4 2.5-.2 2.4 0 2.5 .2 2.5 .4 2.5 .6 2.3 .8 2.4 1.1 2.6 1.6 2.9 1.9 3 2.1 3 2.1 3 2.1 2.9 2.1 3 2.4 3.3 2.3 3.6 2.3 3.8 1.8 3.5 1.2 3.4 .8 3.3 .5 3.4 .4 3.5 .1 3.5-.2 3.7-1.8 0 0 -2.4-3.4 -2.6-2 -2.7-1.8 -2.7-1.7 -2.7-1.7 -2.8-1.5 -2.6-1.3 -2.3-1.4 -2.5-1.9 -2.9-2.3 -3.1-2.4 -3.1-2.3 -3.2-2.2 -3.1-2.1 -3.1-2.2 -3.2-2.2 -3.5-2.1 -3.8-1.7 -3.8-1.3 -3.6-.9 -3.6-.6 -3.6-.3 -3.8 0 -3.6 .3 -3.6 .6 -3.6 .9 -3.8 1.3 -3.8 1.7 -3.5 2.1 -3.2 2.2 -3.1 2.2 -3.1 2.1 -3.2 2.2 -3.1 2.3 -3.1 2.4 -2.9 2.3 -2.5 1.9 -2.3 1.4 -2.6 1.3 -2.8 1.5 -2.7 1.7 -2.7 1.7 -2.7 1.8 -2.6 2 -2.4 3.4zM88.2 961.6l2.6-3.2 2.2-3.6 3-3.1 1.9-3.8 3.1-2.9 2-3.7 3-2.9 2.2-3.5 2.6-3 2.7-3 2.2-3.4 3-2.5 2-3.4 2.9-2.4 2.4-2.9 2.3-2.9 3-2.2 1.9-3.2 3-2.3 2.5-2.8 2.3-3 3-2.2 2.1-3.1 2.7-2.4 2.5-2.5 2.1-2.6 2.6-1.9 1.9-2.3 2-2.2 2-2 1.9-2.1 1.9-2.2 1.6-2.7 1.6-2.9 0 0 -3.4-.6 -3.3-.1 -3.2 .7 -3 1.1 -3.1 1.4 -3 1.8 -3 2 -2.5 2.7 -2.8 2.5 -2.6 2.7 -2.2 3.1 -3 2.3 -1.9 3.3 -2.7 2.5 -2.5 2.8 -2 3.1 -3.1 2.2 -1.9 3.3 -2.7 2.7 -2.7 2.8 -2 3.5 -3.1 2.6 -1.9 3.6 -2.9 2.9 -2.3 3.3 -2.4 3.4 -2.7 3.1 -2 3.8 -3 3 -1.9 3.8 -3.1 3 -2 3.7 -2.8 3.2 -2.4 3.4zM271.3 866.8l1.6 2.9 1.6 2.7 1.9 2.2 1.9 2.1 2 2.1 1.9 2.2 2.2 2 2.2 2.3 2.3 2.4 2.7 2.3 2.1 3 2.9 2.2 2.4 2.9 2.4 2.9 3 2.3 2 3.2 3 2.2 2.4 2.9 2.2 2.8 3.1 2.4 1.9 3.3 3 2.5 2.2 3.2 2.5 3 2.8 2.9 2.1 3.5 3.1 2.8 2 3.7 3 2.9 2.1 3.6 2.8 3.2 2.4 3.5 2.4 3.5 2.8 3.1 8-6 -2.2-3.5 -2.6-3.3 -2.6-3.3 -2.2-3.6 -2.9-3.1 -1.9-3.9 -3.1-2.9 -1.9-3.8 -2.9-2.9 -2.2-3.5 -2.5-3.2 -2.7-2.9 -2-3.5 -3.1-2.5 -2-3.5 -2.7-2.6 -2.6-2.7 -2-3.2 -3-2.2 -2-3.3 -2.5-2.6 -2.7-2.6 -2-3.3 -3-2.4 -2.3-2.9 -2.6-2.7 -2.9-2.3 -2.7-2.3 -3.1-1.7 -3.1-1.4 -3-1.1 -3.2-.7 -3.3 .1 -3.4 .6zM88.8 749.8l1.9-1.8 2-1.8 1.9-1.8 1.9-1.9 1.9-1.8 1.9-1.8 1.9-1.8 1.9-1.8 1.9-1.8 1.9-1.9 1.9-1.8 -3.4-3.6 -1.9 1.8 -2 1.8 -1.9 1.8 -1.9 1.9 -1.9 1.8 -1.9 1.8 -1.9 1.8 -1.9 1.8 -1.9 1.8 -1.9 1.9 -1.9 1.8zM330.4 729.8l1.9 1.8 1.9 1.9 1.9 1.8 1.9 1.8 1.9 1.8 1.9 1.8 1.9 1.8 1.9 1.9 1.9 1.8 2 1.8 1.9 1.8 3.4-3.6 -1.9-1.8 -1.9-1.9 -1.9-1.8 -1.9-1.8 -1.9-1.8 -1.9-1.8 -1.9-1.8 -1.9-1.9 -1.9-1.8 -2-1.8 -1.9-1.8z" fill="#fbcf15"/>
<path d="M84.4 758.2l3.2-.2 3.4-.5 3.2-.4 2.9-.5 2.5-.2 2.6 0 2.8 .2 2.8 .4 2.8 .4 2.8 .6 2.7 .7 2.6 .9 2.7 1 2.9 1.3 3 1.3 2.9 1.3 2.8 1.4 2.7 1.5 2.7 1.6 2.8 1.9 2.9 2 3 2.1 3.1 2.2 3.1 2 3.1 2 3 2 3.1 1.9 3.1 1.9 3.1 2 3.1 1.9 3.1 1.8 3.1 1.9 3.1 1.9 3.1 1.9 3.2 2 3.2 2 3.4 1.9 3.3 1.6 3.4 1.5 3.3 1.4 3.4 1.1 3.6 1 3.6 .7 3.7 .3 3.6 0 3.7-.3 3.6-.7 3.6-1 3.4-1.1 3.3-1.4 3.4-1.5 3.3-1.6 3.4-1.9 3.2-2 3.2-2 3.1-1.9 3.1-1.9 3.1-1.9 3.1-1.8 3.1-1.9 3.1-2 3.1-1.9 3.1-1.9 3-2 3.1-2 3.1-2 3.1-2.2 3-2.1 2.9-2 2.8-1.9 2.7-1.6 2.7-1.5 2.8-1.4 2.9-1.3 3-1.3 2.9-1.3 2.7-1 2.6-.9 2.7-.7 2.8-.6 2.8-.4 2.8-.4 2.8-.2 2.6 0 2.5 .2 2.9 .5 3.2 .4 3.4 .5 3.2 .2 .8-11.6 -2.9-.2 -2.8-.4 -2.9-.5 -3.2-.6 -3.6-.4 -3.5-.1 -3.4 .1 -3.3 .3 -3.3 .4 -3.3 .4 -3.4 .7 -3.5 .9 -3.4 1.1 -3.2 1.2 -3.1 1.1 -3.3 1.2 -3.3 1.4 -3.4 1.6 -3.4 1.8 -3.3 2 -3.3 2 -3.1 2 -3 2 -3 1.9 -3 2 -3.1 2 -3.1 2 -3 2 -3 2.1 -3 2 -3 2.1 -3 2 -3.1 2.2 -3 2.1 -2.9 2.1 -2.9 1.9 -2.8 1.8 -2.7 1.5 -2.8 1.4 -2.7 1.3 -2.7 1 -2.6 .8 -2.5 .5 -2.5 .3 -2.4 0 -2.5-.3 -2.5-.5 -2.6-.8 -2.7-1 -2.7-1.3 -2.8-1.4 -2.7-1.5 -2.8-1.8 -2.9-1.9 -2.9-2.1 -3-2.1 -3.1-2.2 -3-2 -3-2.1 -3-2 -3-2.1 -3-2 -3.1-2 -3.1-2 -3-2 -3-1.9 -3-2 -3.1-2 -3.3-2 -3.3-2 -3.4-1.8 -3.4-1.6 -3.3-1.4 -3.3-1.2 -3.1-1.1 -3.2-1.2 -3.4-1.1 -3.5-.9 -3.4-.7 -3.3-.4 -3.3-.4 -3.3-.3 -3.4-.1 -3.5 .1 -3.6 .4 -3.2 .6 -2.9 .5 -2.8 .4 -2.9 .2zM154.3 849.5l3.7 1.3 3.6 .2 3.4-.2 3.4-.4 3.3-.8 3.5-1.3 3.6-1.8 3.5-2.2 3.3-2.3 3-2.4 3-2.1 2.9-2.1 3.1-2.1 3-2.1 2.9-1.9 2.7-1.7 2.4-1.1 2.5-.8 2.6-.7 2.6-.4 2.6-.2 2.4 0 2.6 .2 2.6 .4 2.6 .7 2.5 .8 2.4 1.1 2.7 1.7 2.9 1.9 3 2.1 3.1 2.1 2.9 2.1 3 2.1 3 2.4 3.3 2.3 3.5 2.2 3.6 1.8 3.5 1.3 3.3 .8 3.4 .4 3.4 .2 3.6-.2 3.7-1.3 0 0 -2.5-3 -2.6-2.2 -2.6-1.8 -2.8-1.8 -2.8-1.6 -2.6-1.2 -2.5-1.5 -2.6-1.9 -2.8-2.3 -3.1-2.4 -3.2-2.3 -3.1-2.2 -3.1-2.1 -3.1-2.1 -3.2-2.2 -3.5-2.1 -3.6-1.7 -3.7-1.3 -3.5-.8 -3.5-.6 -3.6-.3 -3.6 0 -3.6 .3 -3.5 .6 -3.5 .8 -3.7 1.3 -3.6 1.7 -3.5 2.1 -3.2 2.2 -3.1 2.1 -3.1 2.1 -3.1 2.2 -3.2 2.3 -3.1 2.4 -2.8 2.3 -2.6 1.9 -2.5 1.5 -2.6 1.2 -2.8 1.6 -2.8 1.8 -2.6 1.8 -2.6 2.2 -2.5 3zM87.5 961.2l2.6-3.3 2.3-3.6 2.9-3.1 2-3.8 3-3 2.1-3.6 2.9-3 2.3-3.4 2.6-3.1 2.6-3 2.2-3.3 3-2.6 2-3.3 2.9-2.5 2.4-2.9 2.3-2.9 2.9-2.3 2.1-3.1 2.9-2.4 2.5-2.8 2.3-2.9 3-2.3 2.1-3.1 2.7-2.4 2.4-2.5 2.3-2.6 2.5-2 2-2.3 1.9-2.3 1.9-2.2 1.8-2.4 1.3-3.4 2.2-1.8 0 0 -2.8 .7 -3.7-.5 -3.2 .8 -3 1.3 -3.1 1.6 -3 1.9 -2.5 2.7 -2.8 2.5 -2.5 2.7 -2.3 3 -2.9 2.4 -2 3.2 -2.7 2.6 -2.5 2.7 -2.1 3.1 -2.9 2.3 -2.1 3.2 -2.6 2.7 -2.7 2.9 -2.1 3.3 -3 2.7 -2 3.5 -2.8 2.9 -2.3 3.4 -2.4 3.3 -2.7 3.1 -2.1 3.7 -2.9 3.1 -2 3.8 -3 3 -2.1 3.7 -2.7 3.2 -2.4 3.3zM273.8 868l2.2 1.8 1.3 3.4 1.8 2.4 1.9 2.2 1.9 2.3 2.2 2.1 2.2 2.4 2.4 2.4 2.6 2.3 2.2 3 2.9 2.3 2.3 2.9 2.4 2.8 3 2.4 2 3.1 3 2.3 2.4 2.8 2.3 2.9 2.9 2.4 2 3.3 2.9 2.6 2.3 3.1 2.5 3.1 2.8 2.9 2.1 3.5 3 2.8 2.1 3.6 2.9 3 2.2 3.6 2.7 3.3 2.5 3.4 2.4 3.5 2.7 3.1 6.8-5 -2.3-3.5 -2.5-3.3 -2.6-3.4 -2.3-3.5 -2.8-3.2 -2-3.7 -3-3 -2-3.7 -2.8-3 -2.3-3.4 -2.5-3.2 -2.7-3 -2-3.4 -3-2.6 -2.1-3.3 -2.7-2.7 -2.6-2.7 -2-3.1 -3-2.3 -2-3.2 -2.6-2.7 -2.6-2.6 -2.1-3.2 -2.9-2.4 -2.3-2.9 -2.6-2.6 -2.8-2.4 -2.8-2.2 -3.1-1.5 -3.1-1.3 -3.2-.8 -3.7 .5 -2.8-.7z" fill="#f5831f"/>
<path d="M84.3 756.9l3.2-.2 3.3-.4 3.1-.5 3-.5 2.6-.3 2.7 .1 2.9 .2 2.8 .3 2.9 .5 2.8 .5 2.8 .7 2.8 .9 2.7 1 3 1.3 3 1.3 2.9 1.3 2.8 1.4 2.8 1.5 2.8 1.6 2.9 1.9 2.9 2 3 2.2 3.1 2.1 3.1 2 3.1 2 3 1.9 3.1 2 3.1 1.9 3.1 2 3.1 1.9 3.1 1.9 3.1 1.9 3 1.9 3.1 2 3.2 2 3.2 1.9 3.3 1.9 3.3 1.6 3.3 1.5 3.2 1.3 3.4 1.2 3.4 1 3.5 .6 3.5 .3 3.6 0 3.5-.3 3.5-.6 3.4-1 3.4-1.2 3.2-1.3 3.3-1.5 3.3-1.6 3.3-1.9 3.2-1.9 3.2-2 3.1-2 3-1.9 3.1-1.9 3.1-1.9 3.1-1.9 3.1-2 3.1-1.9 3.1-2 3-1.9 3.1-2 3.1-2 3.1-2.1 3-2.2 2.9-2 2.9-1.9 2.8-1.6 2.8-1.5 2.8-1.4 2.9-1.3 3-1.3 3-1.3 2.7-1 2.8-.9 2.8-.7 2.8-.5 2.9-.5 2.8-.3 2.9-.2 2.7-.1 2.6 .3 3 .5 3.1 .5 3.3 .4 3.2 .2 .6-9 -2.9-.2 -2.9-.4 -2.9-.5 -3.2-.6 -3.4-.4 -3.5 0 -3.3 .1 -3.2 .3 -3.3 .3 -3.2 .5 -3.4 .7 -3.3 .9 -3.4 1.1 -3.2 1.2 -3 1.1 -3.2 1.2 -3.3 1.4 -3.4 1.6 -3.3 1.8 -3.3 2 -3.1 2 -3.1 2 -3.1 2 -3 2 -3 1.9 -3.1 2 -3.1 2 -3 2 -3 2 -3 2.1 -3 2 -3.1 2.1 -3 2.1 -3 2.1 -3 2.1 -2.9 1.9 -2.8 1.8 -2.9 1.5 -2.8 1.4 -2.8 1.3 -2.8 1 -2.7 .8 -2.6 .6 -2.6 .3 -2.6 0 -2.6-.3 -2.6-.6 -2.7-.8 -2.8-1 -2.8-1.3 -2.8-1.4 -2.9-1.5 -2.8-1.8 -2.9-1.9 -3-2.1 -3-2.1 -3-2.1 -3.1-2.1 -3-2 -3-2.1 -3-2 -3-2 -3.1-2 -3.1-2 -3-1.9 -3-2 -3.1-2 -3.1-2 -3.1-2 -3.3-2 -3.3-1.8 -3.4-1.6 -3.3-1.4 -3.2-1.2 -3-1.1 -3.2-1.2 -3.4-1.1 -3.3-.9 -3.4-.7 -3.2-.5 -3.3-.3 -3.2-.3 -3.3-.1 -3.5 0 -3.4 .4 -3.2 .6 -2.9 .5 -2.9 .4 -2.9 .2zM157.4 848.6l3.6 .8 3.6 .2 3.4-.3 3.3-.7 3.4-1.3 3.5-1.7 3.5-2.2 3.2-2.4 3-2.3 3-2.2 3-2.1 3-2.1 3.1-2.1 2.9-1.9 2.7-1.7 2.6-1.2 2.6-.9 2.6-.6 2.7-.5 2.7-.2 2.6 0 2.7 .2 2.7 .5 2.6 .6 2.6 .9 2.6 1.2 2.7 1.7 2.9 1.9 3.1 2.1 3 2.1 3 2.1 3 2.2 3 2.3 3.2 2.4 3.5 2.2 3.5 1.7 3.4 1.3 3.3 .7 3.4 .3 3.6-.2 3.6-.8 0 0 -2.5-2.6 -2.6-2.3 -2.7-2 -2.8-1.6 -2.7-1.2 -2.6-1.5 -2.7-2 -2.9-2.3 -3-2.3 -3.2-2.4 -3.1-2.2 -3.1-2.1 -3.1-2.1 -3.1-2.1 -3.4-2 -3.6-1.7 -3.5-1.2 -3.5-.9 -3.4-.5 -3.4-.3 -3.6 0 -3.4 .3 -3.4 .5 -3.5 .9 -3.5 1.2 -3.6 1.7 -3.4 2 -3.1 2.1 -3.1 2.1 -3.1 2.1 -3.1 2.2 -3.2 2.4 -3 2.3 -2.9 2.3 -2.7 2 -2.6 1.5 -2.7 1.2 -2.8 1.6 -2.7 2 -2.6 2.3 -2.5 2.6zM86.9 960.6l2.5-3.2 2.3-3.6 2.8-3.2 2.2-3.6 2.9-3.1 2.1-3.6 2.9-3 2.3-3.4 2.6-3.1 2.6-3 2.2-3.3 2.9-2.7 2.1-3.3 2.9-2.6 2.3-2.9 2.4-2.8 2.9-2.4 2.1-3.1 2.8-2.4 2.5-2.8 2.3-2.9 2.9-2.4 2.2-3 2.7-2.4 2.5-2.6 2.2-2.5 2.6-2.1 1.9-2.4 1.9-2.5 1.7-2.6 1.3-3.4 0 0 -3.7-.2 -3.2 .9 -3.2 1.4 -3 1.8 -2.5 2.7 -2.7 2.4 -2.5 2.7 -2.3 3 -2.9 2.5 -2.1 3.1 -2.6 2.6 -2.5 2.7 -2.2 3.1 -2.9 2.3 -2.1 3.1 -2.6 2.8 -2.6 2.8 -2.2 3.3 -2.9 2.7 -2.1 3.5 -2.7 2.9 -2.4 3.3 -2.4 3.3 -2.7 3.2 -2.2 3.6 -2.8 3.1 -2.1 3.7 -2.9 3.2 -2.2 3.6 -2.6 3.2 -2.5 3.4zM278.8 870.7l1.3 3.4 1.7 2.6 1.8 2.5 2.2 2.2 2.2 2.4 2.5 2.4 2.6 2.4 2.2 2.9 2.8 2.4 2.4 2.9 2.4 2.8 2.9 2.4 2.1 3.1 2.9 2.4 2.4 2.8 2.3 2.8 2.9 2.5 2.1 3.2 2.8 2.7 2.3 3.2 2.6 3 2.7 3 2.2 3.4 2.9 2.9 2.1 3.6 2.9 3 2.2 3.6 2.7 3.3 2.4 3.4 2.5 3.5 2.7 3.1 5.4-4 -2.3-3.5 -2.5-3.3 -2.6-3.4 -2.3-3.5 -2.8-3.2 -2.1-3.7 -2.8-3 -2.1-3.7 -2.8-3 -2.3-3.3 -2.5-3.2 -2.7-3 -2.1-3.4 -2.9-2.6 -2.1-3.2 -2.7-2.8 -2.6-2.7 -2.1-3 -2.9-2.4 -2.1-3.1 -2.6-2.7 -2.6-2.6 -2.1-3.1 -2.8-2.5 -2.4-2.8 -2.6-2.7 -2.7-2.3 -2.9-2.1 -3.1-1.3 -3.3-.9 -3.7 .2z" fill="#ed2c23"/>
<path d="M163.5 846.6l3.4-.1 3.5-.3 3.2-1.2 3.3-1.7 3.2-2.1 3.1-2.4 3.1-2.3 3-2.2 3-2.2 3.1-2 3-2.1 3-2.1 2.9-1.7 2.9-1.4 2.8-.9 2.9-.7 2.9-.5 2.9-.3 2.8 0 2.9 .3 2.9 .5 2.9 .7 2.8 .9 2.9 1.4 2.9 1.7 3 2.1 3 2.1 3.1 2 3 2.2 3 2.2 3.1 2.3 3.1 2.4 3.2 2.1 3.3 1.7 3.2 1.2 3.5 .3 3.4 .1 0 0 -2.7-2 -2.7-2.1 -2.9-1.3 -2.9-1.6 -2.8-2 -3-2.3 -3.1-2.3 -3.1-2.3 -3.1-2.2 -3.1-2.1 -3-2.1 -3.1-2.1 -3.2-1.9 -3.3-1.6 -3.3-1.1 -3.2-.7 -3.2-.6 -3.3-.3 -3.2 0 -3.3 .3 -3.2 .6 -3.2 .7 -3.3 1.1 -3.3 1.6 -3.2 1.9 -3.1 2.1 -3 2.1 -3.1 2.1 -3.1 2.2 -3.1 2.3 -3.1 2.3 -3 2.3 -2.8 2 -2.9 1.6 -2.9 1.3 -2.7 2.1 -2.7 2zM85.3 959.5l2.5-3.4 2.4-3.4 2.6-3.3 2.4-3.5 2.7-3.3 2.3-3.4 2.7-3.2 2.4-3.3 2.5-3.2 2.6-3.1 2.3-3.2 2.7-2.9 2.3-3.1 2.7-2.8 2.4-2.9 2.5-2.8 2.6-2.6 2.4-2.9 2.6-2.6 2.5-2.7 2.4-2.9 2.7-2.5 2.3-2.9 2.6-2.6 2.5-2.6 2.4-2.5 2.5-2.2 1.4-3.4 2.2-2.3 0 0 -2.7 1.7 -3.7 .9 -2.4 2.5 -2.6 2.4 -2.6 2.7 -2.4 2.8 -2.6 2.6 -2.3 3 -2.6 2.7 -2.5 2.7 -2.4 2.9 -2.6 2.5 -2.4 2.9 -2.5 2.8 -2.6 2.8 -2.3 3.1 -2.7 2.9 -2.3 3.2 -2.6 3.1 -2.5 3.2 -2.4 3.3 -2.6 3.2 -2.3 3.4 -2.7 3.3 -2.3 3.5 -2.7 3.3 -2.3 3.5 -2.6 3.3 -2.5 3.3zM283.8 874l2.2 2.3 1.4 3.3 2.4 2.3 2.5 2.5 2.5 2.5 2.4 2.8 2.7 2.6 2.4 2.8 2.5 2.8 2.6 2.6 2.4 2.9 2.6 2.6 2.5 2.7 2.4 2.9 2.7 2.7 2.3 3 2.6 2.9 2.5 3.1 2.5 3.1 2.6 3.1 2.3 3.3 2.7 3.1 2.3 3.4 2.7 3.2 2.4 3.5 2.6 3.3 2.4 3.4 2.5 3.4 2.6 3.3 2.4-1.8 -2.4-3.4 -2.5-3.3 -2.5-3.4 -2.5-3.5 -2.6-3.3 -2.3-3.5 -2.7-3.2 -2.3-3.4 -2.6-3.1 -2.4-3.3 -2.5-3.1 -2.6-3.1 -2.3-3.1 -2.7-2.8 -2.3-3.1 -2.6-2.7 -2.5-2.7 -2.4-2.9 -2.6-2.6 -2.4-2.9 -2.5-2.7 -2.5-2.7 -2.4-2.9 -2.6-2.6 -2.5-2.8 -2.5-2.5 -2.6-2.4 -3.6-.9 -2.7-1.7z" fill="#c51c22"/></g>
<ellipse cx="220.3" cy="812" rx="12" ry="6.5" fill="#c81e24" filter="url(#blur2)"/>
<ellipse cx="220.3" cy="812" rx="6" ry="4" fill="#a01a1e" filter="url(#blur2)"/>
<path d="M84 958.5 L87.9 953.1 L91.9 947.6 L95.8 942 L99.8 936.4 L103.7 930.8 L107.7 925.3 L111.6 920 L115.6 914.8 L119.5 909.8 L123.4 905 L127.4 900.2 L131.3 895.5 L135.3 890.9 L139.2 886.4 L143.2 882 L147.1 877.8 L151.1 873.7 L155 869.7 L159 865.7 L162.9 861.9 L166.8 858.1 L170.8 854.6 L174.7 851.3 L178.7 848.2 L182.6 845.3 L186.6 842.3 L190.5 839.1 L194.5 835.7 L198.4 832.3 L202.3 829.1 L206.3 826.2 L210.2 823.6 L214.2 821.5 L218.1 820.4 L222.1 820.4 L226 821.5 L230 823.6 L233.9 826.2 L237.9 829.1 L241.8 832.3 L245.7 835.7 L249.7 839.1 L253.6 842.3 L257.6 845.3 L261.5 848.2 L265.5 851.3 L269.4 854.6 L273.4 858.1 L277.3 861.9 L281.2 865.7 L285.2 869.7 L289.1 873.7 L293.1 877.8 L297 882 L301 886.4 L304.9 890.9 L308.9 895.5 L312.8 900.2 L316.8 905 L320.7 909.8 L324.6 914.8 L328.6 920 L332.5 925.3 L336.5 930.8 L340.4 936.4 L344.4 942 L348.3 947.6 L352.3 953.1 L356.2 958.5" stroke="#111" stroke-width="2.8" stroke-dasharray="2.8 3" fill="none"/>
<path d="M203 802.5 L206.1 804.2 L209.2 805.5 L212.3 806.4 L215.4 806.8 L218.5 807 L221.7 807 L224.8 806.8 L227.9 806.4 L231 805.5 L234.1 804.2 L237.2 802.5" stroke="#111" stroke-width="2.8" stroke-dasharray="2.8 3" fill="none"/>
<path d="M90.8 858.8 H349.8" stroke="#fff" stroke-width="2.6" stroke-dasharray="11.9 12.9" fill="none"/>
<path d="M84 960 L87.9 954.7 L91.9 949.4 L95.8 944 L99.8 938.7 L103.7 933.5 L107.7 928.4 L111.6 923.5 L115.6 918.7 L119.5 914 L123.4 909.6 L127.4 905.2 L131.3 900.9 L135.3 896.6 L139.2 892.2 L143.2 887.9 L147.1 883.8 L151.1 880 L155 876.6 L159 873.8 L162.9 871.3 L166.8 869.2 L170.8 867.4 L174.7 866 L178.7 864.8 L182.6 863.9 L186.6 863.2 L190.5 862.6 L194.5 862.2 L198.4 861.9 L202.3 861.6 L206.3 861.3 L210.2 861.1 L214.2 861 L218.1 861 L222.1 861 L226 861 L230 861.1 L233.9 861.3 L237.9 861.6 L241.8 861.9 L245.7 862.2 L249.7 862.6 L253.6 863.2 L257.6 863.9 L261.5 864.8 L265.5 866 L269.4 867.4 L273.4 869.2 L277.3 871.3 L281.2 873.8 L285.2 876.6 L289.1 880 L293.1 883.8 L297 887.9 L301 892.2 L304.9 896.6 L308.9 900.9 L312.8 905.2 L316.8 909.6 L320.7 914 L324.6 918.7 L328.6 923.5 L332.5 928.4 L336.5 933.5 L340.4 938.7 L344.4 944 L348.3 949.4 L352.3 954.7 L356.2 960" stroke="#fff" stroke-width="2.4" fill="none"/>
<path d="M84 856.1 L87.9 856 L91.9 855.9 L95.8 855.7 L99.8 855.6 L103.7 855.5 L107.7 855.3 L111.6 855.2 L115.6 855 L119.5 854.8 L123.4 854.7 L127.4 854.4 L131.3 854.2 L135.3 853.8 L139.2 853.4 L143.2 852.8 L147.1 852.1 L151.1 851.3 L155 850.3 L159 849.2 L162.9 847.8 L166.8 846.4 L170.8 844.9 L174.7 843.1 L178.7 840.5 L182.6 837.5 L186.6 834.5 L190.5 831.7 L194.5 829 L198.4 826.3 L202.3 823.8 L206.3 821.8 L210.2 820.5 L214.2 819.7 L218.1 819.3 L222.1 819.3 L226 819.7 L230 820.5 L233.9 821.8 L237.9 823.8 L241.8 826.3 L245.7 829 L249.7 831.7 L253.6 834.5 L257.6 837.5 L261.5 840.5 L265.5 843.1 L269.4 844.9 L273.4 846.4 L277.3 847.8 L281.2 849.2 L285.2 850.3 L289.1 851.3 L293.1 852.1 L297 852.8 L301 853.4 L304.9 853.8 L308.9 854.2 L312.8 854.4 L316.8 854.7 L320.7 854.8 L324.6 855 L328.6 855.2 L332.5 855.3 L336.5 855.5 L340.4 855.6 L344.4 855.7 L348.3 855.9 L352.3 856 L356.2 856.1" stroke="#fff" stroke-width="2.4" fill="none"/>
<path d="M84 755.6 L87.1 755.4 L90.1 755 L93.2 754.5 L96.2 754 L99.3 753.5 L102.4 753.2 L105.4 753 L108.5 753 L111.5 753.1 L114.6 753.3 L117.6 753.6 L120.7 754.2 L123.8 754.9 L126.8 755.8 L129.9 756.9 L132.9 758.2 L136 759.5 L139.1 761.1 L142.1 762.8 L145.2 764.7 L148.2 766.8 L151.3 768.8 L154.3 770.9 L157.4 772.9 L160.5 774.9 L163.5 776.8 L166.6 778.8 L169.6 780.8 L172.7 782.8 L175.8 784.7 L178.8 786.7 L181.9 788.7 L184.9 790.7 L188 792.7 L191 794.8 L194.1 796.7 L197.2 798.5 L200.2 800.1 L203.3 801.6 L206.3 802.9 L209.4 804 L212.5 804.8" stroke="#fff" stroke-width="2.4" fill="none"/>
<path d="M227.7 804.8 L230.8 804 L233.9 802.9 L236.9 801.6 L240 800.1 L243 798.5 L246.1 796.7 L249.2 794.8 L252.2 792.7 L255.3 790.7 L258.3 788.7 L261.4 786.7 L264.4 784.7 L267.5 782.8 L270.6 780.8 L273.6 778.8 L276.7 776.8 L279.7 774.9 L282.8 772.9 L285.9 770.9 L288.9 768.8 L292 766.8 L295 764.7 L298.1 762.8 L301.1 761.1 L304.2 759.5 L307.3 758.2 L310.3 756.9 L313.4 755.8 L316.4 754.9 L319.5 754.2 L322.6 753.6 L325.6 753.3 L328.7 753.1 L331.7 753 L334.8 753 L337.8 753.2 L340.9 753.5 L344 754 L347 754.5 L350.1 755 L353.1 755.4 L356.2 755.6" stroke="#fff" stroke-width="2.4" fill="none"/>
</g>
<text x="82.6" y="961.5" font-size="25.4" text-anchor="end" font-weight="normal" fill="#231f20">2.35</text>
<text x="82.6" y="901.3" font-size="25.4" text-anchor="end" font-weight="normal" fill="#231f20">2.4</text>
<text x="82.6" y="841.1" font-size="25.4" text-anchor="end" font-weight="normal" fill="#231f20">2.45</text>
<text x="82.6" y="780.9" font-size="25.4" text-anchor="end" font-weight="normal" fill="#231f20">2.5</text>
<text x="90.2" y="983.9" font-size="25.4" text-anchor="middle" font-weight="normal" fill="#231f20">-0.2</text>
<text x="214.4" y="983.9" font-size="25.4" text-anchor="middle" font-weight="normal" fill="#231f20">0</text>
<text x="339.3" y="983.9" font-size="25.4" text-anchor="middle" font-weight="normal" fill="#231f20">0.2</text>
<text x="162.3" y="1019.5" font-size="25.4" fill="#231f20">k<tspan dx="21.6">(2</tspan><tspan dx="2.6" font-family="'Liberation Serif', serif" font-style="italic" font-size="29">π</tspan><tspan dx="4.0">/a</tspan><tspan dx="1.8">)</tspan></text>
<text transform="translate(175.1 1037.1) scale(1 1.24)" font-size="20.5" fill="#231f20">||</text>
<text transform="translate(24.7 843.5) rotate(-90)" font-size="25.0" text-anchor="middle" fill="#231f20">Energy (eV)</text>
<rect x="363.8" y="735.5" width="15.8" height="216.4" fill="url(#jetg)"/>
<rect x="363.8" y="735.5" width="15.8" height="216.4" fill="none" stroke="#3a3a3a" stroke-width="0.7"/>
<text x="388" y="961.2" font-size="25.4" text-anchor="start" font-weight="normal" fill="#231f20">0</text>
<path d="M379.6 868.7 h-2.6" stroke="#262626" stroke-width="0.8"/>
<text x="388" y="878" font-size="25.4" text-anchor="start" font-weight="normal" fill="#231f20">5</text>
<path d="M379.6 785.4 h-2.6" stroke="#262626" stroke-width="0.8"/>
<text x="388" y="794.7" font-size="25.4" text-anchor="start" font-weight="normal" fill="#231f20">10</text>
<text x="388" y="744.8" font-size="25.4" text-anchor="start" font-weight="normal" fill="#231f20">13</text>
<text x="330.5" y="727.3" font-size="26.0" text-anchor="start" font-weight="normal" fill="#231f20">log(I)</text>
<text x="2.5" y="747.8" font-size="41.5" text-anchor="start" font-weight="bold" fill="#000">(f)</text>
<rect x="516.2" y="736" width="234.7" height="218.2" fill="#95cc6b"/>
<g filter="url(#blur05)">
<rect x="520.1" y="738.5" width="7.9" height="5.2" fill="#80c68a"/>
<rect x="527.8" y="738.5" width="4.0" height="5.2" fill="#72c5a2"/>
<rect x="531.6" y="738.5" width="4.0" height="5.2" fill="#4dc3d0"/>
<rect x="535.5" y="738.5" width="7.9" height="5.2" fill="#34c1e5"/>
<rect x="543.2" y="738.5" width="4.0" height="5.2" fill="#4dc3d0"/>
<rect x="547.0" y="738.5" width="4.0" height="5.2" fill="#72c5a2"/>
<rect x="550.9" y="738.5" width="7.9" height="5.2" fill="#80c68a"/>
<rect x="708.6" y="738.5" width="4.0" height="5.2" fill="#abd14c"/>
<rect x="712.5" y="738.5" width="4.0" height="5.2" fill="#c6da33"/>
<rect x="716.3" y="738.5" width="4.0" height="5.2" fill="#f9e015"/>
<rect x="720.2" y="738.5" width="7.8" height="5.2" fill="#fbc914"/>
<rect x="727.8" y="738.5" width="4.0" height="5.2" fill="#f9e015"/>
<rect x="731.7" y="738.5" width="4.0" height="5.2" fill="#c6da33"/>
<rect x="735.5" y="738.5" width="4.0" height="5.2" fill="#abd14c"/>
<rect x="516.2" y="743.6" width="7.9" height="5.2" fill="#33a2dd"/>
<rect x="523.9" y="743.6" width="7.9" height="5.2" fill="#3790d0"/>
<rect x="531.6" y="743.6" width="15.6" height="5.2" fill="#3b7ec3"/>
<rect x="547.0" y="743.6" width="7.9" height="5.2" fill="#3790d0"/>
<rect x="554.7" y="743.6" width="7.9" height="5.2" fill="#3b7ec3"/>
<rect x="562.4" y="743.6" width="4.0" height="5.2" fill="#3790d0"/>
<rect x="566.3" y="743.6" width="4.0" height="5.2" fill="#64c4ba"/>
<rect x="570.1" y="743.6" width="4.0" height="5.2" fill="#80c68a"/>
<rect x="689.4" y="743.6" width="4.0" height="5.2" fill="#abd14c"/>
<rect x="693.3" y="743.6" width="4.0" height="5.2" fill="#c6da33"/>
<rect x="697.1" y="743.6" width="4.0" height="5.2" fill="#fbb416"/>
<rect x="701.0" y="743.6" width="34.7" height="5.2" fill="#f8a01a"/>
<rect x="735.5" y="743.6" width="7.8" height="5.2" fill="#fbb416"/>
<rect x="743.2" y="743.6" width="4.0" height="5.2" fill="#fbc914"/>
<rect x="747.1" y="743.6" width="4.0" height="5.2" fill="#f9e015"/>
<rect x="516.2" y="748.6" width="38.7" height="5.2" fill="#80c68a"/>
<rect x="554.7" y="748.6" width="4.0" height="5.2" fill="#72c5a2"/>
<rect x="558.6" y="748.6" width="4.0" height="5.2" fill="#64c4ba"/>
<rect x="562.4" y="748.6" width="4.0" height="5.2" fill="#33a2dd"/>
<rect x="566.3" y="748.6" width="7.9" height="5.2" fill="#3e6cb6"/>
<rect x="574.0" y="748.6" width="4.0" height="5.2" fill="#64c4ba"/>
<rect x="577.9" y="748.6" width="4.0" height="5.2" fill="#80c68a"/>
<rect x="681.7" y="748.6" width="4.0" height="5.2" fill="#abd14c"/>
<rect x="685.6" y="748.6" width="4.0" height="5.2" fill="#e7e620"/>
<rect x="689.4" y="748.6" width="4.0" height="5.2" fill="#f47420"/>
<rect x="693.3" y="748.6" width="4.0" height="5.2" fill="#f68c1e"/>
<rect x="697.1" y="748.6" width="4.0" height="5.2" fill="#fbb416"/>
<rect x="701.0" y="748.6" width="4.0" height="5.2" fill="#e7e620"/>
<rect x="704.8" y="748.6" width="46.3" height="5.2" fill="#abd14c"/>
<rect x="562.4" y="753.6" width="7.9" height="5.2" fill="#80c68a"/>
<rect x="570.1" y="753.6" width="4.0" height="5.2" fill="#2cb6ea"/>
<rect x="574.0" y="753.6" width="4.0" height="5.2" fill="#3658aa"/>
<rect x="577.9" y="753.6" width="4.0" height="5.2" fill="#324da5"/>
<rect x="581.7" y="753.6" width="4.0" height="5.2" fill="#4dc3d0"/>
<rect x="585.6" y="753.6" width="4.0" height="5.2" fill="#80c68a"/>
<rect x="674.1" y="753.6" width="4.0" height="5.2" fill="#abd14c"/>
<rect x="677.9" y="753.6" width="4.0" height="5.2" fill="#f9e015"/>
<rect x="681.7" y="753.6" width="4.0" height="5.2" fill="#ed2b23"/>
<rect x="685.6" y="753.6" width="4.0" height="5.2" fill="#ef4422"/>
<rect x="689.4" y="753.6" width="4.0" height="5.2" fill="#fbb416"/>
<rect x="693.3" y="753.6" width="4.0" height="5.2" fill="#abd14c"/>
<rect x="574.0" y="758.6" width="4.0" height="5.2" fill="#72c5a2"/>
<rect x="577.9" y="758.6" width="4.0" height="5.2" fill="#33a2dd"/>
<rect x="581.7" y="758.6" width="7.9" height="5.2" fill="#2e439f"/>
<rect x="589.4" y="758.6" width="4.0" height="5.2" fill="#64c4ba"/>
<rect x="593.3" y="758.6" width="4.0" height="5.2" fill="#80c68a"/>
<rect x="666.4" y="758.6" width="4.0" height="5.2" fill="#abd14c"/>
<rect x="670.2" y="758.6" width="4.0" height="5.2" fill="#e7e620"/>
<rect x="674.1" y="758.6" width="7.8" height="5.2" fill="#cf1d23"/>
<rect x="681.7" y="758.6" width="4.0" height="5.2" fill="#f8a01a"/>
<rect x="685.6" y="758.6" width="4.0" height="5.2" fill="#c6da33"/>
<rect x="577.9" y="763.7" width="4.0" height="5.2" fill="#80c68a"/>
<rect x="581.7" y="763.7" width="4.0" height="5.2" fill="#72c5a2"/>
<rect x="585.6" y="763.7" width="4.0" height="5.2" fill="#33a2dd"/>
<rect x="589.4" y="763.7" width="4.0" height="5.2" fill="#2e439f"/>
<rect x="593.3" y="763.7" width="4.0" height="5.2" fill="#33a2dd"/>
<rect x="597.1" y="763.7" width="4.0" height="5.2" fill="#80c68a"/>
<rect x="662.5" y="763.7" width="4.0" height="5.2" fill="#abd14c"/>
<rect x="666.4" y="763.7" width="4.0" height="5.2" fill="#f8a01a"/>
<rect x="670.2" y="763.7" width="4.0" height="5.2" fill="#cf1d23"/>
<rect x="674.1" y="763.7" width="4.0" height="5.2" fill="#f68c1e"/>
<rect x="677.9" y="763.7" width="4.0" height="5.2" fill="#c6da33"/>
<rect x="681.7" y="763.7" width="4.0" height="5.2" fill="#abd14c"/>
<rect x="585.6" y="768.7" width="4.0" height="5.2" fill="#80c68a"/>
<rect x="589.4" y="768.7" width="4.0" height="5.2" fill="#64c4ba"/>
<rect x="593.3" y="768.7" width="7.9" height="5.2" fill="#2e439f"/>
<rect x="601.0" y="768.7" width="4.0" height="5.2" fill="#4dc3d0"/>
<rect x="604.8" y="768.7" width="4.0" height="5.2" fill="#80c68a"/>
<rect x="654.9" y="768.7" width="4.0" height="5.2" fill="#abd14c"/>
<rect x="658.7" y="768.7" width="4.0" height="5.2" fill="#f9e015"/>
<rect x="662.5" y="768.7" width="7.8" height="5.2" fill="#cf1d23"/>
<rect x="670.2" y="768.7" width="4.0" height="5.2" fill="#e7e620"/>
<rect x="674.1" y="768.7" width="4.0" height="5.2" fill="#abd14c"/>
<rect x="593.3" y="773.7" width="4.0" height="5.2" fill="#80c68a"/>
<rect x="597.1" y="773.7" width="4.0" height="5.2" fill="#2cb6ea"/>
<rect x="601.0" y="773.7" width="4.0" height="5.2" fill="#2e439f"/>
<rect x="604.8" y="773.7" width="4.0" height="5.2" fill="#324da5"/>
<rect x="608.7" y="773.7" width="4.0" height="5.2" fill="#64c4ba"/>
<rect x="612.5" y="773.7" width="4.0" height="5.2" fill="#80c68a"/>
<rect x="647.2" y="773.7" width="4.0" height="5.2" fill="#abd14c"/>
<rect x="651.0" y="773.7" width="4.0" height="5.2" fill="#c6da33"/>
<rect x="654.9" y="773.7" width="4.0" height="5.2" fill="#e21e24"/>
<rect x="658.7" y="773.7" width="4.0" height="5.2" fill="#cf1d23"/>
<rect x="662.5" y="773.7" width="4.0" height="5.2" fill="#f8a01a"/>
<rect x="666.4" y="773.7" width="4.0" height="5.2" fill="#abd14c"/>
<rect x="601.0" y="778.8" width="4.0" height="5.2" fill="#72c5a2"/>
<rect x="604.8" y="778.8" width="4.0" height="5.2" fill="#3e6cb6"/>
<rect x="608.7" y="778.8" width="4.0" height="5.2" fill="#2e439f"/>
<rect x="612.5" y="778.8" width="4.0" height="5.2" fill="#3790d0"/>
<rect x="616.4" y="778.8" width="4.0" height="5.2" fill="#80c68a"/>
<rect x="643.3" y="778.8" width="4.0" height="5.2" fill="#abd14c"/>
<rect x="647.2" y="778.8" width="4.0" height="5.2" fill="#f68c1e"/>
<rect x="651.0" y="778.8" width="4.0" height="5.2" fill="#cf1d23"/>
<rect x="654.9" y="778.8" width="4.0" height="5.2" fill="#f15c21"/>
<rect x="658.7" y="778.8" width="4.0" height="5.2" fill="#c6da33"/>
<rect x="662.5" y="778.8" width="4.0" height="5.2" fill="#abd14c"/>
<rect x="604.8" y="783.8" width="4.0" height="5.2" fill="#80c68a"/>
<rect x="608.7" y="783.8" width="4.0" height="5.2" fill="#64c4ba"/>
<rect x="612.5" y="783.8" width="4.0" height="5.2" fill="#324da5"/>
<rect x="616.4" y="783.8" width="4.0" height="5.2" fill="#3658aa"/>
<rect x="620.2" y="783.8" width="4.0" height="5.2" fill="#80c68a"/>
<rect x="639.5" y="783.8" width="4.0" height="5.2" fill="#abd14c"/>
<rect x="643.3" y="783.8" width="4.0" height="5.2" fill="#ed2b23"/>
<rect x="647.2" y="783.8" width="4.0" height="5.2" fill="#e21e24"/>
<rect x="651.0" y="783.8" width="4.0" height="5.2" fill="#e7e620"/>
<rect x="654.9" y="783.8" width="4.0" height="5.2" fill="#abd14c"/>
<rect x="612.5" y="788.8" width="4.0" height="5.2" fill="#80c68a"/>
<rect x="616.4" y="788.8" width="4.0" height="5.2" fill="#2cb6ea"/>
<rect x="620.2" y="788.8" width="4.0" height="5.2" fill="#3a62b0"/>
<rect x="624.1" y="788.8" width="4.0" height="5.2" fill="#72c5a2"/>
<rect x="635.6" y="788.8" width="4.0" height="5.2" fill="#c6da33"/>
<rect x="639.5" y="788.8" width="4.0" height="5.2" fill="#ef4422"/>
<rect x="643.3" y="788.8" width="4.0" height="5.2" fill="#fbb416"/>
<rect x="647.2" y="788.8" width="4.0" height="5.2" fill="#abd14c"/>
<rect x="620.2" y="793.9" width="4.0" height="5.2" fill="#64c4ba"/>
<rect x="624.1" y="793.9" width="4.0" height="5.2" fill="#3790d0"/>
<rect x="627.9" y="793.9" width="4.0" height="5.2" fill="#80c68a"/>
<rect x="631.8" y="793.9" width="4.0" height="5.2" fill="#abd14c"/>
<rect x="635.6" y="793.9" width="4.0" height="5.2" fill="#f68c1e"/>
<rect x="639.5" y="793.9" width="4.0" height="5.2" fill="#e7e620"/>
<rect x="624.1" y="798.9" width="4.0" height="5.2" fill="#80c68a"/>
<rect x="627.9" y="798.9" width="4.0" height="5.2" fill="#34c1e5"/>
<rect x="631.8" y="798.9" width="4.0" height="5.2" fill="#fbc914"/>
<rect x="635.6" y="798.9" width="4.0" height="5.2" fill="#abd14c"/>
<rect x="608.7" y="803.9" width="15.6" height="5.2" fill="#abd14c"/>
<rect x="624.1" y="803.9" width="4.0" height="5.2" fill="#e7e620"/>
<rect x="627.9" y="803.9" width="4.0" height="5.2" fill="#fbb416"/>
<rect x="631.8" y="803.9" width="4.0" height="5.2" fill="#2cb6ea"/>
<rect x="635.6" y="803.9" width="4.0" height="5.2" fill="#64c4ba"/>
<rect x="639.5" y="803.9" width="15.5" height="5.2" fill="#80c68a"/>
<rect x="604.8" y="809.0" width="7.9" height="5.2" fill="#abd14c"/>
<rect x="612.5" y="809.0" width="4.0" height="5.2" fill="#c6da33"/>
<rect x="616.4" y="809.0" width="4.0" height="5.2" fill="#f9e015"/>
<rect x="620.2" y="809.0" width="4.0" height="5.2" fill="#f47420"/>
<rect x="624.1" y="809.0" width="4.0" height="5.2" fill="#e21e24"/>
<rect x="627.9" y="809.0" width="4.0" height="5.2" fill="#c6da33"/>
<rect x="631.8" y="809.0" width="4.0" height="5.2" fill="#72c5a2"/>
<rect x="635.6" y="809.0" width="4.0" height="5.2" fill="#324da5"/>
<rect x="639.5" y="809.0" width="4.0" height="5.2" fill="#3b7ec3"/>
<rect x="643.3" y="809.0" width="4.0" height="5.2" fill="#4dc3d0"/>
<rect x="647.2" y="809.0" width="4.0" height="5.2" fill="#72c5a2"/>
<rect x="651.0" y="809.0" width="7.8" height="5.2" fill="#80c68a"/>
<rect x="601.0" y="814.0" width="7.9" height="5.2" fill="#abd14c"/>
<rect x="608.7" y="814.0" width="4.0" height="5.2" fill="#e7e620"/>
<rect x="612.5" y="814.0" width="4.0" height="5.2" fill="#f8a01a"/>
<rect x="616.4" y="814.0" width="4.0" height="5.2" fill="#b91c21"/>
<rect x="620.2" y="814.0" width="4.0" height="5.2" fill="#80181a"/>
<rect x="624.1" y="814.0" width="4.0" height="5.2" fill="#e7e620"/>
<rect x="635.6" y="814.0" width="4.0" height="5.2" fill="#64c4ba"/>
<rect x="639.5" y="814.0" width="4.0" height="5.2" fill="#292d81"/>
<rect x="643.3" y="814.0" width="4.0" height="5.2" fill="#2b3b98"/>
<rect x="647.2" y="814.0" width="4.0" height="5.2" fill="#33a2dd"/>
<rect x="651.0" y="814.0" width="4.0" height="5.2" fill="#64c4ba"/>
<rect x="654.9" y="814.0" width="7.8" height="5.2" fill="#80c68a"/>
<rect x="597.1" y="819.0" width="7.9" height="5.2" fill="#abd14c"/>
<rect x="604.8" y="819.0" width="4.0" height="5.2" fill="#e7e620"/>
<rect x="608.7" y="819.0" width="4.0" height="5.2" fill="#f47420"/>
<rect x="612.5" y="819.0" width="7.9" height="5.2" fill="#80181a"/>
<rect x="620.2" y="819.0" width="4.0" height="5.2" fill="#fbc914"/>
<rect x="639.5" y="819.0" width="4.0" height="5.2" fill="#34c1e5"/>
<rect x="643.3" y="819.0" width="7.8" height="5.2" fill="#2a2a7a"/>
<rect x="651.0" y="819.0" width="4.0" height="5.2" fill="#3b7ec3"/>
<rect x="654.9" y="819.0" width="4.0" height="5.2" fill="#64c4ba"/>
<rect x="658.7" y="819.0" width="7.8" height="5.2" fill="#80c68a"/>
<rect x="593.3" y="824.0" width="4.0" height="5.2" fill="#abd14c"/>
<rect x="597.1" y="824.0" width="4.0" height="5.2" fill="#c6da33"/>
<rect x="601.0" y="824.0" width="4.0" height="5.2" fill="#f9e015"/>
<rect x="604.8" y="824.0" width="4.0" height="5.2" fill="#f15c21"/>
<rect x="608.7" y="824.0" width="7.9" height="5.2" fill="#80181a"/>
<rect x="616.4" y="824.0" width="4.0" height="5.2" fill="#f8a01a"/>
<rect x="620.2" y="824.0" width="4.0" height="5.2" fill="#abd14c"/>
<rect x="639.5" y="824.0" width="4.0" height="5.2" fill="#80c68a"/>
<rect x="643.3" y="824.0" width="4.0" height="5.2" fill="#33a2dd"/>
<rect x="647.2" y="824.0" width="7.8" height="5.2" fill="#2a2a7a"/>
<rect x="654.9" y="824.0" width="4.0" height="5.2" fill="#3e6cb6"/>
<rect x="658.7" y="824.0" width="4.0" height="5.2" fill="#4dc3d0"/>
<rect x="662.5" y="824.0" width="4.0" height="5.2" fill="#72c5a2"/>
<rect x="666.4" y="824.0" width="4.0" height="5.2" fill="#80c68a"/>
<rect x="589.4" y="829.1" width="4.0" height="5.2" fill="#abd14c"/>
<rect x="593.3" y="829.1" width="4.0" height="5.2" fill="#c6da33"/>
<rect x="597.1" y="829.1" width="4.0" height="5.2" fill="#f9e015"/>
<rect x="601.0" y="829.1" width="4.0" height="5.2" fill="#ef4422"/>
<rect x="604.8" y="829.1" width="7.9" height="5.2" fill="#80181a"/>
<rect x="612.5" y="829.1" width="4.0" height="5.2" fill="#f68c1e"/>
<rect x="616.4" y="829.1" width="4.0" height="5.2" fill="#c6da33"/>
<rect x="643.3" y="829.1" width="4.0" height="5.2" fill="#72c5a2"/>
<rect x="647.2" y="829.1" width="4.0" height="5.2" fill="#3790d0"/>
<rect x="651.0" y="829.1" width="7.8" height="5.2" fill="#2a2a7a"/>
<rect x="658.7" y="829.1" width="4.0" height="5.2" fill="#3658aa"/>
<rect x="662.5" y="829.1" width="4.0" height="5.2" fill="#4dc3d0"/>
<rect x="666.4" y="829.1" width="4.0" height="5.2" fill="#72c5a2"/>
<rect x="670.2" y="829.1" width="4.0" height="5.2" fill="#80c68a"/>
<rect x="585.6" y="834.1" width="4.0" height="5.2" fill="#abd14c"/>
<rect x="589.4" y="834.1" width="4.0" height="5.2" fill="#c6da33"/>
<rect x="593.3" y="834.1" width="4.0" height="5.2" fill="#fbc914"/>
<rect x="597.1" y="834.1" width="4.0" height="5.2" fill="#e21e24"/>
<rect x="601.0" y="834.1" width="7.9" height="5.2" fill="#80181a"/>
<rect x="608.7" y="834.1" width="4.0" height="5.2" fill="#f68c1e"/>
<rect x="612.5" y="834.1" width="4.0" height="5.2" fill="#e7e620"/>
<rect x="616.4" y="834.1" width="4.0" height="5.2" fill="#abd14c"/>
<rect x="643.3" y="834.1" width="4.0" height="5.2" fill="#80c68a"/>
<rect x="647.2" y="834.1" width="4.0" height="5.2" fill="#72c5a2"/>
<rect x="651.0" y="834.1" width="4.0" height="5.2" fill="#3790d0"/>
<rect x="654.9" y="834.1" width="4.0" height="5.2" fill="#292d81"/>
<rect x="658.7" y="834.1" width="4.0" height="5.2" fill="#2a2a7a"/>
<rect x="662.5" y="834.1" width="4.0" height="5.2" fill="#324da5"/>
<rect x="666.4" y="834.1" width="4.0" height="5.2" fill="#34c1e5"/>
<rect x="670.2" y="834.1" width="4.0" height="5.2" fill="#72c5a2"/>
<rect x="674.1" y="834.1" width="4.0" height="5.2" fill="#80c68a"/>
<rect x="585.6" y="839.1" width="4.0" height="5.2" fill="#e7e620"/>
<rect x="589.4" y="839.1" width="4.0" height="5.2" fill="#f8a01a"/>
<rect x="593.3" y="839.1" width="4.0" height="5.2" fill="#b91c21"/>
<rect x="597.1" y="839.1" width="7.9" height="5.2" fill="#80181a"/>
<rect x="604.8" y="839.1" width="4.0" height="5.2" fill="#f8a01a"/>
<rect x="608.7" y="839.1" width="4.0" height="5.2" fill="#e7e620"/>
<rect x="612.5" y="839.1" width="4.0" height="5.2" fill="#abd14c"/>
<rect x="647.2" y="839.1" width="4.0" height="5.2" fill="#80c68a"/>
<rect x="651.0" y="839.1" width="4.0" height="5.2" fill="#64c4ba"/>
<rect x="654.9" y="839.1" width="4.0" height="5.2" fill="#33a2dd"/>
<rect x="658.7" y="839.1" width="4.0" height="5.2" fill="#283089"/>
<rect x="662.5" y="839.1" width="4.0" height="5.2" fill="#2a2a7a"/>
<rect x="666.4" y="839.1" width="4.0" height="5.2" fill="#2b3b98"/>
<rect x="670.2" y="839.1" width="4.0" height="5.2" fill="#33a2dd"/>
<rect x="674.1" y="839.1" width="4.0" height="5.2" fill="#64c4ba"/>
<rect x="581.7" y="844.2" width="4.0" height="5.2" fill="#abd14c"/>
<rect x="585.6" y="844.2" width="4.0" height="5.2" fill="#f47420"/>
<rect x="589.4" y="844.2" width="7.9" height="5.2" fill="#80181a"/>
<rect x="597.1" y="844.2" width="4.0" height="5.2" fill="#b91c21"/>
<rect x="601.0" y="844.2" width="4.0" height="5.2" fill="#fbb416"/>
<rect x="604.8" y="844.2" width="4.0" height="5.2" fill="#c6da33"/>
<rect x="608.7" y="844.2" width="4.0" height="5.2" fill="#abd14c"/>
<rect x="651.0" y="844.2" width="4.0" height="5.2" fill="#80c68a"/>
<rect x="654.9" y="844.2" width="4.0" height="5.2" fill="#72c5a2"/>
<rect x="658.7" y="844.2" width="4.0" height="5.2" fill="#2cb6ea"/>
<rect x="662.5" y="844.2" width="4.0" height="5.2" fill="#2e439f"/>
<rect x="666.4" y="844.2" width="4.0" height="5.2" fill="#2a2a7a"/>
<rect x="670.2" y="844.2" width="4.0" height="5.2" fill="#292d81"/>
<rect x="674.1" y="844.2" width="4.0" height="5.2" fill="#3b7ec3"/>
<rect x="677.9" y="844.2" width="4.0" height="5.2" fill="#80c68a"/>
<rect x="581.7" y="849.2" width="4.0" height="5.2" fill="#f9e015"/>
<rect x="585.6" y="849.2" width="4.0" height="5.2" fill="#b91c21"/>
<rect x="589.4" y="849.2" width="4.0" height="5.2" fill="#80181a"/>
<rect x="593.3" y="849.2" width="4.0" height="5.2" fill="#ed2b23"/>
<rect x="597.1" y="849.2" width="4.0" height="5.2" fill="#fbc914"/>
<rect x="601.0" y="849.2" width="4.0" height="5.2" fill="#c6da33"/>
<rect x="604.8" y="849.2" width="7.9" height="5.2" fill="#abd14c"/>
<rect x="651.0" y="849.2" width="7.8" height="5.2" fill="#80c68a"/>
<rect x="658.7" y="849.2" width="4.0" height="5.2" fill="#72c5a2"/>
<rect x="662.5" y="849.2" width="4.0" height="5.2" fill="#34c1e5"/>
<rect x="666.4" y="849.2" width="4.0" height="5.2" fill="#3658aa"/>
<rect x="670.2" y="849.2" width="4.0" height="5.2" fill="#292d81"/>
<rect x="674.1" y="849.2" width="4.0" height="5.2" fill="#293590"/>
<rect x="677.9" y="849.2" width="4.0" height="5.2" fill="#4dc3d0"/>
<rect x="581.7" y="854.2" width="4.0" height="5.2" fill="#fbb416"/>
<rect x="585.6" y="854.2" width="4.0" height="5.2" fill="#ef4422"/>
<rect x="589.4" y="854.2" width="4.0" height="5.2" fill="#f8a01a"/>
<rect x="593.3" y="854.2" width="4.0" height="5.2" fill="#f9e015"/>
<rect x="597.1" y="854.2" width="4.0" height="5.2" fill="#c6da33"/>
<rect x="601.0" y="854.2" width="7.9" height="5.2" fill="#abd14c"/>
<rect x="654.9" y="854.2" width="7.8" height="5.2" fill="#80c68a"/>
<rect x="662.5" y="854.2" width="4.0" height="5.2" fill="#72c5a2"/>
<rect x="666.4" y="854.2" width="4.0" height="5.2" fill="#4dc3d0"/>
<rect x="670.2" y="854.2" width="4.0" height="5.2" fill="#33a2dd"/>
<rect x="674.1" y="854.2" width="4.0" height="5.2" fill="#3a62b0"/>
<rect x="677.9" y="854.2" width="4.0" height="5.2" fill="#2cb6ea"/>
<rect x="581.7" y="859.2" width="7.9" height="5.2" fill="#e7e620"/>
<rect x="589.4" y="859.2" width="4.0" height="5.2" fill="#c6da33"/>
<rect x="593.3" y="859.2" width="7.9" height="5.2" fill="#abd14c"/>
<rect x="662.5" y="859.2" width="7.8" height="5.2" fill="#80c68a"/>
<rect x="670.2" y="859.2" width="4.0" height="5.2" fill="#72c5a2"/>
<rect x="674.1" y="859.2" width="4.0" height="5.2" fill="#4dc3d0"/>
<rect x="677.9" y="859.2" width="4.0" height="5.2" fill="#64c4ba"/>
<rect x="581.7" y="864.3" width="15.6" height="5.2" fill="#abd14c"/>
<rect x="666.4" y="864.3" width="15.5" height="5.2" fill="#80c68a"/>
<rect x="574.0" y="869.3" width="7.9" height="5.2" fill="#abd14c"/>
<rect x="585.6" y="869.3" width="4.0" height="5.2" fill="#abd14c"/>
<rect x="674.1" y="869.3" width="4.0" height="5.2" fill="#80c68a"/>
<rect x="681.7" y="869.3" width="7.8" height="5.2" fill="#80c68a"/>
<rect x="570.1" y="874.3" width="4.0" height="5.2" fill="#c6da33"/>
<rect x="574.0" y="874.3" width="4.0" height="5.2" fill="#fbb416"/>
<rect x="577.9" y="874.3" width="4.0" height="5.2" fill="#abd14c"/>
<rect x="681.7" y="874.3" width="4.0" height="5.2" fill="#80c68a"/>
<rect x="685.6" y="874.3" width="4.0" height="5.2" fill="#34c1e5"/>
<rect x="689.4" y="874.3" width="4.0" height="5.2" fill="#80c68a"/>
<rect x="566.3" y="879.4" width="4.0" height="5.2" fill="#f9e015"/>
<rect x="570.1" y="879.4" width="4.0" height="5.2" fill="#f68c1e"/>
<rect x="574.0" y="879.4" width="4.0" height="5.2" fill="#e7e620"/>
<rect x="685.6" y="879.4" width="4.0" height="5.2" fill="#72c5a2"/>
<rect x="689.4" y="879.4" width="4.0" height="5.2" fill="#2cb6ea"/>
<rect x="693.3" y="879.4" width="4.0" height="5.2" fill="#64c4ba"/>
<rect x="562.4" y="884.4" width="4.0" height="5.2" fill="#fbb416"/>
<rect x="566.3" y="884.4" width="4.0" height="5.2" fill="#f47420"/>
<rect x="570.1" y="884.4" width="4.0" height="5.2" fill="#abd14c"/>
<rect x="689.4" y="884.4" width="4.0" height="5.2" fill="#80c68a"/>
<rect x="693.3" y="884.4" width="4.0" height="5.2" fill="#33a2dd"/>
<rect x="697.1" y="884.4" width="4.0" height="5.2" fill="#34c1e5"/>
<rect x="558.6" y="889.4" width="4.0" height="5.2" fill="#f8a01a"/>
<rect x="562.4" y="889.4" width="4.0" height="5.2" fill="#f15c21"/>
<rect x="566.3" y="889.4" width="4.0" height="5.2" fill="#abd14c"/>
<rect x="693.3" y="889.4" width="4.0" height="5.2" fill="#80c68a"/>
<rect x="697.1" y="889.4" width="4.0" height="5.2" fill="#33a2dd"/>
<rect x="701.0" y="889.4" width="4.0" height="5.2" fill="#2cb6ea"/>
<rect x="554.7" y="894.5" width="4.0" height="5.2" fill="#fbb416"/>
<rect x="558.6" y="894.5" width="4.0" height="5.2" fill="#f68c1e"/>
<rect x="562.4" y="894.5" width="4.0" height="5.2" fill="#abd14c"/>
<rect x="697.1" y="894.5" width="4.0" height="5.2" fill="#80c68a"/>
<rect x="701.0" y="894.5" width="4.0" height="5.2" fill="#2cb6ea"/>
<rect x="704.8" y="894.5" width="4.0" height="5.2" fill="#34c1e5"/>
<rect x="550.9" y="899.5" width="4.0" height="5.2" fill="#fbc914"/>
<rect x="554.7" y="899.5" width="4.0" height="5.2" fill="#f8a01a"/>
<rect x="558.6" y="899.5" width="4.0" height="5.2" fill="#abd14c"/>
<rect x="704.8" y="899.5" width="4.0" height="5.2" fill="#34c1e5"/>
<rect x="708.6" y="899.5" width="4.0" height="5.2" fill="#4dc3d0"/>
<rect x="547.0" y="904.5" width="4.0" height="5.2" fill="#f9e015"/>
<rect x="550.9" y="904.5" width="4.0" height="5.2" fill="#fbb416"/>
<rect x="554.7" y="904.5" width="4.0" height="5.2" fill="#abd14c"/>
<rect x="708.6" y="904.5" width="4.0" height="5.2" fill="#34c1e5"/>
<rect x="712.5" y="904.5" width="4.0" height="5.2" fill="#4dc3d0"/>
<rect x="543.2" y="909.5" width="4.0" height="5.2" fill="#e7e620"/>
<rect x="547.0" y="909.5" width="4.0" height="5.2" fill="#fbb416"/>
<rect x="654.9" y="909.5" width="11.7" height="5.2" fill="#abd14c"/>
<rect x="712.5" y="909.5" width="4.0" height="5.2" fill="#34c1e5"/>
<rect x="716.3" y="909.5" width="4.0" height="5.2" fill="#64c4ba"/>
<rect x="539.3" y="914.6" width="4.0" height="5.2" fill="#e7e620"/>
<rect x="543.2" y="914.6" width="4.0" height="5.2" fill="#fbb416"/>
<rect x="585.6" y="914.6" width="31.0" height="5.2" fill="#80c68a"/>
<rect x="643.3" y="914.6" width="38.6" height="5.2" fill="#abd14c"/>
<rect x="716.3" y="914.6" width="4.0" height="5.2" fill="#34c1e5"/>
<rect x="720.2" y="914.6" width="4.0" height="5.2" fill="#64c4ba"/>
<rect x="535.5" y="919.6" width="4.0" height="5.2" fill="#c6da33"/>
<rect x="539.3" y="919.6" width="4.0" height="5.2" fill="#fbb416"/>
<rect x="581.7" y="919.6" width="42.5" height="5.2" fill="#80c68a"/>
<rect x="635.6" y="919.6" width="19.4" height="5.2" fill="#abd14c"/>
<rect x="654.9" y="919.6" width="15.5" height="5.2" fill="#c6da33"/>
<rect x="670.2" y="919.6" width="15.5" height="5.2" fill="#abd14c"/>
<rect x="720.2" y="919.6" width="4.0" height="5.2" fill="#34c1e5"/>
<rect x="724.0" y="919.6" width="4.0" height="5.2" fill="#72c5a2"/>
<rect x="531.6" y="924.6" width="4.0" height="5.2" fill="#c6da33"/>
<rect x="535.5" y="924.6" width="4.0" height="5.2" fill="#fbc914"/>
<rect x="539.3" y="924.6" width="4.0" height="5.2" fill="#abd14c"/>
<rect x="577.9" y="924.6" width="19.4" height="5.2" fill="#80c68a"/>
<rect x="597.1" y="924.6" width="27.1" height="5.2" fill="#72c5a2"/>
<rect x="624.1" y="924.6" width="4.0" height="5.2" fill="#80c68a"/>
<rect x="635.6" y="924.6" width="4.0" height="5.2" fill="#abd14c"/>
<rect x="639.5" y="924.6" width="4.0" height="5.2" fill="#c6da33"/>
<rect x="643.3" y="924.6" width="11.7" height="5.2" fill="#e7e620"/>
<rect x="654.9" y="924.6" width="19.4" height="5.2" fill="#c6da33"/>
<rect x="674.1" y="924.6" width="15.5" height="5.2" fill="#abd14c"/>
<rect x="724.0" y="924.6" width="4.0" height="5.2" fill="#4dc3d0"/>
<rect x="727.8" y="924.6" width="4.0" height="5.2" fill="#72c5a2"/>
<rect x="527.8" y="929.7" width="4.0" height="5.2" fill="#abd14c"/>
<rect x="531.6" y="929.7" width="4.0" height="5.2" fill="#fbc914"/>
<rect x="535.5" y="929.7" width="4.0" height="5.2" fill="#abd14c"/>
<rect x="577.9" y="929.7" width="15.6" height="5.2" fill="#80c68a"/>
<rect x="593.3" y="929.7" width="7.9" height="5.2" fill="#72c5a2"/>
<rect x="601.0" y="929.7" width="4.0" height="5.2" fill="#64c4ba"/>
<rect x="604.8" y="929.7" width="4.0" height="5.2" fill="#34c1e5"/>
<rect x="608.7" y="929.7" width="4.0" height="5.2" fill="#2cb6ea"/>
<rect x="612.5" y="929.7" width="4.0" height="5.2" fill="#34c1e5"/>
<rect x="616.4" y="929.7" width="4.0" height="5.2" fill="#4dc3d0"/>
<rect x="620.2" y="929.7" width="4.0" height="5.2" fill="#72c5a2"/>
<rect x="624.1" y="929.7" width="4.0" height="5.2" fill="#80c68a"/>
<rect x="635.6" y="929.7" width="4.0" height="5.2" fill="#abd14c"/>
<rect x="639.5" y="929.7" width="4.0" height="5.2" fill="#c6da33"/>
<rect x="643.3" y="929.7" width="4.0" height="5.2" fill="#f9e015"/>
<rect x="647.2" y="929.7" width="4.0" height="5.2" fill="#fbc914"/>
<rect x="651.0" y="929.7" width="4.0" height="5.2" fill="#fbb416"/>
<rect x="654.9" y="929.7" width="4.0" height="5.2" fill="#fbc914"/>
<rect x="658.7" y="929.7" width="4.0" height="5.2" fill="#f9e015"/>
<rect x="662.5" y="929.7" width="4.0" height="5.2" fill="#e7e620"/>
<rect x="666.4" y="929.7" width="7.8" height="5.2" fill="#c6da33"/>
<rect x="674.1" y="929.7" width="11.7" height="5.2" fill="#abd14c"/>
<rect x="727.8" y="929.7" width="4.0" height="5.2" fill="#4dc3d0"/>
<rect x="731.7" y="929.7" width="4.0" height="5.2" fill="#80c68a"/>
<rect x="523.9" y="934.7" width="4.0" height="5.2" fill="#abd14c"/>
<rect x="527.8" y="934.7" width="4.0" height="5.2" fill="#f9e015"/>
<rect x="531.6" y="934.7" width="4.0" height="5.2" fill="#abd14c"/>
<rect x="581.7" y="934.7" width="7.9" height="5.2" fill="#80c68a"/>
<rect x="589.4" y="934.7" width="4.0" height="5.2" fill="#72c5a2"/>
<rect x="593.3" y="934.7" width="4.0" height="5.2" fill="#64c4ba"/>
<rect x="597.1" y="934.7" width="4.0" height="5.2" fill="#2cb6ea"/>
<rect x="601.0" y="934.7" width="4.0" height="5.2" fill="#33a2dd"/>
<rect x="604.8" y="934.7" width="4.0" height="5.2" fill="#3790d0"/>
<rect x="608.7" y="934.7" width="4.0" height="5.2" fill="#2cb6ea"/>
<rect x="612.5" y="934.7" width="4.0" height="5.2" fill="#4dc3d0"/>
<rect x="616.4" y="934.7" width="4.0" height="5.2" fill="#72c5a2"/>
<rect x="620.2" y="934.7" width="4.0" height="5.2" fill="#80c68a"/>
<rect x="639.5" y="934.7" width="4.0" height="5.2" fill="#abd14c"/>
<rect x="643.3" y="934.7" width="4.0" height="5.2" fill="#c6da33"/>
<rect x="647.2" y="934.7" width="4.0" height="5.2" fill="#f9e015"/>
<rect x="651.0" y="934.7" width="4.0" height="5.2" fill="#fbb416"/>
<rect x="654.9" y="934.7" width="7.8" height="5.2" fill="#f68c1e"/>
<rect x="662.5" y="934.7" width="4.0" height="5.2" fill="#f8a01a"/>
<rect x="666.4" y="934.7" width="4.0" height="5.2" fill="#fbc914"/>
<rect x="670.2" y="934.7" width="4.0" height="5.2" fill="#e7e620"/>
<rect x="674.1" y="934.7" width="11.7" height="5.2" fill="#abd14c"/>
<rect x="731.7" y="934.7" width="4.0" height="5.2" fill="#4dc3d0"/>
<rect x="735.5" y="934.7" width="4.0" height="5.2" fill="#80c68a"/>
<rect x="520.1" y="939.7" width="4.0" height="5.2" fill="#abd14c"/>
<rect x="523.9" y="939.7" width="4.0" height="5.2" fill="#e7e620"/>
<rect x="527.8" y="939.7" width="4.0" height="5.2" fill="#abd14c"/>
<rect x="581.7" y="939.7" width="4.0" height="5.2" fill="#80c68a"/>
<rect x="585.6" y="939.7" width="4.0" height="5.2" fill="#72c5a2"/>
<rect x="589.4" y="939.7" width="4.0" height="5.2" fill="#64c4ba"/>
<rect x="593.3" y="939.7" width="11.7" height="5.2" fill="#34c1e5"/>
<rect x="604.8" y="939.7" width="4.0" height="5.2" fill="#64c4ba"/>
<rect x="608.7" y="939.7" width="4.0" height="5.2" fill="#72c5a2"/>
<rect x="612.5" y="939.7" width="4.0" height="5.2" fill="#80c68a"/>
<rect x="643.3" y="939.7" width="7.8" height="5.2" fill="#abd14c"/>
<rect x="651.0" y="939.7" width="4.0" height="5.2" fill="#c6da33"/>
<rect x="654.9" y="939.7" width="4.0" height="5.2" fill="#f9e015"/>
<rect x="658.7" y="939.7" width="4.0" height="5.2" fill="#fbc914"/>
<rect x="662.5" y="939.7" width="4.0" height="5.2" fill="#f8a01a"/>
<rect x="666.4" y="939.7" width="4.0" height="5.2" fill="#fbb416"/>
<rect x="670.2" y="939.7" width="4.0" height="5.2" fill="#fbc914"/>
<rect x="674.1" y="939.7" width="4.0" height="5.2" fill="#e7e620"/>
<rect x="677.9" y="939.7" width="7.8" height="5.2" fill="#abd14c"/>
<rect x="735.5" y="939.7" width="4.0" height="5.2" fill="#64c4ba"/>
<rect x="739.4" y="939.7" width="4.0" height="5.2" fill="#80c68a"/>
<rect x="520.1" y="944.8" width="4.0" height="5.2" fill="#e7e620"/>
<rect x="577.9" y="944.8" width="7.9" height="5.2" fill="#80c68a"/>
<rect x="585.6" y="944.8" width="11.7" height="5.2" fill="#72c5a2"/>
<rect x="597.1" y="944.8" width="7.9" height="5.2" fill="#80c68a"/>
<rect x="654.9" y="944.8" width="7.8" height="5.2" fill="#abd14c"/>
<rect x="662.5" y="944.8" width="4.0" height="5.2" fill="#c6da33"/>
<rect x="666.4" y="944.8" width="11.7" height="5.2" fill="#e7e620"/>
<rect x="677.9" y="944.8" width="4.0" height="5.2" fill="#c6da33"/>
<rect x="681.7" y="944.8" width="4.0" height="5.2" fill="#abd14c"/>
<rect x="739.4" y="944.8" width="4.0" height="5.2" fill="#72c5a2"/>
<rect x="516.2" y="949.8" width="4.0" height="4.6" fill="#c6da33"/>
<rect x="670.2" y="949.8" width="15.5" height="4.6" fill="#abd14c"/>
<rect x="743.2" y="949.8" width="4.0" height="4.6" fill="#80c68a"/>
</g>
<path d="M631.8 736 V954.2" stroke="#c4dca0" stroke-width="0.7" opacity="0.8"/>
<rect x="510.6" y="736" width="246" height="218.5" fill="none" stroke="#262626" stroke-width="0.9"/>
<path d="M633.6 954.5 v-3.0 M633.6 736 v3.0 M510.6 893.9 h3.0 M756.6 893.9 h-3.0 M510.6 833 h3.0 M756.6 833 h-3.0 M510.6 772.1 h3.0 M756.6 772.1 h-3.0 " stroke="#262626" stroke-width="0.9" fill="none"/>
<text x="502.9" y="964.2" font-size="25.4" text-anchor="end" font-weight="normal" fill="#231f20">2.35</text>
<text x="502.9" y="903.3" font-size="25.4" text-anchor="end" font-weight="normal" fill="#231f20">2.4</text>
<text x="502.9" y="842.4" font-size="25.4" text-anchor="end" font-weight="normal" fill="#231f20">2.45</text>
<text x="502.9" y="781.5" font-size="25.4" text-anchor="end" font-weight="normal" fill="#231f20">2.5</text>
<text x="510" y="986.1" font-size="25.4" text-anchor="middle" font-weight="normal" fill="#231f20">-0.5</text>
<text x="633" y="986.1" font-size="25.4" text-anchor="middle" font-weight="normal" fill="#231f20">0</text>
<text x="756" y="986.1" font-size="25.4" text-anchor="middle" font-weight="normal" fill="#231f20">0.5</text>
<text x="605.6" y="1020.6" font-size="25.4" fill="#231f20">k<tspan dx="10.7">/k</tspan><tspan dy="12.6" font-size="20.5">0</tspan></text>
<text transform="translate(618.4 1038.2) scale(1 1.24)" font-size="20.5" fill="#231f20">||</text>
<text transform="translate(444.7 845.2) rotate(-90)" font-size="25.0" text-anchor="middle" fill="#231f20">Energy (eV)</text>
<rect x="781.8" y="736" width="16.8" height="219.5" fill="url(#jetg)"/>
<rect x="781.8" y="736" width="16.8" height="219.5" fill="none" stroke="#3a3a3a" stroke-width="0.7"/>
<text x="804.9" y="745.3" font-size="25.4" text-anchor="start" font-weight="normal" fill="#231f20">0.9</text>
<path d="M798.6 784.8 h-2.6" stroke="#262626" stroke-width="0.8"/>
<text x="804.9" y="794.1" font-size="25.4" text-anchor="start" font-weight="normal" fill="#231f20">0.5</text>
<path d="M798.6 845.8 h-2.6" stroke="#262626" stroke-width="0.8"/>
<text x="804.9" y="855" font-size="25.4" text-anchor="start" font-weight="normal" fill="#231f20">0</text>
<path d="M798.6 906.7 h-2.6" stroke="#262626" stroke-width="0.8"/>
<text x="804.9" y="916" font-size="25.4" text-anchor="start" font-weight="normal" fill="#231f20">-0.5</text>
<text x="804.9" y="964.8" font-size="25.4" text-anchor="start" font-weight="normal" fill="#231f20">-0.9</text>
<text x="761.5" y="727" font-size="23" fill="#231f20"><tspan font-style="italic">ρ</tspan><tspan dy="9.2" dx="-0.5" font-size="20.5" stroke="#231f20" stroke-width="0.5">c</tspan></text>
<text x="428.6" y="747.5" font-size="41.5" text-anchor="start" font-weight="bold" fill="#000">(g)</text>
<linearGradient id="lg4" gradientUnits="userSpaceOnUse" x1="946.1" y1="0" x2="1177.7" y2="0"><stop offset="0.000" stop-color="#abd14c"/><stop offset="0.025" stop-color="#b5d43d"/><stop offset="0.050" stop-color="#c5da33"/><stop offset="0.075" stop-color="#ece81d"/><stop offset="0.100" stop-color="#f9dc15"/><stop offset="0.125" stop-color="#fbcd15"/><stop offset="0.150" stop-color="#fcbe14"/><stop offset="0.175" stop-color="#f9a619"/><stop offset="0.200" stop-color="#f7931d"/><stop offset="0.225" stop-color="#f6881e"/><stop offset="0.250" stop-color="#f68c1e"/><stop offset="0.275" stop-color="#fad015"/><stop offset="0.300" stop-color="#dde226"/><stop offset="0.325" stop-color="#c9db31"/><stop offset="0.350" stop-color="#b5d43d"/><stop offset="0.375" stop-color="#a9d14e"/><stop offset="0.400" stop-color="#a2cf5a"/><stop offset="0.425" stop-color="#9acd65"/><stop offset="0.450" stop-color="#92cb70"/><stop offset="0.475" stop-color="#8fca74"/><stop offset="0.500" stop-color="#8dc977"/><stop offset="0.525" stop-color="#8bc97a"/><stop offset="0.550" stop-color="#89c87e"/><stop offset="0.575" stop-color="#86c881"/><stop offset="0.600" stop-color="#84c784"/><stop offset="0.625" stop-color="#82c687"/><stop offset="0.650" stop-color="#7ec68d"/><stop offset="0.675" stop-color="#71c5a4"/><stop offset="0.700" stop-color="#46c2d6"/><stop offset="0.725" stop-color="#388dce"/><stop offset="0.750" stop-color="#385eae"/><stop offset="0.775" stop-color="#3452a7"/><stop offset="0.800" stop-color="#385dad"/><stop offset="0.825" stop-color="#3b79c0"/><stop offset="0.850" stop-color="#3987c9"/><stop offset="0.875" stop-color="#3696d5"/><stop offset="0.900" stop-color="#2fade4"/><stop offset="0.925" stop-color="#33c1e7"/><stop offset="0.950" stop-color="#5ac3c5"/><stop offset="0.975" stop-color="#6cc5ac"/><stop offset="1.000" stop-color="#7ac694"/></linearGradient><path d="M946.1 953.7 L967.6 923.2 L983.6 900.7 L996.4 883.1 L998.7 880.8 L1002.9 881.5 L1007.7 875.1 L1010.9 871.9 L1014.1 872.8 L1018.9 870.3 L1031.7 867.1 L1047.8 864.8 L1061.3 863.8 L1076.7 864.8 L1092.7 867.1 L1105.5 870.3 L1110.4 872.8 L1114.5 871.9 L1116.8 875.1 L1121.6 881.5 L1125.8 880.8 L1128.0 883.1 L1140.8 900.7 L1156.9 923.2 L1177.7 953.7" stroke="url(#lg4)" stroke-width="3.5" fill="none" stroke-linejoin="round" stroke-linecap="butt"/>
<linearGradient id="lg5" gradientUnits="userSpaceOnUse" x1="946.1" y1="0" x2="1177.7" y2="0"><stop offset="0.000" stop-color="#89c87e"/><stop offset="0.025" stop-color="#8ac97b"/><stop offset="0.050" stop-color="#8cc979"/><stop offset="0.075" stop-color="#8dc977"/><stop offset="0.100" stop-color="#8fca74"/><stop offset="0.125" stop-color="#90ca72"/><stop offset="0.150" stop-color="#92cb70"/><stop offset="0.175" stop-color="#94cb6e"/><stop offset="0.200" stop-color="#95cb6b"/><stop offset="0.225" stop-color="#b0d245"/><stop offset="0.250" stop-color="#dde226"/><stop offset="0.275" stop-color="#fbce15"/><stop offset="0.300" stop-color="#e51e24"/><stop offset="0.325" stop-color="#9b1a1d"/><stop offset="0.350" stop-color="#8f191c"/><stop offset="0.375" stop-color="#84181b"/><stop offset="0.400" stop-color="#c21c22"/><stop offset="0.425" stop-color="#da1d23"/><stop offset="0.450" stop-color="#ef4722"/><stop offset="0.475" stop-color="#fcbb15"/><stop offset="0.500" stop-color="#82c688"/><stop offset="0.525" stop-color="#3c79bf"/><stop offset="0.550" stop-color="#3049a2"/><stop offset="0.575" stop-color="#2d429e"/><stop offset="0.600" stop-color="#2b3c99"/><stop offset="0.625" stop-color="#282f88"/><stop offset="0.650" stop-color="#292e84"/><stop offset="0.675" stop-color="#282f87"/><stop offset="0.700" stop-color="#2d419e"/><stop offset="0.725" stop-color="#30ace3"/><stop offset="0.750" stop-color="#74c59e"/><stop offset="0.775" stop-color="#7dc690"/><stop offset="0.800" stop-color="#80c68a"/><stop offset="0.825" stop-color="#80c68a"/><stop offset="0.850" stop-color="#80c68a"/><stop offset="0.875" stop-color="#80c68a"/><stop offset="0.900" stop-color="#80c68a"/><stop offset="0.925" stop-color="#80c68a"/><stop offset="0.950" stop-color="#80c68a"/><stop offset="0.975" stop-color="#80c68a"/><stop offset="1.000" stop-color="#80c68a"/></linearGradient><path d="M946.1 859.0 L967.6 858.1 L983.6 856.5 L996.4 854.2 L1002.9 852.6 L1006.1 851.0 L1010.2 847.8 L1014.1 852.0 L1018.9 846.2 L1022.1 842.3 L1026.9 841.4 L1031.7 833.4 L1036.5 828.5 L1041.4 822.1 L1046.2 821.2 L1051.0 814.1 L1055.8 809.3 L1061.3 804.5 L1067.0 809.3 L1071.8 814.1 L1076.7 821.2 L1081.5 822.1 L1086.3 828.5 L1091.1 833.4 L1095.9 841.4 L1100.7 842.3 L1103.9 846.2 L1108.8 852.0 L1112.6 847.8 L1116.8 851.0 L1121.6 853.3 L1128.0 855.2 L1144.0 857.4 L1160.1 858.4 L1177.7 859.0" stroke="url(#lg5)" stroke-width="3.5" fill="none" stroke-linejoin="round" stroke-linecap="butt"/>
<linearGradient id="lg6" gradientUnits="userSpaceOnUse" x1="946.1" y1="0" x2="1177.7" y2="0"><stop offset="0.000" stop-color="#33a2dd"/><stop offset="0.025" stop-color="#3598d6"/><stop offset="0.050" stop-color="#378fcf"/><stop offset="0.075" stop-color="#3985c8"/><stop offset="0.100" stop-color="#3a7fc4"/><stop offset="0.125" stop-color="#3a81c5"/><stop offset="0.150" stop-color="#3a83c7"/><stop offset="0.175" stop-color="#3985c8"/><stop offset="0.200" stop-color="#3d6fb8"/><stop offset="0.225" stop-color="#375aac"/><stop offset="0.250" stop-color="#3049a2"/><stop offset="0.275" stop-color="#3048a2"/><stop offset="0.300" stop-color="#2f47a1"/><stop offset="0.325" stop-color="#2f46a0"/><stop offset="0.350" stop-color="#2f44a0"/><stop offset="0.375" stop-color="#2e439f"/><stop offset="0.400" stop-color="#2e429e"/><stop offset="0.425" stop-color="#2d419e"/><stop offset="0.450" stop-color="#3c67b3"/><stop offset="0.475" stop-color="#2abced"/><stop offset="0.500" stop-color="#88c87f"/><stop offset="0.525" stop-color="#f9e015"/><stop offset="0.550" stop-color="#f68c1e"/><stop offset="0.575" stop-color="#f26720"/><stop offset="0.600" stop-color="#ef4922"/><stop offset="0.625" stop-color="#ed2724"/><stop offset="0.650" stop-color="#db1d23"/><stop offset="0.675" stop-color="#de1d23"/><stop offset="0.700" stop-color="#e01d23"/><stop offset="0.725" stop-color="#ed2a24"/><stop offset="0.750" stop-color="#f26421"/><stop offset="0.775" stop-color="#f5801f"/><stop offset="0.800" stop-color="#f7901d"/><stop offset="0.825" stop-color="#f7971c"/><stop offset="0.850" stop-color="#f89a1b"/><stop offset="0.875" stop-color="#f89c1b"/><stop offset="0.900" stop-color="#f89e1a"/><stop offset="0.925" stop-color="#f8a01a"/><stop offset="0.950" stop-color="#f9a319"/><stop offset="0.975" stop-color="#f9a619"/><stop offset="1.000" stop-color="#fbc914"/></linearGradient><path d="M946.1 752.2 L949.9 746.1 L986.8 746.1 L990.0 750.9 L998.0 750.9 L1001.3 755.7 L1006.1 756.3 L1009.3 761.2 L1014.1 761.8 L1017.3 766.0 L1022.1 766.6 L1028.5 774.0 L1033.3 777.2 L1038.2 780.4 L1042.0 785.2 L1046.2 786.8 L1051.0 791.6 L1055.8 796.5 L1061.3 799.0 L1065.4 797.4 L1068.6 796.5 L1071.8 791.6 L1076.7 786.8 L1081.5 785.9 L1084.7 782.0 L1089.5 777.2 L1094.3 776.2 L1097.5 772.4 L1102.3 767.6 L1105.5 766.0 L1110.4 761.8 L1114.5 761.2 L1117.7 756.3 L1123.2 755.7 L1126.4 750.9 L1134.4 750.9 L1137.6 746.1 L1174.5 746.1 L1177.7 752.2" stroke="url(#lg6)" stroke-width="3.5" fill="none" stroke-linejoin="round" stroke-linecap="butt"/>
<rect x="939.4" y="736" width="245.7" height="218.5" fill="none" stroke="#262626" stroke-width="0.9"/>
<path d="M1062.3 954.5 v-3.0 M1062.3 736 v3.0 M939.4 893.9 h3.0 M1185.1 893.9 h-3.0 M939.4 833 h3.0 M1185.1 833 h-3.0 M939.4 772.1 h3.0 M1185.1 772.1 h-3.0 " stroke="#262626" stroke-width="0.9" fill="none"/>
<text x="932.2" y="964.2" font-size="25.4" text-anchor="end" font-weight="normal" fill="#231f20">2.35</text>
<text x="932.2" y="903.3" font-size="25.4" text-anchor="end" font-weight="normal" fill="#231f20">2.4</text>
<text x="932.2" y="842.4" font-size="25.4" text-anchor="end" font-weight="normal" fill="#231f20">2.45</text>
<text x="932.2" y="781.5" font-size="25.4" text-anchor="end" font-weight="normal" fill="#231f20">2.5</text>
<text x="939.4" y="986.1" font-size="25.4" text-anchor="middle" font-weight="normal" fill="#231f20">-0.5</text>
<text x="1062.4" y="986.1" font-size="25.4" text-anchor="middle" font-weight="normal" fill="#231f20">0</text>
<text x="1185.4" y="986.1" font-size="25.4" text-anchor="middle" font-weight="normal" fill="#231f20">0.5</text>
<text x="1035" y="1020.6" font-size="25.4" fill="#231f20">k<tspan dy="10.5" font-size="20.5">y</tspan><tspan dy="-10.5">/k</tspan><tspan dy="12.6" font-size="20.5">0</tspan></text>
<text transform="translate(873.6 845.2) rotate(-90)" font-size="25.0" text-anchor="middle" fill="#231f20">Energy (eV)</text>
<rect x="1210.6" y="736" width="17" height="219.5" fill="url(#jetg)"/>
<rect x="1210.6" y="736" width="17" height="219.5" fill="none" stroke="#3a3a3a" stroke-width="0.7"/>
<text x="1234.5" y="745.3" font-size="25.4" text-anchor="start" font-weight="normal" fill="#231f20">0.9</text>
<path d="M1227.6 784.8 h-2.6" stroke="#262626" stroke-width="0.8"/>
<text x="1234.5" y="794.1" font-size="25.4" text-anchor="start" font-weight="normal" fill="#231f20">0.5</text>
<path d="M1227.6 845.8 h-2.6" stroke="#262626" stroke-width="0.8"/>
<text x="1234.5" y="855" font-size="25.4" text-anchor="start" font-weight="normal" fill="#231f20">0</text>
<path d="M1227.6 906.7 h-2.6" stroke="#262626" stroke-width="0.8"/>
<text x="1234.5" y="916" font-size="25.4" text-anchor="start" font-weight="normal" fill="#231f20">-0.5</text>
<text x="1234.5" y="964.8" font-size="25.4" text-anchor="start" font-weight="normal" fill="#231f20">-0.9</text>
<text x="1186.5" y="727" font-size="23" fill="#231f20"><tspan font-style="italic">ρ</tspan><tspan dy="9.2" dx="-0.5" font-size="20.5" stroke="#231f20" stroke-width="0.5">c</tspan></text>
<text x="847" y="746" font-size="41.5" text-anchor="start" font-weight="bold" fill="#000">(h)</text>
<circle cx="958.5" cy="759" r="9.6" fill="#fff" stroke="#000" stroke-width="2.3"/><text x="958.5" y="765" font-size="17" text-anchor="middle" fill="#000" stroke="#000" stroke-width="0.35">3</text>
<circle cx="955.2" cy="847.8" r="9.6" fill="#fff" stroke="#000" stroke-width="2.3"/><text x="955.2" y="853.8" font-size="17" text-anchor="middle" fill="#000" stroke="#000" stroke-width="0.35">2</text>
<circle cx="956.2" cy="918" r="9.6" fill="#fff" stroke="#000" stroke-width="2.3"/><text x="956.2" y="924" font-size="17" text-anchor="middle" fill="#000" stroke="#000" stroke-width="0.35">1</text>
<clipPath id="clipi"><rect x="1377" y="735" width="296" height="216.5"/></clipPath><g clip-path="url(#clipi)">
<path d="M1386.3 823.8 L1390.5 833.6 L1398.7 823.8 L1406.8 807.5 L1411.7 805.9 L1418.2 814.0 L1426.4 823.8 L1431.2 825.4 L1434.5 823.1 L1438.7 805.9 L1442.6 823.1 L1447.5 822.1 L1452.4 810.7 L1457.3 814.0 L1462.2 803.6 L1467.1 808.1 L1472.0 801.0 L1476.8 804.2 L1481.7 802.6 L1485.6 789.6 L1490.8 801.6 L1496.4 801.0 L1500.6 791.2 L1506.2 804.2 L1511.0 812.4 L1515.9 812.4 L1520.8 818.9 L1524.1 819.5" stroke="#3a53a4" stroke-width="3.4" fill="none" stroke-linejoin="round"/>
<path d="M1524.1 946.9 L1530.6 949.5 L1535.5 948.2 L1540.4 949.5 L1545.2 947.6 L1550.1 942.7 L1555.0 943.6 L1559.9 941.0 L1564.8 934.5 L1569.7 929.6 L1574.6 924.8 L1578.1 916.6 L1582.1 888.9 L1586.0 856.4 L1590.8 831.9 L1595.1 828.7 L1599.0 831.9 L1603.9 825.4 L1608.8 828.7 L1613.6 840.1 L1618.5 845.0 L1625.0 835.2 L1631.6 820.5 L1638.1 809.1 L1644.6 810.7 L1649.5 825.4 L1654.4 823.8 L1658.3 810.7 L1663.2 784.7" stroke="#3a53a4" stroke-width="3.4" fill="none" stroke-linejoin="round"/>
<path d="M1524.1 759.3 L1529.0 748.9 L1533.8 739.1 L1538.7 748.9 L1543.6 735.2 L1548.5 758.6 L1553.4 735.2 L1558.3 759.3 L1563.2 759.3 L1568.0 748.9 L1572.9 744.0 L1577.5 781.4 L1581.1 830.3 L1584.7 875.9 L1589.2 905.2 L1595.1 928.0 L1600.6 939.4 L1608.8 945.9 L1618.5 949.2 L1628.3 948.2 L1638.1 945.9 L1651.1 944.3 L1659.3 942.7 L1663.2 940.4" stroke="#3a53a4" stroke-width="3.4" fill="none" stroke-linejoin="round"/>
<path d="M1386.3 784.7 L1390.5 810.7 L1395.4 825.4 L1400.3 814.0 L1404.2 809.1 L1410.1 807.5 L1416.6 820.5 L1423.1 835.2 L1429.6 843.3 L1434.5 840.1 L1439.4 828.7 L1444.3 825.4 L1448.5 831.9 L1453.1 827.0 L1457.3 831.9 L1461.5 856.4 L1464.8 888.9 L1468.7 908.5 L1472.6 921.5 L1478.5 928.0 L1483.4 932.9 L1488.2 941.0 L1493.1 942.7 L1498.0 946.6 L1502.9 947.6 L1507.8 948.9 L1512.7 947.6 L1517.6 949.5 L1524.1 946.9" stroke="#ee1c25" stroke-width="3.4" fill="none" stroke-linejoin="round"/>
<path d="M1386.3 941.0 L1392.1 944.3 L1400.3 945.0 L1410.1 945.9 L1419.8 948.2 L1429.6 949.2 L1439.4 945.9 L1447.5 939.4 L1452.4 928.0 L1458.3 905.2 L1462.8 875.9 L1466.4 830.3 L1470.0 781.4 L1475.2 744.0 L1480.1 748.9 L1485.0 759.3 L1490.8 759.3 L1494.8 735.8 L1499.6 758.6 L1504.5 737.5 L1509.4 748.9 L1514.3 739.1 L1519.2 748.9 L1524.1 759.3" stroke="#ee1c25" stroke-width="3.4" fill="none" stroke-linejoin="round"/>
<path d="M1524.1 819.5 L1529.0 818.9 L1533.8 812.4 L1538.7 812.4 L1543.6 804.2 L1548.5 791.2 L1553.4 801.0 L1558.3 801.6 L1563.2 789.6 L1568.0 802.6 L1572.9 804.2 L1577.8 801.0 L1582.7 808.1 L1587.6 803.6 L1592.5 814.0 L1596.7 810.7 L1601.6 822.1 L1605.5 823.1 L1610.4 805.9 L1614.6 823.1 L1617.9 825.4 L1623.4 823.8 L1631.6 814.0 L1637.4 805.9 L1643.0 807.5 L1651.1 823.8 L1659.3 833.6 L1663.2 823.8" stroke="#ee1c25" stroke-width="3.4" fill="none" stroke-linejoin="round"/>
</g>
<rect x="1377.5" y="735.2" width="295.4" height="215.6" fill="none" stroke="#262626" stroke-width="0.9"/>
<path d="M1524.3 950.8 v-3.0 M1524.3 735.2 v3.0 M1377.5 855.3 h3.0 M1672.9 855.3 h-3.0 M1377.5 759.7 h3.0 M1672.9 759.7 h-3.0 " stroke="#262626" stroke-width="0.9" fill="none"/>
<text x="1368.5" y="960.2" font-size="25.4" text-anchor="end" font-weight="normal" fill="#231f20">0</text>
<text x="1368.5" y="864.7" font-size="25.4" text-anchor="end" font-weight="normal" fill="#231f20">0.5</text>
<text x="1368.5" y="769.1" font-size="25.4" text-anchor="end" font-weight="normal" fill="#231f20">1</text>
<text x="1376" y="983.6" font-size="25.4" text-anchor="middle" font-weight="normal" fill="#231f20">-0.5</text>
<text x="1524" y="983.6" font-size="25.4" text-anchor="middle" font-weight="normal" fill="#231f20">0</text>
<text x="1671.6" y="983.6" font-size="25.4" text-anchor="middle" font-weight="normal" fill="#231f20">0.5</text>
<text x="1496.3" y="1023" font-size="25.4" fill="#231f20">k<tspan dx="10.7">/k</tspan><tspan dy="12.6" font-size="20.5">0</tspan></text>
<text transform="translate(1509.1 1040.6) scale(1 1.24)" font-size="20.5" fill="#231f20">||</text>
<circle cx="1421.3" cy="856.6" r="9.6" fill="#fff" stroke="#000" stroke-width="2.3"/><text x="1421.3" y="862.6" font-size="17" text-anchor="middle" fill="#000" stroke="#000" stroke-width="0.35">1</text>
<circle cx="1438.3" cy="792.5" r="9.6" fill="#fff" stroke="#000" stroke-width="2.3"/><text x="1438.3" y="798.5" font-size="17" text-anchor="middle" fill="#000" stroke="#000" stroke-width="0.35">3</text>
<circle cx="1406.2" cy="932" r="9.6" fill="#fff" stroke="#000" stroke-width="2.3"/><text x="1406.2" y="938" font-size="17" text-anchor="middle" fill="#000" stroke="#000" stroke-width="0.35">2</text>
<text transform="translate(1313 842.5) rotate(-90)" font-size="25.5" text-anchor="middle" fill="#231f20"><tspan font-style="italic">ρ</tspan><tspan dy="10" dx="-1" font-size="20">c</tspan><tspan dy="-23.6" dx="-8.5" font-size="20">EP</tspan><tspan dy="13.6" dx="1">/</tspan><tspan font-style="italic">ρ</tspan><tspan dy="10" dx="-1" font-size="20">c</tspan><tspan dy="-23.6" dx="-9.5" font-size="20">P</tspan></text>
<text x="1296.9" y="748" font-size="41.5" text-anchor="start" font-weight="bold" fill="#000">(i)</text>
</svg></body></html>
